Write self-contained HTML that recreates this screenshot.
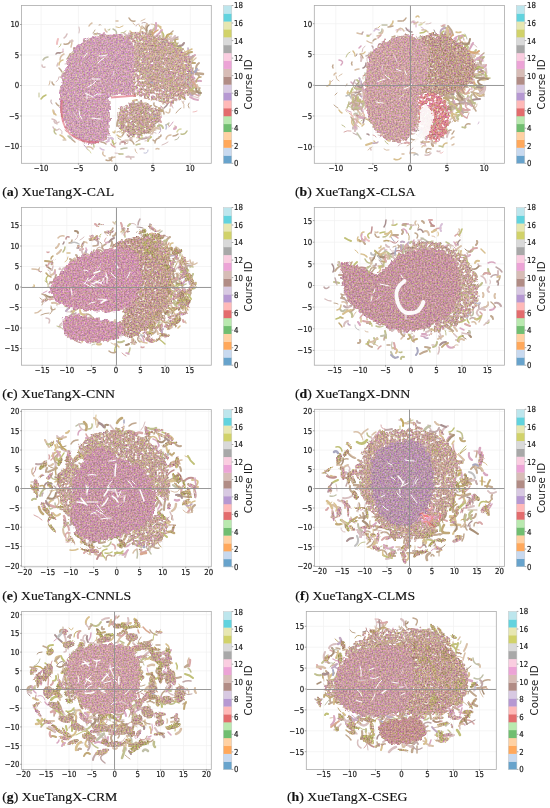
<!DOCTYPE html><html><head><meta charset="utf-8"><title>t-SNE XueTangX</title><style>html,body{margin:0;padding:0;background:#fff;width:550px;height:808px;overflow:hidden}svg{display:block}.t{font-family:"DejaVu Sans","Liberation Sans",sans-serif;font-size:7px;fill:#1a1a1a;stroke:#1a1a1a;stroke-width:0.18px}.cl{font-family:"DejaVu Sans","Liberation Sans",sans-serif;font-size:10.3px;fill:#1a1a1a}.cap{font-family:"Liberation Serif","DejaVu Serif",serif;font-size:13.2px;fill:#111;stroke:#111;stroke-width:0.15px}</style></head><body>
<svg width="550" height="808" viewBox="0 0 550 808">
<defs><filter id="dsp" filterUnits="userSpaceOnUse" x="0" y="0" width="550" height="808"><feTurbulence type="fractalNoise" baseFrequency="0.3" numOctaves="2" seed="5" result="dn"/><feDisplacementMap in="SourceGraphic" in2="dn" scale="5" xChannelSelector="R" yChannelSelector="G" result="d"/><feGaussianBlur in="d" stdDeviation="0.4"/></filter><filter id="tx" color-interpolation-filters="sRGB" filterUnits="userSpaceOnUse" x="0" y="0" width="550" height="808">
<feTurbulence type="fractalNoise" baseFrequency="0.22" numOctaves="2" seed="104" result="dn"/>
<feDisplacementMap in="SourceGraphic" in2="dn" scale="7" xChannelSelector="R" yChannelSelector="G" result="shp"/>
<feTurbulence type="fractalNoise" baseFrequency="0.618" numOctaves="2" seed="4" result="n"/>
<feColorMatrix in="n" type="matrix" values="0.9 0.2 0.3 0 -0.2 0.9 0.5 -0.5 0 0.05 0.9 -0.6 0.5 0 0.1 0 0 0 0 1" result="no"/>
<feColorMatrix in="shp" type="matrix" values="1 0 0 0 0 0 1 0 0 0 0 0 1 0 0 0 0 0 0 1" result="shpO"/>
<feComposite in="shpO" in2="no" operator="arithmetic" k1="0" k2="1" k3="0.45" k4="-0.225" result="m"/>
<feTurbulence type="fractalNoise" baseFrequency="0.5373" numOctaves="1" seed="54" result="n2"/>
<feComponentTransfer in="n2" result="msk"><feFuncA type="linear" slope="6" intercept="-0.5"/></feComponentTransfer>
<feComposite in="m" in2="msk" operator="in" result="m2"/>
<feComposite in="m2" in2="shp" operator="in" result="m3"/>
<feGaussianBlur in="m3" stdDeviation="0.3"/>
</filter><filter id="tx2" color-interpolation-filters="sRGB" filterUnits="userSpaceOnUse" x="0" y="0" width="550" height="808">
<feTurbulence type="fractalNoise" baseFrequency="0.22" numOctaves="2" seed="109" result="dn"/>
<feDisplacementMap in="SourceGraphic" in2="dn" scale="7" xChannelSelector="R" yChannelSelector="G" result="shp"/>
<feTurbulence type="fractalNoise" baseFrequency="0.618" numOctaves="2" seed="9" result="n"/>
<feColorMatrix in="n" type="matrix" values="0.9 0.2 0.3 0 -0.2 0.9 0.5 -0.5 0 0.05 0.9 -0.6 0.5 0 0.1 0 0 0 0 1" result="no"/>
<feColorMatrix in="shp" type="matrix" values="1 0 0 0 0 0 1 0 0 0 0 0 1 0 0 0 0 0 0 1" result="shpO"/>
<feComposite in="shpO" in2="no" operator="arithmetic" k1="0" k2="1" k3="0.5" k4="-0.25" result="m"/>
<feTurbulence type="fractalNoise" baseFrequency="0.4142" numOctaves="1" seed="59" result="n2"/>
<feComponentTransfer in="n2" result="msk"><feFuncA type="linear" slope="6" intercept="-1.9"/></feComponentTransfer>
<feComposite in="m" in2="msk" operator="in" result="m2"/>
<feComposite in="m2" in2="shp" operator="in" result="m3"/>
<feGaussianBlur in="m3" stdDeviation="0.3"/>
</filter><filter id="tx4" color-interpolation-filters="sRGB" filterUnits="userSpaceOnUse" x="0" y="0" width="550" height="808">
<feTurbulence type="fractalNoise" baseFrequency="0.22" numOctaves="2" seed="117" result="dn"/>
<feDisplacementMap in="SourceGraphic" in2="dn" scale="7" xChannelSelector="R" yChannelSelector="G" result="shp"/>
<feTurbulence type="fractalNoise" baseFrequency="0.618" numOctaves="2" seed="17" result="n"/>
<feColorMatrix in="n" type="matrix" values="0.9 0.2 0.3 0 -0.2 0.9 0.5 -0.5 0 0.05 0.9 -0.6 0.5 0 0.1 0 0 0 0 1" result="no"/>
<feColorMatrix in="shp" type="matrix" values="1 0 0 0 0 0 1 0 0 0 0 0 1 0 0 0 0 0 0 1" result="shpO"/>
<feComposite in="shpO" in2="no" operator="arithmetic" k1="0" k2="1" k3="0.55" k4="-0.275" result="m"/>
<feTurbulence type="fractalNoise" baseFrequency="0.4142" numOctaves="1" seed="67" result="n2"/>
<feComponentTransfer in="n2" result="msk"><feFuncA type="linear" slope="6" intercept="-1.35"/></feComponentTransfer>
<feComposite in="m" in2="msk" operator="in" result="m2"/>
<feComposite in="m2" in2="shp" operator="in" result="m3"/>
<feGaussianBlur in="m3" stdDeviation="0.3"/>
</filter><filter id="tx3" color-interpolation-filters="sRGB" filterUnits="userSpaceOnUse" x="0" y="0" width="550" height="808">
<feTurbulence type="fractalNoise" baseFrequency="0.3" numOctaves="2" seed="113" result="dn"/>
<feDisplacementMap in="SourceGraphic" in2="dn" scale="2.5" xChannelSelector="R" yChannelSelector="G" result="shp"/>
<feTurbulence type="fractalNoise" baseFrequency="0.618" numOctaves="2" seed="13" result="n"/>
<feColorMatrix in="n" type="matrix" values="0.9 0.2 0.3 0 -0.2 0.9 0.5 -0.5 0 0.05 0.9 -0.6 0.5 0 0.1 0 0 0 0 1" result="no"/>
<feColorMatrix in="shp" type="matrix" values="1 0 0 0 0 0 1 0 0 0 0 0 1 0 0 0 0 0 0 1" result="shpO"/>
<feComposite in="shpO" in2="no" operator="arithmetic" k1="0" k2="1" k3="0.5" k4="-0.25" result="m"/>
<feTurbulence type="fractalNoise" baseFrequency="0.4142" numOctaves="1" seed="63" result="n2"/>
<feComponentTransfer in="n2" result="msk"><feFuncA type="linear" slope="6" intercept="-1.0"/></feComponentTransfer>
<feComposite in="m" in2="msk" operator="in" result="m2"/>
<feComposite in="m2" in2="shp" operator="in" result="m3"/>
<feGaussianBlur in="m3" stdDeviation="0.3"/>
</filter></defs>
<line x1="41.1" y1="5.5" x2="41.1" y2="163.3" stroke="#f0f0f0" stroke-width="0.7"/>
<line x1="78.4" y1="5.5" x2="78.4" y2="163.3" stroke="#f0f0f0" stroke-width="0.7"/>
<line x1="115.7" y1="5.5" x2="115.7" y2="163.3" stroke="#f0f0f0" stroke-width="0.7"/>
<line x1="153.0" y1="5.5" x2="153.0" y2="163.3" stroke="#f0f0f0" stroke-width="0.7"/>
<line x1="190.3" y1="5.5" x2="190.3" y2="163.3" stroke="#f0f0f0" stroke-width="0.7"/>
<line x1="21.5" y1="146.5" x2="211.3" y2="146.5" stroke="#f0f0f0" stroke-width="0.7"/>
<line x1="21.5" y1="116.0" x2="211.3" y2="116.0" stroke="#f0f0f0" stroke-width="0.7"/>
<line x1="21.5" y1="85.5" x2="211.3" y2="85.5" stroke="#f0f0f0" stroke-width="0.7"/>
<line x1="21.5" y1="55.0" x2="211.3" y2="55.0" stroke="#f0f0f0" stroke-width="0.7"/>
<line x1="21.5" y1="24.5" x2="211.3" y2="24.5" stroke="#f0f0f0" stroke-width="0.7"/>
<path stroke="#d8c0a8" stroke-width="1.5" stroke-linecap="round" fill="none" d="M171 135q-4 0 -5 4M132 138q-1 -1 -2 0M149 37q1 -2 3 -1M93 149q-2 -3 -6 -2M105 29q0 2 2 3M60 60q0 -4 4 -6M86 48q-1 -5 5 -5M160 129q-2 0 -4 -1M177 68q2 0 4 -1M105 156q-3 -1 -2 -4M168 48q4 -1 7 0M151 123q0 1 0 3M69 97q0 -1 -2 -1M135 47q1 1 3 0M159 149q-2 -1 -3 0M163 92q5 0 3 4M170 109q0 6 -4 3M116 21q1 0 2 0M73 75q1 -1 1 -2M101 138q-3 -2 -1 -5M161 66q2 0 3 3M85 124q0 -2 -1 -3M69 79q2 -3 5 -4M84 130q-3 -1 -6 1M94 124q-3 -2 -6 -3M112 161q-2 -1 -3 -3M115 157q-3 1 -6 1M89 26q1 -2 3 -3M162 102q1 1 1 2M161 114q-3 0 -4 3M175 126q1 2 -1 2M71 47q1 -3 1 -7"/><path stroke="#c0a890" stroke-width="1.0" stroke-linecap="round" fill="none" d="M156 110q-1 3 2 5M93 33q1 -1 2 -3M170 76q1 3 3 6M163 74q0 3 2 5M128 143q-2 2 -3 -1M99 25q2 -1 2 0M66 140q-2 0 -3 0M143 46q1 1 3 0M189 103q-2 2 0 5M188 64q4 5 -3 5M68 73q2 -1 3 -4M116 143q-3 2 -4 -1M153 128q-1 2 -3 2M142 139q-3 1 -6 3M161 106q4 3 1 6M98 137q-2 0 -4 1M120 132q-1 -1 -3 0M176 98q-1 2 0 3M92 40q2 -2 4 -1M107 135q-2 2 -3 4M70 54q3 -1 4 -4M121 140q-2 -1 -3 -2M186 53q1 3 5 4M168 40q3 -2 6 0M90 134q-1 6 -6 1M163 96q0 2 0 4M181 108q-3 2 -5 5M75 51q0 -1 2 0M168 124q1 1 1 2M80 57q1 0 2 -1M132 131q-1 1 -3 0M57 53q3 0 6 -1"/><path stroke="#d8c0c0" stroke-width="1.5" stroke-linecap="round" fill="none" d="M134 157q-4 0 -7 0M132 140q-1 -1 -2 -2M193 84q0 2 1 2M138 37q3 1 5 1M65 88q0 -2 -2 -3M70 123q0 -2 0 -4M168 88q-2 1 -3 3M87 121q0 -2 -2 -1M143 36q1 2 3 1M135 132q-3 0 -6 2M68 91q2 -1 0 -3M158 110q1 3 -2 4M64 38q2 -1 3 -4M126 37q3 -1 3 -4M45 67q-3 1 -3 -2M59 129q-4 3 -6 -2M88 129q0 -1 -1 -2M168 85q3 2 1 5M57 124q0 -4 -5 -5M163 110q-2 2 -4 3M63 80q0 -3 -3 -3M81 123q-1 0 -2 -1M144 149q-2 -1 -4 0M74 114q-3 -1 -4 -4M70 41q1 0 3 0M131 159q-1 -4 -5 -2M83 129q-3 -1 -7 -2M168 55q1 2 0 4M57 66q0 -1 1 -3M65 103q-2 1 -3 -1M128 141q-3 0 -5 0M59 122q-4 3 -5 -1M194 74q-3 3 1 5M55 114q-1 -1 -1 -3M93 132q-3 -1 -4 1"/><path stroke="#d8c090" stroke-width="1.5" stroke-linecap="round" fill="none" d="M167 95q-1 3 0 6M139 47q1 3 4 4M65 139q-2 -3 -5 -4M93 51q3 0 5 1M180 73q0 2 0 4M88 137q-1 -1 -1 -2M138 35q1 -4 5 -3M130 31q1 1 3 3M116 39q3 -2 5 -2M121 137q-2 0 -4 -2M158 26q2 0 3 1M59 65q0 -4 4 -5M158 25q2 2 3 4M148 124q-3 -1 -7 1M54 114q-1 -2 -1 -4M130 44q1 6 6 3M56 115q-1 -1 -2 -2M128 131q-3 0 -6 2M115 131q0 3 -2 1M146 35q1 4 -2 6"/><path stroke="#c0c0a8" stroke-width="1.5" stroke-linecap="round" fill="none" d="M83 126q-3 0 -3 -3M169 123q-1 1 -3 2M163 95q-3 4 0 7M172 81q4 -1 4 3M113 29q5 2 3 6M127 148q-3 0 -6 1M78 112q-1 -1 -1 -3M138 129q-5 -1 -4 4M157 120q-2 -4 -5 -1M43 60q2 -3 5 -3"/><path stroke="#d8c0a8" stroke-width="1.0" stroke-linecap="round" fill="none" d="M182 101q3 3 2 7M183 49q2 1 2 3M161 30q-1 1 0 2M151 24q2 0 4 1M139 41q3 -2 6 0M137 153q-2 -1 -2 -4M167 79q-2 1 -1 2M68 72q1 -2 1 -3M78 117q-1 -1 0 -2M136 44q2 1 3 2M74 62q1 -3 0 -5M133 23q0 1 2 2M141 21q2 -1 4 -2M67 119q-2 -1 -5 -1M49 85q1 -2 1 -4M80 76q-1 -3 -3 -6M131 140q-3 0 -6 0"/><path stroke="#d8c0c0" stroke-width="2.0" stroke-linecap="round" fill="none" d="M124 33q3 4 7 2M123 142q-2 -1 -3 2M170 46q1 3 3 4"/><path stroke="#c0c078" stroke-width="1.5" stroke-linecap="round" fill="none" d="M114 145q-1 -3 -2 -6M174 83q-1 1 -1 2M129 41q-2 4 3 4M41 99q2 -3 5 -4M132 130q-1 0 -2 1M143 138q-2 0 -4 1"/><path stroke="#d8a8c0" stroke-width="1.5" stroke-linecap="round" fill="none" d="M166 95q2 0 2 2M109 141q-2 1 -3 1M84 54q-4 -2 -1 -5M161 107q-1 3 -3 6M147 122q-2 1 -2 3M69 126q0 -3 -2 -5M103 38q2 2 5 0"/><path stroke="#d8c0c0" stroke-width="1.0" stroke-linecap="round" fill="none" d="M120 154q-2 -1 -5 -1M136 26q0 -2 3 -2M151 46q1 1 3 1M79 70q1 -1 2 -3M158 126q-3 1 -2 4M168 142q-3 2 -6 3M87 54q4 0 4 -4M184 101q0 1 -1 2M146 137q-3 2 -7 3M169 96q-1 2 -3 4M168 101q4 1 2 5M171 84q0 2 -2 3M62 134q1 -3 -2 -5M171 102q1 4 2 6M77 62q3 -2 6 -1M135 134q0 -7 -6 -4M108 40q3 3 5 5M56 82q3 -2 3 -5M81 130q0 -2 -1 -3M65 64q2 0 4 -1M195 83q3 3 2 6M79 33q1 -3 0 -6"/><path stroke="#c0a8a8" stroke-width="1.0" stroke-linecap="round" fill="none" d="M105 38q2 0 4 -1M142 23q4 -2 6 2M52 104q-2 -2 -1 -4M113 40q1 0 2 -1M156 122q-1 3 -4 5"/><path stroke="#d8d8a8" stroke-width="1.5" stroke-linecap="round" fill="none" d="M181 129q-3 0 -4 3M94 38q4 1 7 -1M73 76q2 -1 1 -3M97 140q0 -3 0 -6M78 107q0 -1 0 -3"/><path stroke="#c0a890" stroke-width="1.5" stroke-linecap="round" fill="none" d="M161 135q0 2 -2 2M135 37q2 -1 3 0M160 109q4 1 4 5M159 138q-4 1 -4 5M134 144q-1 -3 -4 -4M155 141q-1 0 -2 -1M71 107q-2 -2 -4 -1M76 51q2 0 4 -1M54 85q-2 -1 -2 -3M80 60q2 -1 4 -3M71 55q3 0 5 -2M65 117q-4 -1 -3 -5M153 53q3 2 3 6M112 157q-1 5 -6 3M129 18q2 4 6 3M180 62q3 0 3 4M84 123q0 -3 -1 -5M87 133q-1 0 -1 -1M67 59q2 -2 3 -5M178 134q-2 2 -5 2M75 142q-3 -2 -5 -5M62 72q-1 -2 -3 -4M67 89q-4 0 -5 -3M132 135q-1 -4 -5 -4M164 44q2 2 2 5M88 57q0 -2 1 -2M99 132q-1 0 -3 1M74 66q4 0 5 -4M59 106q-2 -1 -3 -3M177 68q2 2 4 0M151 46q1 3 -2 3M147 54q3 -3 6 0M106 144q-2 -2 -5 -2M64 44q4 1 6 -2"/><path stroke="#a89090" stroke-width="1.5" stroke-linecap="round" fill="none" d="M168 103q-1 3 -4 5M56 54q1 -2 4 -1"/><path stroke="#d8a8c0" stroke-width="1.0" stroke-linecap="round" fill="none" d="M117 36q1 1 2 3M109 38q3 2 0 5M156 40q1 1 2 2M173 122q-2 3 -4 5M63 52q0 -1 0 -3"/><path stroke="#c0a8a8" stroke-width="1.5" stroke-linecap="round" fill="none" d="M75 69q3 -1 6 -1M179 77q0 3 -2 4M147 40q0 2 2 4M94 34q3 -1 6 0M87 138q-4 -1 -6 -4M84 118q2 -2 4 -5M171 64q3 2 6 4M134 34q1 0 2 0M180 82q-2 6 4 4M152 57q2 2 3 5"/><path stroke="#c0c090" stroke-width="1.5" stroke-linecap="round" fill="none" d="M140 144q-2 0 -4 1M113 40q2 -2 3 0M163 36q0 3 2 5M157 60q-1 3 1 6M198 88q3 3 2 7M130 39q2 -2 3 -3M155 26q1 1 2 0M56 134q-3 -2 -1 -5M94 147q0 -3 -2 -5M164 81q0 2 0 4M82 54q0 -2 2 -3M117 40q1 1 1 -1M174 38q1 3 2 5M164 92q2 0 2 2M70 138q-1 -1 -2 -2M187 131q-2 4 -6 3M123 154q-2 0 -4 0M165 68q3 2 6 5"/><path stroke="#c0a8c0" stroke-width="1.0" stroke-linecap="round" fill="none" d="M88 150q-2 -3 -4 -5"/><path stroke="#c0c078" stroke-width="1.0" stroke-linecap="round" fill="none" d="M96 130q-5 -2 -2 -5M192 68q0 1 1 2M62 89q0 -2 1 -3M79 107q-1 -2 0 -5"/><path stroke="#c0c090" stroke-width="1.0" stroke-linecap="round" fill="none" d="M39 97q0 -2 0 -4M121 33q3 0 5 -2M157 64q1 1 2 2M99 129q-2 0 -2 -2M75 87q-1 -2 -2 -3M108 30q2 1 2 -1M180 71q1 2 0 3M74 88q1 -3 2 -6M137 133q-2 -1 -4 1M94 33q1 2 3 2M148 54q2 -1 3 1M59 47q2 -1 2 -3M163 81q1 1 2 2M157 63q1 2 2 4"/><path stroke="#c0a8c0" stroke-width="1.5" stroke-linecap="round" fill="none" d="M188 48q0 4 1 7M199 92q-1 1 0 3M143 127q-3 1 -6 3M120 44q1 -2 2 -3"/><path stroke="#d8c090" stroke-width="1.0" stroke-linecap="round" fill="none" d="M95 35q1 -1 2 -2M123 133q-1 -1 -3 -2M166 72q-2 2 -4 4M140 129q-3 1 -5 0M153 56q-2 2 -1 5M116 27q3 2 7 -1M146 52q1 0 2 1M139 25q1 3 4 4"/><path stroke="#d8c0d8" stroke-width="1.5" stroke-linecap="round" fill="none" d="M104 150q-2 0 -4 -2M99 135q-2 -1 -2 -4M169 94q-1 2 -3 3"/><path stroke="#c09090" stroke-width="1.0" stroke-linecap="round" fill="none" d="M164 62q-5 2 -2 6M154 122q0 1 -2 1"/><path stroke="#c09090" stroke-width="1.5" stroke-linecap="round" fill="none" d="M165 74q2 3 -2 5M125 144q0 -3 -3 -2M135 133q-3 0 -3 -3M159 48q1 2 3 3"/><path stroke="#d8a8c0" stroke-width="2.0" stroke-linecap="round" fill="none" d="M176 127q0 2 -2 2"/><path stroke="#d8c0a8" stroke-width="2.0" stroke-linecap="round" fill="none" d="M172 82q2 3 5 4M83 112q-2 0 -3 -1M67 112q-3 -1 -1 -4"/><path stroke="#c0c0a8" stroke-width="1.0" stroke-linecap="round" fill="none" d="M151 46q1 2 3 1M80 108q-1 -2 -1 -3M179 137q-1 3 -4 3M176 86q1 4 -1 7"/><path stroke="#f0c0c0" stroke-width="1.0" stroke-linecap="round" fill="none" d="M105 37q3 -2 6 -2M197 111q-2 1 -4 1"/><path stroke="#f0c0c0" stroke-width="2.0" stroke-linecap="round" fill="none" d="M57 44q0 -2 1 -5"/><path stroke="#d8a8a8" stroke-width="1.5" stroke-linecap="round" fill="none" d="M124 37q-1 2 -2 4M115 147q-3 -1 -4 -3M174 100q-4 2 -3 6"/><path stroke="#a89090" stroke-width="1.0" stroke-linecap="round" fill="none" d="M161 116q-1 1 -2 2"/><path stroke="#c0c078" stroke-width="2.0" stroke-linecap="round" fill="none" d="M151 137q-3 1 -3 4"/><path stroke="#d8a8a8" stroke-width="1.0" stroke-linecap="round" fill="none" d="M67 132q-1 0 -2 -2"/><path stroke="#d8d8a8" stroke-width="1.0" stroke-linecap="round" fill="none" d="M61 77q1 -4 3 -6M91 153q-1 -3 -4 -4"/><path stroke="#c0c0d8" stroke-width="1.5" stroke-linecap="round" fill="none" d="M166 125q1 2 0 4"/><path stroke="#d8c0d8" stroke-width="1.0" stroke-linecap="round" fill="none" d="M67 64q2 0 2 -3"/><path stroke="#d8c0d8" stroke-width="2.0" stroke-linecap="round" fill="none" d="M113 139q-3 -3 -5 2"/><path stroke="#c0c0a8" stroke-width="2.0" stroke-linecap="round" fill="none" d="M150 59q1 -2 3 -4"/><path stroke="#c0c0c0" stroke-width="1.0" stroke-linecap="round" fill="none" d="M77 106q-1 -2 -1 -4"/><path stroke="#c0c0c0" stroke-width="1.5" stroke-linecap="round" fill="none" d="M72 139q-1 -2 -3 -3"/><path stroke="#c0a890" stroke-width="2.0" stroke-linecap="round" fill="none" d="M165 78q-3 1 -3 4"/><path stroke="#c0c0d8" stroke-width="1.0" stroke-linecap="round" fill="none" d="M148 150q0 4 -4 3"/><path stroke="#c0a890" stroke-width="2.0" stroke-linecap="round" fill="none" d="M170 61q3 -4 4 -9M196 72q2 2 3 4M180 51q1 -1 3 -2M151 80q4 -2 2 -7M153 83q2 1 3 3M166 62q3 1 8 2M145 78q6 0 11 1M196 69q0 -4 3 -6M153 79q1 3 3 4M170 89q3 -5 7 -3M187 74q3 2 5 5M190 86q1 6 7 6M146 54q2 -2 0 -5M147 59q5 -1 5 -6M167 83q5 2 10 4M188 95q2 -2 5 -1M169 70q-2 -6 4 -8M171 66q5 0 4 -5M158 60q2 -5 7 -5M158 56q0 -3 2 -5M139 52q0 -4 0 -8M140 72q2 -3 5 -1M176 58q3 -2 6 -3M137 69q0 -3 4 -4M156 60q0 -5 3 -10M160 79q4 -4 8 1"/><path stroke="#d8c0a8" stroke-width="2.0" stroke-linecap="round" fill="none" d="M187 66q2 0 4 -1M146 30q-1 -3 1 -6M156 40q3 -1 2 -4M144 79q3 -4 7 -8M138 52q-2 -5 0 -9M162 55q2 -1 4 -2M147 49q1 -3 1 -7M152 78q3 0 6 0M197 85q0 2 2 3M157 58q0 -3 3 -3M150 40q-2 -3 -1 -6"/><path stroke="#d8c0c0" stroke-width="1.0" stroke-linecap="round" fill="none" d="M191 97q4 -1 8 1M168 44q3 0 4 -2"/><path stroke="#d8a8a8" stroke-width="2.0" stroke-linecap="round" fill="none" d="M147 57q0 -2 0 -4M146 67q2 -2 5 -2M150 74q4 0 8 -1M165 85q2 -1 4 -2M142 74q-4 -6 3 -6M154 56q2 -1 4 -3M188 75q2 -1 5 -1M142 70q6 -1 9 -5M150 55q2 -1 4 -3"/><path stroke="#d8a8c0" stroke-width="2.5" stroke-linecap="round" fill="none" d="M176 60q9 3 5 -5M156 62q3 -2 6 -4M191 75q0 2 3 3"/><path stroke="#d8a8c0" stroke-width="1.5" stroke-linecap="round" fill="none" d="M150 59q3 2 6 0M187 93q3 1 5 3M174 72q3 -4 7 -6M171 64q4 1 8 -2M173 56q5 0 5 -5M180 80q4 4 9 1M169 65q-3 -6 2 -10M163 74q1 5 6 3M136 64q0 -2 1 -4M154 59q-2 -3 -3 -6M146 64q6 0 6 -7"/><path stroke="#c0a8c0" stroke-width="1.5" stroke-linecap="round" fill="none" d="M190 93q0 3 3 2M147 74q4 4 10 3"/><path stroke="#d8a8a8" stroke-width="1.5" stroke-linecap="round" fill="none" d="M145 43q3 -4 2 -9M147 43q-1 -3 0 -6M177 54q-1 -5 3 -9M151 48q0 -2 -1 -5M138 52q-1 -4 0 -7M133 59q3 -5 8 -7M154 78q2 -5 8 -7M148 57q4 -2 5 -7M169 54q1 -5 5 -9M190 92q5 2 9 4"/><path stroke="#d8c0a8" stroke-width="1.5" stroke-linecap="round" fill="none" d="M141 54q2 1 4 -1M148 49q4 -4 9 -1M158 75q4 0 7 -1M164 54q1 -10 9 -4M163 41q-1 -5 -1 -10M140 35q0 -5 2 -9M152 31q2 -3 5 -6M173 60q2 -3 4 -1M155 43q3 -2 6 -4M192 63q1 -3 4 -5M188 82q2 4 6 5M167 48q2 -5 5 -9M177 90q6 -2 10 3"/><path stroke="#c0a890" stroke-width="1.5" stroke-linecap="round" fill="none" d="M158 41q0 -3 2 -5M160 85q2 2 4 1M144 49q2 -4 7 -6M169 66q3 -2 3 -5M186 75q6 -2 7 -7M166 39q3 -5 7 -8M192 94q6 -1 8 -6M191 92q3 2 6 0M148 66q5 -1 9 -1M173 50q1 -4 5 -7M180 82q3 2 5 1M165 54q4 -2 9 -4M187 61q3 -1 5 -2M151 54q0 -2 1 -5M158 57q-5 -7 4 -10M160 53q4 0 5 -3M152 73q5 0 8 -4M188 82q4 1 5 6M161 72q1 5 6 3M170 52q3 -1 5 -2M144 45q1 -4 0 -7M160 54q1 -4 5 -6M171 81q6 0 9 -4M170 52q4 1 7 4M138 71q4 -2 4 -6M172 72q3 -1 6 0M137 58q3 -2 4 -5M160 82q8 -1 7 7M147 33q-1 -4 -4 -6M178 74q5 2 6 7M165 79q2 -6 8 -6M165 44q2 -4 2 -8"/><path stroke="#c0c090" stroke-width="1.5" stroke-linecap="round" fill="none" d="M153 30q4 -1 2 -5M182 57q4 -1 6 2M141 48q2 -4 4 -8M154 86q3 1 6 3M143 59q-1 -4 1 -6M160 81q3 4 8 5M181 64q3 2 6 1M177 66q-2 -4 -1 -9M168 61q2 -3 6 -1"/><path stroke="#c0c090" stroke-width="2.0" stroke-linecap="round" fill="none" d="M187 60q2 3 5 1M146 47q0 -6 7 -6M167 51q1 -2 3 -3M142 48q3 -2 7 -2M185 85q3 -1 5 2M190 83q4 -2 8 -2M133 61q2 -2 5 -4M153 44q3 -4 7 -6"/><path stroke="#d8c090" stroke-width="2.0" stroke-linecap="round" fill="none" d="M153 69q5 -1 5 4M181 74q6 -6 -2 -8M164 57q3 -2 2 -5M149 63q6 -4 0 -9M143 66q1 -3 2 -6M166 88q3 0 5 3M180 88q-3 7 4 5M150 77q3 -1 5 1M166 75q4 -4 10 -3M146 50q-1 -4 3 -7"/><path stroke="#c0c078" stroke-width="2.5" stroke-linecap="round" fill="none" d="M136 66q1 -2 4 -2M172 77q5 -2 3 -8"/><path stroke="#d8a878" stroke-width="2.0" stroke-linecap="round" fill="none" d="M177 56q3 -1 6 -2"/><path stroke="#c0a860" stroke-width="2.0" stroke-linecap="round" fill="none" d="M183 74q5 -1 9 2"/><path stroke="#d8c090" stroke-width="1.5" stroke-linecap="round" fill="none" d="M143 41q1 -6 8 -6M153 82q4 3 8 5M179 59q2 -4 6 -5M143 83q5 0 8 3M150 32q3 0 4 -2M150 80q3 -1 6 -1M146 64q0 -3 3 -5M156 44q1 -2 3 -4M156 54q5 2 7 -2M166 86q3 2 5 -1M172 44q0 -5 -4 -8M177 88q4 1 6 5M170 86q2 -3 2 -7M190 62q2 -3 5 -7M183 53q5 -2 9 -4"/><path stroke="#c0a878" stroke-width="1.0" stroke-linecap="round" fill="none" d="M173 72q5 0 9 2M171 76q2 2 5 1"/><path stroke="#a89090" stroke-width="2.0" stroke-linecap="round" fill="none" d="M144 64q-2 -6 2 -10M177 46q5 1 7 -3M150 54q2 -2 1 -5"/><path stroke="#a89078" stroke-width="1.5" stroke-linecap="round" fill="none" d="M159 65q2 -2 2 -5M179 94q2 1 4 -1M168 73q3 1 6 1M135 67q2 -5 2 -10M158 77q2 0 4 0M138 53q0 -6 3 -10M147 31q-1 -4 2 -6M165 61q0 -3 -2 -6M142 53q1 -3 4 -4"/><path stroke="#d8c090" stroke-width="1.0" stroke-linecap="round" fill="none" d="M173 89q0 3 1 5"/><path stroke="#d8a8c0" stroke-width="2.0" stroke-linecap="round" fill="none" d="M139 68q1 -4 -2 -8M170 45q3 1 5 -2M190 97q4 3 8 3M184 78q6 -2 7 -9M190 85q4 -5 11 -4M188 58q4 -1 7 -3M156 79q4 3 8 0M149 35q2 -2 2 -5M155 37q4 -3 7 -7M161 77q5 1 8 -3M166 71q5 3 9 -1M154 84q5 -2 10 -4M146 59q3 -3 1 -7M154 33q3 -4 2 -10M152 71q2 4 7 5"/><path stroke="#a89078" stroke-width="2.0" stroke-linecap="round" fill="none" d="M155 58q-1 -4 -1 -9M138 71q3 -2 5 -4M154 58q3 -1 3 -4M158 73q3 1 5 -1M178 87q5 -1 9 -4M144 83q3 0 6 0M157 61q3 -2 7 -3M162 45q4 -3 5 -6M196 88q0 5 5 5M146 70q5 -5 11 -3"/><path stroke="#c0a8a8" stroke-width="1.5" stroke-linecap="round" fill="none" d="M149 83q5 -1 10 1M145 46q4 -3 8 -7M137 67q-6 -4 1 -6M139 66q7 -3 5 -9M139 54q1 -2 4 -4M171 41q3 -3 7 -4M189 81q3 0 5 3"/><path stroke="#a890c0" stroke-width="2.0" stroke-linecap="round" fill="none" d="M188 74q4 -3 8 -2"/><path stroke="#d8c0c0" stroke-width="1.5" stroke-linecap="round" fill="none" d="M182 58q3 2 6 3M160 41q3 2 6 -1M152 75q3 -2 6 -5M172 42q-2 -3 -1 -6M155 72q5 1 6 -3M192 76q1 -5 7 -6M162 70q3 -1 6 -1M146 73q3 -1 6 -3M177 77q3 1 6 -1M148 43q2 -1 4 -3M146 72q1 -3 1 -6M155 68q4 -3 8 -5M146 66q-1 -8 8 -7M172 60q7 0 9 -7"/><path stroke="#c0a878" stroke-width="2.0" stroke-linecap="round" fill="none" d="M172 87q4 4 9 6M179 91q1 5 6 8M175 62q4 1 5 -4M157 48q-3 -3 -4 -8M175 83q4 2 8 4M149 82q3 6 10 4M156 42q-3 -4 -4 -10M158 66q5 2 9 5M190 63q3 0 5 0M186 55q2 -3 6 -3M146 72q4 -1 5 -5M151 79q2 -3 5 -2M170 81q5 0 10 -3M173 90q4 1 8 0M167 80q3 -2 6 -2M153 69q5 0 10 -2"/><path stroke="#d8a890" stroke-width="1.5" stroke-linecap="round" fill="none" d="M175 73q-1 -6 5 -8"/><path stroke="#c0c090" stroke-width="2.5" stroke-linecap="round" fill="none" d="M166 84q3 1 5 3M166 92q4 -5 10 -1M142 79q4 -3 5 -8"/><path stroke="#d8c0c0" stroke-width="2.0" stroke-linecap="round" fill="none" d="M172 52q3 1 4 -2M155 64q0 -5 2 -9M172 39q2 -1 3 -3M161 46q3 -1 5 -2M176 77q5 -1 7 3M165 41q1 -2 4 -2M161 73q2 1 5 2M184 69q6 -2 7 -8M176 71q1 -5 4 -8"/><path stroke="#a8a8c0" stroke-width="2.0" stroke-linecap="round" fill="none" d="M190 74q5 -1 7 -5M148 81q4 2 8 2"/><path stroke="#c0a860" stroke-width="1.5" stroke-linecap="round" fill="none" d="M166 40q-1 -7 6 -6"/><path stroke="#a8a8c0" stroke-width="1.5" stroke-linecap="round" fill="none" d="M161 85q4 3 4 7"/><path stroke="#d8a878" stroke-width="1.5" stroke-linecap="round" fill="none" d="M148 80q4 -1 8 0M152 34q3 -2 6 -4"/><path stroke="#c0a878" stroke-width="1.5" stroke-linecap="round" fill="none" d="M147 41q-2 -3 1 -5M160 44q4 -2 5 -6M157 52q4 -2 10 -3M185 92q4 -2 8 -1M164 47q-1 -2 0 -4M176 44q-3 -5 2 -5M183 88q5 0 10 -3M196 82q1 -5 5 -5M143 84q4 1 9 1"/><path stroke="#c09090" stroke-width="2.0" stroke-linecap="round" fill="none" d="M182 60q6 -1 3 -6M181 82q3 -4 5 0"/><path stroke="#c0c078" stroke-width="2.0" stroke-linecap="round" fill="none" d="M162 54q2 -5 3 -9M177 51q0 -4 4 -3M172 52q6 -3 2 -8M167 80q4 -1 5 3M155 62q1 -5 6 -5M156 81q5 1 9 -2M169 44q5 -3 8 1"/><path stroke="#c0c078" stroke-width="1.5" stroke-linecap="round" fill="none" d="M171 61q3 1 6 2M188 89q4 2 7 -2M145 78q3 0 6 -2M171 67q3 0 6 -2M155 86q1 4 5 2M163 39q2 -4 -1 -7M158 75q2 1 4 0M161 58q4 -2 3 -6M140 44q-3 -2 -3 -5M169 70q2 -3 6 -1"/><path stroke="#d8c0c0" stroke-width="2.5" stroke-linecap="round" fill="none" d="M160 77q4 -1 8 -2"/><path stroke="#a89090" stroke-width="1.5" stroke-linecap="round" fill="none" d="M163 73q2 -3 5 -5M155 71q4 -3 5 -8M137 52q3 -2 1 -5"/><path stroke="#c0a8a8" stroke-width="2.0" stroke-linecap="round" fill="none" d="M188 62q2 -3 5 -6M163 87q4 1 7 5M154 65q0 -5 4 -7"/><path stroke="#c0a8a8" stroke-width="2.5" stroke-linecap="round" fill="none" d="M155 53q3 2 6 1"/><path stroke="#a8a860" stroke-width="1.5" stroke-linecap="round" fill="none" d="M157 85q5 2 9 -1"/><path stroke="#a89078" stroke-width="1.0" stroke-linecap="round" fill="none" d="M159 47q3 -2 5 1M140 49q7 0 4 -6"/><path stroke="#d8a8a8" stroke-width="1.0" stroke-linecap="round" fill="none" d="M156 51q-1 -3 1 -6M161 51q3 2 3 -2M141 40q2 -4 6 -5"/><path stroke="#a89090" stroke-width="2.5" stroke-linecap="round" fill="none" d="M163 46q1 -2 0 -5"/><path stroke="#a89078" stroke-width="2.5" stroke-linecap="round" fill="none" d="M180 67q4 1 5 4"/><path stroke="#c0c0c0" stroke-width="2.0" stroke-linecap="round" fill="none" d="M186 78q4 -3 6 2M181 81q7 -3 9 5"/><path stroke="#d8c0a8" stroke-width="1.0" stroke-linecap="round" fill="none" d="M168 88q2 8 8 2M154 66q0 -5 3 -8"/><path stroke="#c0c0c0" stroke-width="1.5" stroke-linecap="round" fill="none" d="M162 48q4 -3 5 -9"/><path stroke="#d8c090" stroke-width="2.5" stroke-linecap="round" fill="none" d="M174 65q6 3 11 0M176 65q4 3 10 2"/><path stroke="#c0a890" stroke-width="2.5" stroke-linecap="round" fill="none" d="M196 74q3 -1 7 0M147 37q3 -2 3 -6"/><path stroke="#d890a8" stroke-width="2.0" stroke-linecap="round" fill="none" d="M162 64q5 0 5 -5M177 92q2 2 5 1"/><path stroke="#a8a860" stroke-width="2.0" stroke-linecap="round" fill="none" d="M151 47q5 1 8 -4"/><path stroke="#d8a890" stroke-width="2.0" stroke-linecap="round" fill="none" d="M188 79q6 2 8 8"/><path stroke="#c0c090" stroke-width="1.0" stroke-linecap="round" fill="none" d="M143 37q2 -2 3 -4"/><path stroke="#c0a878" stroke-width="1.5" stroke-linecap="round" fill="none" d="M123 125q0 -3 0 -6M132 109q2 -2 5 -3M145 130q-3 1 -5 0M146 108q2 0 4 0M136 115q3 2 4 -1M132 113q0 -1 1 -3M132 110q2 -3 0 -5M135 112q4 0 5 -3"/><path stroke="#d8c0c0" stroke-width="1.5" stroke-linecap="round" fill="none" d="M159 124q1 2 0 4M137 122q0 -6 5 -4M149 137q-2 1 -3 0M125 124q0 -5 4 -6"/><path stroke="#c0c090" stroke-width="2.0" stroke-linecap="round" fill="none" d="M163 128q-1 -4 -5 -2M141 126q-3 -1 -6 -4M157 117q0 2 1 4M134 125q-3 0 -5 -2M142 116q3 1 4 3M146 107q2 4 7 4"/><path stroke="#c0a878" stroke-width="1.0" stroke-linecap="round" fill="none" d="M149 125q-3 -2 -6 2M128 130q2 -3 1 -6M129 111q4 -2 5 -5M138 123q1 -2 0 -4"/><path stroke="#d8a878" stroke-width="1.0" stroke-linecap="round" fill="none" d="M133 127q-3 -1 -5 -2"/><path stroke="#d8c090" stroke-width="1.5" stroke-linecap="round" fill="none" d="M155 116q1 3 4 4M131 111q0 -4 2 -8M130 125q-2 -3 -1 -6M142 107q0 4 3 2"/><path stroke="#c09090" stroke-width="2.0" stroke-linecap="round" fill="none" d="M134 131q-3 -2 -6 -4"/><path stroke="#c0a890" stroke-width="1.5" stroke-linecap="round" fill="none" d="M149 119q0 3 -1 5M139 108q3 1 4 4M125 118q-1 -1 -2 -3M144 130q-3 -2 -7 -4M154 103q-1 3 3 4M129 128q-1 2 -3 2M140 128q-4 -3 -8 0M122 136q4 -4 0 -7M149 133q-2 -1 -4 -2M144 122q-2 1 -4 1M155 130q-4 0 -8 0M137 111q3 1 6 1M155 126q-2 2 -4 1"/><path stroke="#c0a890" stroke-width="2.0" stroke-linecap="round" fill="none" d="M117 126q0 -3 1 -6M159 112q-1 4 -1 8M147 118q4 2 0 5M138 119q3 0 6 1M155 116q1 2 -1 3M140 105q1 1 3 0M133 120q4 0 6 -3M136 122q0 -4 -2 -7"/><path stroke="#c0c0a8" stroke-width="1.5" stroke-linecap="round" fill="none" d="M138 102q2 1 3 -1M129 122q1 -2 1 -4"/><path stroke="#a89078" stroke-width="1.0" stroke-linecap="round" fill="none" d="M159 121q-3 2 -6 5M131 112q2 -1 4 -2M147 121q0 4 -4 3"/><path stroke="#d8a8a8" stroke-width="2.0" stroke-linecap="round" fill="none" d="M144 115q1 2 1 4M158 115q0 4 3 7M153 113q-3 2 0 4M145 111q1 4 3 7"/><path stroke="#a8a860" stroke-width="1.5" stroke-linecap="round" fill="none" d="M133 126q0 -3 1 -5"/><path stroke="#a8a860" stroke-width="2.0" stroke-linecap="round" fill="none" d="M137 108q1 -3 3 -1"/><path stroke="#d8a8a8" stroke-width="1.5" stroke-linecap="round" fill="none" d="M119 118q2 -1 3 -4M149 109q2 0 3 1M137 117q1 -4 2 -8M131 112q-1 -3 -4 -5M157 112q2 2 2 4"/><path stroke="#d8a8c0" stroke-width="1.5" stroke-linecap="round" fill="none" d="M133 135q0 -2 -2 -3M144 132q-4 0 -8 -2M123 121q1 -4 4 -5M145 124q-4 -1 -8 -1M128 119q2 -3 2 -7M148 107q2 1 3 3M122 115q0 -3 2 -5"/><path stroke="#d8c0a8" stroke-width="1.0" stroke-linecap="round" fill="none" d="M148 116q2 1 3 1"/><path stroke="#c0a8a8" stroke-width="1.5" stroke-linecap="round" fill="none" d="M147 138q-3 1 -5 1M143 120q-1 1 -2 2"/><path stroke="#c0c078" stroke-width="2.0" stroke-linecap="round" fill="none" d="M139 114q4 -2 8 -1M122 128q0 -3 -2 -5M123 121q0 -2 0 -5"/><path stroke="#d8c0a8" stroke-width="1.5" stroke-linecap="round" fill="none" d="M152 126q3 4 0 8M158 128q-4 -1 -6 3M124 128q-3 -3 -1 -6M148 104q-3 1 -1 4M131 115q0 -4 2 -7"/><path stroke="#c0a890" stroke-width="1.0" stroke-linecap="round" fill="none" d="M133 125q-2 -2 -5 0M146 118q1 2 0 4M132 110q1 -2 2 -4"/><path stroke="#a89078" stroke-width="2.0" stroke-linecap="round" fill="none" d="M155 116q1 3 -2 3M151 131q-3 2 -7 1"/><path stroke="#c09090" stroke-width="1.5" stroke-linecap="round" fill="none" d="M142 111q3 -1 5 -4M127 113q3 1 5 -2"/><path stroke="#d8c090" stroke-width="1.0" stroke-linecap="round" fill="none" d="M131 127q-5 -1 -3 -5M149 128q-2 0 -3 0"/><path stroke="#c0a8a8" stroke-width="1.0" stroke-linecap="round" fill="none" d="M138 110q3 1 5 0"/><path stroke="#a89090" stroke-width="1.5" stroke-linecap="round" fill="none" d="M144 126q-4 0 -2 4M139 115q3 -2 6 -3"/><path stroke="#d8a8c0" stroke-width="1.0" stroke-linecap="round" fill="none" d="M131 130q-1 -2 -2 -5M142 135q-1 -5 -6 -5M133 117q0 -3 3 -5"/><path stroke="#d8c0a8" stroke-width="2.0" stroke-linecap="round" fill="none" d="M143 104q4 -2 5 2M153 127q-2 3 -3 6"/><path stroke="#d8c0c0" stroke-width="1.0" stroke-linecap="round" fill="none" d="M139 124q1 -1 1 -3M150 136q-1 5 -5 5M132 103q2 -1 3 -3M156 133q-4 -2 -6 3"/><path stroke="#d8c0c0" stroke-width="2.0" stroke-linecap="round" fill="none" d="M133 116q0 -4 4 -4"/><path stroke="#c0c078" stroke-width="1.5" stroke-linecap="round" fill="none" d="M139 108q1 2 3 3M148 126q-4 3 -7 0M145 120q0 2 -1 4M143 129q-4 3 -1 7"/><path stroke="#d8a8a8" stroke-width="1.0" stroke-linecap="round" fill="none" d="M161 117q-1 3 -2 5M137 119q3 1 4 -2M146 118q3 0 4 4M126 114q4 2 7 -1M136 126q-3 0 -5 -2"/><path stroke="#a8a8c0" stroke-width="1.5" stroke-linecap="round" fill="none" d="M150 115q3 1 6 1"/><path stroke="#c0c090" stroke-width="1.5" stroke-linecap="round" fill="none" d="M135 133q-1 -3 -4 -2"/><path stroke="#c0a8c0" stroke-width="1.0" stroke-linecap="round" fill="none" d="M160 127q2 4 -1 6"/><path stroke="#c0c090" stroke-width="1.0" stroke-linecap="round" fill="none" d="M147 123q-2 2 -5 2M147 114q4 -1 6 3M144 113q2 4 5 2"/><path stroke="#d8a8c0" stroke-width="2.0" stroke-linecap="round" fill="none" d="M137 116q2 1 5 0M161 117q-5 0 -7 3M152 125q-1 3 -4 3M136 107q3 -2 7 -1"/><path stroke="#c0a878" stroke-width="2.0" stroke-linecap="round" fill="none" d="M159 108q0 3 3 3M122 124q0 -4 1 -7"/><path stroke="#d8a890" stroke-width="2.0" stroke-linecap="round" fill="none" d="M139 122q1 -2 1 -4"/><path stroke="#d8a878" stroke-width="2.0" stroke-linecap="round" fill="none" d="M151 125q-2 1 -3 3"/><path stroke="#a89078" stroke-width="1.5" stroke-linecap="round" fill="none" d="M145 132q-3 1 -5 2"/><path stroke="#d8c090" stroke-width="2.0" stroke-linecap="round" fill="none" d="M133 101q2 -1 4 -1"/><g filter="url(#tx2)"><path d="M118.0 110.0C119.3 107.3 122.3 106.7 126.0 105.0C129.7 103.3 135.7 99.8 140.0 100.0C144.3 100.2 148.7 104.2 152.0 106.0C155.3 107.8 159.0 108.2 160.0 111.0C161.0 113.8 159.7 119.7 158.0 123.0C156.3 126.3 153.3 128.7 150.0 131.0C146.7 133.3 141.7 136.2 138.0 137.0C134.3 137.8 130.8 137.2 128.0 136.0C125.2 134.8 122.7 132.5 121.0 130.0C119.3 127.5 118.5 124.3 118.0 121.0C117.5 117.7 116.7 112.7 118.0 110.0Z" fill="#c4a298" /><path d="M118.0 38.0C119.5 35.0 129.3 32.7 135.0 32.0C140.7 31.3 146.5 32.7 152.0 34.0C157.5 35.3 163.0 37.3 168.0 40.0C173.0 42.7 178.2 46.3 182.0 50.0C185.8 53.7 189.2 57.3 191.0 62.0C192.8 66.7 193.3 73.0 193.0 78.0C192.7 83.0 191.2 88.3 189.0 92.0C186.8 95.7 183.8 98.0 180.0 100.0C176.2 102.0 171.0 104.0 166.0 104.0C161.0 104.0 155.0 101.3 150.0 100.0C145.0 98.7 139.7 97.3 136.0 96.0C132.3 94.7 129.0 96.3 128.0 92.0C127.0 87.7 130.3 77.0 130.0 70.0C129.7 63.0 128.0 55.3 126.0 50.0C124.0 44.7 116.5 41.0 118.0 38.0Z" fill="#c8a49c" /></g><g filter="url(#tx)"><path d="M76.0 46.0C79.5 42.8 85.0 40.0 90.0 38.0C95.0 36.0 101.0 34.5 106.0 34.0C111.0 33.5 116.0 34.0 120.0 35.0C124.0 36.0 127.7 36.7 130.0 40.0C132.3 43.3 133.5 49.2 134.0 55.0C134.5 60.8 133.3 68.7 133.0 75.0C132.7 81.3 135.8 89.4 132.0 93.0C128.2 96.6 113.7 93.7 110.0 96.5C106.3 99.3 110.2 103.8 110.0 110.0C109.8 116.2 110.3 128.7 109.0 134.0C107.7 139.3 105.2 140.3 102.0 142.0C98.8 143.7 94.0 144.5 90.0 144.0C86.0 143.5 81.8 141.5 78.0 139.0C74.2 136.5 69.8 133.3 67.0 129.0C64.2 124.7 62.2 118.5 61.0 113.0C59.8 107.5 59.7 102.3 60.0 96.0C60.3 89.7 61.5 81.5 63.0 75.0C64.5 68.5 66.8 61.8 69.0 57.0C71.2 52.2 72.5 49.2 76.0 46.0Z" fill="#cea0b2" /></g><path d="M62 100Q59 122 70 134Q82 144 99 142" stroke="#dc5f6e" stroke-width="2" fill="none" opacity="0.55"/><path d="M111 97.5L136 95.5" stroke="#dc5f6e" stroke-width="1.8" fill="none" opacity="0.6"/><path stroke="#ffffff" stroke-width="1.0" stroke-linecap="round" fill="none" d="M101 94q-4 -1 -7 2M92 79q4 0 8 0M88 87q5 -2 8 -6M82 119q-3 -3 -3 -8M87 99q0 -2 0 -5M98 63q2 -3 6 -5M99 56q4 0 8 -1M84 57q2 -2 3 -4M93 97q-4 -2 -8 -4M101 119q-4 0 -9 -1"/><path stroke="#ffffff" stroke-width="0.5" stroke-linecap="round" fill="none" d="M78 119q-2 -4 -5 -7M114 71q0 3 -1 5"/>
<rect x="21.5" y="5.5" width="189.8" height="157.8" fill="none" stroke="#ababab" stroke-width="0.8"/>
<text class="t" transform="translate(41.1 171.1) scale(1 1.18)" text-anchor="middle">−10</text>
<line x1="41.1" y1="163.3" x2="41.1" y2="164.8" stroke="#555" stroke-width="0.5"/>
<text class="t" transform="translate(78.4 171.1) scale(1 1.18)" text-anchor="middle">−5</text>
<line x1="78.4" y1="163.3" x2="78.4" y2="164.8" stroke="#555" stroke-width="0.5"/>
<text class="t" transform="translate(115.7 171.1) scale(1 1.18)" text-anchor="middle">0</text>
<line x1="115.7" y1="163.3" x2="115.7" y2="164.8" stroke="#555" stroke-width="0.5"/>
<text class="t" transform="translate(153.0 171.1) scale(1 1.18)" text-anchor="middle">5</text>
<line x1="153.0" y1="163.3" x2="153.0" y2="164.8" stroke="#555" stroke-width="0.5"/>
<text class="t" transform="translate(190.3 171.1) scale(1 1.18)" text-anchor="middle">10</text>
<line x1="190.3" y1="163.3" x2="190.3" y2="164.8" stroke="#555" stroke-width="0.5"/>
<text class="t" transform="translate(19.3 149.4) scale(1 1.18)" text-anchor="end">−10</text>
<line x1="20.0" y1="146.5" x2="21.5" y2="146.5" stroke="#555" stroke-width="0.5"/>
<text class="t" transform="translate(19.3 118.9) scale(1 1.18)" text-anchor="end">−5</text>
<line x1="20.0" y1="116.0" x2="21.5" y2="116.0" stroke="#555" stroke-width="0.5"/>
<text class="t" transform="translate(19.3 88.4) scale(1 1.18)" text-anchor="end">0</text>
<line x1="20.0" y1="85.5" x2="21.5" y2="85.5" stroke="#555" stroke-width="0.5"/>
<text class="t" transform="translate(19.3 57.9) scale(1 1.18)" text-anchor="end">5</text>
<line x1="20.0" y1="55.0" x2="21.5" y2="55.0" stroke="#555" stroke-width="0.5"/>
<text class="t" transform="translate(19.3 27.4) scale(1 1.18)" text-anchor="end">10</text>
<line x1="20.0" y1="24.5" x2="21.5" y2="24.5" stroke="#555" stroke-width="0.5"/>
<rect x="223.3" y="155.41" width="8.5" height="8.19" fill="#67a3cc"/>
<rect x="223.3" y="147.52" width="8.5" height="8.19" fill="#c8d9ef"/>
<rect x="223.3" y="139.63" width="8.5" height="8.19" fill="#ffa85b"/>
<rect x="223.3" y="131.74" width="8.5" height="8.19" fill="#ffd1a3"/>
<rect x="223.3" y="123.85" width="8.5" height="8.19" fill="#70be70"/>
<rect x="223.3" y="115.96" width="8.5" height="8.19" fill="#b9e9af"/>
<rect x="223.3" y="108.07" width="8.5" height="8.19" fill="#e36c6d"/>
<rect x="223.3" y="100.18" width="8.5" height="8.19" fill="#ffb9b8"/>
<rect x="223.3" y="92.29" width="8.5" height="8.19" fill="#b698d2"/>
<rect x="223.3" y="84.40" width="8.5" height="8.19" fill="#d8c9e2"/>
<rect x="223.3" y="76.51" width="8.5" height="8.19" fill="#b18c85"/>
<rect x="223.3" y="68.62" width="8.5" height="8.19" fill="#d7bcb6"/>
<rect x="223.3" y="60.73" width="8.5" height="8.19" fill="#eca3d6"/>
<rect x="223.3" y="52.84" width="8.5" height="8.19" fill="#facde0"/>
<rect x="223.3" y="44.95" width="8.5" height="8.19" fill="#a8a8a8"/>
<rect x="223.3" y="37.06" width="8.5" height="8.19" fill="#d9d9d9"/>
<rect x="223.3" y="29.17" width="8.5" height="8.19" fill="#d1d269"/>
<rect x="223.3" y="21.28" width="8.5" height="8.19" fill="#e7e7b1"/>
<rect x="223.3" y="13.39" width="8.5" height="8.19" fill="#61d3de"/>
<rect x="223.3" y="5.50" width="8.5" height="8.19" fill="#bde6ed"/>
<rect x="223.3" y="5.5" width="8.5" height="157.8" fill="none" stroke="#c8c8c8" stroke-width="0.5"/>
<line x1="231.8" y1="163.3" x2="233.3" y2="163.3" stroke="#555" stroke-width="0.5"/>
<text class="t" transform="translate(234.1 166.2) scale(1 1.18)">0</text>
<line x1="231.8" y1="145.8" x2="233.3" y2="145.8" stroke="#555" stroke-width="0.5"/>
<text class="t" transform="translate(234.1 148.7) scale(1 1.18)">2</text>
<line x1="231.8" y1="128.2" x2="233.3" y2="128.2" stroke="#555" stroke-width="0.5"/>
<text class="t" transform="translate(234.1 131.1) scale(1 1.18)">4</text>
<line x1="231.8" y1="110.7" x2="233.3" y2="110.7" stroke="#555" stroke-width="0.5"/>
<text class="t" transform="translate(234.1 113.6) scale(1 1.18)">6</text>
<line x1="231.8" y1="93.2" x2="233.3" y2="93.2" stroke="#555" stroke-width="0.5"/>
<text class="t" transform="translate(234.1 96.1) scale(1 1.18)">8</text>
<line x1="231.8" y1="75.6" x2="233.3" y2="75.6" stroke="#555" stroke-width="0.5"/>
<text class="t" transform="translate(234.1 78.5) scale(1 1.18)">10</text>
<line x1="231.8" y1="58.1" x2="233.3" y2="58.1" stroke="#555" stroke-width="0.5"/>
<text class="t" transform="translate(234.1 61.0) scale(1 1.18)">12</text>
<line x1="231.8" y1="40.6" x2="233.3" y2="40.6" stroke="#555" stroke-width="0.5"/>
<text class="t" transform="translate(234.1 43.5) scale(1 1.18)">14</text>
<line x1="231.8" y1="23.0" x2="233.3" y2="23.0" stroke="#555" stroke-width="0.5"/>
<text class="t" transform="translate(234.1 25.9) scale(1 1.18)">16</text>
<line x1="231.8" y1="5.5" x2="233.3" y2="5.5" stroke="#555" stroke-width="0.5"/>
<text class="t" transform="translate(234.1 8.4) scale(1 1.18)">18</text>
<text class="cl" transform="translate(252.4,84.4) rotate(-90)" text-anchor="middle">Course ID</text>
<text class="cap" transform="translate(2.2 196.3) scale(1.046 1)">(<tspan font-weight="bold">a</tspan>) XueTangX-CAL</text>
<line x1="335.8" y1="5.5" x2="335.8" y2="163.3" stroke="#f0f0f0" stroke-width="0.7"/>
<line x1="372.9" y1="5.5" x2="372.9" y2="163.3" stroke="#f0f0f0" stroke-width="0.7"/>
<line x1="410.0" y1="5.5" x2="410.0" y2="163.3" stroke="#f0f0f0" stroke-width="0.7"/>
<line x1="447.1" y1="5.5" x2="447.1" y2="163.3" stroke="#f0f0f0" stroke-width="0.7"/>
<line x1="484.2" y1="5.5" x2="484.2" y2="163.3" stroke="#f0f0f0" stroke-width="0.7"/>
<line x1="314.3" y1="146.7" x2="504.4" y2="146.7" stroke="#f0f0f0" stroke-width="0.7"/>
<line x1="314.3" y1="116.0" x2="504.4" y2="116.0" stroke="#f0f0f0" stroke-width="0.7"/>
<line x1="314.3" y1="85.2" x2="504.4" y2="85.2" stroke="#f0f0f0" stroke-width="0.7"/>
<line x1="314.3" y1="54.5" x2="504.4" y2="54.5" stroke="#f0f0f0" stroke-width="0.7"/>
<line x1="314.3" y1="23.7" x2="504.4" y2="23.7" stroke="#f0f0f0" stroke-width="0.7"/>
<path stroke="#d8c0c0" stroke-width="1.5" stroke-linecap="round" fill="none" d="M486 68q-1 0 -1 2M382 50q1 -1 3 -2M455 118q-3 -1 -5 2M431 153q-2 3 -6 2M462 35q1 2 2 5M439 118q-2 2 0 3M368 73q2 -1 3 -3M431 136q-2 0 -4 2M467 76q0 2 2 1M357 129q0 -3 -1 -5M411 23q1 -2 3 -2M371 150q0 -1 -1 -2M367 35q3 1 4 -1M359 87q-1 -3 -4 -4M397 131q-3 2 -6 4M357 92q-1 -3 0 -6M397 133q-1 -1 -2 0M437 40q1 1 3 1M440 151q-1 1 -3 0M355 131q-1 -3 1 -6M434 49q0 4 4 4M382 131q-1 -1 -2 -1"/><path stroke="#d8c090" stroke-width="1.5" stroke-linecap="round" fill="none" d="M361 54q3 0 4 -2M327 86q4 -1 3 -5M372 60q2 -2 3 -5M361 124q-3 -2 -5 -5M342 113q-2 -1 -3 -3M368 82q0 -1 1 -2M416 17q2 -2 3 0M369 85q-2 -1 -4 -2M348 95q-1 -2 0 -4M390 26q3 -2 3 -5M372 123q-3 -2 -4 -4M460 98q2 2 0 4M401 158q-3 3 -7 1M352 97q0 -5 -5 -4M456 32q2 1 5 0M390 141q-2 0 -3 -1M355 56q0 -3 -2 -5M447 143q-3 0 -4 3M475 84q-2 1 -2 4M357 102q-3 0 -5 1M447 110q-2 2 -3 5M405 132q-3 0 -7 1M377 143q-2 0 -3 -2"/><path stroke="#c0a8a8" stroke-width="1.0" stroke-linecap="round" fill="none" d="M464 69q0 2 1 4M357 135q-2 -1 -4 -2M448 64q1 1 1 3M369 53q3 2 7 1M417 39q1 -2 3 -1M433 50q1 -2 3 -2"/><path stroke="#d8a8c0" stroke-width="1.0" stroke-linecap="round" fill="none" d="M416 23q0 2 0 4M383 134q-1 1 -3 3M414 43q0 -2 1 -3M437 42q2 0 4 1M426 146q-1 -4 -5 -2M396 30q2 -1 5 0M471 86q1 2 1 4"/><path stroke="#c09090" stroke-width="1.5" stroke-linecap="round" fill="none" d="M354 103q0 -2 2 -4"/><path stroke="#c0c0a8" stroke-width="1.5" stroke-linecap="round" fill="none" d="M454 55q1 3 -1 5M366 79q1 -4 -1 -6M448 67q0 1 1 2M366 66q1 0 2 0M443 26q2 1 3 2M382 25q3 0 5 0M379 33q3 0 3 -4M361 139q-2 -3 -4 -6"/><path stroke="#d8a8a8" stroke-width="1.0" stroke-linecap="round" fill="none" d="M393 46q5 3 6 -3M431 134q1 3 -2 3M376 137q-1 -2 -3 -2M469 113q-1 2 -2 5M445 31q2 -2 4 0M376 55q-2 -2 -1 -5M351 131q-4 -1 -7 1"/><path stroke="#d8c0a8" stroke-width="1.0" stroke-linecap="round" fill="none" d="M355 89q-2 -2 -2 -5M378 59q-2 -5 3 -5M360 114q0 -1 0 -2M360 116q2 -1 2 -3M452 105q-3 1 -6 2M480 84q-2 2 -2 4M455 108q-3 2 -5 5M477 104q0 4 -4 5M484 92q-1 1 0 3M372 122q-2 -3 -6 -3M339 76q1 -1 3 -2M420 131q-2 0 -5 0M469 101q0 5 -4 5M375 116q3 -1 2 -4M389 150q-3 1 -5 -1M441 26q2 1 3 2M461 64q3 2 5 4M465 42q2 1 5 3M406 40q4 1 4 5M363 79q-1 -4 3 -4M473 101q1 3 2 6M388 52q2 -2 0 -4M339 81q-3 -1 -3 -5M412 142q-2 3 -5 4M347 112q-2 -2 -1 -3M420 23q3 1 5 -1M480 72q4 3 0 6M431 48q2 3 4 6M372 147q-2 1 -4 3"/><path stroke="#c0a890" stroke-width="1.0" stroke-linecap="round" fill="none" d="M430 152q-2 1 -4 1M475 59q-1 3 1 4M354 111q-1 -3 -3 -5M360 109q2 -2 3 -5M368 70q0 -2 0 -4M445 112q0 1 0 2M371 67q-2 -3 -1 -6M432 127q-2 0 -2 2M406 134q-1 1 -2 2M375 29q2 0 2 -1M480 61q1 2 2 4M335 95q1 -1 2 -2M449 108q-2 0 -3 1M365 119q-3 -1 -2 -4M366 83q2 -3 2 -7M441 50q2 3 4 3M439 132q-2 2 -4 1M408 42q-1 3 1 4M338 108q-2 -1 -4 -3M346 86q1 -1 1 -2M425 132q-4 0 -6 3"/><path stroke="#d8c0d8" stroke-width="1.0" stroke-linecap="round" fill="none" d="M479 122q0 1 -1 2M425 46q3 -2 4 1M406 30q3 -2 5 1M421 27q3 1 3 3"/><path stroke="#d8c090" stroke-width="1.0" stroke-linecap="round" fill="none" d="M436 144q1 -2 -1 -3M378 28q1 -1 2 -2M424 136q0 2 -1 2M447 35q2 2 5 4M398 132q-1 -2 -2 -2M485 89q-1 2 -1 3M370 101q-4 0 -6 -3M458 37q2 2 5 0M470 57q0 2 1 4"/><path stroke="#d8a8c0" stroke-width="1.5" stroke-linecap="round" fill="none" d="M359 48q1 -1 2 -2M380 122q-1 -3 0 -5M341 65q4 -4 -2 -5M413 22q1 1 2 0M382 49q3 4 6 -1M353 84q-1 -1 -2 -2"/><path stroke="#d8c0c0" stroke-width="1.0" stroke-linecap="round" fill="none" d="M463 50q4 1 4 4M365 98q-1 1 -3 1M362 52q0 -4 3 -6M413 148q-4 2 -3 6M415 133q-1 0 -1 1M460 75q3 2 0 5M471 44q4 0 6 3M440 139q-1 3 -4 3M446 33q-2 5 3 6M379 51q2 -2 5 -2M454 120q-1 0 -2 2M404 143q-4 0 -6 3M367 61q0 -1 0 -3M429 47q1 -2 3 -2M426 24q3 0 5 -1M441 127q-2 1 -5 2M469 83q-4 3 0 5M331 82q1 -1 2 -2M384 136q-3 0 -6 -1M453 109q1 4 -3 5"/><path stroke="#d8c0a8" stroke-width="1.5" stroke-linecap="round" fill="none" d="M454 74q1 2 2 5M417 138q-1 2 -2 3M357 33q3 1 5 1M457 116q-5 0 -2 5M434 134q-2 2 -1 5M413 134q-2 -1 -4 2M452 102q3 0 2 3M425 130q0 3 -3 4M355 70q2 -1 4 -1M458 58q2 -1 3 2M417 154q-3 -2 -7 -1M383 123q-2 2 -3 0M443 121q-3 1 -5 3M418 44q1 -1 3 -1M454 144q-1 1 -2 1M361 103q0 -1 -1 -2M464 80q0 4 -3 6M430 48q2 0 3 0M425 144q-1 -2 -2 -2M404 154q-1 0 -2 0M367 41q3 2 5 2M425 146q-2 -1 -3 1M422 30q3 -1 6 2M368 85q2 -2 1 -6M334 75q0 -1 2 -2M397 32q3 -7 7 -1M458 44q3 1 4 4M369 79q1 -3 1 -6M356 99q-1 -3 -3 -5M377 36q2 -1 3 0M414 24q2 -1 4 -2M380 34q3 0 3 -4M454 137q-2 0 -3 2M418 43q2 -1 3 -3"/><path stroke="#d8a8a8" stroke-width="2.0" stroke-linecap="round" fill="none" d="M453 96q1 1 0 3M409 143q-2 -1 -4 0"/><path stroke="#c0a890" stroke-width="1.5" stroke-linecap="round" fill="none" d="M447 114q-2 0 -2 2M443 38q1 1 2 0M455 74q4 0 4 4M470 124q-5 -1 -5 4M451 130q-3 0 -4 3M449 106q0 3 -3 3M388 130q-2 -1 -3 -3M377 125q1 -4 -4 -4M378 118q-2 -4 -6 -4M440 44q-1 3 2 5M370 59q2 -3 1 -7M360 54q2 1 3 4M431 149q-5 -2 -5 3M392 37q1 0 3 -1M352 65q-1 -2 0 -3M451 91q4 2 1 5M388 128q-3 -2 -6 -4M454 131q-1 2 -2 3M453 99q1 3 -3 3M461 43q2 -1 2 1M403 21q2 -1 3 -3M447 55q1 3 5 5M388 27q2 0 5 -1M427 46q2 0 3 1M333 68q-1 -2 0 -3M372 110q-1 -1 -1 -2M413 43q4 0 7 -1M422 129q0 2 -2 4M399 42q4 0 7 1M373 41q1 -2 3 -2M398 21q2 0 4 0M418 139q-3 2 -7 0M414 42q2 0 4 2M423 141q0 2 -2 1"/><path stroke="#c0c090" stroke-width="1.5" stroke-linecap="round" fill="none" d="M454 108q-1 1 -3 3M386 51q3 -3 6 -4M441 126q-3 2 -7 2M466 127q-2 1 -4 0M443 147q-2 -1 -4 -1M486 76q0 4 4 2M382 55q1 -3 3 -4M381 57q-2 0 -1 -3M470 55q1 1 2 1M446 127q-3 3 -1 7M429 49q2 2 4 1M406 129q0 4 -3 6M484 65q1 2 -1 3M397 44q1 -2 3 -2M349 95q2 -3 3 -6M378 128q-1 -3 -5 -1M410 47q0 -4 3 -6"/><path stroke="#c0c078" stroke-width="1.0" stroke-linecap="round" fill="none" d="M371 123q-2 -3 -5 -4M394 130q-1 -3 -3 -3M370 94q-3 -1 -5 -3M386 129q-1 1 -3 0M406 40q1 0 2 1"/><path stroke="#d8a8a8" stroke-width="1.5" stroke-linecap="round" fill="none" d="M379 130q-1 -4 -5 -3M378 38q2 -2 3 -3M452 96q1 1 1 2M442 26q1 -1 3 -1M427 48q3 2 6 3M448 120q-1 2 -2 4M358 105q-1 -1 0 -2"/><path stroke="#c0c090" stroke-width="2.0" stroke-linecap="round" fill="none" d="M461 58q-1 3 1 6M377 119q-4 -1 -4 -6"/><path stroke="#c0c078" stroke-width="1.5" stroke-linecap="round" fill="none" d="M367 36q1 0 2 0M451 51q1 0 1 2M420 33q4 0 6 -2"/><path stroke="#c0c0a8" stroke-width="1.0" stroke-linecap="round" fill="none" d="M419 37q4 -2 4 3M370 81q-3 -2 -4 -5M432 48q1 0 1 1M383 46q2 3 -1 6M358 113q1 -3 -1 -6M367 82q-2 -2 -2 -5M367 86q1 -3 -1 -5M441 114q0 3 1 7M465 34q2 3 2 5M468 50q0 1 0 3"/><path stroke="#d8c0d8" stroke-width="1.5" stroke-linecap="round" fill="none" d="M430 43q3 0 4 4M435 54q3 -1 5 1M374 31q2 -3 5 -1"/><path stroke="#c0a8a8" stroke-width="1.5" stroke-linecap="round" fill="none" d="M374 51q2 -3 4 -1M366 102q0 -2 0 -3M363 112q-3 -2 -1 -4M372 46q1 0 1 2M362 34q0 -1 1 -2M353 84q1 -2 2 -4M353 129q0 -1 0 -2M477 58q2 0 2 2M366 56q2 0 3 -2M423 45q2 3 5 4M366 80q0 -2 2 -4M449 57q-2 1 -1 3M354 101q-1 -2 -2 -4"/><path stroke="#d8c090" stroke-width="2.0" stroke-linecap="round" fill="none" d="M372 143q-3 1 -6 2"/><path stroke="#c0c090" stroke-width="1.0" stroke-linecap="round" fill="none" d="M398 36q1 3 4 2M420 38q2 1 4 -1M388 144q-2 -1 -3 -3M346 57q1 -4 4 -5M353 90q-2 -2 1 -4M372 58q2 -3 5 -4M345 127q-1 -1 -3 -2M445 131q-5 -2 -6 3M463 43q2 3 3 6"/><path stroke="#c0a8c0" stroke-width="1.5" stroke-linecap="round" fill="none" d="M451 77q0 2 1 4M442 135q-1 1 -2 2M479 67q-1 2 -1 5M359 81q2 -2 0 -3M378 142q-3 2 -5 1M370 108q0 -2 1 -3"/><path stroke="#d8a8c0" stroke-width="2.0" stroke-linecap="round" fill="none" d="M466 77q1 2 3 4"/><path stroke="#a89090" stroke-width="1.5" stroke-linecap="round" fill="none" d="M406 28q2 4 6 4M369 135q0 -1 -2 -1M363 68q3 -1 3 -5"/><path stroke="#d8c0c0" stroke-width="2.0" stroke-linecap="round" fill="none" d="M449 132q-2 2 -2 5M361 61q1 -2 0 -4M355 131q0 -1 1 -2"/><path stroke="#d8c0a8" stroke-width="2.0" stroke-linecap="round" fill="none" d="M454 73q1 4 -2 6"/><path stroke="#f0c0c0" stroke-width="1.5" stroke-linecap="round" fill="none" d="M473 79q-1 2 0 4"/><path stroke="#c0c0c0" stroke-width="1.0" stroke-linecap="round" fill="none" d="M469 71q0 2 1 4"/><path stroke="#c0c0c0" stroke-width="1.5" stroke-linecap="round" fill="none" d="M351 98q-1 -4 -5 -2M418 155q-2 -2 -4 0"/><path stroke="#c0a890" stroke-width="2.0" stroke-linecap="round" fill="none" d="M391 48q1 1 2 0"/><path stroke="#f0c0c0" stroke-width="1.0" stroke-linecap="round" fill="none" d="M455 74q-1 1 0 2M443 152q-1 2 -3 1"/><path stroke="#d8d8a8" stroke-width="1.5" stroke-linecap="round" fill="none" d="M407 135q0 -3 -3 -1M419 25q2 0 3 -1M367 100q-1 -1 -2 -2"/><path stroke="#a89090" stroke-width="1.0" stroke-linecap="round" fill="none" d="M434 30q1 4 4 6M356 56q1 -1 1 -2"/><path stroke="#c09090" stroke-width="1.0" stroke-linecap="round" fill="none" d="M366 92q-2 -3 -5 -5"/><path stroke="#d8a8c0" stroke-width="2.0" stroke-linecap="round" fill="none" d="M454 46q1 -4 2 -8M462 103q6 -1 10 3M454 101q0 3 3 4M455 80q4 -2 6 2M449 63q2 -2 5 -2M473 73q7 5 11 -1M451 36q0 -3 -2 -6M469 50q2 -3 4 -7M440 94q5 1 10 1M475 67q5 2 5 -3M445 77q6 -2 11 0M450 106q2 -1 3 2M458 95q2 1 4 2M435 47q2 -3 3 -6M454 69q4 -4 7 0"/><path stroke="#d8c0c0" stroke-width="1.5" stroke-linecap="round" fill="none" d="M455 74q2 0 3 -2M444 91q3 1 2 4M455 57q3 -2 7 -4M441 72q4 0 8 -1M450 75q8 0 7 -8M446 82q0 3 3 3M470 76q3 0 4 -4M444 47q3 -3 4 -6"/><path stroke="#c0c090" stroke-width="2.0" stroke-linecap="round" fill="none" d="M436 68q-3 -10 7 -9M440 58q2 -2 5 -3M442 73q5 0 7 5M439 42q2 -4 3 -8M441 66q1 -2 1 -4M468 96q-2 8 7 7M446 98q4 2 4 7M450 107q5 1 10 2M478 60q2 -3 6 -3M431 84q4 3 5 8M473 77q4 0 8 1M471 59q1 -5 5 -9M466 54q1 -4 2 -7"/><path stroke="#c0a878" stroke-width="2.0" stroke-linecap="round" fill="none" d="M445 75q5 -1 10 -4M455 65q1 -5 6 -6M445 39q2 -3 5 -5M440 80q1 4 5 5M444 68q-2 -5 3 -6M459 61q3 -1 4 -3M451 111q1 6 4 10M444 41q3 -1 4 -3M479 72q2 0 4 -1M437 56q4 0 6 -4M456 99q4 -1 9 0"/><path stroke="#c0c090" stroke-width="1.0" stroke-linecap="round" fill="none" d="M466 68q3 -1 6 -3"/><path stroke="#d8a8a8" stroke-width="2.0" stroke-linecap="round" fill="none" d="M449 84q6 4 4 10M464 71q3 -2 7 -1M443 47q-5 -5 1 -7M447 53q6 1 6 -6M458 110q5 0 11 0M457 90q3 3 7 3M482 67q3 0 4 -2M469 64q2 -2 5 -3M461 72q5 0 10 0M470 70q3 2 5 0M467 73q1 -2 2 -4"/><path stroke="#c0a890" stroke-width="2.0" stroke-linecap="round" fill="none" d="M443 48q8 3 7 -6M465 47q1 -3 4 -4M473 92q1 4 4 6M466 63q0 -7 7 -6M473 71q2 -3 5 -2M436 87q8 2 6 9M467 99q2 2 5 2M452 51q2 -2 3 -5M475 66q1 -1 4 -2M439 97q1 6 6 6M444 56q4 -2 6 -7M453 35q-1 -5 -5 -9M445 68q0 -5 4 -6M476 69q2 -2 4 -4M443 62q-2 -4 2 -7M440 68q5 -6 11 -1M440 73q4 -2 8 1M449 63q4 0 8 1M445 45q1 -2 2 -5M477 69q4 0 4 -4M447 77q3 3 5 7M448 56q5 -2 10 -4M478 66q3 -4 5 -8M458 63q5 1 7 -3M458 82q6 -2 9 5"/><path stroke="#d8a878" stroke-width="1.5" stroke-linecap="round" fill="none" d="M457 70q6 -2 11 -4M450 39q1 -3 3 -4M437 53q-1 -3 2 -6M466 81q7 -4 9 3"/><path stroke="#a8a860" stroke-width="2.0" stroke-linecap="round" fill="none" d="M447 38q3 -5 -1 -10M455 85q0 -3 4 -2"/><path stroke="#c0a890" stroke-width="1.5" stroke-linecap="round" fill="none" d="M480 63q-2 -6 4 -10M470 101q3 5 6 10M448 103q3 0 5 4M460 101q4 -1 8 -3M461 87q2 1 4 1M469 62q2 -2 4 0M455 90q3 4 5 10M461 103q-4 11 7 9M456 104q4 -1 8 0M479 96q3 1 5 -2M458 58q6 -2 9 3M471 92q5 1 9 2M478 86q1 6 6 10M478 82q1 3 3 4M445 69q4 -3 6 -7M481 91q2 -1 3 -4M466 67q1 -2 4 -3"/><path stroke="#a8a860" stroke-width="1.5" stroke-linecap="round" fill="none" d="M448 59q3 -2 6 -4"/><path stroke="#d8c090" stroke-width="2.0" stroke-linecap="round" fill="none" d="M462 89q2 3 3 5M456 46q3 -1 6 -4M462 91q2 4 7 2M445 60q1 -6 6 -3M450 63q2 -3 5 -5M452 113q2 2 5 2M469 54q2 -2 5 -2M439 59q5 0 9 -2M466 61q4 -3 9 -5M474 86q0 2 2 3M480 79q5 2 8 -1M443 53q3 2 5 0"/><path stroke="#c0c078" stroke-width="2.0" stroke-linecap="round" fill="none" d="M455 71q3 4 7 7M461 38q1 -4 4 -2M450 104q5 -1 6 4M441 95q5 -3 11 -1M438 39q4 -2 3 -6M456 75q3 -2 7 -3M451 80q2 -8 8 -3M465 47q2 -1 3 -3M457 110q4 2 5 6"/><path stroke="#c0c090" stroke-width="2.5" stroke-linecap="round" fill="none" d="M476 85q3 4 8 2M437 74q1 -5 5 -7M455 62q3 2 7 2M459 115q-3 2 -1 4"/><path stroke="#d8c0c0" stroke-width="2.0" stroke-linecap="round" fill="none" d="M435 59q1 -2 1 -4M453 67q7 1 9 -5M478 63q2 4 6 2M480 78q8 -1 6 -9M435 64q2 -4 3 -8M473 57q0 -2 0 -4M464 85q5 -3 10 -5M440 52q6 5 10 -1M447 47q0 -3 1 -6M441 40q1 -3 2 -5M465 100q4 -2 7 -5"/><path stroke="#a89078" stroke-width="1.5" stroke-linecap="round" fill="none" d="M457 75q4 1 8 0M478 82q1 3 4 3M476 78q4 0 8 0M444 103q2 5 7 4M458 90q3 4 2 9M443 92q5 1 3 6M461 58q3 -4 2 -10M477 74q3 1 6 0M431 55q6 -1 6 -8M457 99q4 2 2 5M458 100q3 -2 6 0M453 104q2 1 4 2M456 73q5 -2 10 -2"/><path stroke="#c0a8a8" stroke-width="2.0" stroke-linecap="round" fill="none" d="M445 37q-1 -3 1 -5M455 84q5 -2 8 3M442 92q4 2 8 -2M461 108q1 2 2 5M440 59q0 -4 -1 -8M460 102q5 0 9 2"/><path stroke="#d8c0a8" stroke-width="2.0" stroke-linecap="round" fill="none" d="M464 78q5 2 8 4M460 55q5 -2 9 -5M439 54q6 -1 7 -8M457 96q1 2 3 3M444 89q4 1 8 0M467 73q5 2 11 1M459 45q3 -1 6 -2"/><path stroke="#d8c090" stroke-width="2.5" stroke-linecap="round" fill="none" d="M446 38q3 -5 1 -10"/><path stroke="#d8c0a8" stroke-width="1.0" stroke-linecap="round" fill="none" d="M449 38q0 -5 -3 -9M460 78q5 1 9 0"/><path stroke="#c0a878" stroke-width="1.5" stroke-linecap="round" fill="none" d="M460 73q4 1 7 0M446 74q3 1 4 4M442 51q2 -3 5 -4"/><path stroke="#c0a8a8" stroke-width="1.5" stroke-linecap="round" fill="none" d="M464 99q1 5 6 5M437 86q3 4 5 9M453 102q1 4 2 7"/><path stroke="#a89090" stroke-width="2.0" stroke-linecap="round" fill="none" d="M475 88q5 -2 9 1M476 66q4 2 6 5M451 70q4 3 4 -1M448 90q4 -1 8 -2M472 100q4 -1 8 -1"/><path stroke="#d8a8a8" stroke-width="1.5" stroke-linecap="round" fill="none" d="M450 86q3 -3 6 -1M463 59q2 -6 8 -4M467 65q2 -2 4 -2M466 94q2 -2 4 -5M466 103q-2 5 4 7M452 58q6 -3 6 4M461 42q-2 -2 -1 -6M445 108q1 6 7 4M460 111q2 5 7 7M435 63q2 -3 5 -5M459 109q4 -2 6 1M479 90q3 0 5 -2M440 65q4 1 5 -3"/><path stroke="#c0c0a8" stroke-width="2.0" stroke-linecap="round" fill="none" d="M436 39q1 -2 4 -2"/><path stroke="#d8c090" stroke-width="1.5" stroke-linecap="round" fill="none" d="M438 66q0 -3 1 -6M469 64q3 1 6 0M464 54q-2 -5 -2 -10M475 93q3 4 8 2M452 113q-1 3 1 5M464 84q1 -3 4 -2M451 103q2 2 5 3"/><path stroke="#d8a8c0" stroke-width="1.5" stroke-linecap="round" fill="none" d="M454 39q3 -4 9 -3M435 50q4 -4 9 0M445 83q4 2 8 4M470 71q0 -4 4 -3M457 70q3 1 7 1M441 66q3 -5 0 -9M474 61q4 -3 8 -6M477 68q5 2 9 -2M476 60q4 -3 7 1M440 64q3 0 4 -2"/><path stroke="#c0c0a8" stroke-width="1.5" stroke-linecap="round" fill="none" d="M443 48q-2 -2 -2 -5"/><path stroke="#d8c0a8" stroke-width="1.5" stroke-linecap="round" fill="none" d="M453 83q4 1 7 -1M474 58q0 -5 5 -4M435 56q4 -6 -1 -10M444 51q3 0 6 -1M460 71q4 4 9 3M473 92q2 -5 7 -2M452 118q3 2 6 3M433 90q8 -1 8 7M464 60q4 -2 6 1M447 70q2 2 5 1M445 96q1 3 1 6"/><path stroke="#c0a8c0" stroke-width="2.0" stroke-linecap="round" fill="none" d="M441 35q-2 -6 4 -7M461 77q3 0 4 1M443 72q1 -5 4 -9"/><path stroke="#c0c090" stroke-width="1.5" stroke-linecap="round" fill="none" d="M447 80q4 6 9 1M456 42q3 -2 3 -6M469 86q4 0 7 2M448 95q4 -1 6 -4M450 58q3 -2 7 -3M455 77q6 -2 10 3M476 76q6 -3 11 0M458 91q3 3 6 6M452 78q4 3 8 1M472 94q-3 6 3 10M448 93q5 2 8 6"/><path stroke="#d8a878" stroke-width="2.0" stroke-linecap="round" fill="none" d="M469 51q6 4 10 0"/><path stroke="#c0a890" stroke-width="2.5" stroke-linecap="round" fill="none" d="M443 93q3 5 10 5"/><path stroke="#d8a890" stroke-width="1.5" stroke-linecap="round" fill="none" d="M459 87q3 0 6 3"/><path stroke="#a8a860" stroke-width="2.5" stroke-linecap="round" fill="none" d="M470 66q4 5 9 1"/><path stroke="#a89078" stroke-width="2.0" stroke-linecap="round" fill="none" d="M445 58q5 -1 3 -6M436 41q2 -2 4 -3M462 43q7 4 8 -4M438 52q3 -5 2 -9M478 81q5 -4 10 -2M458 92q0 4 4 6M450 73q2 2 5 2M443 106q3 4 8 3M448 65q4 -2 7 2"/><path stroke="#c09090" stroke-width="1.5" stroke-linecap="round" fill="none" d="M459 86q3 3 5 7"/><path stroke="#c0a878" stroke-width="2.5" stroke-linecap="round" fill="none" d="M444 98q3 0 4 2M463 77q3 -2 6 -2"/><path stroke="#a89090" stroke-width="1.5" stroke-linecap="round" fill="none" d="M447 92q3 3 7 2M452 69q5 -1 10 -3M455 69q5 3 6 -3M442 72q3 1 6 -1"/><path stroke="#d8a8a8" stroke-width="1.0" stroke-linecap="round" fill="none" d="M452 71q5 2 11 0M457 77q1 6 6 8"/><path stroke="#d890a8" stroke-width="1.5" stroke-linecap="round" fill="none" d="M446 81q5 0 10 0"/><path stroke="#c0c078" stroke-width="1.0" stroke-linecap="round" fill="none" d="M443 42q1 -3 2 -7M441 51q-1 -5 1 -9"/><path stroke="#c0a8c0" stroke-width="1.5" stroke-linecap="round" fill="none" d="M464 81q2 -1 4 -2M443 83q8 -3 8 6"/><path stroke="#c0c078" stroke-width="1.5" stroke-linecap="round" fill="none" d="M429 68q3 -5 4 -11M485 72q1 2 1 5M475 67q4 0 8 1M441 38q-1 -5 3 -7M461 105q2 6 -5 8"/><path stroke="#c0c0a8" stroke-width="2.5" stroke-linecap="round" fill="none" d="M463 54q6 1 9 6"/><path stroke="#d8c090" stroke-width="1.0" stroke-linecap="round" fill="none" d="M438 62q2 3 4 0"/><path stroke="#a89078" stroke-width="1.0" stroke-linecap="round" fill="none" d="M442 66q4 0 9 -1"/><path stroke="#d8c0c0" stroke-width="2.5" stroke-linecap="round" fill="none" d="M480 93q5 0 5 -6"/><path stroke="#d8c0a8" stroke-width="2.5" stroke-linecap="round" fill="none" d="M465 78q2 4 6 3"/><path stroke="#d8a8a8" stroke-width="2.5" stroke-linecap="round" fill="none" d="M446 59q4 1 8 2"/><path stroke="#c0c0c0" stroke-width="1.5" stroke-linecap="round" fill="none" d="M463 80q2 -1 4 -2"/><path stroke="#c0a890" stroke-width="1.0" stroke-linecap="round" fill="none" d="M437 124q-1 1 -3 0M430 126q3 1 2 4M440 129q0 3 0 7M431 121q2 2 5 2M423 130q1 2 2 2M425 131q1 2 3 3M421 121q-4 -1 -7 1M438 125q-3 2 -7 0"/><path stroke="#d8a878" stroke-width="2.0" stroke-linecap="round" fill="none" d="M435 142q-4 1 -2 4M424 114q-2 -1 -4 0"/><path stroke="#c0a878" stroke-width="1.5" stroke-linecap="round" fill="none" d="M433 120q4 5 -2 7M436 103q1 4 -3 5M432 136q-4 -3 -8 1M447 130q-3 3 -6 6"/><path stroke="#d8a8c0" stroke-width="1.0" stroke-linecap="round" fill="none" d="M428 137q-2 3 -3 7"/><path stroke="#a89090" stroke-width="1.5" stroke-linecap="round" fill="none" d="M431 121q-1 4 0 8M420 116q-2 2 -3 4"/><path stroke="#d8c0a8" stroke-width="1.5" stroke-linecap="round" fill="none" d="M439 119q1 3 -2 4M416 112q1 3 1 6M418 123q-1 2 0 3"/><path stroke="#a89078" stroke-width="1.5" stroke-linecap="round" fill="none" d="M428 121q0 4 3 7M439 111q-3 3 -3 7M430 108q1 2 -1 3M432 124q0 4 4 5"/><path stroke="#c0a890" stroke-width="2.0" stroke-linecap="round" fill="none" d="M440 121q2 0 4 1M427 115q2 1 4 1M440 126q-1 2 0 4M420 118q-2 2 -4 2M425 126q0 2 -2 3M432 141q-1 3 1 5M435 117q4 -2 7 1M450 122q-1 2 -3 2"/><path stroke="#d8c0a8" stroke-width="2.0" stroke-linecap="round" fill="none" d="M429 128q-1 1 0 3M424 133q-2 1 -3 3M417 127q3 1 6 1M428 124q-1 5 5 5M429 142q-3 0 -5 0M415 117q3 1 5 2"/><path stroke="#a89078" stroke-width="2.0" stroke-linecap="round" fill="none" d="M434 122q-1 3 -5 3M426 119q4 1 3 5M432 131q3 -2 6 1"/><path stroke="#d8a8a8" stroke-width="1.0" stroke-linecap="round" fill="none" d="M438 108q-3 1 -6 1M442 113q-3 1 -4 4M434 124q-2 1 -4 3M416 120q2 4 -1 7"/><path stroke="#c0c078" stroke-width="1.5" stroke-linecap="round" fill="none" d="M430 130q3 2 6 4M446 130q-2 0 -4 1M425 121q3 0 5 2M434 122q5 1 3 6M450 116q-5 -2 -6 3"/><path stroke="#d8c0c0" stroke-width="1.5" stroke-linecap="round" fill="none" d="M427 106q3 3 7 1M430 125q2 0 3 1M431 141q2 4 5 1M429 107q1 4 1 7M439 126q-3 4 0 7M412 127q4 -2 7 1"/><path stroke="#c0a890" stroke-width="1.5" stroke-linecap="round" fill="none" d="M437 134q-2 2 -4 4M423 133q2 1 4 1M432 136q-4 0 -7 3M424 111q-5 -2 -6 3"/><path stroke="#c0c078" stroke-width="2.0" stroke-linecap="round" fill="none" d="M428 124q3 4 6 0M434 124q2 2 0 4M429 112q4 4 0 8"/><path stroke="#d8c0c0" stroke-width="2.0" stroke-linecap="round" fill="none" d="M432 135q1 2 2 4M427 119q-2 2 -1 5M438 116q6 -3 5 3"/><path stroke="#d8a890" stroke-width="1.5" stroke-linecap="round" fill="none" d="M436 131q-1 2 -3 2"/><path stroke="#a89090" stroke-width="2.0" stroke-linecap="round" fill="none" d="M439 123q-2 1 -5 2M422 130q-3 -1 -6 1"/><path stroke="#c0c0a8" stroke-width="2.0" stroke-linecap="round" fill="none" d="M427 131q3 -1 4 1"/><path stroke="#c0c0a8" stroke-width="1.5" stroke-linecap="round" fill="none" d="M425 123q0 3 3 3M443 129q-1 4 -5 4"/><path stroke="#d8a890" stroke-width="1.0" stroke-linecap="round" fill="none" d="M443 116q0 3 -2 5"/><path stroke="#a89078" stroke-width="1.0" stroke-linecap="round" fill="none" d="M439 119q-3 2 -1 5M413 122q3 -2 6 0"/><path stroke="#a89090" stroke-width="1.0" stroke-linecap="round" fill="none" d="M439 133q0 5 5 5M436 136q-1 1 -3 0"/><path stroke="#d8c0c0" stroke-width="1.0" stroke-linecap="round" fill="none" d="M417 128q2 2 4 3M439 129q2 3 2 7"/><path stroke="#d8a8c0" stroke-width="1.5" stroke-linecap="round" fill="none" d="M426 126q2 0 3 1M443 121q3 2 2 6M436 126q-4 -2 -5 2M432 137q2 0 3 2M447 121q-4 0 -2 3M427 135q0 2 -1 4"/><path stroke="#c0c090" stroke-width="1.5" stroke-linecap="round" fill="none" d="M422 111q3 0 5 1M437 121q0 1 0 3M433 123q-2 1 -4 3M438 105q0 3 -2 3"/><path stroke="#d8c090" stroke-width="1.5" stroke-linecap="round" fill="none" d="M438 129q-2 0 -3 3M427 123q-2 1 -1 4M426 125q4 0 4 4"/><path stroke="#c0a878" stroke-width="1.0" stroke-linecap="round" fill="none" d="M417 135q2 2 4 3M423 132q1 3 0 6M447 129q-5 -1 -7 4"/><path stroke="#c0c078" stroke-width="1.0" stroke-linecap="round" fill="none" d="M424 124q2 1 5 1"/><path stroke="#d8a8a8" stroke-width="1.5" stroke-linecap="round" fill="none" d="M432 105q2 1 4 1M441 108q3 1 6 4M418 121q-6 3 -1 7"/><path stroke="#a8a8c0" stroke-width="1.5" stroke-linecap="round" fill="none" d="M422 131q-2 2 -4 5"/><path stroke="#d8a8c0" stroke-width="2.0" stroke-linecap="round" fill="none" d="M427 132q0 2 -3 4"/><path stroke="#c0a8a8" stroke-width="1.5" stroke-linecap="round" fill="none" d="M446 113q-1 5 -5 6"/><path stroke="#c09090" stroke-width="1.0" stroke-linecap="round" fill="none" d="M425 112q-2 3 -4 7"/><path stroke="#d8c0a8" stroke-width="1.0" stroke-linecap="round" fill="none" d="M430 132q4 1 2 4"/><path stroke="#c0a878" stroke-width="2.0" stroke-linecap="round" fill="none" d="M430 113q-2 2 -5 5M438 106q3 7 -4 6"/><path stroke="#d8c090" stroke-width="2.0" stroke-linecap="round" fill="none" d="M430 124q-2 1 -4 2"/><path stroke="#c0c090" stroke-width="1.0" stroke-linecap="round" fill="none" d="M424 124q0 2 1 4"/><path stroke="#c0a8a8" stroke-width="1.0" stroke-linecap="round" fill="none" d="M429 113q-1 3 -3 4"/><path stroke="#d8c090" stroke-width="1.0" stroke-linecap="round" fill="none" d="M434 127q-1 4 3 4"/><path stroke="#d8c0c0" stroke-width="1.5" stroke-linecap="round" fill="none" d="M367 91q-2 3 -1 7M358 85q2 0 3 -1M363 93q0 1 0 3"/><path stroke="#d8c090" stroke-width="1.0" stroke-linecap="round" fill="none" d="M362 116q-2 1 -4 2M353 116q-3 -1 -4 -3M369 94q-2 1 -5 2"/><path stroke="#d8c0a8" stroke-width="1.5" stroke-linecap="round" fill="none" d="M348 105q3 -1 4 -3M353 101q-1 -1 -1 -3M360 107q-3 -1 -6 -1M365 105q1 2 0 4M351 93q2 -1 5 -1M363 101q-1 3 0 6M365 92q-3 3 1 4M360 115q0 -3 -3 -5M358 120q0 -5 -4 -5"/><path stroke="#c0a8a8" stroke-width="1.5" stroke-linecap="round" fill="none" d="M360 101q1 3 4 4M352 95q4 -1 4 3M359 86q3 2 5 5M365 98q2 4 -2 6"/><path stroke="#c0c090" stroke-width="1.0" stroke-linecap="round" fill="none" d="M353 109q-2 -2 -5 -3M358 106q-2 -3 -4 -4M354 99q2 0 3 -2M364 120q-2 -1 -3 1M357 100q-2 -2 0 -4"/><path stroke="#d8a8a8" stroke-width="1.0" stroke-linecap="round" fill="none" d="M358 98q1 1 3 2"/><path stroke="#c0c0a8" stroke-width="1.5" stroke-linecap="round" fill="none" d="M358 115q-2 -3 -4 -1M358 97q0 3 2 5"/><path stroke="#d8a8a8" stroke-width="1.5" stroke-linecap="round" fill="none" d="M357 86q2 4 6 2M356 101q1 -2 0 -4M357 123q0 -4 -3 -4M366 118q-1 -1 -3 0M362 109q-3 0 -5 0M363 87q-2 3 1 6M364 96q-1 4 1 7M354 126q3 -4 -2 -6M359 91q0 3 2 5"/><path stroke="#d8c090" stroke-width="1.5" stroke-linecap="round" fill="none" d="M364 124q-1 1 -2 2M354 126q-3 -2 -2 -6M363 113q2 2 1 4M353 105q2 -2 4 -4M359 100q1 1 3 2"/><path stroke="#c0a8c0" stroke-width="1.5" stroke-linecap="round" fill="none" d="M361 81q0 2 1 5M359 94q1 2 3 3"/><path stroke="#c0c0a8" stroke-width="2.0" stroke-linecap="round" fill="none" d="M361 108q-2 -4 -5 0"/><path stroke="#c0c090" stroke-width="1.5" stroke-linecap="round" fill="none" d="M355 106q-1 -2 2 -4M347 108q2 -3 2 -6M357 100q1 1 3 2M364 102q0 3 -2 6M352 108q0 -3 1 -6M357 106q1 -2 1 -4M354 124q-1 -3 -1 -6"/><path stroke="#f0c0c0" stroke-width="1.0" stroke-linecap="round" fill="none" d="M363 113q1 2 1 4"/><path stroke="#c0a890" stroke-width="1.5" stroke-linecap="round" fill="none" d="M353 120q-1 -1 -2 -3M357 109q-3 1 -5 0M359 106q-2 -1 -4 0M356 105q0 -1 0 -3M352 106q2 -2 5 -3M350 104q1 -2 4 -2M357 95q2 -1 4 -1"/><path stroke="#d8a8c0" stroke-width="1.5" stroke-linecap="round" fill="none" d="M356 128q-2 -1 -1 -3M358 102q3 3 0 6M360 88q4 0 5 3"/><path stroke="#c0a890" stroke-width="2.0" stroke-linecap="round" fill="none" d="M354 102q2 -2 2 -4"/><path stroke="#d8c0a8" stroke-width="1.0" stroke-linecap="round" fill="none" d="M359 127q-1 -2 -4 -2M354 88q2 2 4 0"/><path stroke="#c0c078" stroke-width="1.5" stroke-linecap="round" fill="none" d="M358 97q-2 7 5 4M351 92q1 -2 1 -3"/><path stroke="#c09090" stroke-width="1.5" stroke-linecap="round" fill="none" d="M359 116q-2 0 -3 -1"/><path stroke="#c0c090" stroke-width="2.0" stroke-linecap="round" fill="none" d="M361 108q-3 1 -7 0M357 80q3 2 1 4M355 88q3 2 6 1"/><path stroke="#d8c0c0" stroke-width="1.0" stroke-linecap="round" fill="none" d="M358 90q3 1 5 1M355 102q3 2 6 0M364 116q-1 3 -5 3M365 93q2 3 1 6M356 120q1 -3 -1 -6"/><path stroke="#d8a8c0" stroke-width="1.0" stroke-linecap="round" fill="none" d="M353 108q4 -5 -3 -5M361 107q3 2 2 5M361 107q-1 1 -2 3M351 112q-2 0 -4 -2"/><path stroke="#c0a878" stroke-width="1.0" stroke-linecap="round" fill="none" d="M360 99q1 3 -1 6"/><path stroke="#a89090" stroke-width="1.5" stroke-linecap="round" fill="none" d="M364 118q0 3 -1 5M355 93q3 0 6 -2M358 86q4 4 5 -2"/><path stroke="#d8a8c0" stroke-width="2.0" stroke-linecap="round" fill="none" d="M363 118q-2 -1 -4 -1"/><path stroke="#f0c0c0" stroke-width="1.5" stroke-linecap="round" fill="none" d="M353 117q-2 -2 -2 -4"/><path stroke="#c0a890" stroke-width="1.0" stroke-linecap="round" fill="none" d="M358 110q-1 -1 -3 -1M356 97q0 -3 3 -4"/><path stroke="#a89090" stroke-width="1.0" stroke-linecap="round" fill="none" d="M355 87q1 -3 4 -5"/><path stroke="#c0c078" stroke-width="1.0" stroke-linecap="round" fill="none" d="M353 103q-1 -3 1 -7"/><g filter="url(#tx4)"><path d="M420.0 38.0C421.2 34.3 430.0 33.2 435.0 33.0C440.0 32.8 445.5 35.0 450.0 37.0C454.5 39.0 458.3 41.8 462.0 45.0C465.7 48.2 469.7 51.8 472.0 56.0C474.3 60.2 476.3 65.3 476.0 70.0C475.7 74.7 473.5 80.3 470.0 84.0C466.5 87.7 460.0 90.2 455.0 92.0C450.0 93.8 445.0 94.5 440.0 95.0C435.0 95.5 429.3 95.8 425.0 95.0C420.7 94.2 413.8 93.3 414.0 90.0C414.2 86.7 423.7 80.8 426.0 75.0C428.3 69.2 429.0 61.2 428.0 55.0C427.0 48.8 418.8 41.7 420.0 38.0Z" fill="#c09a8e" /></g><g filter="url(#tx2)"><path d="M420.0 96.0C422.3 93.5 428.2 92.7 432.0 93.0C435.8 93.3 440.2 95.2 443.0 98.0C445.8 100.8 448.2 105.7 449.0 110.0C449.8 114.3 448.8 119.8 448.0 124.0C447.2 128.2 446.0 132.2 444.0 135.0C442.0 137.8 439.0 140.8 436.0 141.0C433.0 141.2 428.7 138.8 426.0 136.0C423.3 133.2 421.3 128.7 420.0 124.0C418.7 119.3 418.0 112.7 418.0 108.0C418.0 103.3 417.7 98.5 420.0 96.0Z" fill="#d8868c" /></g><g filter="url(#tx)"><path d="M368.8 57.4C370.8 53.2 374.4 49.1 377.6 46.2C380.8 43.3 384.2 41.6 388.0 39.9C391.8 38.1 396.2 36.4 400.3 35.7C404.4 35.0 408.9 35.0 412.5 35.7C416.1 36.4 419.4 37.6 422.0 40.0C424.6 42.4 426.8 45.8 428.0 50.0C429.2 54.2 429.3 60.0 429.0 65.0C428.7 70.0 427.5 75.5 426.0 80.0C424.5 84.5 421.3 87.0 420.0 92.0C418.7 97.0 418.7 104.3 418.0 110.0C417.3 115.7 417.3 121.7 416.0 126.0C414.7 130.3 412.7 133.3 410.0 136.0C407.3 138.7 403.7 141.4 400.0 142.0C396.3 142.6 391.7 141.0 388.0 139.4C384.3 137.8 380.7 135.6 377.6 132.4C374.5 129.2 371.5 124.6 369.5 120.2C367.5 115.8 366.3 111.4 365.4 106.2C364.5 101.0 364.0 94.6 364.0 88.8C364.0 83.0 364.6 76.5 365.4 71.3C366.2 66.1 366.8 61.6 368.8 57.4Z" fill="#cda2a4" /></g><path stroke="#ffffff" stroke-width="1.0" stroke-linecap="round" fill="none" d="M383 103q-3 0 -7 -1M377 82q4 -2 8 -3M405 71q0 2 2 4M385 75q2 2 5 4M396 69q2 1 5 2M412 84q-3 4 -8 5"/><path stroke="#ffffff" stroke-width="0.5" stroke-linecap="round" fill="none" d="M382 70q0 -3 1 -5M394 55q2 3 3 7M404 94q-2 3 -5 5M404 82q0 3 0 5"/><g filter="url(#dsp)" opacity="0.9"><path d="M423.0 105.0C424.5 103.7 427.3 105.2 429.0 107.0C430.7 108.8 432.7 112.5 433.0 116.0C433.3 119.5 432.2 124.5 431.0 128.0C429.8 131.5 428.0 134.7 426.0 137.0C424.0 139.3 421.0 141.3 419.0 142.0C417.0 142.7 414.0 143.3 414.0 141.0C414.0 138.7 418.0 132.3 419.0 128.0C420.0 123.7 419.3 118.8 420.0 115.0C420.7 111.2 421.5 106.3 423.0 105.0Z" fill="#fff" /></g>
<line x1="410.5" y1="5.5" x2="410.5" y2="163.3" stroke="#8e8e8e" stroke-width="0.9"/>
<line x1="314.3" y1="85.5" x2="504.4" y2="85.5" stroke="#8e8e8e" stroke-width="0.9"/>
<rect x="314.3" y="5.5" width="190.1" height="157.8" fill="none" stroke="#ababab" stroke-width="0.8"/>
<text class="t" transform="translate(335.8 171.1) scale(1 1.18)" text-anchor="middle">−10</text>
<line x1="335.8" y1="163.3" x2="335.8" y2="164.8" stroke="#555" stroke-width="0.5"/>
<text class="t" transform="translate(372.9 171.1) scale(1 1.18)" text-anchor="middle">−5</text>
<line x1="372.9" y1="163.3" x2="372.9" y2="164.8" stroke="#555" stroke-width="0.5"/>
<text class="t" transform="translate(410.0 171.1) scale(1 1.18)" text-anchor="middle">0</text>
<line x1="410.0" y1="163.3" x2="410.0" y2="164.8" stroke="#555" stroke-width="0.5"/>
<text class="t" transform="translate(447.1 171.1) scale(1 1.18)" text-anchor="middle">5</text>
<line x1="447.1" y1="163.3" x2="447.1" y2="164.8" stroke="#555" stroke-width="0.5"/>
<text class="t" transform="translate(484.2 171.1) scale(1 1.18)" text-anchor="middle">10</text>
<line x1="484.2" y1="163.3" x2="484.2" y2="164.8" stroke="#555" stroke-width="0.5"/>
<text class="t" transform="translate(312.1 149.6) scale(1 1.18)" text-anchor="end">−10</text>
<line x1="312.8" y1="146.7" x2="314.3" y2="146.7" stroke="#555" stroke-width="0.5"/>
<text class="t" transform="translate(312.1 118.9) scale(1 1.18)" text-anchor="end">−5</text>
<line x1="312.8" y1="116.0" x2="314.3" y2="116.0" stroke="#555" stroke-width="0.5"/>
<text class="t" transform="translate(312.1 88.1) scale(1 1.18)" text-anchor="end">0</text>
<line x1="312.8" y1="85.2" x2="314.3" y2="85.2" stroke="#555" stroke-width="0.5"/>
<text class="t" transform="translate(312.1 57.4) scale(1 1.18)" text-anchor="end">5</text>
<line x1="312.8" y1="54.5" x2="314.3" y2="54.5" stroke="#555" stroke-width="0.5"/>
<text class="t" transform="translate(312.1 26.6) scale(1 1.18)" text-anchor="end">10</text>
<line x1="312.8" y1="23.7" x2="314.3" y2="23.7" stroke="#555" stroke-width="0.5"/>
<rect x="516.3" y="155.41" width="8.5" height="8.19" fill="#67a3cc"/>
<rect x="516.3" y="147.52" width="8.5" height="8.19" fill="#c8d9ef"/>
<rect x="516.3" y="139.63" width="8.5" height="8.19" fill="#ffa85b"/>
<rect x="516.3" y="131.74" width="8.5" height="8.19" fill="#ffd1a3"/>
<rect x="516.3" y="123.85" width="8.5" height="8.19" fill="#70be70"/>
<rect x="516.3" y="115.96" width="8.5" height="8.19" fill="#b9e9af"/>
<rect x="516.3" y="108.07" width="8.5" height="8.19" fill="#e36c6d"/>
<rect x="516.3" y="100.18" width="8.5" height="8.19" fill="#ffb9b8"/>
<rect x="516.3" y="92.29" width="8.5" height="8.19" fill="#b698d2"/>
<rect x="516.3" y="84.40" width="8.5" height="8.19" fill="#d8c9e2"/>
<rect x="516.3" y="76.51" width="8.5" height="8.19" fill="#b18c85"/>
<rect x="516.3" y="68.62" width="8.5" height="8.19" fill="#d7bcb6"/>
<rect x="516.3" y="60.73" width="8.5" height="8.19" fill="#eca3d6"/>
<rect x="516.3" y="52.84" width="8.5" height="8.19" fill="#facde0"/>
<rect x="516.3" y="44.95" width="8.5" height="8.19" fill="#a8a8a8"/>
<rect x="516.3" y="37.06" width="8.5" height="8.19" fill="#d9d9d9"/>
<rect x="516.3" y="29.17" width="8.5" height="8.19" fill="#d1d269"/>
<rect x="516.3" y="21.28" width="8.5" height="8.19" fill="#e7e7b1"/>
<rect x="516.3" y="13.39" width="8.5" height="8.19" fill="#61d3de"/>
<rect x="516.3" y="5.50" width="8.5" height="8.19" fill="#bde6ed"/>
<rect x="516.3" y="5.5" width="8.5" height="157.8" fill="none" stroke="#c8c8c8" stroke-width="0.5"/>
<line x1="524.8" y1="163.3" x2="526.3" y2="163.3" stroke="#555" stroke-width="0.5"/>
<text class="t" transform="translate(527.1 166.2) scale(1 1.18)">0</text>
<line x1="524.8" y1="145.8" x2="526.3" y2="145.8" stroke="#555" stroke-width="0.5"/>
<text class="t" transform="translate(527.1 148.7) scale(1 1.18)">2</text>
<line x1="524.8" y1="128.2" x2="526.3" y2="128.2" stroke="#555" stroke-width="0.5"/>
<text class="t" transform="translate(527.1 131.1) scale(1 1.18)">4</text>
<line x1="524.8" y1="110.7" x2="526.3" y2="110.7" stroke="#555" stroke-width="0.5"/>
<text class="t" transform="translate(527.1 113.6) scale(1 1.18)">6</text>
<line x1="524.8" y1="93.2" x2="526.3" y2="93.2" stroke="#555" stroke-width="0.5"/>
<text class="t" transform="translate(527.1 96.1) scale(1 1.18)">8</text>
<line x1="524.8" y1="75.6" x2="526.3" y2="75.6" stroke="#555" stroke-width="0.5"/>
<text class="t" transform="translate(527.1 78.5) scale(1 1.18)">10</text>
<line x1="524.8" y1="58.1" x2="526.3" y2="58.1" stroke="#555" stroke-width="0.5"/>
<text class="t" transform="translate(527.1 61.0) scale(1 1.18)">12</text>
<line x1="524.8" y1="40.6" x2="526.3" y2="40.6" stroke="#555" stroke-width="0.5"/>
<text class="t" transform="translate(527.1 43.5) scale(1 1.18)">14</text>
<line x1="524.8" y1="23.0" x2="526.3" y2="23.0" stroke="#555" stroke-width="0.5"/>
<text class="t" transform="translate(527.1 25.9) scale(1 1.18)">16</text>
<line x1="524.8" y1="5.5" x2="526.3" y2="5.5" stroke="#555" stroke-width="0.5"/>
<text class="t" transform="translate(527.1 8.4) scale(1 1.18)">18</text>
<text class="cl" transform="translate(545.4,84.4) rotate(-90)" text-anchor="middle">Course ID</text>
<text class="cap" transform="translate(295.0 196.3) scale(1.046 1)">(<tspan font-weight="bold">b</tspan>) XueTangX-CLSA</text>
<line x1="42.2" y1="207.5" x2="42.2" y2="365.2" stroke="#f0f0f0" stroke-width="0.7"/>
<line x1="66.8" y1="207.5" x2="66.8" y2="365.2" stroke="#f0f0f0" stroke-width="0.7"/>
<line x1="91.4" y1="207.5" x2="91.4" y2="365.2" stroke="#f0f0f0" stroke-width="0.7"/>
<line x1="116.0" y1="207.5" x2="116.0" y2="365.2" stroke="#f0f0f0" stroke-width="0.7"/>
<line x1="140.6" y1="207.5" x2="140.6" y2="365.2" stroke="#f0f0f0" stroke-width="0.7"/>
<line x1="165.2" y1="207.5" x2="165.2" y2="365.2" stroke="#f0f0f0" stroke-width="0.7"/>
<line x1="189.8" y1="207.5" x2="189.8" y2="365.2" stroke="#f0f0f0" stroke-width="0.7"/>
<line x1="21.5" y1="348.5" x2="211.3" y2="348.5" stroke="#f0f0f0" stroke-width="0.7"/>
<line x1="21.5" y1="328.0" x2="211.3" y2="328.0" stroke="#f0f0f0" stroke-width="0.7"/>
<line x1="21.5" y1="307.5" x2="211.3" y2="307.5" stroke="#f0f0f0" stroke-width="0.7"/>
<line x1="21.5" y1="287.0" x2="211.3" y2="287.0" stroke="#f0f0f0" stroke-width="0.7"/>
<line x1="21.5" y1="266.5" x2="211.3" y2="266.5" stroke="#f0f0f0" stroke-width="0.7"/>
<line x1="21.5" y1="246.0" x2="211.3" y2="246.0" stroke="#f0f0f0" stroke-width="0.7"/>
<line x1="21.5" y1="225.5" x2="211.3" y2="225.5" stroke="#f0f0f0" stroke-width="0.7"/>
<path stroke="#d8c0c0" stroke-width="1.0" stroke-linecap="round" fill="none" d="M120 333q1 2 1 4M80 240q2 -1 4 -3M50 274q1 -3 -2 -4M162 301q-1 3 -2 5M152 268q2 -3 6 -5M57 306q-1 -1 0 -2M57 293q-1 1 -3 1M122 234q0 -1 1 -2M75 240q3 -2 3 -5M97 248q3 -2 6 1M166 292q1 5 -4 7M143 256q4 0 6 -4M161 282q2 -2 4 0M102 331q-1 0 -2 -1M128 226q4 -5 8 -1M150 248q1 -3 4 -4M72 286q-2 5 -5 1M64 325q-4 -1 -4 3M72 310q-2 3 -5 2M103 322q-4 0 -4 3M151 317q-1 2 -2 2"/><path stroke="#d8a8a8" stroke-width="1.0" stroke-linecap="round" fill="none" d="M122 353q2 2 4 3M74 325q-1 -2 -3 -2M61 283q-1 -2 1 -4M108 243q-6 0 -2 -5M184 264q1 -3 5 -3"/><path stroke="#c0c078" stroke-width="1.5" stroke-linecap="round" fill="none" d="M47 282q-2 -4 1 -6M140 328q1 1 2 2M159 339q4 3 6 5M115 329q-4 -1 -7 -4M76 310q-3 1 -4 4M117 345q-3 3 -2 7M164 256q2 -2 0 -4M75 268q1 -4 -4 -7M160 274q0 2 -1 3M70 306q-2 1 -5 0M162 263q0 -1 0 -2M94 342q-3 -1 -6 -3"/><path stroke="#a89078" stroke-width="2.0" stroke-linecap="round" fill="none" d="M53 297q-4 1 -8 -2M65 280q-3 -2 -5 -5M129 344q-2 1 -3 1M78 233q0 -2 -3 -2M90 240q3 -1 6 -1"/><path stroke="#c0a890" stroke-width="1.5" stroke-linecap="round" fill="none" d="M149 260q0 2 1 3M93 257q-1 -3 1 -7M158 292q3 2 6 0M69 243q3 0 3 -3M71 281q-3 -3 0 -5M73 311q-1 0 -2 1M110 235q1 -4 3 -7M156 240q4 0 7 -2M165 294q2 -2 6 -3M92 318q-1 -4 -6 -4M159 301q-1 2 -4 2M161 301q-1 3 1 4M151 265q2 2 5 3M92 319q-2 -2 -4 -1M124 323q-4 0 -6 4M148 261q3 1 7 1M139 336q-3 4 1 6M142 261q0 -3 2 -6M116 352q-4 2 -7 -1M103 246q1 -1 3 -2M163 284q4 3 1 7M184 289q3 3 7 4M171 293q2 -1 4 1M97 250q3 -1 6 2M49 284q1 -2 4 -2M139 320q-2 1 -4 0M55 309q-3 2 -4 -1M162 298q3 -1 5 -4M111 333q-4 3 -5 -2M105 251q-3 -2 -3 -5M76 262q3 -1 6 -1M47 299q-1 -4 -5 -5M115 336q1 -3 -1 -4M153 314q-4 0 -7 2M93 246q3 0 5 -1M156 247q1 2 3 4"/><path stroke="#d8a8c0" stroke-width="2.0" stroke-linecap="round" fill="none" d="M79 314q-2 2 -5 1M121 333q-4 1 -6 3M70 280q-1 -2 0 -3M160 278q2 1 5 0M147 332q-1 2 -2 0M147 251q0 -1 -1 -2"/><path stroke="#c0a8a8" stroke-width="2.0" stroke-linecap="round" fill="none" d="M72 270q-1 -1 -2 -2M98 244q1 -3 -2 -4M82 256q3 -3 7 -1M87 262q0 -3 -2 -4M184 270q1 -6 7 -4M87 339q-1 -3 -5 -5"/><path stroke="#a89078" stroke-width="1.5" stroke-linecap="round" fill="none" d="M100 342q-3 0 -7 -1M122 229q2 0 2 2M158 300q-3 3 -1 7M99 318q-1 3 -1 7M52 270q-4 -2 -6 -5"/><path stroke="#c0a890" stroke-width="1.0" stroke-linecap="round" fill="none" d="M175 278q-3 3 -3 7M126 324q-3 3 -5 -1M102 248q1 -4 -2 -6M52 311q0 -2 -1 -5M42 305q3 -4 -2 -7M52 311q-1 2 -2 3M181 261q0 1 -1 3M73 299q-1 0 -2 2M121 250q1 -2 0 -4M49 313q-4 0 -8 2M99 319q-1 1 -1 3M159 289q2 0 5 0M132 327q-2 2 -4 5M141 253q1 -2 3 -4M139 254q2 0 2 2"/><path stroke="#c0a890" stroke-width="2.0" stroke-linecap="round" fill="none" d="M81 263q-1 -2 -2 0M115 322q-1 3 -3 6M111 246q2 -3 0 -6M79 268q-3 0 -5 1M77 257q0 -2 -1 -2M82 247q0 -3 2 -5M74 261q-3 -1 -4 -2M55 281q0 -3 1 -6M93 338q-3 2 0 4M123 321q3 0 3 2M113 236q2 0 3 -3M77 309q3 -3 1 -6M161 254q-1 2 -1 4M145 259q2 -2 0 -4"/><path stroke="#c09090" stroke-width="1.5" stroke-linecap="round" fill="none" d="M54 279q0 4 -4 3M66 239q0 -3 3 -2"/><path stroke="#d8c0c0" stroke-width="1.5" stroke-linecap="round" fill="none" d="M119 324q1 4 2 7M49 323q2 -5 -3 -5M51 270q2 -1 2 -4M135 322q0 2 1 3M90 324q-1 3 -4 3M121 247q1 -2 3 -3M141 235q3 1 6 1M90 317q-2 0 -1 2M160 305q-2 3 -2 7M85 314q-2 0 -4 0M62 323q-2 1 -3 4M69 278q5 0 7 -4M59 269q2 1 1 -1M128 249q4 1 4 6M133 251q3 2 6 3M142 317q-1 2 -4 3M106 333q-3 -1 -5 0M99 322q-3 1 -6 0M160 312q-1 -1 -2 1M106 232q2 -2 5 0M71 281q3 -3 2 -7M142 250q3 0 4 3M139 338q2 1 3 3M85 265q-4 0 -6 -4M162 302q-2 3 -4 7M145 244q2 -4 6 -4M141 256q5 0 5 5M79 260q6 0 4 -5M148 257q-1 -1 0 -3"/><path stroke="#d8c090" stroke-width="1.5" stroke-linecap="round" fill="none" d="M70 253q-2 0 -3 0M101 325q-2 -4 -6 -4M134 240q2 -1 4 -2M151 235q3 -3 5 2M170 246q0 -3 3 -3M163 294q-1 1 -1 2M119 347q-2 -2 -4 -3M147 343q-4 0 -7 -2M163 270q3 -2 4 -5M133 339q0 1 -1 2M121 232q1 -1 2 -2M85 255q-1 -2 1 -4M33 287q2 0 1 -2M80 339q4 0 2 3M144 257q-1 -3 1 -6M165 254q2 2 4 2M67 298q-2 1 -3 2M127 325q0 1 0 3M110 339q-4 -2 -7 0M154 306q-1 2 -3 4M180 326q-1 1 -2 2M74 306q0 3 -1 7"/><path stroke="#d8c0a8" stroke-width="1.0" stroke-linecap="round" fill="none" d="M98 326q-3 -2 -5 1M97 249q1 -1 2 -2M113 244q3 2 7 1M76 320q-2 -3 -6 -3M173 276q3 -5 8 -2M116 344q-3 1 -5 -1M140 255q1 -3 3 -6M104 322q2 2 4 4M126 326q-3 2 -5 0M75 269q-4 -2 -3 -6M159 293q1 -1 3 -1"/><path stroke="#c0c090" stroke-width="1.5" stroke-linecap="round" fill="none" d="M80 337q-2 1 -3 4M190 267q2 -1 3 0M63 252q2 -2 2 -5M125 237q0 -2 -1 -5M161 287q0 1 0 2M133 331q-1 2 -1 4M100 331q-1 3 -4 1M133 339q2 3 -1 5M107 252q4 0 5 -3M101 338q-3 0 -4 -3M137 254q3 2 5 -1M174 279q4 3 2 7M92 317q-4 1 -2 4M160 300q1 3 4 1M182 271q1 2 3 3M158 297q3 -2 4 1M193 289q2 0 3 -2M59 297q1 -1 0 -3M179 285q4 1 7 -1M98 329q-1 2 -2 5M163 260q2 2 2 5M169 289q-1 1 -1 2M73 292q-4 -1 -7 2M130 348q0 3 -2 6"/><path stroke="#c0a8c0" stroke-width="2.0" stroke-linecap="round" fill="none" d="M66 311q3 -3 5 -6M84 259q2 -4 2 -8"/><path stroke="#d8c090" stroke-width="2.0" stroke-linecap="round" fill="none" d="M125 323q-3 1 -5 0M166 282q-1 2 0 3M85 315q-5 0 -5 -5M142 245q5 0 4 -4M178 275q-1 2 -1 3M151 267q1 -2 3 -4M99 321q-2 3 2 5M66 329q0 -2 0 -4M74 277q-2 -1 -4 0M101 344q-2 1 -4 0M155 318q-2 2 -4 4"/><path stroke="#d8c0a8" stroke-width="1.5" stroke-linecap="round" fill="none" d="M176 247q3 1 4 4M155 231q3 1 5 -1M168 277q5 1 3 6M142 323q-4 0 -2 3M110 252q1 -2 0 -3M117 344q0 2 -2 1M58 238q2 -3 6 -2M123 250q2 1 5 1M155 310q-3 1 -5 2M161 264q-3 3 -1 7M85 326q-3 -3 -5 -6M190 260q1 7 7 3M163 243q2 -1 2 -3M76 322q3 -5 -3 -7M87 243q0 -1 -2 -1M39 270q-3 -1 -7 -1M147 332q2 2 4 1M113 222q1 1 2 2M180 315q-2 1 -4 1M124 330q-1 1 -2 1M166 294q1 2 3 0M185 321q0 1 1 2M159 269q1 4 4 6M125 250q1 2 4 3M41 310q-3 3 -6 3M165 311q2 0 2 2M52 298q-1 1 -2 2M126 251q0 -4 -1 -7M110 340q-3 0 -5 -3M168 269q1 -3 5 -3M73 260q0 -1 2 -2M146 251q3 -1 4 -3M86 320q2 -3 -1 -4M193 262q0 3 -1 4M89 239q3 0 4 -3M89 257q-1 -4 -6 -3M75 304q-2 1 -3 0"/><path stroke="#d8c0d8" stroke-width="2.0" stroke-linecap="round" fill="none" d="M139 332q-4 5 -7 0"/><path stroke="#a89090" stroke-width="1.5" stroke-linecap="round" fill="none" d="M63 244q1 -1 1 -2M77 248q1 0 2 0M150 228q0 -2 0 -4M159 301q3 2 3 6M84 262q0 -2 -1 -3"/><path stroke="#c0c090" stroke-width="2.0" stroke-linecap="round" fill="none" d="M163 287q-2 -1 -3 1M128 226q1 -1 2 -2M163 275q2 0 4 -2M124 341q-3 2 -6 1M169 261q3 0 6 1M136 329q-2 5 -4 1M88 319q-2 1 -2 2"/><path stroke="#c0a8a8" stroke-width="1.0" stroke-linecap="round" fill="none" d="M95 323q1 2 0 4M162 247q1 2 3 4"/><path stroke="#c0a878" stroke-width="1.5" stroke-linecap="round" fill="none" d="M174 251q-2 1 -1 3M51 277q-3 -1 -5 -4M51 259q0 -2 2 -3M87 329q2 -6 -4 -6M80 267q-1 -1 -3 -2M92 322q-1 3 0 6"/><path stroke="#d8a8c0" stroke-width="1.0" stroke-linecap="round" fill="none" d="M158 307q-4 -1 -7 0M106 254q-2 -2 -2 -4M47 291q-2 1 -4 2M78 325q-1 -2 -2 -4M154 322q3 0 6 1M131 252q1 -4 2 -7"/><path stroke="#c0c090" stroke-width="1.0" stroke-linecap="round" fill="none" d="M115 223q0 -1 1 -2M158 243q1 1 3 1M151 230q1 -1 1 -3M63 329q-3 -3 -6 -3M107 251q2 -1 3 -3M62 289q0 -5 -4 -2M48 287q1 -4 -3 -6M187 267q-1 3 2 4M159 300q3 -1 4 -3M167 321q2 -1 4 1"/><path stroke="#c0c0a8" stroke-width="2.0" stroke-linecap="round" fill="none" d="M70 294q0 3 -3 2M173 278q3 5 6 0"/><path stroke="#a89090" stroke-width="2.0" stroke-linecap="round" fill="none" d="M106 338q0 1 -1 2M151 267q4 1 5 -3M109 242q2 -3 5 -4"/><path stroke="#d8a8a8" stroke-width="2.0" stroke-linecap="round" fill="none" d="M118 249q-1 -3 1 -5M153 251q0 -4 4 -6M122 227q0 -2 -1 -4M156 306q3 -1 3 1M97 226q0 -1 -2 -2M83 249q-1 1 -3 1M183 320q0 2 1 2M132 256q-4 -3 0 -6"/><path stroke="#c09090" stroke-width="1.0" stroke-linecap="round" fill="none" d="M83 263q5 -4 1 -8M81 343q-4 -1 -7 -3"/><path stroke="#d8c090" stroke-width="1.0" stroke-linecap="round" fill="none" d="M65 262q3 -2 3 -5M169 254q2 0 4 1M161 274q-2 2 -2 5M66 295q1 -3 3 -6M63 298q-2 -3 -1 -5M158 316q-4 -2 -6 1"/><path stroke="#a89090" stroke-width="1.0" stroke-linecap="round" fill="none" d="M110 322q1 2 0 3M137 227q3 0 6 1M160 303q-4 0 -6 3"/><path stroke="#d8c0c0" stroke-width="2.0" stroke-linecap="round" fill="none" d="M83 254q-1 -2 -2 -5M133 251q0 -1 1 -2M138 256q1 -3 4 -4M145 251q4 1 5 -2M68 271q-3 -6 -6 -1M68 274q5 0 5 -5M160 273q2 0 3 0M113 322q3 2 1 5M165 282q0 2 -2 3M166 269q3 0 6 -1M117 335q-2 -1 -3 -1M122 327q0 4 0 8"/><path stroke="#d8c0a8" stroke-width="2.0" stroke-linecap="round" fill="none" d="M86 317q-1 0 -2 1M57 254q3 -2 4 -4M161 276q2 3 4 6M70 262q4 1 5 -3M167 282q2 -1 3 0M150 260q2 1 3 3M156 307q2 0 4 0M183 303q1 4 0 7M134 330q0 2 -1 3M51 275q4 -1 4 -5M148 315q-4 1 -5 5M73 304q-1 0 -2 -2M112 328q0 2 -3 3M132 339q0 3 2 5M58 304q-3 -2 -6 -1M141 322q2 5 -3 6M71 271q-1 -1 -3 -1M56 248q2 -1 3 -4M164 308q0 3 -3 5M190 275q2 3 3 7M115 320q-2 3 -2 6M164 304q0 3 -2 4M164 243q0 2 2 2"/><path stroke="#d8a8a8" stroke-width="1.5" stroke-linecap="round" fill="none" d="M116 323q-1 4 0 7M169 280q3 -1 7 -1M138 316q1 2 0 5M144 347q-1 1 -3 0M110 249q3 0 4 -3M56 298q-3 2 -7 1M125 323q-1 1 -2 0M47 252q1 1 2 0M92 238q-1 -1 -2 -2M156 296q4 0 7 3M122 245q2 -1 4 0M47 267q1 -2 2 -4M164 280q-3 3 -3 7M124 235q1 -3 4 -5M159 298q1 3 -2 5"/><path stroke="#c0a8a8" stroke-width="1.5" stroke-linecap="round" fill="none" d="M68 291q-1 2 -3 2M138 225q0 -3 2 -6M76 313q-4 1 -7 3"/><path stroke="#c0c0a8" stroke-width="1.5" stroke-linecap="round" fill="none" d="M183 299q-2 2 0 4M157 235q2 -2 5 -4M93 318q-5 0 -5 4"/><path stroke="#a8a8c0" stroke-width="2.0" stroke-linecap="round" fill="none" d="M101 329q-2 1 -3 -1"/><path stroke="#c0c0a8" stroke-width="1.0" stroke-linecap="round" fill="none" d="M96 327q-1 -4 -4 -1M132 326q0 1 -2 2M69 285q-4 5 -7 0M95 344q-2 0 -3 1"/><path stroke="#c0a878" stroke-width="1.0" stroke-linecap="round" fill="none" d="M165 310q2 -3 6 -1M80 316q0 1 -1 2"/><path stroke="#c0c078" stroke-width="1.0" stroke-linecap="round" fill="none" d="M110 324q1 2 2 2M53 283q0 1 -1 2M171 288q-4 4 0 7M100 237q-1 -2 1 -3"/><path stroke="#a8a8c0" stroke-width="1.5" stroke-linecap="round" fill="none" d="M73 265q3 -2 3 -5M185 280q-1 3 -3 6"/><path stroke="#d8a8c0" stroke-width="1.5" stroke-linecap="round" fill="none" d="M87 250q-1 0 -1 -2M133 323q-1 3 -4 6M161 302q2 2 0 3M55 274q0 -2 0 -3M175 258q0 -3 2 -5M106 243q1 -1 2 -1M111 322q1 4 -3 7M129 354q-1 -1 -3 -1M87 325q-1 -1 -3 -1M142 336q2 3 2 6M159 312q0 2 0 5"/><path stroke="#c0c078" stroke-width="2.0" stroke-linecap="round" fill="none" d="M104 340q-1 0 -3 0M157 294q4 1 7 -3M133 247q2 4 6 4"/><path stroke="#c0c0c0" stroke-width="1.5" stroke-linecap="round" fill="none" d="M71 243q4 -2 8 1"/><path stroke="#c0c0d8" stroke-width="2.0" stroke-linecap="round" fill="none" d="M129 250q0 -2 2 -2"/><path stroke="#d8a890" stroke-width="1.0" stroke-linecap="round" fill="none" d="M91 332q1 3 3 6"/><path stroke="#c0a8c0" stroke-width="1.5" stroke-linecap="round" fill="none" d="M106 322q-3 -3 -5 0"/><path stroke="#c0c0c0" stroke-width="2.0" stroke-linecap="round" fill="none" d="M141 335q1 1 3 1"/><path stroke="#c09090" stroke-width="2.0" stroke-linecap="round" fill="none" d="M106 327q-3 3 -5 -2"/><path stroke="#c0a878" stroke-width="2.0" stroke-linecap="round" fill="none" d="M169 308q3 1 4 3M169 287q0 3 3 4M52 262q-4 -1 -7 -1M77 262q1 -2 2 -2M93 239q2 -1 4 -3"/><path stroke="#d8c0d8" stroke-width="1.5" stroke-linecap="round" fill="none" d="M72 281q-1 -1 -2 -1"/><path stroke="#a89078" stroke-width="1.0" stroke-linecap="round" fill="none" d="M138 322q-1 2 1 5"/><path stroke="#d8c090" stroke-width="1.5" stroke-linecap="round" fill="none" d="M152 259q-2 3 -3 5M154 265q3 2 4 5M157 301q-1 3 -1 5M152 244q-6 3 -2 8M182 302q-4 4 -8 1M185 296q3 3 2 7M148 260q0 4 4 5M174 310q-1 3 1 4M185 306q1 2 3 4M156 288q5 -2 9 2"/><path stroke="#a89078" stroke-width="1.5" stroke-linecap="round" fill="none" d="M173 310q0 2 -1 4M182 270q3 0 5 3M184 269q-2 0 -4 1M176 283q2 0 4 1M154 304q0 3 4 3"/><path stroke="#c0a890" stroke-width="1.5" stroke-linecap="round" fill="none" d="M152 261q-1 5 2 8M165 253q3 -2 5 0M160 316q2 3 5 2M153 254q0 2 0 4M163 258q-1 5 2 8M182 288q2 5 8 4M170 300q1 4 5 3M159 266q1 4 0 7M186 267q1 2 -1 3M153 326q-2 3 0 5M187 267q-1 2 0 4M188 272q-1 1 -3 1M165 276q3 0 4 3M166 305q-4 -3 -5 2M185 289q-1 5 -6 5M166 322q2 1 5 2M155 310q-2 3 -5 2M151 302q3 2 5 6M163 251q-2 1 -5 2M161 319q-3 -2 -5 1"/><path stroke="#c0a890" stroke-width="2.0" stroke-linecap="round" fill="none" d="M171 255q-3 1 -6 1M159 251q-3 3 -4 7M190 288q1 3 0 7M170 237q-4 2 -4 7M157 313q0 3 -4 4M160 325q1 3 0 5M161 301q2 0 5 1M172 268q0 3 3 3M156 330q-2 6 -6 1M159 258q3 3 -1 5M161 280q2 3 4 5M162 242q-1 3 2 3M175 258q1 1 3 1M161 307q2 4 5 7M177 274q2 5 -3 8"/><path stroke="#d8c0a8" stroke-width="2.0" stroke-linecap="round" fill="none" d="M172 327q-2 1 -3 2M166 285q1 4 3 8M171 305q3 5 -1 8M168 315q1 3 3 3M151 322q4 3 1 8M162 323q-1 3 -4 2M184 313q-5 0 -7 3M157 331q1 2 1 3"/><path stroke="#d8a8c0" stroke-width="2.0" stroke-linecap="round" fill="none" d="M187 305q-4 -2 -8 0M185 290q-2 0 -2 3M169 298q2 1 5 1M190 280q-4 -1 -7 3"/><path stroke="#d8a8a8" stroke-width="2.0" stroke-linecap="round" fill="none" d="M180 290q0 2 3 2M149 304q1 3 3 5M157 242q1 5 -4 7M174 279q1 -2 3 0M161 297q2 5 7 4M155 299q1 4 1 8"/><path stroke="#c0c090" stroke-width="2.0" stroke-linecap="round" fill="none" d="M165 313q3 0 4 2M148 261q4 2 8 1M178 314q-1 1 -2 3M153 262q0 2 1 3M160 245q1 1 2 2M189 300q1 1 -1 3M193 274q-2 4 -3 8M155 256q-2 0 -5 2M183 295q-3 2 -2 6M167 240q-1 1 -3 1M157 254q0 4 -2 8"/><path stroke="#d8c0c0" stroke-width="1.5" stroke-linecap="round" fill="none" d="M178 260q3 4 1 9M180 315q0 4 -2 7M154 254q-3 1 -3 4M154 321q3 0 5 1M181 263q-2 4 -6 7"/><path stroke="#d8a878" stroke-width="2.0" stroke-linecap="round" fill="none" d="M159 293q1 2 3 2M159 268q2 1 5 1"/><path stroke="#c0c090" stroke-width="1.5" stroke-linecap="round" fill="none" d="M166 305q-4 1 -8 1M166 299q2 1 4 3M159 299q-6 1 -3 7M162 255q5 6 -3 8M174 301q-1 4 3 5M160 322q-2 1 -2 3M180 250q0 3 0 6M161 294q1 1 2 3M173 300q5 1 3 6"/><path stroke="#c0a8a8" stroke-width="2.0" stroke-linecap="round" fill="none" d="M160 307q2 2 1 5M150 305q3 1 1 3M151 251q4 0 5 4M168 255q-1 4 -5 2"/><path stroke="#c0a878" stroke-width="1.0" stroke-linecap="round" fill="none" d="M169 303q-2 4 1 7M186 295q2 3 4 6M177 263q-2 3 -3 7M177 314q2 2 3 3"/><path stroke="#c0a878" stroke-width="1.5" stroke-linecap="round" fill="none" d="M170 272q-2 2 -3 4M155 301q-1 4 -4 7M158 245q-1 4 0 9M174 271q-2 1 -1 3M161 320q2 2 5 3M186 303q-2 4 0 8"/><path stroke="#c09090" stroke-width="2.0" stroke-linecap="round" fill="none" d="M181 266q0 2 2 3M159 259q0 5 -4 8"/><path stroke="#c0a878" stroke-width="2.0" stroke-linecap="round" fill="none" d="M162 257q5 1 6 6M159 238q1 4 0 7M161 325q-3 1 -6 3M149 323q-2 5 3 7M176 315q-1 4 2 7M157 258q-4 -1 -6 2M161 300q-2 1 -3 3"/><path stroke="#c0a890" stroke-width="1.0" stroke-linecap="round" fill="none" d="M171 299q-5 1 -8 5M169 321q1 3 4 3"/><path stroke="#d8a878" stroke-width="1.5" stroke-linecap="round" fill="none" d="M152 238q-1 3 1 6"/><path stroke="#c0a8a8" stroke-width="1.0" stroke-linecap="round" fill="none" d="M165 272q-1 2 -3 2"/><path stroke="#d8c0c0" stroke-width="2.0" stroke-linecap="round" fill="none" d="M172 268q-3 0 -6 1M164 278q3 3 2 6M161 286q0 2 -2 3"/><path stroke="#c0c078" stroke-width="2.0" stroke-linecap="round" fill="none" d="M188 270q-3 4 -7 2M161 268q0 5 -5 7M165 291q7 0 6 6M150 234q2 2 3 4M167 267q7 1 1 6M158 301q2 0 3 2M188 293q1 3 3 6"/><path stroke="#c0a860" stroke-width="1.5" stroke-linecap="round" fill="none" d="M182 291q2 3 5 3"/><path stroke="#c0c078" stroke-width="1.0" stroke-linecap="round" fill="none" d="M161 303q2 4 1 8M149 322q3 -1 3 3"/><path stroke="#c0c078" stroke-width="1.5" stroke-linecap="round" fill="none" d="M177 287q-1 3 -3 5M156 265q-2 1 -3 2M179 285q-1 1 -2 2M162 260q2 2 3 5"/><path stroke="#d8a8c0" stroke-width="1.5" stroke-linecap="round" fill="none" d="M176 288q6 0 5 6M164 257q3 1 5 4M161 313q-1 3 -3 1M162 299q3 2 5 4M152 315q4 2 7 3M183 289q2 3 6 4M175 293q0 3 -1 5"/><path stroke="#d8a8a8" stroke-width="1.5" stroke-linecap="round" fill="none" d="M152 311q0 2 -1 3M161 241q-2 2 -5 1M165 308q-4 2 -7 4M152 256q0 3 2 2M164 287q2 3 0 5"/><path stroke="#a89090" stroke-width="1.5" stroke-linecap="round" fill="none" d="M174 269q-6 -2 -7 4M180 292q0 4 -2 8M173 282q-4 5 2 7"/><path stroke="#d8c090" stroke-width="2.0" stroke-linecap="round" fill="none" d="M154 263q6 -1 8 4M178 298q3 3 7 3M163 272q-1 2 -2 5M164 284q4 -2 5 3M153 318q0 4 -3 7M171 301q-4 0 -4 4M165 283q-3 -1 -6 1M182 259q0 3 0 5M167 292q2 4 2 8M188 303q-3 -1 -4 2M158 309q-2 4 -6 3"/><path stroke="#a89090" stroke-width="2.0" stroke-linecap="round" fill="none" d="M159 246q-2 2 -4 5M178 301q4 1 8 4"/><path stroke="#c0a8c0" stroke-width="1.5" stroke-linecap="round" fill="none" d="M176 255q-4 1 -8 1M159 316q0 2 -1 4"/><path stroke="#a89078" stroke-width="2.0" stroke-linecap="round" fill="none" d="M173 271q0 4 1 7M163 309q-4 3 -9 3M191 290q-3 0 -5 2M160 329q1 2 2 3M181 268q2 4 6 1"/><path stroke="#d8a890" stroke-width="1.5" stroke-linecap="round" fill="none" d="M169 243q-2 4 -7 5"/><path stroke="#d8a8a8" stroke-width="1.0" stroke-linecap="round" fill="none" d="M168 297q1 2 3 3M150 326q2 3 6 3"/><path stroke="#c0a8c0" stroke-width="2.0" stroke-linecap="round" fill="none" d="M187 276q2 4 3 8M163 282q-2 2 -2 5M163 329q-2 1 -1 4M166 269q4 1 3 5"/><path stroke="#d8c0a8" stroke-width="1.5" stroke-linecap="round" fill="none" d="M157 259q-3 2 -1 5M166 289q0 3 2 4M182 255q1 5 -5 7M177 302q4 2 8 2M154 322q-2 0 -3 2"/><path stroke="#d8c0a8" stroke-width="1.0" stroke-linecap="round" fill="none" d="M191 264q-4 -2 -7 1"/><path stroke="#c0c0c0" stroke-width="1.5" stroke-linecap="round" fill="none" d="M175 319q2 3 -1 5"/><path stroke="#d8a890" stroke-width="2.0" stroke-linecap="round" fill="none" d="M192 284q-1 2 -1 4"/><path stroke="#c0a8a8" stroke-width="1.5" stroke-linecap="round" fill="none" d="M157 259q-2 1 -2 3"/><path stroke="#d8a890" stroke-width="1.0" stroke-linecap="round" fill="none" d="M149 234q5 -3 6 2"/><path stroke="#d8c090" stroke-width="1.0" stroke-linecap="round" fill="none" d="M163 258q0 3 -3 4M169 255q-3 -1 -6 1"/><path stroke="#a8a8c0" stroke-width="2.0" stroke-linecap="round" fill="none" d="M161 299q-5 1 -4 5"/><path stroke="#a8a860" stroke-width="1.0" stroke-linecap="round" fill="none" d="M180 283q-1 2 -4 2"/><path stroke="#a8a860" stroke-width="1.5" stroke-linecap="round" fill="none" d="M161 261q0 3 -3 2"/><path stroke="#c0a8c0" stroke-width="1.0" stroke-linecap="round" fill="none" d="M155 265q3 2 6 4"/><path stroke="#a89090" stroke-width="1.0" stroke-linecap="round" fill="none" d="M178 292q4 2 9 0"/><path stroke="#c0c0a8" stroke-width="2.0" stroke-linecap="round" fill="none" d="M170 256q-2 -1 -3 1"/><path stroke="#d890a8" stroke-width="2.0" stroke-linecap="round" fill="none" d="M159 296q3 3 5 5"/><g filter="url(#tx4)"><path d="M112.0 246.0C112.7 243.3 124.0 239.3 130.0 238.0C136.0 236.7 143.0 236.3 148.0 238.0C153.0 239.7 156.7 244.0 160.0 248.0C163.3 252.0 166.0 256.7 168.0 262.0C170.0 267.3 172.0 273.7 172.0 280.0C172.0 286.3 170.3 293.7 168.0 300.0C165.7 306.3 161.8 313.0 158.0 318.0C154.2 323.0 149.3 326.7 145.0 330.0C140.7 333.3 136.2 337.7 132.0 338.0C127.8 338.3 121.3 336.3 120.0 332.0C118.7 327.7 122.3 318.7 124.0 312.0C125.7 305.3 128.7 298.7 130.0 292.0C131.3 285.3 132.7 278.3 132.0 272.0C131.3 265.7 129.3 258.3 126.0 254.0C122.7 249.7 111.3 248.7 112.0 246.0Z" fill="#c29c92" /></g><g filter="url(#tx3)"><ellipse cx="152" cy="250" rx="3.6" ry="2.3" transform="rotate(-50 152 250)" fill="#b89c7c"/><ellipse cx="172" cy="263" rx="2.7" ry="2.0" transform="rotate(56 172 263)" fill="#c8a0a0"/><ellipse cx="166" cy="272" rx="5.1" ry="1.2" transform="rotate(121 166 272)" fill="#c6a890"/><ellipse cx="167" cy="336" rx="3.2" ry="1.1" transform="rotate(161 167 336)" fill="#b89c7c"/><ellipse cx="148" cy="241" rx="5.0" ry="1.6" transform="rotate(-75 148 241)" fill="#c69c98"/><ellipse cx="167" cy="251" rx="5.0" ry="1.7" transform="rotate(68 167 251)" fill="#bea47c"/><ellipse cx="182" cy="296" rx="5.2" ry="1.8" transform="rotate(108 182 296)" fill="#c6a890"/><ellipse cx="184" cy="313" rx="3.5" ry="2.0" transform="rotate(154 184 313)" fill="#c8a0a0"/><ellipse cx="147" cy="251" rx="3.1" ry="2.4" transform="rotate(4 147 251)" fill="#bea47c"/><ellipse cx="150" cy="247" rx="3.8" ry="1.3" transform="rotate(-14 150 247)" fill="#c0a488"/><ellipse cx="181" cy="283" rx="4.3" ry="1.5" transform="rotate(62 181 283)" fill="#c6a890"/><ellipse cx="179" cy="302" rx="4.3" ry="1.3" transform="rotate(144 179 302)" fill="#b4a472"/><ellipse cx="177" cy="296" rx="5.4" ry="2.3" transform="rotate(143 177 296)" fill="#c69c98"/><ellipse cx="169" cy="301" rx="3.4" ry="1.0" transform="rotate(158 169 301)" fill="#c0a488"/><ellipse cx="154" cy="256" rx="5.5" ry="1.2" transform="rotate(49 154 256)" fill="#b4a472"/><ellipse cx="153" cy="327" rx="2.8" ry="1.4" transform="rotate(126 153 327)" fill="#b49478"/><ellipse cx="151" cy="323" rx="5.7" ry="1.7" transform="rotate(182 151 323)" fill="#bea47c"/><ellipse cx="192" cy="282" rx="3.8" ry="2.1" transform="rotate(68 192 282)" fill="#c0a488"/><ellipse cx="188" cy="304" rx="5.6" ry="1.1" transform="rotate(93 188 304)" fill="#c69c98"/><ellipse cx="169" cy="271" rx="3.6" ry="2.3" transform="rotate(52 169 271)" fill="#b49478"/><ellipse cx="167" cy="251" rx="4.1" ry="2.3" transform="rotate(102 167 251)" fill="#bea47c"/><ellipse cx="148" cy="253" rx="3.7" ry="2.0" transform="rotate(-4 148 253)" fill="#b89c7c"/><ellipse cx="193" cy="286" rx="5.5" ry="2.1" transform="rotate(132 193 286)" fill="#c6a890"/><ellipse cx="170" cy="285" rx="3.1" ry="2.4" transform="rotate(112 170 285)" fill="#c0a488"/><ellipse cx="167" cy="255" rx="5.0" ry="1.7" transform="rotate(79 167 255)" fill="#c69c98"/><ellipse cx="146" cy="241" rx="2.6" ry="2.3" transform="rotate(85 146 241)" fill="#b89c7c"/><ellipse cx="155" cy="237" rx="5.7" ry="1.5" transform="rotate(-42 155 237)" fill="#b49478"/><ellipse cx="186" cy="276" rx="5.5" ry="1.4" transform="rotate(88 186 276)" fill="#b4a472"/><ellipse cx="175" cy="325" rx="2.6" ry="1.6" transform="rotate(74 175 325)" fill="#b49478"/><ellipse cx="159" cy="318" rx="3.6" ry="2.3" transform="rotate(135 159 318)" fill="#c0a488"/><ellipse cx="188" cy="290" rx="4.1" ry="1.4" transform="rotate(122 188 290)" fill="#c6a890"/><ellipse cx="145" cy="244" rx="3.0" ry="2.1" transform="rotate(-23 145 244)" fill="#b4a472"/><ellipse cx="171" cy="249" rx="2.5" ry="2.2" transform="rotate(15 171 249)" fill="#bea47c"/><ellipse cx="147" cy="323" rx="4.3" ry="1.7" transform="rotate(132 147 323)" fill="#c8a0a0"/><ellipse cx="182" cy="295" rx="5.3" ry="2.3" transform="rotate(101 182 295)" fill="#b49478"/><ellipse cx="154" cy="324" rx="2.9" ry="1.5" transform="rotate(227 154 324)" fill="#c6a890"/><ellipse cx="170" cy="326" rx="4.7" ry="1.8" transform="rotate(124 170 326)" fill="#c0a488"/><ellipse cx="161" cy="327" rx="3.5" ry="1.3" transform="rotate(121 161 327)" fill="#c8a0a0"/><ellipse cx="176" cy="252" rx="4.7" ry="2.0" transform="rotate(84 176 252)" fill="#b89c7c"/><ellipse cx="168" cy="290" rx="5.9" ry="1.3" transform="rotate(61 168 290)" fill="#b49478"/><ellipse cx="159" cy="237" rx="5.6" ry="2.2" transform="rotate(-6 159 237)" fill="#b89c7c"/><ellipse cx="178" cy="321" rx="4.4" ry="2.0" transform="rotate(130 178 321)" fill="#b49478"/><ellipse cx="158" cy="245" rx="4.4" ry="2.4" transform="rotate(35 158 245)" fill="#c8a0a0"/><ellipse cx="188" cy="302" rx="2.6" ry="2.1" transform="rotate(155 188 302)" fill="#b49478"/><ellipse cx="167" cy="312" rx="2.9" ry="2.0" transform="rotate(156 167 312)" fill="#b49478"/><ellipse cx="151" cy="326" rx="2.8" ry="2.4" transform="rotate(153 151 326)" fill="#b89c7c"/><ellipse cx="167" cy="250" rx="4.8" ry="1.6" transform="rotate(8 167 250)" fill="#c6a890"/><ellipse cx="171" cy="266" rx="2.6" ry="1.6" transform="rotate(48 171 266)" fill="#c69c98"/><ellipse cx="154" cy="242" rx="4.9" ry="1.6" transform="rotate(10 154 242)" fill="#bea47c"/><ellipse cx="184" cy="261" rx="5.2" ry="2.4" transform="rotate(69 184 261)" fill="#c6a890"/><ellipse cx="152" cy="238" rx="5.8" ry="2.0" transform="rotate(-60 152 238)" fill="#c0a488"/><ellipse cx="150" cy="340" rx="5.2" ry="2.3" transform="rotate(201 150 340)" fill="#c69c98"/><ellipse cx="189" cy="277" rx="4.1" ry="2.2" transform="rotate(91 189 277)" fill="#bea47c"/><ellipse cx="149" cy="248" rx="5.5" ry="1.1" transform="rotate(-70 149 248)" fill="#b49478"/><ellipse cx="153" cy="250" rx="5.8" ry="1.9" transform="rotate(-4 153 250)" fill="#b89c7c"/><ellipse cx="145" cy="238" rx="2.7" ry="1.3" transform="rotate(27 145 238)" fill="#b89c7c"/><ellipse cx="153" cy="229" rx="4.6" ry="1.5" transform="rotate(35 153 229)" fill="#c8a0a0"/><ellipse cx="171" cy="269" rx="2.5" ry="2.2" transform="rotate(36 171 269)" fill="#c8a0a0"/><ellipse cx="150" cy="333" rx="4.0" ry="1.5" transform="rotate(192 150 333)" fill="#b4a472"/><ellipse cx="174" cy="309" rx="4.4" ry="2.0" transform="rotate(161 174 309)" fill="#bea47c"/><ellipse cx="179" cy="309" rx="2.6" ry="1.2" transform="rotate(74 179 309)" fill="#b49478"/><ellipse cx="162" cy="257" rx="5.2" ry="1.0" transform="rotate(28 162 257)" fill="#b89c7c"/><ellipse cx="152" cy="249" rx="3.1" ry="1.2" transform="rotate(-24 152 249)" fill="#c0a488"/><ellipse cx="181" cy="265" rx="5.6" ry="1.2" transform="rotate(75 181 265)" fill="#c6a890"/><ellipse cx="145" cy="239" rx="4.4" ry="1.6" transform="rotate(-47 145 239)" fill="#c8a0a0"/><ellipse cx="150" cy="321" rx="3.7" ry="1.0" transform="rotate(153 150 321)" fill="#c8a0a0"/><ellipse cx="146" cy="235" rx="3.4" ry="1.6" transform="rotate(0 146 235)" fill="#b4a472"/><ellipse cx="149" cy="252" rx="3.7" ry="1.4" transform="rotate(25 149 252)" fill="#b4a472"/><ellipse cx="144" cy="231" rx="2.5" ry="2.4" transform="rotate(-49 144 231)" fill="#b4a472"/><ellipse cx="171" cy="282" rx="4.0" ry="1.9" transform="rotate(89 171 282)" fill="#bea47c"/><ellipse cx="173" cy="286" rx="3.3" ry="2.0" transform="rotate(48 173 286)" fill="#c6a890"/><ellipse cx="177" cy="252" rx="5.6" ry="2.2" transform="rotate(-14 177 252)" fill="#b49478"/><ellipse cx="184" cy="299" rx="5.2" ry="2.4" transform="rotate(164 184 299)" fill="#b4a472"/><ellipse cx="172" cy="293" rx="3.9" ry="1.3" transform="rotate(63 172 293)" fill="#c0a488"/><ellipse cx="158" cy="339" rx="4.3" ry="1.4" transform="rotate(139 158 339)" fill="#bea47c"/><ellipse cx="168" cy="258" rx="4.3" ry="2.0" transform="rotate(73 168 258)" fill="#c0a488"/><ellipse cx="160" cy="242" rx="2.9" ry="1.8" transform="rotate(64 160 242)" fill="#c6a890"/><ellipse cx="167" cy="266" rx="3.7" ry="1.1" transform="rotate(24 167 266)" fill="#bea47c"/><ellipse cx="168" cy="326" rx="4.3" ry="1.5" transform="rotate(171 168 326)" fill="#c69c98"/><ellipse cx="164" cy="335" rx="5.3" ry="1.7" transform="rotate(188 164 335)" fill="#b49478"/><ellipse cx="157" cy="314" rx="4.2" ry="1.2" transform="rotate(112 157 314)" fill="#b49478"/><ellipse cx="162" cy="317" rx="5.5" ry="1.6" transform="rotate(57 162 317)" fill="#c6a890"/><ellipse cx="167" cy="267" rx="3.8" ry="2.0" transform="rotate(35 167 267)" fill="#b4a472"/><ellipse cx="182" cy="306" rx="3.3" ry="1.9" transform="rotate(93 182 306)" fill="#b4a472"/><ellipse cx="173" cy="316" rx="5.7" ry="1.1" transform="rotate(162 173 316)" fill="#c8a0a0"/><ellipse cx="183" cy="275" rx="5.8" ry="2.3" transform="rotate(125 183 275)" fill="#c8a0a0"/><ellipse cx="178" cy="315" rx="5.1" ry="1.3" transform="rotate(132 178 315)" fill="#c6a890"/><ellipse cx="175" cy="321" rx="4.9" ry="2.4" transform="rotate(137 175 321)" fill="#bea47c"/><ellipse cx="182" cy="268" rx="3.2" ry="2.1" transform="rotate(36 182 268)" fill="#c69c98"/><ellipse cx="156" cy="316" rx="3.9" ry="1.6" transform="rotate(157 156 316)" fill="#b89c7c"/></g><g filter="url(#tx2)"><ellipse cx="158" cy="245" rx="5" ry="2.5" transform="rotate(-20 158 245)" fill="#c4a298"/><ellipse cx="163" cy="250" rx="4" ry="2" transform="rotate(10 163 250)" fill="#c4a298"/><ellipse cx="175" cy="258" rx="4" ry="1.8" transform="rotate(-30 175 258)" fill="#c4a298"/><ellipse cx="185" cy="270" rx="3" ry="1.5" transform="rotate(40 185 270)" fill="#c4a298"/><ellipse cx="190" cy="280" rx="3" ry="1.2" transform="rotate(60 190 280)" fill="#c4a298"/><ellipse cx="170" cy="272" rx="4" ry="2" transform="rotate(0 170 272)" fill="#c4a298"/><ellipse cx="178" cy="290" rx="4" ry="1.5" transform="rotate(-20 178 290)" fill="#c4a298"/><ellipse cx="168" cy="305" rx="5" ry="2" transform="rotate(-30 168 305)" fill="#c4a298"/><ellipse cx="160" cy="318" rx="4" ry="2" transform="rotate(-10 160 318)" fill="#c4a298"/><ellipse cx="158" cy="328" rx="6" ry="2" transform="rotate(0 158 328)" fill="#c4a298"/><ellipse cx="148" cy="335" rx="5" ry="1.6" transform="rotate(10 148 335)" fill="#c4a298"/><ellipse cx="135" cy="342" rx="4" ry="1.5" transform="rotate(0 135 342)" fill="#c4a298"/><ellipse cx="172" cy="320" rx="3" ry="1.5" transform="rotate(20 172 320)" fill="#c4a298"/><ellipse cx="182" cy="305" rx="3" ry="1.3" transform="rotate(-40 182 305)" fill="#c4a298"/><ellipse cx="95" cy="238" rx="5" ry="2" transform="rotate(-10 95 238)" fill="#c4a298"/><ellipse cx="110" cy="232" rx="5" ry="2" transform="rotate(0 110 232)" fill="#c4a298"/><ellipse cx="125" cy="230" rx="4" ry="1.6" transform="rotate(10 125 230)" fill="#c4a298"/><ellipse cx="140" cy="232" rx="4" ry="1.5" transform="rotate(-10 140 232)" fill="#c4a298"/><ellipse cx="80" cy="245" rx="4" ry="1.5" transform="rotate(-20 80 245)" fill="#c4a298"/><ellipse cx="150" cy="226" rx="3" ry="1.5" transform="rotate(0 150 226)" fill="#c4a298"/><ellipse cx="165" cy="236" rx="3" ry="1.4" transform="rotate(20 165 236)" fill="#c4a298"/><ellipse cx="100" cy="225" rx="3" ry="1.2" transform="rotate(0 100 225)" fill="#c4a298"/><ellipse cx="40" cy="270" rx="3" ry="1.5" transform="rotate(60 40 270)" fill="#c4a298"/><ellipse cx="45" cy="300" rx="3" ry="1.5" transform="rotate(-30 45 300)" fill="#c4a298"/><ellipse cx="52" cy="262" rx="3" ry="1.4" transform="rotate(-40 52 262)" fill="#c4a298"/></g><g filter="url(#tx)"><path d="M49.7 286.6C50.3 282.5 54.6 279.4 58.4 275.1C62.2 270.9 67.2 264.8 72.4 261.1C77.6 257.4 84.0 255.1 89.8 253.1C95.6 251.1 102.1 249.7 107.3 248.9C112.5 248.1 117.1 247.9 121.2 248.2C125.3 248.5 128.8 248.7 131.7 250.6C134.6 252.5 137.1 255.0 138.7 259.4C140.2 263.8 141.3 271.0 141.0 276.8C140.7 282.6 138.6 289.7 137.0 294.3C135.4 298.9 134.3 302.1 131.7 304.7C129.1 307.3 125.8 308.8 121.2 310.0C116.6 311.2 110.2 311.7 103.8 311.7C97.4 311.7 89.2 310.9 82.8 310.0C76.4 309.1 70.1 308.2 65.4 306.5C60.8 304.8 57.5 302.8 54.9 299.5C52.3 296.2 49.1 290.7 49.7 286.6Z" fill="#cd96aa" /><path d="M63.6 318.0C66.0 315.2 73.8 315.8 79.3 315.9C84.8 316.0 91.0 317.8 96.8 318.7C102.6 319.6 109.8 320.3 114.2 321.5C118.6 322.7 121.8 323.6 123.0 325.7C124.2 327.8 123.2 332.0 121.2 334.4C119.2 336.8 116.0 339.0 110.8 340.3C105.6 341.6 96.2 342.5 89.8 342.4C83.4 342.3 76.6 341.2 72.4 339.6C68.2 338.0 66.2 336.3 64.7 332.7C63.2 329.1 61.2 320.8 63.6 318.0Z" fill="#cd96aa" /></g><path stroke="#ffffff" stroke-width="1.0" stroke-linecap="round" fill="none" d="M111 273q2 3 5 5M101 283q-4 -1 -7 0M107 300q-4 -1 -9 -1M105 276q1 1 3 2M130 272q-1 3 -3 6M106 273q2 5 1 10M104 278q-1 3 -3 5M102 284q-3 -3 -7 -3M95 302q-4 0 -6 2M84 270q2 0 4 1M100 280q-4 3 -8 4M97 288q-3 -1 -6 -3M91 287q-3 -2 -7 -4M72 295q0 -3 -1 -6M84 284q3 -2 4 -6M88 281q5 -2 7 -6"/><path stroke="#ffffff" stroke-width="0.5" stroke-linecap="round" fill="none" d="M101 263q-1 4 -4 7M97 286q-5 -2 -9 -6M103 278q2 3 1 7"/><path stroke="#ffffff" stroke-width="1.5" stroke-linecap="round" fill="none" d="M116 264q1 2 2 4M106 300q-3 1 -5 3M94 273q3 -1 6 -2"/>
<line x1="116.5" y1="207.5" x2="116.5" y2="365.2" stroke="#8e8e8e" stroke-width="0.9"/>
<line x1="21.5" y1="287.5" x2="211.3" y2="287.5" stroke="#8e8e8e" stroke-width="0.9"/>
<rect x="21.5" y="207.5" width="189.8" height="157.7" fill="none" stroke="#ababab" stroke-width="0.8"/>
<text class="t" transform="translate(42.2 373.0) scale(1 1.18)" text-anchor="middle">−15</text>
<line x1="42.2" y1="365.2" x2="42.2" y2="366.7" stroke="#555" stroke-width="0.5"/>
<text class="t" transform="translate(66.8 373.0) scale(1 1.18)" text-anchor="middle">−10</text>
<line x1="66.8" y1="365.2" x2="66.8" y2="366.7" stroke="#555" stroke-width="0.5"/>
<text class="t" transform="translate(91.4 373.0) scale(1 1.18)" text-anchor="middle">−5</text>
<line x1="91.4" y1="365.2" x2="91.4" y2="366.7" stroke="#555" stroke-width="0.5"/>
<text class="t" transform="translate(116.0 373.0) scale(1 1.18)" text-anchor="middle">0</text>
<line x1="116.0" y1="365.2" x2="116.0" y2="366.7" stroke="#555" stroke-width="0.5"/>
<text class="t" transform="translate(140.6 373.0) scale(1 1.18)" text-anchor="middle">5</text>
<line x1="140.6" y1="365.2" x2="140.6" y2="366.7" stroke="#555" stroke-width="0.5"/>
<text class="t" transform="translate(165.2 373.0) scale(1 1.18)" text-anchor="middle">10</text>
<line x1="165.2" y1="365.2" x2="165.2" y2="366.7" stroke="#555" stroke-width="0.5"/>
<text class="t" transform="translate(189.8 373.0) scale(1 1.18)" text-anchor="middle">15</text>
<line x1="189.8" y1="365.2" x2="189.8" y2="366.7" stroke="#555" stroke-width="0.5"/>
<text class="t" transform="translate(19.3 351.4) scale(1 1.18)" text-anchor="end">−15</text>
<line x1="20.0" y1="348.5" x2="21.5" y2="348.5" stroke="#555" stroke-width="0.5"/>
<text class="t" transform="translate(19.3 330.9) scale(1 1.18)" text-anchor="end">−10</text>
<line x1="20.0" y1="328.0" x2="21.5" y2="328.0" stroke="#555" stroke-width="0.5"/>
<text class="t" transform="translate(19.3 310.4) scale(1 1.18)" text-anchor="end">−5</text>
<line x1="20.0" y1="307.5" x2="21.5" y2="307.5" stroke="#555" stroke-width="0.5"/>
<text class="t" transform="translate(19.3 289.9) scale(1 1.18)" text-anchor="end">0</text>
<line x1="20.0" y1="287.0" x2="21.5" y2="287.0" stroke="#555" stroke-width="0.5"/>
<text class="t" transform="translate(19.3 269.4) scale(1 1.18)" text-anchor="end">5</text>
<line x1="20.0" y1="266.5" x2="21.5" y2="266.5" stroke="#555" stroke-width="0.5"/>
<text class="t" transform="translate(19.3 248.9) scale(1 1.18)" text-anchor="end">10</text>
<line x1="20.0" y1="246.0" x2="21.5" y2="246.0" stroke="#555" stroke-width="0.5"/>
<text class="t" transform="translate(19.3 228.4) scale(1 1.18)" text-anchor="end">15</text>
<line x1="20.0" y1="225.5" x2="21.5" y2="225.5" stroke="#555" stroke-width="0.5"/>
<rect x="223.3" y="357.31" width="8.5" height="8.19" fill="#67a3cc"/>
<rect x="223.3" y="349.43" width="8.5" height="8.19" fill="#c8d9ef"/>
<rect x="223.3" y="341.54" width="8.5" height="8.19" fill="#ffa85b"/>
<rect x="223.3" y="333.66" width="8.5" height="8.19" fill="#ffd1a3"/>
<rect x="223.3" y="325.77" width="8.5" height="8.19" fill="#70be70"/>
<rect x="223.3" y="317.89" width="8.5" height="8.19" fill="#b9e9af"/>
<rect x="223.3" y="310.00" width="8.5" height="8.19" fill="#e36c6d"/>
<rect x="223.3" y="302.12" width="8.5" height="8.19" fill="#ffb9b8"/>
<rect x="223.3" y="294.24" width="8.5" height="8.19" fill="#b698d2"/>
<rect x="223.3" y="286.35" width="8.5" height="8.19" fill="#d8c9e2"/>
<rect x="223.3" y="278.46" width="8.5" height="8.19" fill="#b18c85"/>
<rect x="223.3" y="270.58" width="8.5" height="8.19" fill="#d7bcb6"/>
<rect x="223.3" y="262.69" width="8.5" height="8.19" fill="#eca3d6"/>
<rect x="223.3" y="254.81" width="8.5" height="8.19" fill="#facde0"/>
<rect x="223.3" y="246.93" width="8.5" height="8.19" fill="#a8a8a8"/>
<rect x="223.3" y="239.04" width="8.5" height="8.19" fill="#d9d9d9"/>
<rect x="223.3" y="231.16" width="8.5" height="8.19" fill="#d1d269"/>
<rect x="223.3" y="223.27" width="8.5" height="8.19" fill="#e7e7b1"/>
<rect x="223.3" y="215.38" width="8.5" height="8.19" fill="#61d3de"/>
<rect x="223.3" y="207.50" width="8.5" height="8.19" fill="#bde6ed"/>
<rect x="223.3" y="207.5" width="8.5" height="157.7" fill="none" stroke="#c8c8c8" stroke-width="0.5"/>
<line x1="231.8" y1="365.2" x2="233.3" y2="365.2" stroke="#555" stroke-width="0.5"/>
<text class="t" transform="translate(234.1 368.1) scale(1 1.18)">0</text>
<line x1="231.8" y1="347.7" x2="233.3" y2="347.7" stroke="#555" stroke-width="0.5"/>
<text class="t" transform="translate(234.1 350.6) scale(1 1.18)">2</text>
<line x1="231.8" y1="330.2" x2="233.3" y2="330.2" stroke="#555" stroke-width="0.5"/>
<text class="t" transform="translate(234.1 333.1) scale(1 1.18)">4</text>
<line x1="231.8" y1="312.6" x2="233.3" y2="312.6" stroke="#555" stroke-width="0.5"/>
<text class="t" transform="translate(234.1 315.5) scale(1 1.18)">6</text>
<line x1="231.8" y1="295.1" x2="233.3" y2="295.1" stroke="#555" stroke-width="0.5"/>
<text class="t" transform="translate(234.1 298.0) scale(1 1.18)">8</text>
<line x1="231.8" y1="277.6" x2="233.3" y2="277.6" stroke="#555" stroke-width="0.5"/>
<text class="t" transform="translate(234.1 280.5) scale(1 1.18)">10</text>
<line x1="231.8" y1="260.1" x2="233.3" y2="260.1" stroke="#555" stroke-width="0.5"/>
<text class="t" transform="translate(234.1 263.0) scale(1 1.18)">12</text>
<line x1="231.8" y1="242.5" x2="233.3" y2="242.5" stroke="#555" stroke-width="0.5"/>
<text class="t" transform="translate(234.1 245.4) scale(1 1.18)">14</text>
<line x1="231.8" y1="225.0" x2="233.3" y2="225.0" stroke="#555" stroke-width="0.5"/>
<text class="t" transform="translate(234.1 227.9) scale(1 1.18)">16</text>
<line x1="231.8" y1="207.5" x2="233.3" y2="207.5" stroke="#555" stroke-width="0.5"/>
<text class="t" transform="translate(234.1 210.4) scale(1 1.18)">18</text>
<text class="cl" transform="translate(252.4,286.4) rotate(-90)" text-anchor="middle">Course ID</text>
<text class="cap" transform="translate(2.2 397.9) scale(1.046 1)">(<tspan font-weight="bold">c</tspan>) XueTangX-CNN</text>
<line x1="334.5" y1="207.5" x2="334.5" y2="365.2" stroke="#f0f0f0" stroke-width="0.7"/>
<line x1="360.0" y1="207.5" x2="360.0" y2="365.2" stroke="#f0f0f0" stroke-width="0.7"/>
<line x1="385.5" y1="207.5" x2="385.5" y2="365.2" stroke="#f0f0f0" stroke-width="0.7"/>
<line x1="411.0" y1="207.5" x2="411.0" y2="365.2" stroke="#f0f0f0" stroke-width="0.7"/>
<line x1="436.5" y1="207.5" x2="436.5" y2="365.2" stroke="#f0f0f0" stroke-width="0.7"/>
<line x1="462.0" y1="207.5" x2="462.0" y2="365.2" stroke="#f0f0f0" stroke-width="0.7"/>
<line x1="487.5" y1="207.5" x2="487.5" y2="365.2" stroke="#f0f0f0" stroke-width="0.7"/>
<line x1="314.3" y1="350.4" x2="504.5" y2="350.4" stroke="#f0f0f0" stroke-width="0.7"/>
<line x1="314.3" y1="328.8" x2="504.5" y2="328.8" stroke="#f0f0f0" stroke-width="0.7"/>
<line x1="314.3" y1="307.1" x2="504.5" y2="307.1" stroke="#f0f0f0" stroke-width="0.7"/>
<line x1="314.3" y1="285.5" x2="504.5" y2="285.5" stroke="#f0f0f0" stroke-width="0.7"/>
<line x1="314.3" y1="263.9" x2="504.5" y2="263.9" stroke="#f0f0f0" stroke-width="0.7"/>
<line x1="314.3" y1="242.2" x2="504.5" y2="242.2" stroke="#f0f0f0" stroke-width="0.7"/>
<line x1="314.3" y1="220.6" x2="504.5" y2="220.6" stroke="#f0f0f0" stroke-width="0.7"/>
<path stroke="#d8a8c0" stroke-width="2.0" stroke-linecap="round" fill="none" d="M420 323q-2 -2 -5 -2M426 334q-2 0 -4 0M490 310q4 0 5 -3M348 296q-2 -1 -3 -2M385 313q5 4 0 7M453 293q3 -2 5 1M465 255q2 3 5 0M447 345q2 4 7 2M364 313q0 -2 -2 -3M380 318q-3 1 -6 2M381 303q-5 -2 -3 3M403 224q2 0 5 0M360 325q-1 -2 -2 -3M402 255q-2 0 -3 -2M399 321q-1 5 -6 5"/><path stroke="#c0c090" stroke-width="2.0" stroke-linecap="round" fill="none" d="M427 254q-2 -2 1 -4M338 265q2 -1 1 -3M450 316q3 2 3 6M412 337q0 2 0 3M440 317q-2 1 -3 4M476 286q4 1 6 -3M404 357q-3 -1 -3 2M410 243q1 -2 3 -1M452 325q-1 1 -3 3M440 314q-5 0 -6 5M430 256q1 0 3 1M437 248q1 -3 -1 -5M410 229q2 -2 1 -4M385 331q1 4 1 7M379 302q-3 -1 -5 0M410 255q-1 -2 -1 -4M437 342q0 4 -4 5M339 283q-2 -1 -5 -1M380 303q-1 -1 -3 -1M488 269q0 3 2 5M352 317q1 -4 -3 -6M412 256q-1 -4 2 -8M369 272q-2 -1 -2 -2M374 338q2 3 0 6M393 257q-4 0 -5 -4M444 268q3 -1 5 -3M403 254q0 -1 -1 -3M447 257q3 0 6 -1M382 267q2 -2 2 -5M403 323q2 1 1 4"/><path stroke="#d8c0c0" stroke-width="2.0" stroke-linecap="round" fill="none" d="M386 245q1 2 3 2M498 271q0 3 0 6M479 309q-5 4 1 8M488 305q-2 3 -6 3M430 330q-2 2 -4 2M444 262q3 2 7 3M418 254q0 -3 1 -6M394 329q0 1 -2 2M460 285q-2 1 -1 4M428 327q-4 2 -8 1M455 322q1 1 2 1M423 252q2 -1 3 0M439 243q2 1 1 3M393 253q-1 7 5 6M447 265q4 3 2 7M459 278q2 -1 1 -3M430 255q2 2 4 3M456 340q3 0 3 2M359 289q0 -2 2 -2M414 336q-2 3 0 6M458 284q-1 2 -2 2M480 309q3 0 5 1M416 255q1 -2 2 -4M423 326q-3 -1 -5 1M351 275q-4 -1 -7 -5M360 299q1 -4 -1 -7M348 321q-4 1 -4 5M489 287q-3 3 0 5"/><path stroke="#c0a8a8" stroke-width="2.0" stroke-linecap="round" fill="none" d="M462 263q2 -3 4 -6M457 283q0 1 -1 2M446 326q-2 -1 -3 1M347 303q-1 -5 -6 -5M456 272q2 -1 4 -3M495 303q4 -1 6 3M374 266q2 0 2 -2M380 307q-1 -3 -1 -6M430 324q-3 2 -1 4M354 301q-1 3 -3 5M373 277q-2 -1 -2 -2M350 306q-3 3 -6 0"/><path stroke="#c0a890" stroke-width="1.5" stroke-linecap="round" fill="none" d="M390 345q-1 0 -3 0M373 296q1 -3 -2 -4M370 271q1 -5 6 -3M427 253q4 0 5 4M398 248q2 -1 0 -3M430 254q4 -1 6 -4M423 319q-1 2 -3 4M406 256q0 -3 0 -6M372 272q1 -2 3 -4M491 302q3 2 4 5M385 336q-1 2 -1 4M417 238q2 -4 -2 -5M462 255q5 0 5 5M425 254q-1 -4 3 -6M408 251q3 -2 6 -2M361 304q-2 2 -5 1M500 276q0 4 -3 6M483 275q2 -4 5 -1M431 258q2 -3 2 -6M454 297q1 2 1 4M470 302q4 1 8 -2M379 237q-3 1 -4 -3M372 283q-5 -3 -2 -7M354 297q-2 0 -4 0M344 295q-2 0 -3 -1M371 317q-3 -2 -7 -3"/><path stroke="#d8c0a8" stroke-width="1.5" stroke-linecap="round" fill="none" d="M457 284q1 2 1 5M368 288q-2 1 -5 1M416 225q-2 -2 0 -4M375 232q1 1 3 0M374 274q-2 0 -4 0M488 302q1 5 -4 5M459 285q-2 3 -4 6M427 255q3 -2 6 -3M463 287q2 2 4 3M460 265q3 0 6 -1M446 248q1 3 3 2M456 246q-2 -3 1 -4M392 324q-3 -1 -4 -4M452 284q2 3 5 2M472 322q3 -1 4 2M403 322q0 1 0 2M393 320q1 -3 2 -7M405 334q-2 3 -4 5M401 248q3 -1 7 -2M347 304q-2 -3 -5 -2M410 253q2 0 4 0M403 251q-1 -3 0 -6M460 233q0 -2 -1 -4M435 317q-2 2 -5 1M455 298q-3 0 -3 3M366 283q1 -4 3 -7M398 317q-6 -3 -8 3M482 315q-1 3 -3 7"/><path stroke="#f0c0c0" stroke-width="2.0" stroke-linecap="round" fill="none" d="M438 326q1 2 -1 3M369 241q-3 -1 -4 -4M417 250q-2 -1 -3 -3"/><path stroke="#c0c0a8" stroke-width="2.0" stroke-linecap="round" fill="none" d="M395 358q-3 -2 -4 -6M433 323q-3 3 -7 2M462 285q1 -1 2 -2M469 331q1 0 1 2M386 335q-3 1 -5 1M380 255q3 0 5 -4M435 328q1 2 4 1M345 310q-3 3 -5 -1"/><path stroke="#c0a890" stroke-width="1.0" stroke-linecap="round" fill="none" d="M377 298q-2 1 -5 2M453 263q3 0 4 -3M454 291q3 1 5 4M385 261q-2 -2 -3 -6M372 313q-2 2 0 4M453 304q1 -4 5 -3M448 316q1 2 2 4M464 259q-2 1 -1 3M393 247q2 -1 3 -1M469 290q2 -2 5 -2M371 266q-2 0 -4 1M461 277q3 1 4 3M431 260q3 -2 4 -6M338 304q-2 -1 -4 -1M418 229q2 -3 0 -5M337 285q0 -2 -1 -3"/><path stroke="#d8c090" stroke-width="1.0" stroke-linecap="round" fill="none" d="M384 315q-1 2 -1 3M375 259q-1 -2 -3 -1M358 253q-1 -2 -3 -3M457 254q3 0 3 3M383 263q-1 -4 2 -7M449 331q3 -1 5 3M461 263q0 2 1 3M438 232q1 2 0 4"/><path stroke="#d8c0a8" stroke-width="1.0" stroke-linecap="round" fill="none" d="M394 255q3 3 2 -1M378 346q-3 -2 -6 -3M453 286q1 1 2 2M426 249q3 2 5 3M440 256q5 0 4 -5M368 332q-2 0 -3 -1M372 268q1 -1 1 -3M356 312q-2 2 -3 5M431 322q-1 2 -3 3M464 299q-1 0 -3 1M432 236q2 0 3 1M458 345q-4 -1 -5 3M377 320q-1 2 -4 1M460 237q-5 -4 0 -7M465 272q-5 2 -3 6"/><path stroke="#c0a878" stroke-width="1.5" stroke-linecap="round" fill="none" d="M342 327q-1 -2 -3 -4M389 241q-2 -1 -5 0M343 318q-2 0 -3 -1M386 262q-2 0 -5 -1M372 282q-1 -6 -6 -4M428 253q2 -2 5 -3M397 319q-1 2 -4 2M407 320q-3 -1 -4 1M350 266q1 -2 2 -4M391 317q-3 -3 -6 -3"/><path stroke="#c0c090" stroke-width="1.5" stroke-linecap="round" fill="none" d="M440 246q1 1 2 1M446 242q3 1 5 4M383 237q4 0 6 -4M402 352q-2 1 -3 0M468 252q6 1 5 -5M431 329q2 1 5 2M369 279q-2 -1 -4 -1M437 256q4 -1 4 -5M370 266q-2 3 -6 2M358 297q2 -1 2 -4M432 319q-1 3 1 5M393 322q-4 3 -8 -1M450 261q0 -4 3 -5M428 349q2 1 2 3M454 310q-1 3 -4 3M383 326q-3 2 -7 0M372 263q-5 1 -7 -4M429 252q-1 3 2 3M390 259q-1 -4 -6 -4M391 255q-2 -2 -5 -4M402 225q2 0 4 1M425 245q4 -2 7 -4M489 322q-1 2 -3 1"/><path stroke="#d8a8a8" stroke-width="1.5" stroke-linecap="round" fill="none" d="M374 290q-2 -1 -2 -3M434 230q3 -2 7 -2M366 313q-4 1 -6 5M455 236q2 -3 5 -1M440 311q0 2 3 2M453 283q3 0 4 3M369 314q0 -3 -3 -4M439 311q2 6 7 3M383 267q-3 -1 -5 -1M480 312q1 1 2 2M378 280q-4 -3 -8 -1M385 258q3 0 4 -2M381 346q-2 1 -3 3M398 238q-3 -3 -7 -3M363 296q-3 -2 0 -5"/><path stroke="#c0c090" stroke-width="1.0" stroke-linecap="round" fill="none" d="M445 330q1 2 1 5M468 292q2 1 4 3M433 322q-1 4 -4 4M403 318q-2 3 -5 5M436 319q2 2 5 4"/><path stroke="#c0a890" stroke-width="2.0" stroke-linecap="round" fill="none" d="M440 263q3 -3 7 -2M442 259q-4 5 2 8M476 245q2 -2 1 -4M448 309q-1 1 -3 1M365 244q-2 -2 -3 -5M448 328q3 1 5 3M344 298q-2 1 -2 -2M360 340q1 3 -2 3M354 309q-3 4 -7 1M356 286q0 -4 -4 -5M404 248q2 -1 4 1M433 320q-3 1 -5 2M468 274q0 -3 2 -6M404 327q-4 0 -7 -1M370 324q-1 -2 -3 -1M422 221q2 1 2 2M409 254q-4 1 -3 -2M456 295q1 3 4 3M401 330q-1 4 3 6M427 316q2 3 3 6M372 347q-5 -1 -4 -5M458 299q2 1 1 3M450 253q-1 4 2 3M402 234q2 -2 0 -4M342 275q-2 0 -3 0M373 303q-5 0 -5 -5M430 348q-3 -1 -5 -1M357 291q4 -2 2 -5M422 254q-2 -3 -5 -5M431 226q1 0 2 0M393 235q3 0 5 0M375 290q-3 -2 -6 1M401 249q0 -2 -1 -3M427 351q-4 1 -7 3M403 225q1 -1 3 -1M448 260q3 -1 4 -4M335 271q2 -3 5 -5M438 316q-1 0 -1 2M491 316q2 1 2 3M473 272q3 1 4 5M441 262q2 -1 4 -1M385 258q-4 0 -6 -3M375 285q-3 -1 -4 -3M376 308q-3 -2 -1 -4"/><path stroke="#d8a8c0" stroke-width="1.0" stroke-linecap="round" fill="none" d="M454 247q2 1 2 3M465 276q2 -2 4 -3M387 250q-2 0 -3 -1M469 292q2 -1 5 -1"/><path stroke="#f0c0c0" stroke-width="1.5" stroke-linecap="round" fill="none" d="M462 311q2 2 4 2"/><path stroke="#c0c078" stroke-width="2.0" stroke-linecap="round" fill="none" d="M457 322q4 1 8 -2M467 261q0 2 2 3M353 268q1 -4 4 -6M435 257q1 -1 2 -3M351 241q-3 -1 -6 -3M461 293q2 2 5 2M481 316q-2 4 -6 3M463 336q-5 0 -5 5M350 282q3 -7 8 -2M367 275q1 -2 2 -3"/><path stroke="#c0a8c0" stroke-width="2.0" stroke-linecap="round" fill="none" d="M401 242q1 -1 3 0M401 249q2 -2 0 -4M383 310q-1 -1 -2 -3M444 319q-1 -1 -2 0"/><path stroke="#d8c090" stroke-width="2.0" stroke-linecap="round" fill="none" d="M426 253q4 -1 7 0M393 348q6 1 3 5M475 263q1 -3 4 -2M385 234q4 0 6 -3M461 251q-1 2 0 4M430 254q2 2 3 4M432 232q2 -1 4 -2M351 310q-5 1 -8 4"/><path stroke="#d8a8a8" stroke-width="1.0" stroke-linecap="round" fill="none" d="M452 270q1 3 3 6M390 241q2 2 5 1"/><path stroke="#c0a878" stroke-width="2.0" stroke-linecap="round" fill="none" d="M452 281q2 -4 6 -2M417 339q-2 0 -4 2M397 258q1 -2 2 -4M439 260q2 3 5 5M381 255q-3 -1 -6 -4M361 241q-1 1 -2 -1M448 343q-4 1 -6 4M459 305q-3 3 -4 7M409 335q3 3 -1 4M459 284q1 -2 3 0"/><path stroke="#a8a8c0" stroke-width="1.0" stroke-linecap="round" fill="none" d="M394 241q-2 -2 -3 -4"/><path stroke="#d8a8a8" stroke-width="2.0" stroke-linecap="round" fill="none" d="M440 315q-2 3 1 4M465 299q0 4 0 8M470 252q2 -4 7 -4M394 343q1 3 1 6M449 317q-4 1 -4 5M405 249q-1 -3 2 -5M484 274q3 -2 6 0M469 278q0 3 1 5M399 332q-2 -6 -7 -3M443 329q-2 -5 -6 -4M448 301q-1 3 2 5M393 327q-1 2 -3 3M429 220q2 0 3 0M386 261q-3 -4 0 -6M465 276q-1 2 -1 5M465 324q2 1 5 2M370 322q-3 0 -7 -1"/><path stroke="#c0c078" stroke-width="1.0" stroke-linecap="round" fill="none" d="M411 335q-1 -1 -3 -1M431 318q7 -4 7 4M383 310q-1 -2 -4 -2M376 255q0 -3 -1 -5M455 255q4 -1 4 -5M454 279q5 1 2 6M379 275q-3 2 -6 2M371 300q-2 -2 -2 -5"/><path stroke="#d8c090" stroke-width="1.5" stroke-linecap="round" fill="none" d="M390 237q3 -3 1 -6M430 330q2 -2 3 0M477 320q-1 -1 -2 -2M463 267q-2 3 -1 6M497 277q1 0 3 -1M456 281q1 -3 3 -2M444 323q2 1 3 3M358 241q-1 -2 0 -4M361 236q0 -4 3 -4M466 296q5 5 7 -2M481 249q2 2 4 4M431 258q0 -4 3 -3M372 295q3 -2 2 -7M466 289q-2 2 -4 5M379 248q2 0 2 -2M421 325q-2 -2 -4 -1M379 272q3 -3 0 -6M379 256q3 -4 7 -3M365 304q-4 -2 -4 -6M361 322q0 -2 0 -4M367 257q-2 -3 -6 -3M476 301q0 2 1 4M341 305q0 4 -4 5M421 244q2 1 3 4"/><path stroke="#c0a8a8" stroke-width="1.5" stroke-linecap="round" fill="none" d="M444 261q2 -2 4 -2M480 303q-2 2 -1 5M336 283q0 -3 -1 -5M466 314q-2 0 -2 3M368 292q-3 -3 -6 0M345 267q-3 1 -4 -2M491 277q2 -3 6 -2M496 267q4 2 6 5M329 287q-3 3 -5 0M474 318q-3 -1 -4 1M427 320q1 2 -1 4M439 336q1 2 2 3"/><path stroke="#c0c078" stroke-width="1.5" stroke-linecap="round" fill="none" d="M379 268q1 -3 5 -2M392 225q3 1 5 -1M385 312q-1 -3 -4 -5M455 312q3 0 4 2M467 318q0 3 2 5M369 238q-3 -3 1 -5M341 317q-2 1 -5 2M463 312q3 -2 7 -2M380 233q3 -1 5 -1M372 326q0 -2 -2 -4M459 235q2 -2 3 -6M417 245q2 1 3 -1M369 340q1 4 -3 4M378 339q-4 0 -4 3"/><path stroke="#d8c0a8" stroke-width="2.0" stroke-linecap="round" fill="none" d="M377 338q-2 4 -7 4M460 280q2 1 4 1M459 340q2 -2 5 0M459 303q-3 2 -3 6M450 299q1 2 3 3M454 327q2 2 3 4M388 259q0 -2 -1 -4M469 293q2 -3 4 1M406 317q2 3 1 7M372 317q-2 -1 -1 -4M382 311q-1 0 -2 -1M371 264q1 -3 -1 -6M465 292q5 1 7 -4M402 317q-2 4 2 6M388 315q-3 2 -5 6M423 232q5 -3 6 3M379 252q2 -3 5 -4M362 241q2 0 3 -2M359 296q-3 -2 -2 -5M435 254q1 1 3 0M394 318q-2 0 -3 0M443 336q-2 1 -5 3M483 293q1 2 0 4M495 294q-1 2 0 4M456 250q2 -2 5 -4"/><path stroke="#a89078" stroke-width="1.0" stroke-linecap="round" fill="none" d="M465 249q2 3 6 2M425 326q0 3 -1 5M419 326q-2 -3 -5 -1M462 335q1 3 4 4M406 252q-2 -1 -3 -2"/><path stroke="#d8c0c0" stroke-width="1.0" stroke-linecap="round" fill="none" d="M413 334q-2 -2 -2 0M394 322q-3 0 -4 2M460 303q1 5 6 3M393 225q0 -3 0 -5M352 299q-1 -2 -4 -3M373 258q-2 -1 -3 0M394 251q-3 1 -4 -2M379 302q-2 1 -3 -1M363 268q-1 -1 -3 -1M462 279q-1 3 -1 6M377 280q-2 -1 -4 -1M426 246q0 -3 -1 -5M467 269q1 1 2 3M490 280q1 2 0 4M420 318q1 4 5 5"/><path stroke="#c0c0c0" stroke-width="1.0" stroke-linecap="round" fill="none" d="M388 327q0 -7 -6 -5M456 262q0 -3 3 -3M396 329q-3 -1 -5 1M359 330q-4 -1 -4 -5"/><path stroke="#a89078" stroke-width="2.0" stroke-linecap="round" fill="none" d="M433 319q-3 1 -1 3M468 333q1 2 3 4M384 257q-3 1 -6 -1M458 318q-3 2 -3 6M453 274q0 2 2 3"/><path stroke="#d8c0c0" stroke-width="1.5" stroke-linecap="round" fill="none" d="M408 224q3 2 6 1M439 331q1 3 2 5M418 240q3 1 5 -2M331 301q-3 0 -6 -2M445 309q-2 1 -3 2M454 334q2 2 3 3M407 326q0 3 -2 6M366 312q-2 -2 -1 -5M481 276q5 2 5 7M434 345q-1 0 -2 0M459 276q1 2 2 5M343 265q-4 1 -5 -3M489 320q-2 3 -5 5M467 253q1 1 1 3M439 347q1 3 -1 7M350 307q-3 0 -3 -2M394 318q-3 1 -5 -2M478 264q0 2 3 2M368 305q-4 -1 -2 -5M462 333q4 1 8 1M418 327q-3 3 -6 4M433 254q2 0 3 -2M368 309q-2 -2 -2 -6M447 245q3 -1 6 1M450 317q1 2 1 4M456 282q0 1 -1 3"/><path stroke="#c0c0c0" stroke-width="1.5" stroke-linecap="round" fill="none" d="M381 260q-2 -2 -3 -4M410 256q1 -3 1 -6M446 308q-3 1 -5 4"/><path stroke="#c0a8c0" stroke-width="1.5" stroke-linecap="round" fill="none" d="M408 245q-1 -2 1 -3M455 284q1 2 -2 4M428 338q-2 1 -4 -1M350 325q-2 0 -2 -2M457 313q-1 4 -5 5"/><path stroke="#c09090" stroke-width="1.5" stroke-linecap="round" fill="none" d="M456 295q-2 2 0 4M416 321q2 3 0 7M365 275q-2 -1 -2 -4M395 252q3 -3 7 0M371 233q1 -3 1 -6"/><path stroke="#a89090" stroke-width="1.5" stroke-linecap="round" fill="none" d="M333 272q2 -4 -1 -8M391 254q2 -1 4 -1M497 281q2 1 1 4M384 227q2 -3 2 -7M423 242q3 2 7 0M418 230q3 -2 5 2M358 276q-1 -2 -1 -3M414 245q2 2 4 1M458 245q-1 -3 2 -5M346 287q1 -3 4 -2"/><path stroke="#c0a8a8" stroke-width="1.0" stroke-linecap="round" fill="none" d="M403 328q0 2 -2 2M383 266q-1 -3 -4 -6M378 303q-3 2 -3 6"/><path stroke="#c09090" stroke-width="2.0" stroke-linecap="round" fill="none" d="M446 267q4 1 7 3M365 268q-3 -1 -6 0M430 222q1 3 4 4"/><path stroke="#d8a8c0" stroke-width="1.5" stroke-linecap="round" fill="none" d="M365 241q-5 -2 -3 -7M464 264q2 3 6 4M488 263q4 -2 7 0M372 295q-1 -3 -2 -4M428 335q-3 2 -7 1M432 256q3 4 7 3M458 278q0 4 -2 7M413 243q0 -2 1 -3M403 229q3 0 4 4M440 258q3 1 5 1M460 328q2 1 4 2M391 317q1 3 -2 4M398 319q-3 -3 -7 -1M419 255q1 -3 -2 -4M450 298q2 2 4 5M454 242q1 2 3 3"/><path stroke="#a89078" stroke-width="1.5" stroke-linecap="round" fill="none" d="M374 282q-1 -1 -2 -3M372 261q3 -3 3 -7M444 326q-5 0 -4 5M453 287q0 -3 3 -4M461 288q0 4 -2 7M426 320q2 1 2 2M472 269q4 1 7 -3M409 324q-2 -3 -4 -7M462 275q2 2 5 4"/><path stroke="#a8a8c0" stroke-width="1.5" stroke-linecap="round" fill="none" d="M395 255q0 -4 1 -7"/><path stroke="#c0c0a8" stroke-width="1.0" stroke-linecap="round" fill="none" d="M407 251q1 -3 3 -1M392 342q-1 4 0 7"/><path stroke="#c0c0a8" stroke-width="1.5" stroke-linecap="round" fill="none" d="M404 252q-1 -4 -1 -7M473 311q1 4 -2 5M421 238q3 1 6 3M405 328q-2 0 -1 2M448 312q-2 -1 -4 0"/><path stroke="#a8a8c0" stroke-width="2.0" stroke-linecap="round" fill="none" d="M353 288q1 -3 4 -5M352 302q-2 -3 -2 -6M398 357q-4 2 -7 -2M417 348q2 4 -1 7"/><path stroke="#c0c0d8" stroke-width="2.0" stroke-linecap="round" fill="none" d="M469 311q0 4 -2 7"/><path stroke="#c09090" stroke-width="1.0" stroke-linecap="round" fill="none" d="M392 242q4 3 6 -1M435 326q1 3 0 6"/><path stroke="#a89090" stroke-width="2.0" stroke-linecap="round" fill="none" d="M446 342q-4 0 -6 3M451 298q-1 3 1 6M413 323q-1 2 -1 4"/><path stroke="#c0a878" stroke-width="1.0" stroke-linecap="round" fill="none" d="M409 240q1 -4 -1 -7M367 320q-1 -2 1 -3"/><path stroke="#a89090" stroke-width="1.0" stroke-linecap="round" fill="none" d="M459 260q2 1 2 3"/><path stroke="#d8c0d8" stroke-width="2.0" stroke-linecap="round" fill="none" d="M441 231q-2 -4 1 -7M408 331q-3 -1 -4 2"/><path stroke="#c0c0c0" stroke-width="2.0" stroke-linecap="round" fill="none" d="M374 255q-3 0 -3 -2"/><path stroke="#c0c0d8" stroke-width="1.5" stroke-linecap="round" fill="none" d="M475 303q2 1 5 0"/><g filter="url(#tx2)"><path d="M400.0 250.0C400.0 248.7 413.3 243.2 420.0 242.0C426.7 240.8 433.7 241.3 440.0 243.0C446.3 244.7 453.0 248.3 458.0 252.0C463.0 255.7 466.8 260.3 470.0 265.0C473.2 269.7 475.5 274.8 477.0 280.0C478.5 285.2 479.7 290.7 479.0 296.0C478.3 301.3 476.0 307.7 473.0 312.0C470.0 316.3 465.5 319.2 461.0 322.0C456.5 324.8 451.2 327.2 446.0 329.0C440.8 330.8 430.2 335.3 430.0 333.0C429.8 330.7 440.8 321.3 445.0 315.0C449.2 308.7 453.2 302.2 455.0 295.0C456.8 287.8 457.7 278.5 456.0 272.0C454.3 265.5 451.0 259.7 445.0 256.0C439.0 252.3 427.5 251.0 420.0 250.0C412.5 249.0 400.0 251.3 400.0 250.0Z" fill="#c4a298" /></g><g filter="url(#tx)"><path d="M342.4 260.9C345.2 260.4 352.1 265.0 357.8 267.1C363.5 269.2 371.2 273.8 376.4 273.3C381.5 272.8 384.6 267.1 388.7 264.0C392.8 260.9 396.5 257.0 401.1 254.7C405.8 252.4 411.5 251.1 416.6 250.1C421.8 249.1 427.4 248.2 432.0 248.5C436.6 248.8 440.8 250.0 444.4 251.6C448.0 253.2 451.2 254.4 453.6 257.8C456.0 261.2 458.1 266.3 459.0 272.0C459.9 277.7 459.9 285.6 459.0 292.0C458.1 298.4 457.1 305.3 453.6 310.4C450.1 315.5 443.4 319.6 438.2 322.7C433.0 325.8 427.8 327.3 422.7 328.9C417.6 330.4 412.4 332.0 407.3 332.0C402.2 332.0 397.0 330.4 391.8 328.9C386.6 327.3 381.5 325.3 376.4 322.7C371.2 320.1 365.5 317.1 360.9 313.5C356.2 309.9 351.6 305.8 348.5 301.1C345.4 296.5 343.7 290.8 342.4 285.6C341.1 280.5 340.8 274.3 340.8 270.2C340.8 266.1 339.6 261.4 342.4 260.9Z" fill="#c6969e" /></g><path d="M404.5 281Q395 288 396.5 297Q398 309 406 312.8Q414 314 418.5 310.5Q422.5 306 423.4 302" stroke="#fff" stroke-width="4" fill="none" stroke-linecap="round" opacity="0.95"/><path stroke="#ffffff" stroke-width="1.0" stroke-linecap="round" fill="none" d="M371 301q1 -3 1 -5M401 275q1 2 2 3M373 293q2 -2 2 -4M380 284q5 1 9 2M406 315q0 2 0 4"/><path stroke="#ffffff" stroke-width="0.5" stroke-linecap="round" fill="none" d="M376 300q2 -2 5 -4M375 324q-2 1 -4 1M411 313q-4 1 -8 1"/>
<rect x="314.3" y="207.5" width="190.2" height="157.7" fill="none" stroke="#ababab" stroke-width="0.8"/>
<text class="t" transform="translate(334.5 373.0) scale(1 1.18)" text-anchor="middle">−15</text>
<line x1="334.5" y1="365.2" x2="334.5" y2="366.7" stroke="#555" stroke-width="0.5"/>
<text class="t" transform="translate(360.0 373.0) scale(1 1.18)" text-anchor="middle">−10</text>
<line x1="360.0" y1="365.2" x2="360.0" y2="366.7" stroke="#555" stroke-width="0.5"/>
<text class="t" transform="translate(385.5 373.0) scale(1 1.18)" text-anchor="middle">−5</text>
<line x1="385.5" y1="365.2" x2="385.5" y2="366.7" stroke="#555" stroke-width="0.5"/>
<text class="t" transform="translate(411.0 373.0) scale(1 1.18)" text-anchor="middle">0</text>
<line x1="411.0" y1="365.2" x2="411.0" y2="366.7" stroke="#555" stroke-width="0.5"/>
<text class="t" transform="translate(436.5 373.0) scale(1 1.18)" text-anchor="middle">5</text>
<line x1="436.5" y1="365.2" x2="436.5" y2="366.7" stroke="#555" stroke-width="0.5"/>
<text class="t" transform="translate(462.0 373.0) scale(1 1.18)" text-anchor="middle">10</text>
<line x1="462.0" y1="365.2" x2="462.0" y2="366.7" stroke="#555" stroke-width="0.5"/>
<text class="t" transform="translate(487.5 373.0) scale(1 1.18)" text-anchor="middle">15</text>
<line x1="487.5" y1="365.2" x2="487.5" y2="366.7" stroke="#555" stroke-width="0.5"/>
<text class="t" transform="translate(312.1 353.3) scale(1 1.18)" text-anchor="end">−15</text>
<line x1="312.8" y1="350.4" x2="314.3" y2="350.4" stroke="#555" stroke-width="0.5"/>
<text class="t" transform="translate(312.1 331.7) scale(1 1.18)" text-anchor="end">−10</text>
<line x1="312.8" y1="328.8" x2="314.3" y2="328.8" stroke="#555" stroke-width="0.5"/>
<text class="t" transform="translate(312.1 310.0) scale(1 1.18)" text-anchor="end">−5</text>
<line x1="312.8" y1="307.1" x2="314.3" y2="307.1" stroke="#555" stroke-width="0.5"/>
<text class="t" transform="translate(312.1 288.4) scale(1 1.18)" text-anchor="end">0</text>
<line x1="312.8" y1="285.5" x2="314.3" y2="285.5" stroke="#555" stroke-width="0.5"/>
<text class="t" transform="translate(312.1 266.8) scale(1 1.18)" text-anchor="end">5</text>
<line x1="312.8" y1="263.9" x2="314.3" y2="263.9" stroke="#555" stroke-width="0.5"/>
<text class="t" transform="translate(312.1 245.1) scale(1 1.18)" text-anchor="end">10</text>
<line x1="312.8" y1="242.2" x2="314.3" y2="242.2" stroke="#555" stroke-width="0.5"/>
<text class="t" transform="translate(312.1 223.5) scale(1 1.18)" text-anchor="end">15</text>
<line x1="312.8" y1="220.6" x2="314.3" y2="220.6" stroke="#555" stroke-width="0.5"/>
<rect x="516.3" y="357.31" width="8.5" height="8.19" fill="#67a3cc"/>
<rect x="516.3" y="349.43" width="8.5" height="8.19" fill="#c8d9ef"/>
<rect x="516.3" y="341.54" width="8.5" height="8.19" fill="#ffa85b"/>
<rect x="516.3" y="333.66" width="8.5" height="8.19" fill="#ffd1a3"/>
<rect x="516.3" y="325.77" width="8.5" height="8.19" fill="#70be70"/>
<rect x="516.3" y="317.89" width="8.5" height="8.19" fill="#b9e9af"/>
<rect x="516.3" y="310.00" width="8.5" height="8.19" fill="#e36c6d"/>
<rect x="516.3" y="302.12" width="8.5" height="8.19" fill="#ffb9b8"/>
<rect x="516.3" y="294.24" width="8.5" height="8.19" fill="#b698d2"/>
<rect x="516.3" y="286.35" width="8.5" height="8.19" fill="#d8c9e2"/>
<rect x="516.3" y="278.46" width="8.5" height="8.19" fill="#b18c85"/>
<rect x="516.3" y="270.58" width="8.5" height="8.19" fill="#d7bcb6"/>
<rect x="516.3" y="262.69" width="8.5" height="8.19" fill="#eca3d6"/>
<rect x="516.3" y="254.81" width="8.5" height="8.19" fill="#facde0"/>
<rect x="516.3" y="246.93" width="8.5" height="8.19" fill="#a8a8a8"/>
<rect x="516.3" y="239.04" width="8.5" height="8.19" fill="#d9d9d9"/>
<rect x="516.3" y="231.16" width="8.5" height="8.19" fill="#d1d269"/>
<rect x="516.3" y="223.27" width="8.5" height="8.19" fill="#e7e7b1"/>
<rect x="516.3" y="215.38" width="8.5" height="8.19" fill="#61d3de"/>
<rect x="516.3" y="207.50" width="8.5" height="8.19" fill="#bde6ed"/>
<rect x="516.3" y="207.5" width="8.5" height="157.7" fill="none" stroke="#c8c8c8" stroke-width="0.5"/>
<line x1="524.8" y1="365.2" x2="526.3" y2="365.2" stroke="#555" stroke-width="0.5"/>
<text class="t" transform="translate(527.1 368.1) scale(1 1.18)">0</text>
<line x1="524.8" y1="347.7" x2="526.3" y2="347.7" stroke="#555" stroke-width="0.5"/>
<text class="t" transform="translate(527.1 350.6) scale(1 1.18)">2</text>
<line x1="524.8" y1="330.2" x2="526.3" y2="330.2" stroke="#555" stroke-width="0.5"/>
<text class="t" transform="translate(527.1 333.1) scale(1 1.18)">4</text>
<line x1="524.8" y1="312.6" x2="526.3" y2="312.6" stroke="#555" stroke-width="0.5"/>
<text class="t" transform="translate(527.1 315.5) scale(1 1.18)">6</text>
<line x1="524.8" y1="295.1" x2="526.3" y2="295.1" stroke="#555" stroke-width="0.5"/>
<text class="t" transform="translate(527.1 298.0) scale(1 1.18)">8</text>
<line x1="524.8" y1="277.6" x2="526.3" y2="277.6" stroke="#555" stroke-width="0.5"/>
<text class="t" transform="translate(527.1 280.5) scale(1 1.18)">10</text>
<line x1="524.8" y1="260.1" x2="526.3" y2="260.1" stroke="#555" stroke-width="0.5"/>
<text class="t" transform="translate(527.1 263.0) scale(1 1.18)">12</text>
<line x1="524.8" y1="242.5" x2="526.3" y2="242.5" stroke="#555" stroke-width="0.5"/>
<text class="t" transform="translate(527.1 245.4) scale(1 1.18)">14</text>
<line x1="524.8" y1="225.0" x2="526.3" y2="225.0" stroke="#555" stroke-width="0.5"/>
<text class="t" transform="translate(527.1 227.9) scale(1 1.18)">16</text>
<line x1="524.8" y1="207.5" x2="526.3" y2="207.5" stroke="#555" stroke-width="0.5"/>
<text class="t" transform="translate(527.1 210.4) scale(1 1.18)">18</text>
<text class="cl" transform="translate(545.4,286.4) rotate(-90)" text-anchor="middle">Course ID</text>
<text class="cap" transform="translate(295.0 397.9) scale(1.046 1)">(<tspan font-weight="bold">d</tspan>) XueTangX-DNN</text>
<line x1="24.7" y1="409.6" x2="24.7" y2="566.8" stroke="#f0f0f0" stroke-width="0.7"/>
<line x1="47.7" y1="409.6" x2="47.7" y2="566.8" stroke="#f0f0f0" stroke-width="0.7"/>
<line x1="70.7" y1="409.6" x2="70.7" y2="566.8" stroke="#f0f0f0" stroke-width="0.7"/>
<line x1="93.7" y1="409.6" x2="93.7" y2="566.8" stroke="#f0f0f0" stroke-width="0.7"/>
<line x1="116.7" y1="409.6" x2="116.7" y2="566.8" stroke="#f0f0f0" stroke-width="0.7"/>
<line x1="139.7" y1="409.6" x2="139.7" y2="566.8" stroke="#f0f0f0" stroke-width="0.7"/>
<line x1="162.7" y1="409.6" x2="162.7" y2="566.8" stroke="#f0f0f0" stroke-width="0.7"/>
<line x1="185.7" y1="409.6" x2="185.7" y2="566.8" stroke="#f0f0f0" stroke-width="0.7"/>
<line x1="208.7" y1="409.6" x2="208.7" y2="566.8" stroke="#f0f0f0" stroke-width="0.7"/>
<line x1="21.6" y1="565.8" x2="211.3" y2="565.8" stroke="#f0f0f0" stroke-width="0.7"/>
<line x1="21.6" y1="546.5" x2="211.3" y2="546.5" stroke="#f0f0f0" stroke-width="0.7"/>
<line x1="21.6" y1="527.2" x2="211.3" y2="527.2" stroke="#f0f0f0" stroke-width="0.7"/>
<line x1="21.6" y1="507.9" x2="211.3" y2="507.9" stroke="#f0f0f0" stroke-width="0.7"/>
<line x1="21.6" y1="488.6" x2="211.3" y2="488.6" stroke="#f0f0f0" stroke-width="0.7"/>
<line x1="21.6" y1="469.3" x2="211.3" y2="469.3" stroke="#f0f0f0" stroke-width="0.7"/>
<line x1="21.6" y1="450.0" x2="211.3" y2="450.0" stroke="#f0f0f0" stroke-width="0.7"/>
<line x1="21.6" y1="430.7" x2="211.3" y2="430.7" stroke="#f0f0f0" stroke-width="0.7"/>
<line x1="21.6" y1="411.4" x2="211.3" y2="411.4" stroke="#f0f0f0" stroke-width="0.7"/>
<path stroke="#a89078" stroke-width="1.0" stroke-linecap="round" fill="none" d="M66 446q-7 3 -6 -5"/><path stroke="#d8c090" stroke-width="2.0" stroke-linecap="round" fill="none" d="M66 433q2 0 3 -2M58 460q-4 1 -5 -4M87 463q1 -1 3 -2M114 443q0 -4 2 -8M73 514q-2 -1 -2 -3M193 488q2 -2 5 -1M62 504q-2 -2 0 -4M165 436q5 -2 8 3M52 456q3 -5 8 -4M190 502q-6 2 -1 6M81 470q-2 -1 -4 -1M68 507q-2 2 -2 5M192 480q9 -1 4 6M170 522q-5 -1 -4 4M49 506q-1 -5 4 -6M55 450q2 -2 0 -5M60 514q-4 4 -7 -1M166 446q1 4 2 7"/><path stroke="#d8c0a8" stroke-width="2.0" stroke-linecap="round" fill="none" d="M103 556q-4 0 -8 -2M160 453q1 -1 1 -3M59 439q3 -1 7 -2M65 536q-2 -3 -2 -7M53 464q-2 2 -4 2M49 447q-2 -3 -4 -7M145 536q2 -1 3 2M160 538q-1 4 -5 5M167 467q1 -1 4 -2M151 483q2 0 4 0M97 427q4 -6 -3 -9M166 485q3 -6 9 -4"/><path stroke="#d8c0a8" stroke-width="2.5" stroke-linecap="round" fill="none" d="M143 458q1 -2 4 -2M138 450q-8 -5 0 -9M154 485q-4 3 -6 7M121 547q-2 -2 -3 -2M75 479q-1 1 -3 1M176 504q0 5 -4 7M159 490q4 -5 9 0M160 488q3 0 6 2M126 528q-3 4 -5 9M111 530q-3 -2 -5 -3"/><path stroke="#c0c0a8" stroke-width="1.5" stroke-linecap="round" fill="none" d="M137 550q1 4 0 8M54 507q-2 2 -4 2M146 547q3 3 5 7M56 507q-1 -2 -1 -4M148 456q3 1 4 -2M76 426q5 -4 10 -1"/><path stroke="#d8a8c0" stroke-width="1.5" stroke-linecap="round" fill="none" d="M160 502q1 4 -2 7M195 478q0 4 1 7M83 525q2 2 0 4M152 499q-2 2 -4 4M130 544q-3 4 -7 2M140 531q-3 2 -1 5M137 508q3 5 9 4M152 464q0 5 5 2M153 439q5 1 6 7M156 450q2 -3 3 -5M121 541q-2 3 -1 6M78 435q0 -4 3 -5"/><path stroke="#d8c0c0" stroke-width="2.0" stroke-linecap="round" fill="none" d="M94 537q-3 -2 -7 -4M38 490q-1 -2 -3 -1M53 470q4 -3 2 -8M110 524q-2 2 -3 5M57 436q3 4 6 0M127 551q-1 3 -2 6M113 441q3 -6 9 -2M139 468q2 -5 8 -4M68 451q-6 1 -7 -6M74 477q-2 -2 -5 -1M81 453q0 -2 -1 -4"/><path stroke="#c0a890" stroke-width="2.5" stroke-linecap="round" fill="none" d="M123 439q3 2 6 3M159 501q-2 2 -3 5M112 521q2 3 -1 5M130 534q-4 -1 -5 3"/><path stroke="#d8c090" stroke-width="1.0" stroke-linecap="round" fill="none" d="M185 456q2 1 5 2M96 425q-1 -5 0 -10M149 431q2 2 5 2M61 482q2 -1 2 -3M97 449q3 1 5 -2M81 446q3 -4 6 -8M159 528q-5 1 -8 5M55 490q-3 2 -5 1"/><path stroke="#a89078" stroke-width="2.5" stroke-linecap="round" fill="none" d="M132 458q4 5 9 3M76 503q-4 1 -4 5M96 541q-3 2 -6 0M113 537q-1 1 -2 2M163 458q2 6 -4 7"/><path stroke="#c0c0c0" stroke-width="2.0" stroke-linecap="round" fill="none" d="M65 476q2 -2 3 -4"/><path stroke="#c0a890" stroke-width="2.0" stroke-linecap="round" fill="none" d="M195 505q-4 2 -3 7M155 540q1 7 -6 7M178 496q5 0 10 1M180 467q1 2 1 4M172 516q0 1 0 3M46 472q0 -2 1 -4M100 539q-5 -3 -9 1M93 548q-2 -2 -1 -5M159 468q4 5 9 2M149 481q1 -5 4 -8M155 543q-4 3 -7 7M62 449q-1 -2 -3 -2M57 468q-4 2 -9 4M76 496q-5 -1 -10 1M63 491q-2 -2 -6 -2M175 443q2 4 6 3M165 501q-1 5 -1 9M146 530q4 4 2 9M70 472q3 -3 7 -1M75 470q0 -3 -3 -3M105 542q-3 1 -6 1M151 470q2 5 -2 10M130 534q-4 -2 -7 -1"/><path stroke="#d8a8a8" stroke-width="2.0" stroke-linecap="round" fill="none" d="M190 509q-1 2 -2 3M152 514q-3 4 -2 9M88 551q-3 0 -4 2M74 495q0 3 -1 5M107 517q-5 4 -2 9M146 551q-2 2 -5 1M97 450q-4 -2 -6 -6M69 530q0 -5 -5 -7M183 486q-2 3 -2 7M57 457q1 -1 1 -3M96 513q-2 3 -1 7"/><path stroke="#a8a8c0" stroke-width="1.5" stroke-linecap="round" fill="none" d="M121 449q3 0 5 2M124 423q0 -1 0 -3"/><path stroke="#c0a890" stroke-width="1.5" stroke-linecap="round" fill="none" d="M167 481q3 -1 6 -3M112 556q-6 -3 -6 4M71 444q2 -4 7 -4M160 492q-1 2 -2 3M106 524q-4 5 -6 -1M83 466q-2 -2 -4 -3M138 459q0 4 3 3M149 444q-1 -3 1 -6M125 531q-5 -3 -9 1M99 449q3 -2 4 -6M162 509q-5 3 0 6M59 464q-9 -4 -1 -10M104 529q-2 0 -4 0M73 462q-1 -5 -5 -6M145 437q3 -2 6 0M132 447q5 -1 8 -5M139 508q3 1 5 0M117 552q-1 2 -3 4M52 490q-2 5 -5 9M154 434q1 -4 5 -3M90 549q0 3 0 5M110 433q5 0 7 -4M152 545q3 4 7 3M129 426q3 -3 7 -3M65 509q-2 1 -5 0M163 465q2 3 2 7M141 462q2 3 1 6"/><path stroke="#d8c0a8" stroke-width="1.5" stroke-linecap="round" fill="none" d="M68 532q3 5 -2 8M149 521q-2 0 -4 1M182 460q-5 0 -2 4M95 442q0 -2 0 -5M106 454q4 -2 3 -6M148 458q1 -3 3 -5M143 529q-6 -2 -8 4M170 453q1 2 2 3M170 464q2 -3 6 -3M34 476q-4 -4 -1 -8M67 497q0 -2 -1 -4M54 507q7 -2 4 -9M137 549q-3 1 -4 4M144 458q1 -4 5 -5M108 529q-3 -5 -8 -5"/><path stroke="#c0c090" stroke-width="2.0" stroke-linecap="round" fill="none" d="M40 496q1 -4 4 -7M36 499q-3 -1 -4 1M87 509q-1 5 -6 6M47 444q3 1 4 -1M158 483q1 3 2 5M139 528q0 4 3 6M67 466q3 -4 8 -1M125 432q6 -3 10 1M77 497q3 -4 -1 -6M141 526q-2 0 -5 0M150 475q3 5 7 1M110 445q4 -2 6 2"/><path stroke="#d8a8a8" stroke-width="1.5" stroke-linecap="round" fill="none" d="M112 544q4 1 3 5M145 434q3 0 3 -3M150 475q2 0 3 0M93 443q1 -3 -1 -7M104 450q5 1 10 -1M51 460q4 -3 2 -7M49 459q1 -2 0 -4M92 439q-5 -1 -6 -5M70 533q-6 -1 -4 5M139 463q-2 -5 1 -9M160 539q-4 1 -7 4"/><path stroke="#d8c0c0" stroke-width="1.0" stroke-linecap="round" fill="none" d="M122 555q-2 -1 -3 0M163 525q0 5 -5 4M161 468q2 1 3 4M141 430q3 -3 4 -8M79 458q1 -3 3 -3"/><path stroke="#d8a8c0" stroke-width="2.5" stroke-linecap="round" fill="none" d="M175 500q2 1 4 0"/><path stroke="#d8a8a8" stroke-width="2.5" stroke-linecap="round" fill="none" d="M137 433q2 -1 5 0M65 520q0 -2 -1 -4M55 507q-5 -1 -9 -4M130 455q1 -2 2 -3M110 455q0 -3 -3 -6"/><path stroke="#d8a8a8" stroke-width="1.0" stroke-linecap="round" fill="none" d="M69 542q-2 0 -3 0M88 525q0 5 4 8M153 494q4 2 7 -2M42 520q-3 -3 -8 -5"/><path stroke="#c0c078" stroke-width="2.5" stroke-linecap="round" fill="none" d="M75 525q-1 -2 -1 -5M175 477q2 -1 3 -1M62 475q2 -1 1 -3"/><path stroke="#a89078" stroke-width="1.5" stroke-linecap="round" fill="none" d="M61 478q-3 0 -6 -1M105 523q-5 1 -9 4M146 437q0 2 2 4M99 443q-2 -1 -2 -4"/><path stroke="#c0c078" stroke-width="2.0" stroke-linecap="round" fill="none" d="M157 463q3 0 5 -3M101 525q-2 -6 -8 -4M160 532q4 2 7 5M149 462q4 1 7 0M100 448q1 -3 -1 -4M188 456q2 5 6 8M59 465q1 -4 -3 -7M124 554q-4 -2 -9 -1M51 483q-2 1 -3 -1M165 481q0 4 0 8"/><path stroke="#d8a8c0" stroke-width="2.0" stroke-linecap="round" fill="none" d="M96 519q-3 2 -5 5M86 438q2 1 5 0M61 458q-1 -4 -4 -7M136 516q-2 2 -1 4M142 457q1 3 3 5M128 550q-2 3 -5 5M135 537q-2 0 -4 0M154 465q1 -2 3 -1M140 544q-3 1 -6 0"/><path stroke="#c0c078" stroke-width="1.5" stroke-linecap="round" fill="none" d="M148 526q3 -1 5 -2M59 459q3 -2 5 -6M162 432q4 2 7 2M112 552q-3 2 -7 1M70 471q-2 -2 -1 -4M107 438q-1 -4 0 -8M123 551q-3 3 -7 2M87 514q-6 2 -7 -4M107 549q-9 2 -2 9M121 444q0 -2 0 -4M63 495q-4 -2 -7 -5M145 480q3 3 6 5"/><path stroke="#d8c0c0" stroke-width="1.5" stroke-linecap="round" fill="none" d="M149 533q3 0 6 2M82 452q-3 -2 -1 -6M113 432q4 3 9 3M132 528q1 2 1 5M105 521q-1 2 -1 5M174 525q-5 -1 -9 3M56 498q-2 0 -3 2M79 502q-4 4 -9 1M127 531q1 5 -3 8M87 430q-7 1 -8 -6M146 540q-2 5 -5 8M115 431q-3 -3 -5 -6M148 546q2 2 2 4M170 512q2 4 3 8"/><path stroke="#d8c090" stroke-width="1.5" stroke-linecap="round" fill="none" d="M113 434q2 1 3 -2M148 504q-2 4 -6 7M137 530q-3 0 -4 3M149 438q6 -4 9 3M147 471q2 1 5 2M58 448q0 -2 -1 -4M90 526q3 -4 -1 -8M80 482q-2 0 -4 -1M158 434q1 2 2 5M117 538q-1 -1 -2 -2M78 549q-4 2 -8 1M66 479q1 -5 6 -6M161 534q0 6 -5 3M195 501q-6 1 -4 7M71 498q-2 0 -3 1M55 482q2 -2 4 -4M166 523q3 0 4 2"/><path stroke="#c0c0a8" stroke-width="2.0" stroke-linecap="round" fill="none" d="M122 450q-3 6 4 7M100 524q-1 -2 -3 -2M173 485q4 4 9 3"/><path stroke="#c09090" stroke-width="1.5" stroke-linecap="round" fill="none" d="M178 473q4 3 4 8M167 476q2 -4 7 -6M167 518q0 2 2 3"/><path stroke="#c0a8a8" stroke-width="1.5" stroke-linecap="round" fill="none" d="M42 496q0 -2 1 -3M63 503q6 -3 0 -7M158 523q2 0 3 0M57 493q0 -5 -3 -7M144 520q-4 1 -8 1M142 534q2 2 5 3"/><path stroke="#c0c090" stroke-width="1.5" stroke-linecap="round" fill="none" d="M140 519q-2 2 -5 2M111 542q-2 6 -8 4M88 429q5 0 4 -5M128 521q-3 0 -5 2M119 525q-3 5 2 7M163 452q0 5 -3 8M134 544q3 2 7 3M91 447q5 2 7 -2M78 506q-5 0 -8 5M148 523q-6 1 -7 6M151 477q-3 4 -2 9M56 479q-5 1 -5 -4M149 450q3 1 5 -1"/><path stroke="#d8c090" stroke-width="2.5" stroke-linecap="round" fill="none" d="M106 531q-3 -1 -5 -4M81 537q2 2 0 5M72 511q-4 -1 -7 0M144 440q0 6 6 4M169 481q5 1 8 -4M80 493q5 -6 -1 -10"/><path stroke="#a89078" stroke-width="2.0" stroke-linecap="round" fill="none" d="M105 427q-1 -3 3 -2M155 464q4 -3 9 -3M161 536q-1 3 -3 2M91 444q2 -1 2 -3M101 527q3 1 2 5M56 493q-1 8 -8 5M158 441q4 3 7 -1"/><path stroke="#d8a890" stroke-width="2.0" stroke-linecap="round" fill="none" d="M124 519q-2 3 -5 4M117 444q-5 -3 -2 -8M139 527q-2 1 -3 4"/><path stroke="#d8a8c0" stroke-width="1.0" stroke-linecap="round" fill="none" d="M97 538q-2 -5 -6 -6M67 459q4 -1 8 1M80 497q-2 1 -5 0M156 519q3 0 6 0M73 483q-2 -5 1 -10M160 436q-2 2 0 4"/><path stroke="#a89090" stroke-width="1.5" stroke-linecap="round" fill="none" d="M101 454q2 -1 4 -2M92 443q3 1 5 2M162 537q0 4 -4 3M52 484q-7 -4 -8 4M83 534q-8 1 -2 5M125 516q3 2 4 5M81 500q-2 -3 -4 -7"/><path stroke="#c0a8a8" stroke-width="2.0" stroke-linecap="round" fill="none" d="M44 463q-4 2 -8 1M118 532q1 4 -2 4M78 522q-5 0 -8 3M147 460q3 -1 7 -3M142 460q3 -2 8 -3M106 455q2 -2 2 -4M59 443q-1 -1 -2 -2"/><path stroke="#c0c090" stroke-width="1.0" stroke-linecap="round" fill="none" d="M105 429q0 -2 -1 -4M109 532q7 5 -1 9M133 528q-1 1 -3 2"/><path stroke="#c0a890" stroke-width="1.0" stroke-linecap="round" fill="none" d="M93 448q-1 -1 -2 -3M158 510q1 2 0 4M53 468q-3 0 -5 -3M101 548q-3 2 -4 -1M121 444q4 1 4 -4M71 469q0 -2 0 -3M160 479q5 1 8 5M145 427q1 1 3 1M39 486q-2 -5 -8 -4"/><path stroke="#a89090" stroke-width="2.0" stroke-linecap="round" fill="none" d="M37 497q1 -3 -1 -5M49 506q-2 -2 -3 -5M176 495q5 -1 6 3M83 458q2 -4 5 -7M154 518q1 0 2 1M165 438q2 1 4 3"/><path stroke="#c0a878" stroke-width="2.5" stroke-linecap="round" fill="none" d="M142 440q0 2 1 3M86 430q2 -5 -2 -8M168 532q3 -1 6 1M117 423q2 -4 5 -5M43 514q-3 -2 -4 -7"/><path stroke="#d8c0a8" stroke-width="1.0" stroke-linecap="round" fill="none" d="M86 537q0 5 -5 7M149 537q0 2 2 3M171 491q8 4 9 -4M57 486q2 -3 0 -6M102 439q1 -4 3 -6M141 437q1 2 4 2M183 510q5 6 10 1M145 479q4 6 8 0M168 477q1 4 -1 7M156 429q2 2 6 1M154 529q-3 2 -6 0M91 555q-3 0 -4 -2"/><path stroke="#c09090" stroke-width="2.0" stroke-linecap="round" fill="none" d="M184 482q3 -5 9 -4M101 553q-3 3 -4 6M111 431q3 0 7 1"/><path stroke="#c0c090" stroke-width="2.5" stroke-linecap="round" fill="none" d="M148 428q4 2 8 0M121 443q-2 -3 -5 -5M100 541q-4 -4 -3 -10M68 523q-3 1 -4 4"/><path stroke="#c0a878" stroke-width="1.5" stroke-linecap="round" fill="none" d="M169 450q-1 3 -2 7M45 489q-1 -5 -5 -3M62 439q-2 1 -5 -1M56 475q-1 -4 0 -8M168 496q0 2 0 4M107 447q-4 -2 -8 -5"/><path stroke="#c0c078" stroke-width="1.0" stroke-linecap="round" fill="none" d="M147 461q3 0 2 3M50 509q-1 -1 -1 -3M122 533q-3 2 -6 -1M123 432q3 3 7 1M86 529q-2 -2 0 -3M139 537q-6 -1 -10 3M147 537q-3 0 -5 2M78 484q2 -2 1 -4M148 470q4 -3 4 -8"/><path stroke="#c0a860" stroke-width="1.0" stroke-linecap="round" fill="none" d="M61 444q-4 -2 -2 -6M120 437q3 4 8 4"/><path stroke="#c0a8a8" stroke-width="1.0" stroke-linecap="round" fill="none" d="M169 517q-2 2 -3 4M123 440q2 -2 2 -4M146 506q-3 4 -5 9"/><path stroke="#d8c0c0" stroke-width="2.5" stroke-linecap="round" fill="none" d="M91 542q-2 0 -3 2M83 508q-3 1 -2 4"/><path stroke="#d8a890" stroke-width="2.5" stroke-linecap="round" fill="none" d="M146 553q-2 0 -5 1"/><path stroke="#a89090" stroke-width="2.5" stroke-linecap="round" fill="none" d="M104 427q-2 -3 -5 -4"/><path stroke="#c0a860" stroke-width="1.5" stroke-linecap="round" fill="none" d="M66 450q-4 -2 -7 -7"/><path stroke="#a89090" stroke-width="1.0" stroke-linecap="round" fill="none" d="M64 496q0 -2 0 -5M78 536q-2 -1 -4 -3M111 449q4 -1 8 -2"/><path stroke="#c0a878" stroke-width="2.0" stroke-linecap="round" fill="none" d="M170 454q2 2 4 -1M108 533q-3 0 -6 0M126 524q-4 1 -5 -2"/><path stroke="#c0a878" stroke-width="1.0" stroke-linecap="round" fill="none" d="M88 528q-3 -1 -4 1M158 543q1 2 3 4M79 468q-6 -2 -10 2"/><path stroke="#f0c0c0" stroke-width="1.0" stroke-linecap="round" fill="none" d="M157 532q-2 2 -3 4"/><path stroke="#c0a8a8" stroke-width="2.5" stroke-linecap="round" fill="none" d="M159 488q3 4 8 2M83 509q-3 1 -5 -1"/><path stroke="#a8a8c0" stroke-width="2.5" stroke-linecap="round" fill="none" d="M137 541q4 3 7 6"/><path stroke="#c09090" stroke-width="1.0" stroke-linecap="round" fill="none" d="M33 474q3 -3 3 -7"/><path stroke="#c0a8c0" stroke-width="2.0" stroke-linecap="round" fill="none" d="M134 521q-2 2 -4 1"/><path stroke="#c0a860" stroke-width="2.0" stroke-linecap="round" fill="none" d="M111 525q-4 4 -4 -2"/><path stroke="#c0a8c0" stroke-width="1.5" stroke-linecap="round" fill="none" d="M184 501q2 8 8 3"/><path stroke="#c0c0c0" stroke-width="2.5" stroke-linecap="round" fill="none" d="M163 460q3 -2 5 -6"/><path stroke="#d8a890" stroke-width="1.0" stroke-linecap="round" fill="none" d="M156 480q-6 2 -5 7"/><g filter="url(#tx3)"><ellipse cx="116" cy="536" rx="3.2" ry="2.3" transform="rotate(183 116 536)" fill="#b4a472"/><ellipse cx="62" cy="473" rx="5.6" ry="1.8" transform="rotate(331 62 473)" fill="#c69c98"/><ellipse cx="72" cy="465" rx="7.0" ry="1.6" transform="rotate(369 72 465)" fill="#c0a488"/><ellipse cx="83" cy="479" rx="5.5" ry="2.5" transform="rotate(277 83 479)" fill="#c69c98"/><ellipse cx="77" cy="458" rx="6.0" ry="2.5" transform="rotate(313 77 458)" fill="#c0a488"/><ellipse cx="46" cy="510" rx="4.6" ry="2.5" transform="rotate(225 46 510)" fill="#b89c7c"/><ellipse cx="147" cy="432" rx="6.2" ry="1.9" transform="rotate(433 147 432)" fill="#c8a0a0"/><ellipse cx="174" cy="464" rx="6.7" ry="2.5" transform="rotate(517 174 464)" fill="#c69c98"/><ellipse cx="173" cy="529" rx="5.0" ry="1.3" transform="rotate(106 173 529)" fill="#b89c7c"/><ellipse cx="61" cy="481" rx="2.5" ry="1.7" transform="rotate(307 61 481)" fill="#c0a488"/><ellipse cx="192" cy="486" rx="5.4" ry="1.9" transform="rotate(385 192 486)" fill="#c8a0a0"/><ellipse cx="131" cy="461" rx="4.4" ry="1.1" transform="rotate(383 131 461)" fill="#b4a472"/><ellipse cx="45" cy="464" rx="3.5" ry="2.2" transform="rotate(271 45 464)" fill="#c0a488"/><ellipse cx="94" cy="524" rx="5.5" ry="1.7" transform="rotate(194 94 524)" fill="#c6a890"/><ellipse cx="42" cy="467" rx="3.8" ry="1.8" transform="rotate(319 42 467)" fill="#b4a472"/><ellipse cx="143" cy="463" rx="3.8" ry="2.4" transform="rotate(448 143 463)" fill="#c0a488"/><ellipse cx="95" cy="456" rx="4.4" ry="1.1" transform="rotate(272 95 456)" fill="#bea47c"/><ellipse cx="60" cy="462" rx="4.5" ry="1.7" transform="rotate(296 60 462)" fill="#b4a472"/><ellipse cx="184" cy="493" rx="3.8" ry="2.3" transform="rotate(156 184 493)" fill="#b4a472"/><ellipse cx="166" cy="456" rx="3.9" ry="1.6" transform="rotate(411 166 456)" fill="#c69c98"/><ellipse cx="66" cy="472" rx="5.8" ry="1.5" transform="rotate(286 66 472)" fill="#b49478"/><ellipse cx="52" cy="528" rx="6.1" ry="1.4" transform="rotate(229 52 528)" fill="#b4a472"/><ellipse cx="118" cy="445" rx="2.7" ry="1.4" transform="rotate(419 118 445)" fill="#c0a488"/><ellipse cx="101" cy="533" rx="5.2" ry="2.2" transform="rotate(169 101 533)" fill="#b49478"/><ellipse cx="69" cy="540" rx="2.9" ry="1.8" transform="rotate(149 69 540)" fill="#c6a890"/><ellipse cx="88" cy="447" rx="5.8" ry="2.3" transform="rotate(329 88 447)" fill="#b89c7c"/><ellipse cx="172" cy="443" rx="5.8" ry="1.0" transform="rotate(352 172 443)" fill="#b49478"/><ellipse cx="184" cy="484" rx="4.6" ry="1.2" transform="rotate(436 184 484)" fill="#b4a472"/><ellipse cx="66" cy="511" rx="2.7" ry="1.7" transform="rotate(204 66 511)" fill="#c0a488"/><ellipse cx="156" cy="520" rx="5.0" ry="2.4" transform="rotate(157 156 520)" fill="#b89c7c"/><ellipse cx="69" cy="457" rx="6.9" ry="2.3" transform="rotate(269 69 457)" fill="#c8a0a0"/><ellipse cx="122" cy="542" rx="4.7" ry="1.9" transform="rotate(222 122 542)" fill="#b49478"/><ellipse cx="127" cy="452" rx="3.5" ry="1.3" transform="rotate(386 127 452)" fill="#c8a0a0"/><ellipse cx="108" cy="439" rx="2.6" ry="1.3" transform="rotate(340 108 439)" fill="#c69c98"/><ellipse cx="136" cy="451" rx="2.9" ry="1.8" transform="rotate(396 136 451)" fill="#b49478"/><ellipse cx="147" cy="489" rx="5.8" ry="1.5" transform="rotate(64 147 489)" fill="#b89c7c"/><ellipse cx="119" cy="431" rx="5.0" ry="1.6" transform="rotate(405 119 431)" fill="#b4a472"/><ellipse cx="85" cy="533" rx="4.5" ry="1.1" transform="rotate(216 85 533)" fill="#bea47c"/><ellipse cx="81" cy="490" rx="4.9" ry="1.7" transform="rotate(254 81 490)" fill="#c69c98"/><ellipse cx="79" cy="491" rx="5.1" ry="2.2" transform="rotate(283 79 491)" fill="#c8a0a0"/><ellipse cx="157" cy="498" rx="2.7" ry="1.3" transform="rotate(58 157 498)" fill="#b49478"/><ellipse cx="139" cy="530" rx="6.1" ry="1.1" transform="rotate(168 139 530)" fill="#b4a472"/><ellipse cx="95" cy="538" rx="4.8" ry="2.2" transform="rotate(214 95 538)" fill="#bea47c"/><ellipse cx="107" cy="449" rx="6.0" ry="2.2" transform="rotate(366 107 449)" fill="#c8a0a0"/><ellipse cx="94" cy="461" rx="2.9" ry="2.6" transform="rotate(263 94 461)" fill="#c69c98"/><ellipse cx="177" cy="465" rx="3.3" ry="2.1" transform="rotate(459 177 465)" fill="#bea47c"/><ellipse cx="158" cy="430" rx="5.5" ry="1.3" transform="rotate(360 158 430)" fill="#c69c98"/><ellipse cx="82" cy="457" rx="3.8" ry="1.1" transform="rotate(330 82 457)" fill="#bea47c"/><ellipse cx="147" cy="538" rx="6.4" ry="1.2" transform="rotate(147 147 538)" fill="#c6a890"/><ellipse cx="52" cy="444" rx="2.9" ry="1.4" transform="rotate(310 52 444)" fill="#bea47c"/><ellipse cx="50" cy="518" rx="5.7" ry="1.5" transform="rotate(295 50 518)" fill="#c0a488"/><ellipse cx="153" cy="469" rx="5.8" ry="1.4" transform="rotate(424 153 469)" fill="#c0a488"/><ellipse cx="42" cy="466" rx="3.8" ry="1.4" transform="rotate(312 42 466)" fill="#b4a472"/><ellipse cx="87" cy="452" rx="4.6" ry="2.3" transform="rotate(311 87 452)" fill="#b4a472"/><ellipse cx="147" cy="520" rx="5.9" ry="1.2" transform="rotate(206 147 520)" fill="#b49478"/><ellipse cx="93" cy="450" rx="6.5" ry="2.5" transform="rotate(326 93 450)" fill="#c0a488"/><ellipse cx="189" cy="493" rx="5.3" ry="2.2" transform="rotate(80 189 493)" fill="#bea47c"/><ellipse cx="72" cy="499" rx="3.5" ry="2.5" transform="rotate(224 72 499)" fill="#c8a0a0"/><ellipse cx="91" cy="546" rx="4.0" ry="2.1" transform="rotate(204 91 546)" fill="#b89c7c"/><ellipse cx="75" cy="471" rx="2.6" ry="2.2" transform="rotate(343 75 471)" fill="#b89c7c"/><ellipse cx="118" cy="445" rx="4.0" ry="2.0" transform="rotate(326 118 445)" fill="#c69c98"/><ellipse cx="41" cy="476" rx="3.0" ry="1.3" transform="rotate(322 41 476)" fill="#c8a0a0"/><ellipse cx="161" cy="435" rx="6.4" ry="1.3" transform="rotate(386 161 435)" fill="#c6a890"/><ellipse cx="84" cy="542" rx="4.5" ry="1.4" transform="rotate(229 84 542)" fill="#b89c7c"/><ellipse cx="176" cy="478" rx="5.9" ry="2.5" transform="rotate(416 176 478)" fill="#b4a472"/><ellipse cx="36" cy="485" rx="6.3" ry="2.5" transform="rotate(265 36 485)" fill="#c69c98"/><ellipse cx="130" cy="439" rx="5.1" ry="1.5" transform="rotate(359 130 439)" fill="#b49478"/><ellipse cx="119" cy="530" rx="5.2" ry="1.3" transform="rotate(189 119 530)" fill="#c69c98"/><ellipse cx="144" cy="484" rx="4.3" ry="2.3" transform="rotate(488 144 484)" fill="#b4a472"/><ellipse cx="152" cy="476" rx="6.7" ry="2.0" transform="rotate(438 152 476)" fill="#c0a488"/><ellipse cx="119" cy="519" rx="4.7" ry="2.6" transform="rotate(170 119 519)" fill="#c69c98"/><ellipse cx="61" cy="496" rx="6.7" ry="1.0" transform="rotate(359 61 496)" fill="#b49478"/><ellipse cx="125" cy="538" rx="4.7" ry="1.2" transform="rotate(119 125 538)" fill="#c0a488"/><ellipse cx="123" cy="545" rx="3.6" ry="1.6" transform="rotate(206 123 545)" fill="#b4a472"/><ellipse cx="115" cy="528" rx="6.6" ry="2.0" transform="rotate(162 115 528)" fill="#c0a488"/><ellipse cx="137" cy="510" rx="6.8" ry="1.7" transform="rotate(200 137 510)" fill="#bea47c"/><ellipse cx="148" cy="490" rx="5.9" ry="1.1" transform="rotate(88 148 490)" fill="#b4a472"/><ellipse cx="142" cy="447" rx="6.3" ry="2.2" transform="rotate(422 142 447)" fill="#b4a472"/><ellipse cx="78" cy="511" rx="2.9" ry="1.1" transform="rotate(233 78 511)" fill="#c6a890"/><ellipse cx="139" cy="462" rx="2.7" ry="2.3" transform="rotate(390 139 462)" fill="#bea47c"/><ellipse cx="136" cy="449" rx="6.3" ry="1.6" transform="rotate(385 136 449)" fill="#c6a890"/><ellipse cx="82" cy="456" rx="6.4" ry="1.5" transform="rotate(410 82 456)" fill="#bea47c"/><ellipse cx="163" cy="492" rx="4.7" ry="2.0" transform="rotate(60 163 492)" fill="#b89c7c"/><ellipse cx="63" cy="490" rx="3.0" ry="2.2" transform="rotate(393 63 490)" fill="#bea47c"/><ellipse cx="80" cy="506" rx="6.3" ry="2.2" transform="rotate(229 80 506)" fill="#b4a472"/><ellipse cx="120" cy="546" rx="3.2" ry="1.5" transform="rotate(223 120 546)" fill="#b4a472"/><ellipse cx="80" cy="518" rx="6.8" ry="1.1" transform="rotate(231 80 518)" fill="#c69c98"/><ellipse cx="151" cy="521" rx="4.2" ry="1.0" transform="rotate(80 151 521)" fill="#b49478"/><ellipse cx="162" cy="491" rx="6.1" ry="2.5" transform="rotate(90 162 491)" fill="#c6a890"/><ellipse cx="150" cy="433" rx="3.4" ry="1.6" transform="rotate(329 150 433)" fill="#b49478"/><ellipse cx="121" cy="524" rx="6.4" ry="1.4" transform="rotate(205 121 524)" fill="#c8a0a0"/><ellipse cx="159" cy="491" rx="4.4" ry="1.1" transform="rotate(53 159 491)" fill="#bea47c"/><ellipse cx="162" cy="516" rx="6.5" ry="2.1" transform="rotate(44 162 516)" fill="#b4a472"/><ellipse cx="121" cy="456" rx="2.5" ry="2.0" transform="rotate(368 121 456)" fill="#c8a0a0"/><ellipse cx="77" cy="502" rx="4.7" ry="2.0" transform="rotate(231 77 502)" fill="#c8a0a0"/><ellipse cx="91" cy="520" rx="6.6" ry="1.3" transform="rotate(218 91 520)" fill="#b4a472"/><ellipse cx="115" cy="453" rx="3.5" ry="1.8" transform="rotate(326 115 453)" fill="#c0a488"/><ellipse cx="169" cy="506" rx="3.5" ry="1.9" transform="rotate(96 169 506)" fill="#c8a0a0"/><ellipse cx="151" cy="468" rx="4.3" ry="2.0" transform="rotate(420 151 468)" fill="#bea47c"/><ellipse cx="148" cy="490" rx="5.2" ry="2.2" transform="rotate(131 148 490)" fill="#c0a488"/><ellipse cx="59" cy="479" rx="5.7" ry="2.3" transform="rotate(278 59 479)" fill="#b49478"/><ellipse cx="78" cy="535" rx="4.3" ry="2.4" transform="rotate(207 78 535)" fill="#bea47c"/><ellipse cx="37" cy="488" rx="4.6" ry="1.4" transform="rotate(247 37 488)" fill="#bea47c"/><ellipse cx="50" cy="486" rx="3.6" ry="1.7" transform="rotate(216 50 486)" fill="#bea47c"/><ellipse cx="82" cy="501" rx="4.9" ry="2.4" transform="rotate(209 82 501)" fill="#b89c7c"/><ellipse cx="150" cy="507" rx="5.6" ry="1.8" transform="rotate(71 150 507)" fill="#b49478"/><ellipse cx="74" cy="473" rx="2.5" ry="2.1" transform="rotate(268 74 473)" fill="#c69c98"/><ellipse cx="167" cy="444" rx="5.6" ry="1.9" transform="rotate(508 167 444)" fill="#c0a488"/><ellipse cx="43" cy="505" rx="2.6" ry="2.4" transform="rotate(238 43 505)" fill="#c8a0a0"/><ellipse cx="179" cy="477" rx="3.5" ry="2.4" transform="rotate(422 179 477)" fill="#b49478"/><ellipse cx="152" cy="499" rx="6.8" ry="1.9" transform="rotate(126 152 499)" fill="#c8a0a0"/><ellipse cx="96" cy="436" rx="4.4" ry="1.5" transform="rotate(362 96 436)" fill="#bea47c"/><ellipse cx="155" cy="456" rx="5.8" ry="2.1" transform="rotate(428 155 456)" fill="#bea47c"/><ellipse cx="178" cy="486" rx="5.2" ry="1.2" transform="rotate(399 178 486)" fill="#bea47c"/><ellipse cx="66" cy="477" rx="4.5" ry="1.8" transform="rotate(323 66 477)" fill="#b49478"/><ellipse cx="118" cy="454" rx="2.6" ry="1.7" transform="rotate(364 118 454)" fill="#c6a890"/><ellipse cx="98" cy="532" rx="2.7" ry="2.2" transform="rotate(235 98 532)" fill="#b49478"/><ellipse cx="103" cy="536" rx="4.1" ry="2.5" transform="rotate(179 103 536)" fill="#c6a890"/><ellipse cx="65" cy="523" rx="4.1" ry="1.6" transform="rotate(268 65 523)" fill="#c8a0a0"/><ellipse cx="85" cy="550" rx="5.1" ry="1.2" transform="rotate(196 85 550)" fill="#b89c7c"/><ellipse cx="129" cy="521" rx="4.3" ry="1.9" transform="rotate(165 129 521)" fill="#b49478"/><ellipse cx="116" cy="518" rx="5.3" ry="2.4" transform="rotate(159 116 518)" fill="#c8a0a0"/><ellipse cx="34" cy="490" rx="6.6" ry="1.8" transform="rotate(237 34 490)" fill="#bea47c"/><ellipse cx="161" cy="504" rx="2.6" ry="1.1" transform="rotate(64 161 504)" fill="#c8a0a0"/><ellipse cx="113" cy="522" rx="6.3" ry="2.0" transform="rotate(166 113 522)" fill="#b89c7c"/><ellipse cx="61" cy="507" rx="5.4" ry="1.2" transform="rotate(358 61 507)" fill="#b4a472"/><ellipse cx="177" cy="461" rx="4.5" ry="2.0" transform="rotate(458 177 461)" fill="#bea47c"/><ellipse cx="140" cy="550" rx="2.7" ry="1.2" transform="rotate(170 140 550)" fill="#c69c98"/><ellipse cx="195" cy="493" rx="5.6" ry="1.4" transform="rotate(81 195 493)" fill="#c8a0a0"/><ellipse cx="169" cy="437" rx="6.1" ry="1.5" transform="rotate(408 169 437)" fill="#c69c98"/><ellipse cx="51" cy="516" rx="6.6" ry="1.5" transform="rotate(216 51 516)" fill="#b89c7c"/><ellipse cx="123" cy="429" rx="3.6" ry="1.2" transform="rotate(284 123 429)" fill="#c69c98"/><ellipse cx="73" cy="541" rx="4.5" ry="1.1" transform="rotate(245 73 541)" fill="#c0a488"/><ellipse cx="81" cy="510" rx="5.1" ry="2.2" transform="rotate(274 81 510)" fill="#bea47c"/><ellipse cx="73" cy="509" rx="3.2" ry="2.3" transform="rotate(277 73 509)" fill="#bea47c"/><ellipse cx="94" cy="551" rx="5.1" ry="2.3" transform="rotate(191 94 551)" fill="#c69c98"/><ellipse cx="131" cy="540" rx="6.7" ry="1.2" transform="rotate(146 131 540)" fill="#c0a488"/><ellipse cx="115" cy="436" rx="6.1" ry="2.4" transform="rotate(352 115 436)" fill="#bea47c"/><ellipse cx="148" cy="487" rx="4.3" ry="1.4" transform="rotate(469 148 487)" fill="#b4a472"/><ellipse cx="118" cy="445" rx="6.3" ry="2.3" transform="rotate(374 118 445)" fill="#c8a0a0"/><ellipse cx="112" cy="453" rx="3.6" ry="2.0" transform="rotate(400 112 453)" fill="#b89c7c"/><ellipse cx="88" cy="516" rx="4.8" ry="2.6" transform="rotate(228 88 516)" fill="#c69c98"/><ellipse cx="186" cy="502" rx="4.8" ry="2.0" transform="rotate(143 186 502)" fill="#bea47c"/><ellipse cx="67" cy="459" rx="3.5" ry="1.4" transform="rotate(281 67 459)" fill="#b49478"/><ellipse cx="142" cy="470" rx="4.5" ry="2.5" transform="rotate(415 142 470)" fill="#c6a890"/><ellipse cx="120" cy="446" rx="6.2" ry="1.2" transform="rotate(355 120 446)" fill="#b4a472"/><ellipse cx="50" cy="476" rx="4.6" ry="1.8" transform="rotate(302 50 476)" fill="#c8a0a0"/><ellipse cx="132" cy="433" rx="6.8" ry="2.2" transform="rotate(377 132 433)" fill="#c69c98"/><ellipse cx="73" cy="521" rx="3.9" ry="2.4" transform="rotate(223 73 521)" fill="#c69c98"/><ellipse cx="159" cy="480" rx="2.7" ry="2.5" transform="rotate(475 159 480)" fill="#c6a890"/></g><g filter="url(#tx2)"><path d="M80.0 446.0C82.0 441.5 91.0 435.3 98.0 433.0C105.0 430.7 114.0 430.8 122.0 432.0C130.0 433.2 139.3 436.2 146.0 440.0C152.7 443.8 158.2 448.7 162.0 455.0C165.8 461.3 168.2 470.5 169.0 478.0C169.8 485.5 169.2 497.7 167.0 500.0C164.8 502.3 160.2 496.7 156.0 492.0C151.8 487.3 147.7 477.7 142.0 472.0C136.3 466.3 129.0 461.7 122.0 458.0C115.0 454.3 106.0 449.7 100.0 450.0C94.0 450.3 89.3 460.7 86.0 460.0C82.7 459.3 78.0 450.5 80.0 446.0Z" fill="#c4a298" /><path d="M140.0 526.0C144.7 521.7 151.3 514.0 156.0 514.0C160.7 514.0 167.3 521.3 168.0 526.0C168.7 530.7 164.7 538.7 160.0 542.0C155.3 545.3 145.3 546.3 140.0 546.0C134.7 545.7 128.0 543.3 128.0 540.0C128.0 536.7 135.3 530.3 140.0 526.0Z" fill="#c4a298" /><path d="M62.0 470.0C64.7 465.7 71.3 460.3 74.0 462.0C76.7 463.7 78.0 473.7 78.0 480.0C78.0 486.3 75.3 493.3 74.0 500.0C72.7 506.7 72.0 519.2 70.0 520.0C68.0 520.8 64.0 510.3 62.0 505.0C60.0 499.7 58.0 493.8 58.0 488.0C58.0 482.2 59.3 474.3 62.0 470.0Z" fill="#c4a298" /></g><g filter="url(#tx)"><path d="M78.0 470.0C80.7 465.0 84.3 458.8 88.0 455.0C91.7 451.2 96.0 447.5 100.0 447.0C104.0 446.5 108.3 450.0 112.0 452.0C115.7 454.0 118.3 457.0 122.0 459.0C125.7 461.0 130.0 461.8 134.0 464.0C138.0 466.2 142.8 468.3 146.0 472.0C149.2 475.7 151.3 481.3 153.0 486.0C154.7 490.7 156.0 495.2 156.0 500.0C156.0 504.8 154.8 510.8 153.0 515.0C151.2 519.2 148.5 522.3 145.0 525.0C141.5 527.7 136.5 529.2 132.0 531.0C127.5 532.8 123.3 534.3 118.0 536.0C112.7 537.7 105.5 540.5 100.0 541.0C94.5 541.5 89.2 540.7 85.0 539.0C80.8 537.3 77.3 534.8 75.0 531.0C72.7 527.2 71.2 521.2 71.0 516.0C70.8 510.8 73.8 505.2 74.0 500.0C74.2 494.8 71.3 490.0 72.0 485.0C72.7 480.0 75.3 475.0 78.0 470.0Z" fill="#c896a5" /></g><path stroke="#ffffff" stroke-width="1.5" stroke-linecap="round" fill="none" d="M116 464q-1 6 -1 12M109 487q-2 5 -5 9M81 498q2 3 5 6M112 496q4 2 6 6M108 498q-2 5 -6 8M77 502q6 0 10 3M140 490q2 5 4 11M88 487q0 3 -1 5"/><path stroke="#ffffff" stroke-width="1.0" stroke-linecap="round" fill="none" d="M125 496q-1 3 -1 6M97 505q3 4 6 7M132 481q2 2 3 3M112 481q-3 3 -5 7M88 475q4 -1 8 0M86 485q2 5 1 10M96 512q-3 1 -5 2M128 481q3 3 5 6M108 490q3 0 7 0M115 488q1 4 3 9M87 502q6 0 11 0M116 460q-3 1 -7 1M121 491q-1 3 -3 6M96 510q3 2 7 4M111 518q-5 0 -10 1"/><path stroke="#ffffff" stroke-width="0.5" stroke-linecap="round" fill="none" d="M94 513q3 1 6 4M126 495q-3 0 -5 2M122 503q-3 3 -6 4M100 513q6 2 8 7M112 491q5 2 10 2"/>
<line x1="21.6" y1="488.5" x2="211.3" y2="488.5" stroke="#8e8e8e" stroke-width="0.9"/>
<rect x="21.6" y="409.6" width="189.7" height="157.2" fill="none" stroke="#ababab" stroke-width="0.8"/>
<text class="t" transform="translate(24.7 574.6) scale(1 1.18)" text-anchor="middle">−20</text>
<line x1="24.7" y1="566.8" x2="24.7" y2="568.3" stroke="#555" stroke-width="0.5"/>
<text class="t" transform="translate(47.7 574.6) scale(1 1.18)" text-anchor="middle">−15</text>
<line x1="47.7" y1="566.8" x2="47.7" y2="568.3" stroke="#555" stroke-width="0.5"/>
<text class="t" transform="translate(70.7 574.6) scale(1 1.18)" text-anchor="middle">−10</text>
<line x1="70.7" y1="566.8" x2="70.7" y2="568.3" stroke="#555" stroke-width="0.5"/>
<text class="t" transform="translate(93.7 574.6) scale(1 1.18)" text-anchor="middle">−5</text>
<line x1="93.7" y1="566.8" x2="93.7" y2="568.3" stroke="#555" stroke-width="0.5"/>
<text class="t" transform="translate(116.7 574.6) scale(1 1.18)" text-anchor="middle">0</text>
<line x1="116.7" y1="566.8" x2="116.7" y2="568.3" stroke="#555" stroke-width="0.5"/>
<text class="t" transform="translate(139.7 574.6) scale(1 1.18)" text-anchor="middle">5</text>
<line x1="139.7" y1="566.8" x2="139.7" y2="568.3" stroke="#555" stroke-width="0.5"/>
<text class="t" transform="translate(162.7 574.6) scale(1 1.18)" text-anchor="middle">10</text>
<line x1="162.7" y1="566.8" x2="162.7" y2="568.3" stroke="#555" stroke-width="0.5"/>
<text class="t" transform="translate(185.7 574.6) scale(1 1.18)" text-anchor="middle">15</text>
<line x1="185.7" y1="566.8" x2="185.7" y2="568.3" stroke="#555" stroke-width="0.5"/>
<text class="t" transform="translate(208.7 574.6) scale(1 1.18)" text-anchor="middle">20</text>
<line x1="208.7" y1="566.8" x2="208.7" y2="568.3" stroke="#555" stroke-width="0.5"/>
<text class="t" transform="translate(19.4 568.7) scale(1 1.18)" text-anchor="end">−20</text>
<line x1="20.1" y1="565.8" x2="21.6" y2="565.8" stroke="#555" stroke-width="0.5"/>
<text class="t" transform="translate(19.4 549.4) scale(1 1.18)" text-anchor="end">−15</text>
<line x1="20.1" y1="546.5" x2="21.6" y2="546.5" stroke="#555" stroke-width="0.5"/>
<text class="t" transform="translate(19.4 530.1) scale(1 1.18)" text-anchor="end">−10</text>
<line x1="20.1" y1="527.2" x2="21.6" y2="527.2" stroke="#555" stroke-width="0.5"/>
<text class="t" transform="translate(19.4 510.8) scale(1 1.18)" text-anchor="end">−5</text>
<line x1="20.1" y1="507.9" x2="21.6" y2="507.9" stroke="#555" stroke-width="0.5"/>
<text class="t" transform="translate(19.4 491.5) scale(1 1.18)" text-anchor="end">0</text>
<line x1="20.1" y1="488.6" x2="21.6" y2="488.6" stroke="#555" stroke-width="0.5"/>
<text class="t" transform="translate(19.4 472.2) scale(1 1.18)" text-anchor="end">5</text>
<line x1="20.1" y1="469.3" x2="21.6" y2="469.3" stroke="#555" stroke-width="0.5"/>
<text class="t" transform="translate(19.4 452.9) scale(1 1.18)" text-anchor="end">10</text>
<line x1="20.1" y1="450.0" x2="21.6" y2="450.0" stroke="#555" stroke-width="0.5"/>
<text class="t" transform="translate(19.4 433.6) scale(1 1.18)" text-anchor="end">15</text>
<line x1="20.1" y1="430.7" x2="21.6" y2="430.7" stroke="#555" stroke-width="0.5"/>
<text class="t" transform="translate(19.4 414.3) scale(1 1.18)" text-anchor="end">20</text>
<line x1="20.1" y1="411.4" x2="21.6" y2="411.4" stroke="#555" stroke-width="0.5"/>
<rect x="223.3" y="558.94" width="8.5" height="8.16" fill="#67a3cc"/>
<rect x="223.3" y="551.08" width="8.5" height="8.16" fill="#c8d9ef"/>
<rect x="223.3" y="543.22" width="8.5" height="8.16" fill="#ffa85b"/>
<rect x="223.3" y="535.36" width="8.5" height="8.16" fill="#ffd1a3"/>
<rect x="223.3" y="527.50" width="8.5" height="8.16" fill="#70be70"/>
<rect x="223.3" y="519.64" width="8.5" height="8.16" fill="#b9e9af"/>
<rect x="223.3" y="511.78" width="8.5" height="8.16" fill="#e36c6d"/>
<rect x="223.3" y="503.92" width="8.5" height="8.16" fill="#ffb9b8"/>
<rect x="223.3" y="496.06" width="8.5" height="8.16" fill="#b698d2"/>
<rect x="223.3" y="488.20" width="8.5" height="8.16" fill="#d8c9e2"/>
<rect x="223.3" y="480.34" width="8.5" height="8.16" fill="#b18c85"/>
<rect x="223.3" y="472.48" width="8.5" height="8.16" fill="#d7bcb6"/>
<rect x="223.3" y="464.62" width="8.5" height="8.16" fill="#eca3d6"/>
<rect x="223.3" y="456.76" width="8.5" height="8.16" fill="#facde0"/>
<rect x="223.3" y="448.90" width="8.5" height="8.16" fill="#a8a8a8"/>
<rect x="223.3" y="441.04" width="8.5" height="8.16" fill="#d9d9d9"/>
<rect x="223.3" y="433.18" width="8.5" height="8.16" fill="#d1d269"/>
<rect x="223.3" y="425.32" width="8.5" height="8.16" fill="#e7e7b1"/>
<rect x="223.3" y="417.46" width="8.5" height="8.16" fill="#61d3de"/>
<rect x="223.3" y="409.60" width="8.5" height="8.16" fill="#bde6ed"/>
<rect x="223.3" y="409.6" width="8.5" height="157.2" fill="none" stroke="#c8c8c8" stroke-width="0.5"/>
<line x1="231.8" y1="566.8" x2="233.3" y2="566.8" stroke="#555" stroke-width="0.5"/>
<text class="t" transform="translate(234.1 569.7) scale(1 1.18)">0</text>
<line x1="231.8" y1="549.3" x2="233.3" y2="549.3" stroke="#555" stroke-width="0.5"/>
<text class="t" transform="translate(234.1 552.2) scale(1 1.18)">2</text>
<line x1="231.8" y1="531.9" x2="233.3" y2="531.9" stroke="#555" stroke-width="0.5"/>
<text class="t" transform="translate(234.1 534.8) scale(1 1.18)">4</text>
<line x1="231.8" y1="514.4" x2="233.3" y2="514.4" stroke="#555" stroke-width="0.5"/>
<text class="t" transform="translate(234.1 517.3) scale(1 1.18)">6</text>
<line x1="231.8" y1="496.9" x2="233.3" y2="496.9" stroke="#555" stroke-width="0.5"/>
<text class="t" transform="translate(234.1 499.8) scale(1 1.18)">8</text>
<line x1="231.8" y1="479.5" x2="233.3" y2="479.5" stroke="#555" stroke-width="0.5"/>
<text class="t" transform="translate(234.1 482.4) scale(1 1.18)">10</text>
<line x1="231.8" y1="462.0" x2="233.3" y2="462.0" stroke="#555" stroke-width="0.5"/>
<text class="t" transform="translate(234.1 464.9) scale(1 1.18)">12</text>
<line x1="231.8" y1="444.5" x2="233.3" y2="444.5" stroke="#555" stroke-width="0.5"/>
<text class="t" transform="translate(234.1 447.4) scale(1 1.18)">14</text>
<line x1="231.8" y1="427.1" x2="233.3" y2="427.1" stroke="#555" stroke-width="0.5"/>
<text class="t" transform="translate(234.1 430.0) scale(1 1.18)">16</text>
<line x1="231.8" y1="409.6" x2="233.3" y2="409.6" stroke="#555" stroke-width="0.5"/>
<text class="t" transform="translate(234.1 412.5) scale(1 1.18)">18</text>
<text class="cl" transform="translate(252.4,488.2) rotate(-90)" text-anchor="middle">Course ID</text>
<text class="cap" transform="translate(2.2 600.0) scale(1.046 1)">(<tspan font-weight="bold">e</tspan>) XueTangX-CNNLS</text>
<line x1="319.5" y1="409.3" x2="319.5" y2="566.6" stroke="#f0f0f0" stroke-width="0.7"/>
<line x1="342.0" y1="409.3" x2="342.0" y2="566.6" stroke="#f0f0f0" stroke-width="0.7"/>
<line x1="364.5" y1="409.3" x2="364.5" y2="566.6" stroke="#f0f0f0" stroke-width="0.7"/>
<line x1="387.0" y1="409.3" x2="387.0" y2="566.6" stroke="#f0f0f0" stroke-width="0.7"/>
<line x1="409.5" y1="409.3" x2="409.5" y2="566.6" stroke="#f0f0f0" stroke-width="0.7"/>
<line x1="432.0" y1="409.3" x2="432.0" y2="566.6" stroke="#f0f0f0" stroke-width="0.7"/>
<line x1="454.5" y1="409.3" x2="454.5" y2="566.6" stroke="#f0f0f0" stroke-width="0.7"/>
<line x1="477.0" y1="409.3" x2="477.0" y2="566.6" stroke="#f0f0f0" stroke-width="0.7"/>
<line x1="499.5" y1="409.3" x2="499.5" y2="566.6" stroke="#f0f0f0" stroke-width="0.7"/>
<line x1="314.4" y1="565.9" x2="504.5" y2="565.9" stroke="#f0f0f0" stroke-width="0.7"/>
<line x1="314.4" y1="546.6" x2="504.5" y2="546.6" stroke="#f0f0f0" stroke-width="0.7"/>
<line x1="314.4" y1="527.3" x2="504.5" y2="527.3" stroke="#f0f0f0" stroke-width="0.7"/>
<line x1="314.4" y1="508.0" x2="504.5" y2="508.0" stroke="#f0f0f0" stroke-width="0.7"/>
<line x1="314.4" y1="488.7" x2="504.5" y2="488.7" stroke="#f0f0f0" stroke-width="0.7"/>
<line x1="314.4" y1="469.4" x2="504.5" y2="469.4" stroke="#f0f0f0" stroke-width="0.7"/>
<line x1="314.4" y1="450.1" x2="504.5" y2="450.1" stroke="#f0f0f0" stroke-width="0.7"/>
<line x1="314.4" y1="430.8" x2="504.5" y2="430.8" stroke="#f0f0f0" stroke-width="0.7"/>
<line x1="314.4" y1="411.5" x2="504.5" y2="411.5" stroke="#f0f0f0" stroke-width="0.7"/>
<path stroke="#d8c0c0" stroke-width="1.5" stroke-linecap="round" fill="none" d="M428 425q2 3 3 5M349 471q2 -3 -1 -5M423 443q4 4 8 1M419 530q-3 3 -8 3M491 487q2 2 4 2M399 420q2 0 3 1M380 440q1 3 4 2M405 534q-3 2 -5 -1M422 449q1 6 7 6"/><path stroke="#c0a890" stroke-width="2.0" stroke-linecap="round" fill="none" d="M417 449q0 -4 -4 -7M374 500q-4 -1 -3 3M410 536q-6 1 -6 7M445 506q6 1 9 -3M475 468q2 2 2 5M368 534q-2 0 -4 -1M361 463q0 -2 -3 -3M472 515q-3 3 -5 5M382 450q-1 -5 -1 -9M355 493q-6 -1 -5 -7M428 532q-3 3 -6 2M371 484q-2 0 -4 0M366 474q0 -2 1 -3M369 489q-4 3 -8 1M363 482q-4 4 -7 7M363 513q2 5 -4 5M355 458q-4 -1 -7 -5M492 495q-1 2 0 4M450 495q2 4 5 0M395 556q-2 -1 -3 0M445 511q1 3 -1 6M377 528q0 2 -3 2M441 549q-1 3 -4 3M476 514q-1 5 -5 4M434 535q3 0 6 -1M350 522q-2 1 -3 3M456 460q1 5 1 10M374 493q0 -2 1 -2M452 507q0 3 1 5M388 461q2 -2 4 -1M414 553q-4 0 -7 0M471 469q3 -4 8 -4M485 486q4 0 7 1M381 527q-4 1 -7 -2M438 463q1 3 2 6M423 538q3 2 0 5M387 546q-3 -1 -3 2"/><path stroke="#d8a8c0" stroke-width="1.0" stroke-linecap="round" fill="none" d="M423 452q0 -5 5 -8M444 463q2 -1 3 -1M389 549q-3 -3 -4 1M373 540q-3 -1 -3 -4M432 438q0 6 6 5M372 449q6 1 5 -5M437 549q-4 -1 -6 2M363 509q-3 3 -4 -1"/><path stroke="#c0c0c0" stroke-width="2.0" stroke-linecap="round" fill="none" d="M357 536q3 6 -2 10M341 514q-2 -2 -3 -5M348 473q-5 0 -7 -4M469 472q5 1 6 6"/><path stroke="#c0a890" stroke-width="1.5" stroke-linecap="round" fill="none" d="M370 532q-3 -2 -6 0M443 502q0 4 -1 7M381 433q-1 -1 -1 -3M445 501q1 4 1 8M478 523q-4 -2 -4 3M367 517q-5 3 -7 -2M434 556q-2 -3 -3 0M390 536q-3 -6 -9 -3M375 456q-1 -5 -6 -6M373 440q2 1 4 2M465 514q-2 5 0 9M387 555q-2 -7 -9 -4M376 501q-2 -1 -4 -1M446 533q-4 0 -6 2M360 474q-6 0 -4 -5M338 515q3 -4 0 -8M431 458q2 -2 3 -4M466 525q-1 3 1 5M359 503q2 4 -2 8M464 534q0 4 -2 7M429 528q-2 5 3 8M348 459q-4 -1 -6 2M476 468q5 -1 6 3M338 516q-3 3 -7 1M431 447q0 2 1 3M391 461q-2 -2 -4 -3M476 457q1 -3 1 -6M443 471q4 -2 6 2M371 538q-1 4 -4 6M465 524q1 2 -1 3M374 541q-2 5 -6 6M447 463q1 -1 4 -1"/><path stroke="#c0c078" stroke-width="2.0" stroke-linecap="round" fill="none" d="M395 529q0 -6 -5 -4M377 452q-5 -2 -7 -7M332 483q3 -2 6 -3M392 558q-5 0 -9 -3M452 469q2 6 8 6M455 517q-1 3 0 6M353 474q4 -2 0 -4M364 495q-3 -5 2 -8M450 467q0 -3 3 -5"/><path stroke="#c0a878" stroke-width="1.5" stroke-linecap="round" fill="none" d="M455 494q5 3 10 0M416 532q3 2 4 6M378 455q4 -2 4 -6M383 438q-7 0 -4 -7M396 530q-1 4 1 8M486 501q3 3 5 -1M410 456q1 -3 4 -5M457 504q-7 3 -1 9"/><path stroke="#c0c078" stroke-width="2.5" stroke-linecap="round" fill="none" d="M465 502q-3 3 -6 6M367 440q-4 6 -10 2M348 524q-4 -2 -7 -4"/><path stroke="#c0a8a8" stroke-width="2.0" stroke-linecap="round" fill="none" d="M452 461q1 -4 2 -8M417 421q0 2 3 2M420 448q0 -5 -1 -10M385 430q4 0 7 -1M460 462q2 0 3 -1M476 481q0 2 1 3M417 551q-2 0 -4 0M430 431q7 3 9 -3M400 535q-2 -3 -6 -4"/><path stroke="#d8c0a8" stroke-width="1.0" stroke-linecap="round" fill="none" d="M408 449q0 -4 0 -7M356 458q-3 -1 -6 -4M403 527q1 1 -1 3M363 440q0 -3 -2 -4M406 532q-3 1 -4 3M415 546q1 6 -5 8M446 465q6 1 9 -4M411 521q1 4 1 9"/><path stroke="#d8a8a8" stroke-width="2.0" stroke-linecap="round" fill="none" d="M368 497q-2 -3 0 -6M328 508q-1 2 -2 2M478 523q2 -2 4 1M381 474q-3 -4 -2 -9M388 537q-4 0 -6 3M447 521q-3 -2 -6 -1M393 451q-4 2 -6 -1M378 460q4 -3 7 -5"/><path stroke="#d8c0a8" stroke-width="2.5" stroke-linecap="round" fill="none" d="M365 528q-3 0 -5 0M339 508q-3 -1 -6 -3M443 510q2 1 4 1M418 452q1 -3 1 -6"/><path stroke="#d8a8a8" stroke-width="1.5" stroke-linecap="round" fill="none" d="M375 501q-1 -2 -3 -1M419 457q1 -2 3 0M462 495q0 3 -3 4M423 525q1 2 1 3M374 477q0 -6 6 -6M453 444q0 6 3 10M386 460q-1 -2 -4 -1M423 545q-2 4 -5 2M466 491q3 -2 4 -5M392 548q-2 4 1 7M465 501q-2 0 -2 2M478 453q2 -1 4 -1"/><path stroke="#d8c090" stroke-width="2.0" stroke-linecap="round" fill="none" d="M450 516q2 0 4 1M370 456q1 -1 2 -2M423 541q6 0 1 4M437 520q-4 3 -8 5M442 444q4 -5 -2 -9M457 529q-3 2 -4 5M408 554q2 3 -1 6M463 494q0 4 2 7M432 459q3 1 6 2M418 533q5 2 6 6M416 523q-1 3 -4 6M365 481q0 -2 2 -4M417 457q-6 -3 -3 -9"/><path stroke="#d8a8a8" stroke-width="1.0" stroke-linecap="round" fill="none" d="M474 451q7 -1 7 6M383 463q3 -1 4 -5M357 474q2 -1 4 -3M418 439q-2 -5 2 -8M444 465q-2 3 -1 6M385 429q-4 0 -4 -4"/><path stroke="#d8c090" stroke-width="2.5" stroke-linecap="round" fill="none" d="M445 471q0 4 -1 9M331 476q2 1 4 1M395 461q-1 -4 -4 -5M450 517q7 1 5 8M332 508q-1 -4 -5 -7M376 540q-1 3 -3 7M384 442q6 3 10 -2M451 525q4 -1 9 0"/><path stroke="#a8a8c0" stroke-width="1.0" stroke-linecap="round" fill="none" d="M434 435q1 4 5 4"/><path stroke="#c0a890" stroke-width="1.0" stroke-linecap="round" fill="none" d="M376 516q-2 1 -4 1M468 510q4 0 9 0M439 552q0 2 0 4M430 531q-5 1 -9 1M330 477q-3 -5 -8 -4M437 463q1 -1 1 -3M378 522q-2 -5 -4 -9M393 432q7 0 7 7"/><path stroke="#a89078" stroke-width="1.5" stroke-linecap="round" fill="none" d="M341 465q3 -3 2 -7M379 446q-5 1 -6 -4"/><path stroke="#a89090" stroke-width="1.5" stroke-linecap="round" fill="none" d="M467 497q5 1 6 6M390 530q3 5 -1 7M404 530q-2 -1 -4 -2M402 533q-3 -1 -6 0M409 445q3 -1 5 -5M472 521q-3 2 -4 5M426 547q-1 -3 -3 -2M406 441q4 -4 0 -8M328 492q1 -5 4 -9M371 475q-3 -4 -7 -6M378 443q0 -3 0 -6"/><path stroke="#c0a878" stroke-width="1.0" stroke-linecap="round" fill="none" d="M438 455q-6 3 -2 8M351 520q1 -1 0 -3M432 451q5 -2 4 -7M415 452q2 -1 3 0M442 519q0 2 1 4M460 454q3 -3 6 -5"/><path stroke="#d8a8c0" stroke-width="2.0" stroke-linecap="round" fill="none" d="M374 438q3 -2 5 -6M386 446q4 1 9 1M376 523q-2 2 -4 3M361 537q0 -3 -3 -5M472 460q-4 -2 -3 -7M459 467q3 5 3 10M365 529q1 3 -2 3M452 491q1 3 -1 6M412 435q2 -1 4 -2M354 522q-2 -2 -4 -3M334 518q0 -2 -2 -2M384 545q3 6 9 2M447 443q0 -5 4 -7M426 455q5 -2 10 -2M452 467q4 -1 5 -4"/><path stroke="#c0a860" stroke-width="1.0" stroke-linecap="round" fill="none" d="M465 520q-2 -2 -4 0M383 435q2 0 3 0"/><path stroke="#d8c0c0" stroke-width="1.0" stroke-linecap="round" fill="none" d="M338 516q0 -2 0 -3M418 455q2 -2 4 -1M366 458q-1 -3 -4 -4M470 479q0 3 -2 5M394 550q-2 1 -3 -1M424 453q1 -4 4 -6M367 512q-4 -4 -1 -10M337 491q0 -4 -1 -7M345 532q-4 0 -4 -4M358 512q0 -4 0 -8M474 499q-1 4 -2 7M368 457q0 -5 -3 -8M385 533q-3 -3 -8 -3"/><path stroke="#d8c0a8" stroke-width="1.5" stroke-linecap="round" fill="none" d="M367 466q3 2 3 -1M453 466q4 -2 2 -5M371 527q-2 -3 -1 -6M405 543q0 3 2 5M445 482q0 4 0 9M372 435q2 -2 4 -3M362 437q-2 -6 -8 -5M395 437q2 0 3 0M436 454q1 -1 3 -3M459 468q4 4 -1 5M361 435q3 -4 7 -6M480 481q3 0 5 1M400 547q-2 0 -4 0M373 477q0 -3 -1 -6M363 473q0 -1 1 -3"/><path stroke="#d8a8c0" stroke-width="1.5" stroke-linecap="round" fill="none" d="M366 454q1 -2 4 -3M450 484q3 1 7 -1M346 472q-1 4 -5 4M442 438q0 2 1 3M492 504q-2 4 -5 7M371 448q-2 -1 -1 -3M369 471q4 -2 7 -4"/><path stroke="#d8c0a8" stroke-width="2.0" stroke-linecap="round" fill="none" d="M479 466q3 2 4 5M449 493q-3 2 -2 6M410 422q1 1 3 1M346 524q-3 -2 -4 -4M468 478q0 2 0 4M365 486q2 -3 0 -7M443 446q4 -1 4 -6M459 455q3 3 5 5M465 523q-1 3 -4 4M435 422q1 2 4 3M393 442q3 -1 7 -2M430 512q3 3 4 8M400 521q0 2 1 3M345 508q1 -4 2 -7M375 539q0 2 2 4M444 498q5 2 9 4M405 423q6 2 5 -4M427 526q-2 5 -8 5M451 503q-3 2 0 4M343 469q1 -3 5 -4M411 452q2 0 3 -1M342 468q-1 -4 -5 -3M475 468q2 -5 6 -3"/><path stroke="#d8c0c0" stroke-width="2.0" stroke-linecap="round" fill="none" d="M427 444q7 3 8 -4M360 537q3 -6 -3 -7M410 525q-4 3 0 6M386 450q2 0 3 -2M464 508q5 0 10 -2M343 501q-3 1 -5 -1M430 539q3 1 5 5M460 479q1 -3 3 0M442 432q1 -4 6 -6M374 446q0 -5 -3 -9M488 491q3 4 8 1M390 553q3 6 -4 6M441 492q1 -6 7 -5M401 550q-2 -2 -3 0M352 496q-4 3 -9 2M366 534q-7 3 -8 -4"/><path stroke="#c0c078" stroke-width="1.5" stroke-linecap="round" fill="none" d="M408 525q0 3 1 6M444 469q2 -2 4 0M342 451q-1 -5 -6 -4M401 524q-1 -2 -2 -5M393 551q3 0 1 3M479 506q1 -6 7 -4M449 432q3 0 5 -4M434 542q-3 -3 -8 -2M461 481q-4 3 -3 7M373 484q-2 2 -4 0"/><path stroke="#c09090" stroke-width="2.0" stroke-linecap="round" fill="none" d="M433 461q1 5 4 9M401 527q2 2 2 4M409 531q-1 1 -2 2M336 477q-5 2 -9 -1"/><path stroke="#c0a8a8" stroke-width="1.5" stroke-linecap="round" fill="none" d="M470 525q-1 3 2 5M461 440q1 -1 2 -2M451 492q3 0 5 1M454 485q0 4 4 7M387 527q-3 1 -6 -1M407 530q0 3 3 6M373 486q0 -2 -2 -3M346 486q1 -3 3 -7M418 439q2 -4 0 -8"/><path stroke="#d8c090" stroke-width="1.0" stroke-linecap="round" fill="none" d="M374 538q-1 -5 -1 -9M382 469q2 -4 4 -8M372 549q-2 -2 -5 -2M418 450q4 4 4 8M332 502q-2 3 -5 2M343 524q-6 2 -8 -4M446 497q2 -5 6 -2M456 458q0 -3 3 -5M437 456q4 -2 3 -5M368 533q0 4 0 8M483 462q3 1 4 3"/><path stroke="#d8c090" stroke-width="1.5" stroke-linecap="round" fill="none" d="M395 525q2 1 0 3M371 489q0 -2 0 -4M452 444q1 -2 2 -3M375 503q-1 2 -3 2M427 536q-3 -4 -8 -2M336 511q2 -5 -2 -8M371 452q0 -2 0 -4M390 458q0 -5 -5 -5M383 551q-1 3 1 5"/><path stroke="#c0a890" stroke-width="2.5" stroke-linecap="round" fill="none" d="M463 481q5 1 8 -2M361 486q-3 -1 -7 -1M450 434q2 1 3 1M422 452q6 2 10 -2M369 481q-5 -1 -1 -5M430 553q-5 2 -3 7M470 494q-4 1 -8 3"/><path stroke="#a89090" stroke-width="2.0" stroke-linecap="round" fill="none" d="M353 538q-4 0 -6 3M441 425q2 1 5 2M383 462q2 0 3 -2"/><path stroke="#d8c0c0" stroke-width="2.5" stroke-linecap="round" fill="none" d="M373 534q-1 5 -6 4M465 482q5 -1 9 -2M440 433q1 0 3 1M416 525q-3 4 -8 2"/><path stroke="#c0c078" stroke-width="1.0" stroke-linecap="round" fill="none" d="M400 429q0 -2 0 -3M460 453q3 -4 6 -7M355 483q0 -2 -1 -3"/><path stroke="#d8a8c0" stroke-width="2.5" stroke-linecap="round" fill="none" d="M480 448q-1 3 0 7M392 447q1 -3 4 -3M419 532q-3 3 -5 -1M484 473q1 2 3 2"/><path stroke="#c0a860" stroke-width="1.5" stroke-linecap="round" fill="none" d="M457 471q2 0 4 -1M482 477q0 4 0 8M458 476q0 -3 3 -3"/><path stroke="#c0c0a8" stroke-width="2.0" stroke-linecap="round" fill="none" d="M362 531q-4 -2 -4 -7M396 553q-2 -3 -6 -4"/><path stroke="#c0a878" stroke-width="2.5" stroke-linecap="round" fill="none" d="M444 525q-6 9 5 8M439 451q-2 -5 3 -8M372 481q-3 -3 -7 -4"/><path stroke="#c0a878" stroke-width="2.0" stroke-linecap="round" fill="none" d="M420 520q2 2 2 5M460 438q1 4 5 3M449 497q4 2 6 5M357 517q-2 2 -5 3M456 485q6 3 10 -1M490 480q-2 3 -3 7M467 482q3 0 4 2M341 524q-3 1 -5 0"/><path stroke="#a8a8c0" stroke-width="2.5" stroke-linecap="round" fill="none" d="M338 453q-2 -3 -4 -1"/><path stroke="#c0a8c0" stroke-width="2.0" stroke-linecap="round" fill="none" d="M398 535q1 1 1 3"/><path stroke="#c0a8a8" stroke-width="1.0" stroke-linecap="round" fill="none" d="M432 534q-1 4 -5 5M411 535q1 4 -1 7M362 531q-1 1 0 3M372 508q-3 4 -8 3M367 509q0 2 -1 4M358 490q-2 -1 -3 -2"/><path stroke="#c0c090" stroke-width="2.0" stroke-linecap="round" fill="none" d="M366 487q-3 -2 -6 -5M466 515q-1 3 -1 6M425 454q2 -2 0 -5M439 523q2 4 1 8M433 514q-1 4 0 8"/><path stroke="#c0c090" stroke-width="1.0" stroke-linecap="round" fill="none" d="M379 463q1 -1 3 -2M408 454q2 -3 4 -7M372 479q-3 1 -5 -2M382 546q-4 1 -3 5M365 542q-5 0 -7 4M456 470q-3 2 -4 6M407 422q3 -2 6 -2M464 500q-1 5 4 4"/><path stroke="#c0c090" stroke-width="1.5" stroke-linecap="round" fill="none" d="M361 494q0 -2 1 -4M390 452q2 -6 8 -5M370 437q-3 -1 -3 -4M457 431q7 1 5 8"/><path stroke="#a89078" stroke-width="2.0" stroke-linecap="round" fill="none" d="M422 522q-4 1 -7 0M448 441q2 -4 6 -6M446 513q0 5 -5 7M365 516q-1 1 -1 3M454 523q5 3 1 8M355 482q-3 -6 -9 -4M470 529q4 2 8 5M401 553q2 2 3 5"/><path stroke="#c0c0a8" stroke-width="2.5" stroke-linecap="round" fill="none" d="M424 431q2 -4 6 -5"/><path stroke="#a89078" stroke-width="2.5" stroke-linecap="round" fill="none" d="M369 528q-1 -4 -6 -7"/><path stroke="#c0c0a8" stroke-width="1.5" stroke-linecap="round" fill="none" d="M336 495q-3 2 -6 1"/><path stroke="#c0c090" stroke-width="2.5" stroke-linecap="round" fill="none" d="M472 511q-5 3 -1 8"/><path stroke="#c0a8c0" stroke-width="1.0" stroke-linecap="round" fill="none" d="M402 536q-4 -1 -6 -3"/><path stroke="#a89078" stroke-width="1.0" stroke-linecap="round" fill="none" d="M445 545q-3 4 -9 4M435 464q1 -7 8 -4"/><path stroke="#d8a8a8" stroke-width="2.5" stroke-linecap="round" fill="none" d="M374 460q4 2 5 -3"/><path stroke="#c0a860" stroke-width="2.0" stroke-linecap="round" fill="none" d="M403 426q1 -4 -2 -7"/><path stroke="#a8a8c0" stroke-width="2.0" stroke-linecap="round" fill="none" d="M473 465q3 -2 5 1"/><g filter="url(#tx3)"><ellipse cx="444" cy="473" rx="6.9" ry="1.4" transform="rotate(351 444 473)" fill="#c69c98"/><ellipse cx="428" cy="522" rx="2.5" ry="1.4" transform="rotate(168 428 522)" fill="#b49478"/><ellipse cx="430" cy="466" rx="4.6" ry="1.0" transform="rotate(460 430 466)" fill="#b49478"/><ellipse cx="384" cy="436" rx="4.0" ry="1.7" transform="rotate(276 384 436)" fill="#c0a488"/><ellipse cx="349" cy="445" rx="3.9" ry="1.5" transform="rotate(230 349 445)" fill="#bea47c"/><ellipse cx="450" cy="449" rx="3.6" ry="2.0" transform="rotate(421 450 449)" fill="#c6a890"/><ellipse cx="441" cy="540" rx="5.1" ry="1.9" transform="rotate(179 441 540)" fill="#b89c7c"/><ellipse cx="376" cy="451" rx="4.7" ry="1.5" transform="rotate(325 376 451)" fill="#c6a890"/><ellipse cx="368" cy="527" rx="6.5" ry="1.5" transform="rotate(178 368 527)" fill="#c69c98"/><ellipse cx="385" cy="506" rx="4.9" ry="2.4" transform="rotate(267 385 506)" fill="#b89c7c"/><ellipse cx="434" cy="507" rx="5.4" ry="1.2" transform="rotate(113 434 507)" fill="#c69c98"/><ellipse cx="373" cy="535" rx="3.1" ry="1.7" transform="rotate(192 373 535)" fill="#bea47c"/><ellipse cx="404" cy="557" rx="7.0" ry="2.5" transform="rotate(259 404 557)" fill="#c69c98"/><ellipse cx="436" cy="450" rx="2.8" ry="2.5" transform="rotate(357 436 450)" fill="#bea47c"/><ellipse cx="354" cy="521" rx="5.0" ry="1.3" transform="rotate(183 354 521)" fill="#b4a472"/><ellipse cx="380" cy="527" rx="4.1" ry="1.1" transform="rotate(193 380 527)" fill="#b49478"/><ellipse cx="395" cy="459" rx="3.8" ry="2.0" transform="rotate(332 395 459)" fill="#bea47c"/><ellipse cx="454" cy="517" rx="6.8" ry="1.8" transform="rotate(135 454 517)" fill="#bea47c"/><ellipse cx="406" cy="444" rx="3.9" ry="1.4" transform="rotate(266 406 444)" fill="#b4a472"/><ellipse cx="353" cy="480" rx="4.0" ry="1.7" transform="rotate(269 353 480)" fill="#c0a488"/><ellipse cx="416" cy="554" rx="4.2" ry="1.7" transform="rotate(124 416 554)" fill="#b49478"/><ellipse cx="367" cy="513" rx="6.2" ry="1.3" transform="rotate(263 367 513)" fill="#b4a472"/><ellipse cx="352" cy="473" rx="5.2" ry="2.5" transform="rotate(335 352 473)" fill="#c69c98"/><ellipse cx="406" cy="433" rx="5.9" ry="1.1" transform="rotate(301 406 433)" fill="#b49478"/><ellipse cx="378" cy="485" rx="3.7" ry="2.5" transform="rotate(276 378 485)" fill="#b4a472"/><ellipse cx="376" cy="548" rx="3.9" ry="2.5" transform="rotate(200 376 548)" fill="#c69c98"/><ellipse cx="430" cy="467" rx="5.9" ry="2.2" transform="rotate(400 430 467)" fill="#b49478"/><ellipse cx="453" cy="522" rx="3.6" ry="1.2" transform="rotate(184 453 522)" fill="#c69c98"/><ellipse cx="328" cy="470" rx="6.3" ry="1.1" transform="rotate(327 328 470)" fill="#bea47c"/><ellipse cx="339" cy="459" rx="6.1" ry="2.6" transform="rotate(282 339 459)" fill="#b89c7c"/><ellipse cx="384" cy="526" rx="4.9" ry="1.8" transform="rotate(231 384 526)" fill="#c6a890"/><ellipse cx="355" cy="495" rx="5.1" ry="2.5" transform="rotate(245 355 495)" fill="#b89c7c"/><ellipse cx="429" cy="524" rx="4.7" ry="2.0" transform="rotate(225 429 524)" fill="#c0a488"/><ellipse cx="428" cy="515" rx="3.3" ry="2.4" transform="rotate(116 428 515)" fill="#c6a890"/><ellipse cx="441" cy="455" rx="5.0" ry="2.1" transform="rotate(373 441 455)" fill="#c0a488"/><ellipse cx="369" cy="454" rx="5.0" ry="1.5" transform="rotate(273 369 454)" fill="#b49478"/><ellipse cx="415" cy="424" rx="2.7" ry="1.3" transform="rotate(412 415 424)" fill="#c69c98"/><ellipse cx="380" cy="464" rx="4.4" ry="2.4" transform="rotate(329 380 464)" fill="#c69c98"/><ellipse cx="382" cy="517" rx="5.7" ry="1.8" transform="rotate(226 382 517)" fill="#b4a472"/><ellipse cx="452" cy="505" rx="6.8" ry="1.8" transform="rotate(112 452 505)" fill="#b89c7c"/><ellipse cx="368" cy="485" rx="4.3" ry="2.4" transform="rotate(272 368 485)" fill="#c6a890"/><ellipse cx="430" cy="434" rx="4.7" ry="1.4" transform="rotate(356 430 434)" fill="#b89c7c"/><ellipse cx="457" cy="510" rx="4.7" ry="1.7" transform="rotate(105 457 510)" fill="#c0a488"/><ellipse cx="347" cy="528" rx="4.0" ry="1.6" transform="rotate(241 347 528)" fill="#b4a472"/><ellipse cx="453" cy="456" rx="3.1" ry="1.7" transform="rotate(321 453 456)" fill="#b4a472"/><ellipse cx="346" cy="504" rx="6.3" ry="2.0" transform="rotate(222 346 504)" fill="#c8a0a0"/><ellipse cx="391" cy="513" rx="6.3" ry="1.8" transform="rotate(260 391 513)" fill="#b49478"/><ellipse cx="374" cy="448" rx="2.7" ry="2.4" transform="rotate(346 374 448)" fill="#c8a0a0"/><ellipse cx="446" cy="451" rx="5.6" ry="1.8" transform="rotate(400 446 451)" fill="#c69c98"/><ellipse cx="406" cy="547" rx="5.6" ry="2.5" transform="rotate(167 406 547)" fill="#bea47c"/><ellipse cx="443" cy="517" rx="2.8" ry="1.1" transform="rotate(66 443 517)" fill="#b49478"/><ellipse cx="359" cy="466" rx="4.2" ry="2.4" transform="rotate(349 359 466)" fill="#c69c98"/><ellipse cx="477" cy="498" rx="3.5" ry="2.2" transform="rotate(46 477 498)" fill="#b4a472"/><ellipse cx="407" cy="545" rx="6.9" ry="2.0" transform="rotate(106 407 545)" fill="#c8a0a0"/><ellipse cx="369" cy="526" rx="3.8" ry="1.2" transform="rotate(183 369 526)" fill="#c0a488"/><ellipse cx="368" cy="499" rx="5.8" ry="2.4" transform="rotate(262 368 499)" fill="#b89c7c"/><ellipse cx="444" cy="488" rx="5.5" ry="1.6" transform="rotate(451 444 488)" fill="#b89c7c"/><ellipse cx="430" cy="516" rx="5.6" ry="1.2" transform="rotate(125 430 516)" fill="#bea47c"/><ellipse cx="406" cy="529" rx="6.3" ry="1.4" transform="rotate(250 406 529)" fill="#bea47c"/><ellipse cx="441" cy="509" rx="6.3" ry="1.4" transform="rotate(167 441 509)" fill="#b4a472"/><ellipse cx="366" cy="475" rx="2.8" ry="1.0" transform="rotate(289 366 475)" fill="#c6a890"/><ellipse cx="378" cy="516" rx="6.5" ry="1.7" transform="rotate(297 378 516)" fill="#c0a488"/><ellipse cx="360" cy="508" rx="6.2" ry="1.0" transform="rotate(176 360 508)" fill="#bea47c"/><ellipse cx="459" cy="488" rx="5.2" ry="1.1" transform="rotate(434 459 488)" fill="#b4a472"/><ellipse cx="425" cy="535" rx="4.6" ry="2.3" transform="rotate(158 425 535)" fill="#b49478"/><ellipse cx="378" cy="537" rx="5.8" ry="1.5" transform="rotate(274 378 537)" fill="#c8a0a0"/><ellipse cx="457" cy="540" rx="5.1" ry="1.8" transform="rotate(159 457 540)" fill="#c8a0a0"/><ellipse cx="431" cy="531" rx="7.0" ry="2.4" transform="rotate(130 431 531)" fill="#c6a890"/><ellipse cx="419" cy="428" rx="4.4" ry="1.4" transform="rotate(378 419 428)" fill="#c69c98"/><ellipse cx="443" cy="468" rx="2.9" ry="1.8" transform="rotate(402 443 468)" fill="#c69c98"/><ellipse cx="399" cy="527" rx="2.6" ry="2.5" transform="rotate(197 399 527)" fill="#c0a488"/><ellipse cx="462" cy="511" rx="2.8" ry="1.3" transform="rotate(112 462 511)" fill="#c69c98"/><ellipse cx="330" cy="489" rx="3.6" ry="2.1" transform="rotate(260 330 489)" fill="#c69c98"/><ellipse cx="444" cy="510" rx="5.2" ry="1.7" transform="rotate(76 444 510)" fill="#c8a0a0"/><ellipse cx="342" cy="469" rx="2.7" ry="2.3" transform="rotate(256 342 469)" fill="#c6a890"/><ellipse cx="389" cy="538" rx="4.2" ry="1.1" transform="rotate(158 389 538)" fill="#c8a0a0"/><ellipse cx="343" cy="474" rx="6.1" ry="2.4" transform="rotate(264 343 474)" fill="#c69c98"/><ellipse cx="427" cy="536" rx="3.1" ry="2.6" transform="rotate(161 427 536)" fill="#b4a472"/><ellipse cx="459" cy="537" rx="4.1" ry="1.9" transform="rotate(187 459 537)" fill="#c0a488"/><ellipse cx="382" cy="519" rx="5.0" ry="1.1" transform="rotate(218 382 519)" fill="#b4a472"/><ellipse cx="449" cy="454" rx="6.9" ry="1.3" transform="rotate(334 449 454)" fill="#b89c7c"/><ellipse cx="413" cy="528" rx="6.8" ry="1.9" transform="rotate(61 413 528)" fill="#bea47c"/><ellipse cx="384" cy="435" rx="4.7" ry="2.6" transform="rotate(405 384 435)" fill="#b89c7c"/><ellipse cx="433" cy="532" rx="5.5" ry="2.4" transform="rotate(156 433 532)" fill="#c0a488"/><ellipse cx="366" cy="472" rx="4.8" ry="1.7" transform="rotate(314 366 472)" fill="#c6a890"/><ellipse cx="403" cy="434" rx="4.0" ry="1.9" transform="rotate(372 403 434)" fill="#c69c98"/><ellipse cx="436" cy="518" rx="5.6" ry="1.4" transform="rotate(152 436 518)" fill="#b49478"/><ellipse cx="437" cy="472" rx="5.0" ry="1.5" transform="rotate(416 437 472)" fill="#c69c98"/><ellipse cx="357" cy="474" rx="5.2" ry="1.3" transform="rotate(252 357 474)" fill="#c69c98"/><ellipse cx="437" cy="452" rx="4.0" ry="2.4" transform="rotate(356 437 452)" fill="#c6a890"/><ellipse cx="418" cy="454" rx="4.0" ry="1.8" transform="rotate(388 418 454)" fill="#c6a890"/><ellipse cx="346" cy="453" rx="4.1" ry="2.0" transform="rotate(311 346 453)" fill="#b49478"/><ellipse cx="399" cy="529" rx="3.6" ry="1.8" transform="rotate(186 399 529)" fill="#b89c7c"/><ellipse cx="441" cy="432" rx="3.0" ry="1.6" transform="rotate(423 441 432)" fill="#c8a0a0"/><ellipse cx="486" cy="508" rx="3.6" ry="1.7" transform="rotate(123 486 508)" fill="#c69c98"/><ellipse cx="415" cy="526" rx="3.3" ry="2.3" transform="rotate(100 415 526)" fill="#c6a890"/><ellipse cx="469" cy="503" rx="6.4" ry="2.0" transform="rotate(122 469 503)" fill="#c8a0a0"/><ellipse cx="437" cy="513" rx="4.2" ry="1.6" transform="rotate(98 437 513)" fill="#c8a0a0"/><ellipse cx="432" cy="534" rx="2.9" ry="1.9" transform="rotate(111 432 534)" fill="#bea47c"/><ellipse cx="372" cy="463" rx="5.3" ry="1.8" transform="rotate(306 372 463)" fill="#bea47c"/><ellipse cx="384" cy="514" rx="4.9" ry="1.1" transform="rotate(194 384 514)" fill="#c0a488"/><ellipse cx="428" cy="437" rx="5.4" ry="1.5" transform="rotate(347 428 437)" fill="#b89c7c"/><ellipse cx="333" cy="515" rx="6.2" ry="1.4" transform="rotate(261 333 515)" fill="#c8a0a0"/><ellipse cx="339" cy="512" rx="5.3" ry="2.4" transform="rotate(278 339 512)" fill="#c8a0a0"/><ellipse cx="419" cy="554" rx="4.0" ry="1.3" transform="rotate(158 419 554)" fill="#c69c98"/><ellipse cx="426" cy="451" rx="2.9" ry="1.0" transform="rotate(339 426 451)" fill="#bea47c"/><ellipse cx="394" cy="524" rx="4.3" ry="1.5" transform="rotate(184 394 524)" fill="#b49478"/><ellipse cx="441" cy="503" rx="6.1" ry="1.8" transform="rotate(167 441 503)" fill="#c8a0a0"/><ellipse cx="405" cy="521" rx="4.0" ry="2.5" transform="rotate(112 405 521)" fill="#c69c98"/><ellipse cx="436" cy="447" rx="6.8" ry="1.6" transform="rotate(464 436 447)" fill="#c69c98"/><ellipse cx="377" cy="436" rx="3.1" ry="2.3" transform="rotate(336 377 436)" fill="#c8a0a0"/><ellipse cx="393" cy="535" rx="6.9" ry="1.9" transform="rotate(248 393 535)" fill="#b49478"/><ellipse cx="474" cy="497" rx="3.5" ry="2.4" transform="rotate(109 474 497)" fill="#c8a0a0"/><ellipse cx="425" cy="458" rx="3.0" ry="2.4" transform="rotate(370 425 458)" fill="#c6a890"/><ellipse cx="435" cy="450" rx="5.9" ry="2.5" transform="rotate(427 435 450)" fill="#b4a472"/><ellipse cx="484" cy="509" rx="4.6" ry="2.4" transform="rotate(125 484 509)" fill="#c8a0a0"/><ellipse cx="460" cy="462" rx="3.8" ry="1.7" transform="rotate(376 460 462)" fill="#c6a890"/><ellipse cx="368" cy="537" rx="6.1" ry="1.1" transform="rotate(240 368 537)" fill="#bea47c"/><ellipse cx="382" cy="515" rx="4.7" ry="1.7" transform="rotate(189 382 515)" fill="#bea47c"/><ellipse cx="454" cy="497" rx="4.3" ry="1.4" transform="rotate(112 454 497)" fill="#bea47c"/><ellipse cx="435" cy="525" rx="5.8" ry="2.4" transform="rotate(153 435 525)" fill="#b4a472"/><ellipse cx="464" cy="490" rx="3.4" ry="2.5" transform="rotate(109 464 490)" fill="#bea47c"/><ellipse cx="443" cy="464" rx="3.4" ry="1.2" transform="rotate(402 443 464)" fill="#c6a890"/><ellipse cx="405" cy="530" rx="3.1" ry="2.2" transform="rotate(161 405 530)" fill="#c0a488"/><ellipse cx="391" cy="555" rx="3.3" ry="2.4" transform="rotate(185 391 555)" fill="#bea47c"/><ellipse cx="414" cy="450" rx="4.5" ry="1.3" transform="rotate(358 414 450)" fill="#c0a488"/><ellipse cx="352" cy="528" rx="4.1" ry="1.6" transform="rotate(219 352 528)" fill="#c6a890"/><ellipse cx="422" cy="552" rx="5.9" ry="2.1" transform="rotate(166 422 552)" fill="#b49478"/><ellipse cx="378" cy="440" rx="5.6" ry="2.3" transform="rotate(248 378 440)" fill="#c69c98"/><ellipse cx="446" cy="491" rx="2.6" ry="2.2" transform="rotate(49 446 491)" fill="#c69c98"/><ellipse cx="394" cy="552" rx="2.8" ry="1.2" transform="rotate(131 394 552)" fill="#c8a0a0"/><ellipse cx="409" cy="457" rx="5.6" ry="1.9" transform="rotate(379 409 457)" fill="#b4a472"/><ellipse cx="457" cy="485" rx="4.4" ry="1.1" transform="rotate(459 457 485)" fill="#b4a472"/><ellipse cx="348" cy="510" rx="6.9" ry="1.1" transform="rotate(266 348 510)" fill="#c69c98"/><ellipse cx="380" cy="466" rx="6.8" ry="2.1" transform="rotate(293 380 466)" fill="#c6a890"/><ellipse cx="371" cy="447" rx="5.2" ry="2.6" transform="rotate(288 371 447)" fill="#c0a488"/><ellipse cx="466" cy="480" rx="7.0" ry="2.4" transform="rotate(439 466 480)" fill="#b89c7c"/><ellipse cx="438" cy="548" rx="5.2" ry="1.4" transform="rotate(210 438 548)" fill="#c69c98"/><ellipse cx="433" cy="438" rx="5.8" ry="1.9" transform="rotate(340 433 438)" fill="#b4a472"/><ellipse cx="463" cy="482" rx="4.3" ry="2.3" transform="rotate(425 463 482)" fill="#bea47c"/><ellipse cx="349" cy="478" rx="6.1" ry="2.1" transform="rotate(277 349 478)" fill="#b89c7c"/><ellipse cx="419" cy="534" rx="3.8" ry="2.5" transform="rotate(144 419 534)" fill="#b49478"/><ellipse cx="487" cy="510" rx="6.3" ry="2.2" transform="rotate(73 487 510)" fill="#bea47c"/><ellipse cx="376" cy="456" rx="3.8" ry="1.8" transform="rotate(295 376 456)" fill="#b89c7c"/><ellipse cx="421" cy="456" rx="6.6" ry="2.5" transform="rotate(339 421 456)" fill="#bea47c"/><ellipse cx="489" cy="505" rx="3.2" ry="1.0" transform="rotate(118 489 505)" fill="#c8a0a0"/><ellipse cx="432" cy="543" rx="5.2" ry="1.4" transform="rotate(136 432 543)" fill="#b4a472"/><ellipse cx="481" cy="459" rx="6.8" ry="2.5" transform="rotate(463 481 459)" fill="#c8a0a0"/><ellipse cx="410" cy="525" rx="6.5" ry="1.8" transform="rotate(101 410 525)" fill="#bea47c"/><ellipse cx="427" cy="439" rx="5.8" ry="1.2" transform="rotate(333 427 439)" fill="#c0a488"/></g><g filter="url(#tx2)"><path d="M366.0 446.0C369.8 440.3 375.7 436.8 382.0 434.0C388.3 431.2 396.8 429.5 404.0 429.0C411.2 428.5 418.7 429.5 425.0 431.0C431.3 432.5 437.3 434.8 442.0 438.0C446.7 441.2 450.3 445.0 453.0 450.0C455.7 455.0 457.7 461.3 458.0 468.0C458.3 474.7 456.7 483.3 455.0 490.0C453.3 496.7 450.5 502.7 448.0 508.0C445.5 513.3 443.0 517.7 440.0 522.0C437.0 526.3 434.3 531.0 430.0 534.0C425.7 537.0 419.3 539.3 414.0 540.0C408.7 540.7 402.7 539.7 398.0 538.0C393.3 536.3 389.3 533.0 386.0 530.0C382.7 527.0 381.3 524.2 378.0 520.0C374.7 515.8 369.0 510.3 366.0 505.0C363.0 499.7 361.2 494.2 360.0 488.0C358.8 481.8 358.0 475.0 359.0 468.0C360.0 461.0 362.2 451.7 366.0 446.0Z" fill="#c4a298" /></g><g filter="url(#tx)"><path d="M376.0 451.0C379.0 448.2 385.3 445.8 390.0 444.0C394.7 442.2 399.3 440.3 404.0 440.0C408.7 439.7 414.0 440.2 418.0 442.0C422.0 443.8 425.7 447.2 428.0 451.0C430.3 454.8 431.2 460.3 432.0 465.0C432.8 469.7 433.0 473.8 433.0 479.0C433.0 484.2 433.3 490.2 432.0 496.0C430.7 501.8 428.0 509.3 425.0 514.0C422.0 518.7 418.2 522.0 414.0 524.0C409.8 526.0 404.7 526.5 400.0 526.0C395.3 525.5 389.7 523.7 386.0 521.0C382.3 518.3 380.3 514.2 378.0 510.0C375.7 505.8 373.2 501.2 372.0 496.0C370.8 490.8 371.0 484.8 371.0 479.0C371.0 473.2 371.2 465.7 372.0 461.0C372.8 456.3 373.0 453.8 376.0 451.0Z" fill="#b894aa" /></g><path stroke="#ffc0c0" stroke-width="1.0" stroke-linecap="round" fill="none" d="M421 513q3 2 4 6M432 517q-4 0 -6 2M426 517q3 -3 5 1M422 516q-3 1 -4 4M422 513q3 3 6 5M424 516q4 0 7 1M424 514q3 0 4 2"/><path stroke="#f0a8d8" stroke-width="1.0" stroke-linecap="round" fill="none" d="M426 514q-1 5 4 6M434 516q0 2 1 3M430 518q-3 -2 -4 1M428 517q1 3 4 2M437 516q-4 0 -5 3M431 515q-1 4 -3 6M432 506q-1 1 0 3M427 521q-2 -1 -5 1M440 516q-1 1 -2 3M421 520q5 0 6 5"/><path stroke="#f09090" stroke-width="1.0" stroke-linecap="round" fill="none" d="M432 507q-1 2 -3 3M431 516q2 4 -2 7M421 517q2 1 4 3"/><path stroke="#f07878" stroke-width="0.5" stroke-linecap="round" fill="none" d="M434 514q-2 3 -2 6"/><path stroke="#f0c0d8" stroke-width="1.0" stroke-linecap="round" fill="none" d="M436 510q-2 3 -5 2"/><path stroke="#f09090" stroke-width="0.5" stroke-linecap="round" fill="none" d="M433 518q-1 2 0 4M424 509q3 2 7 1"/><path stroke="#f09090" stroke-width="1.5" stroke-linecap="round" fill="none" d="M424 522q5 -2 6 4"/><path stroke="#f07878" stroke-width="1.0" stroke-linecap="round" fill="none" d="M423 515q3 1 6 2M428 515q-2 1 -4 2M440 513q1 5 -1 8"/><path stroke="#d86060" stroke-width="1.0" stroke-linecap="round" fill="none" d="M423 513q-2 1 -3 1M430 523q2 2 5 4"/><path stroke="#ffffff" stroke-width="1.0" stroke-linecap="round" fill="none" d="M383 506q2 3 5 4M397 493q1 2 4 4M418 479q-2 2 -3 5M408 483q-3 2 -6 3M411 495q3 4 6 8M385 495q-2 1 -4 2M391 477q2 1 4 3M404 481q-1 3 -3 6M405 460q4 1 9 1M399 488q1 2 1 5M388 463q2 1 4 2"/><path stroke="#ffffff" stroke-width="0.5" stroke-linecap="round" fill="none" d="M416 478q-2 4 -3 8M408 488q2 2 4 3"/><path stroke="#ffffff" stroke-width="1.5" stroke-linecap="round" fill="none" d="M398 476q3 3 5 7"/>
<line x1="409.5" y1="409.3" x2="409.5" y2="566.6" stroke="#8e8e8e" stroke-width="0.9"/>
<line x1="314.4" y1="488.5" x2="504.5" y2="488.5" stroke="#8e8e8e" stroke-width="0.9"/>
<rect x="314.4" y="409.3" width="190.1" height="157.3" fill="none" stroke="#ababab" stroke-width="0.8"/>
<text class="t" transform="translate(319.5 574.4) scale(1 1.18)" text-anchor="middle">−20</text>
<line x1="319.5" y1="566.6" x2="319.5" y2="568.1" stroke="#555" stroke-width="0.5"/>
<text class="t" transform="translate(342.0 574.4) scale(1 1.18)" text-anchor="middle">−15</text>
<line x1="342.0" y1="566.6" x2="342.0" y2="568.1" stroke="#555" stroke-width="0.5"/>
<text class="t" transform="translate(364.5 574.4) scale(1 1.18)" text-anchor="middle">−10</text>
<line x1="364.5" y1="566.6" x2="364.5" y2="568.1" stroke="#555" stroke-width="0.5"/>
<text class="t" transform="translate(387.0 574.4) scale(1 1.18)" text-anchor="middle">−5</text>
<line x1="387.0" y1="566.6" x2="387.0" y2="568.1" stroke="#555" stroke-width="0.5"/>
<text class="t" transform="translate(409.5 574.4) scale(1 1.18)" text-anchor="middle">0</text>
<line x1="409.5" y1="566.6" x2="409.5" y2="568.1" stroke="#555" stroke-width="0.5"/>
<text class="t" transform="translate(432.0 574.4) scale(1 1.18)" text-anchor="middle">5</text>
<line x1="432.0" y1="566.6" x2="432.0" y2="568.1" stroke="#555" stroke-width="0.5"/>
<text class="t" transform="translate(454.5 574.4) scale(1 1.18)" text-anchor="middle">10</text>
<line x1="454.5" y1="566.6" x2="454.5" y2="568.1" stroke="#555" stroke-width="0.5"/>
<text class="t" transform="translate(477.0 574.4) scale(1 1.18)" text-anchor="middle">15</text>
<line x1="477.0" y1="566.6" x2="477.0" y2="568.1" stroke="#555" stroke-width="0.5"/>
<text class="t" transform="translate(499.5 574.4) scale(1 1.18)" text-anchor="middle">20</text>
<line x1="499.5" y1="566.6" x2="499.5" y2="568.1" stroke="#555" stroke-width="0.5"/>
<text class="t" transform="translate(312.2 568.8) scale(1 1.18)" text-anchor="end">−20</text>
<line x1="312.9" y1="565.9" x2="314.4" y2="565.9" stroke="#555" stroke-width="0.5"/>
<text class="t" transform="translate(312.2 549.5) scale(1 1.18)" text-anchor="end">−15</text>
<line x1="312.9" y1="546.6" x2="314.4" y2="546.6" stroke="#555" stroke-width="0.5"/>
<text class="t" transform="translate(312.2 530.2) scale(1 1.18)" text-anchor="end">−10</text>
<line x1="312.9" y1="527.3" x2="314.4" y2="527.3" stroke="#555" stroke-width="0.5"/>
<text class="t" transform="translate(312.2 510.9) scale(1 1.18)" text-anchor="end">−5</text>
<line x1="312.9" y1="508.0" x2="314.4" y2="508.0" stroke="#555" stroke-width="0.5"/>
<text class="t" transform="translate(312.2 491.6) scale(1 1.18)" text-anchor="end">0</text>
<line x1="312.9" y1="488.7" x2="314.4" y2="488.7" stroke="#555" stroke-width="0.5"/>
<text class="t" transform="translate(312.2 472.3) scale(1 1.18)" text-anchor="end">5</text>
<line x1="312.9" y1="469.4" x2="314.4" y2="469.4" stroke="#555" stroke-width="0.5"/>
<text class="t" transform="translate(312.2 453.0) scale(1 1.18)" text-anchor="end">10</text>
<line x1="312.9" y1="450.1" x2="314.4" y2="450.1" stroke="#555" stroke-width="0.5"/>
<text class="t" transform="translate(312.2 433.7) scale(1 1.18)" text-anchor="end">15</text>
<line x1="312.9" y1="430.8" x2="314.4" y2="430.8" stroke="#555" stroke-width="0.5"/>
<text class="t" transform="translate(312.2 414.4) scale(1 1.18)" text-anchor="end">20</text>
<line x1="312.9" y1="411.5" x2="314.4" y2="411.5" stroke="#555" stroke-width="0.5"/>
<rect x="516.3" y="558.74" width="8.5" height="8.17" fill="#67a3cc"/>
<rect x="516.3" y="550.87" width="8.5" height="8.17" fill="#c8d9ef"/>
<rect x="516.3" y="543.00" width="8.5" height="8.17" fill="#ffa85b"/>
<rect x="516.3" y="535.14" width="8.5" height="8.17" fill="#ffd1a3"/>
<rect x="516.3" y="527.27" width="8.5" height="8.17" fill="#70be70"/>
<rect x="516.3" y="519.41" width="8.5" height="8.17" fill="#b9e9af"/>
<rect x="516.3" y="511.55" width="8.5" height="8.17" fill="#e36c6d"/>
<rect x="516.3" y="503.68" width="8.5" height="8.17" fill="#ffb9b8"/>
<rect x="516.3" y="495.82" width="8.5" height="8.17" fill="#b698d2"/>
<rect x="516.3" y="487.95" width="8.5" height="8.17" fill="#d8c9e2"/>
<rect x="516.3" y="480.09" width="8.5" height="8.17" fill="#b18c85"/>
<rect x="516.3" y="472.22" width="8.5" height="8.17" fill="#d7bcb6"/>
<rect x="516.3" y="464.36" width="8.5" height="8.17" fill="#eca3d6"/>
<rect x="516.3" y="456.49" width="8.5" height="8.17" fill="#facde0"/>
<rect x="516.3" y="448.62" width="8.5" height="8.17" fill="#a8a8a8"/>
<rect x="516.3" y="440.76" width="8.5" height="8.17" fill="#d9d9d9"/>
<rect x="516.3" y="432.89" width="8.5" height="8.17" fill="#d1d269"/>
<rect x="516.3" y="425.03" width="8.5" height="8.17" fill="#e7e7b1"/>
<rect x="516.3" y="417.17" width="8.5" height="8.17" fill="#61d3de"/>
<rect x="516.3" y="409.30" width="8.5" height="8.17" fill="#bde6ed"/>
<rect x="516.3" y="409.3" width="8.5" height="157.3" fill="none" stroke="#c8c8c8" stroke-width="0.5"/>
<line x1="524.8" y1="566.6" x2="526.3" y2="566.6" stroke="#555" stroke-width="0.5"/>
<text class="t" transform="translate(527.1 569.5) scale(1 1.18)">0</text>
<line x1="524.8" y1="549.1" x2="526.3" y2="549.1" stroke="#555" stroke-width="0.5"/>
<text class="t" transform="translate(527.1 552.0) scale(1 1.18)">2</text>
<line x1="524.8" y1="531.6" x2="526.3" y2="531.6" stroke="#555" stroke-width="0.5"/>
<text class="t" transform="translate(527.1 534.5) scale(1 1.18)">4</text>
<line x1="524.8" y1="514.2" x2="526.3" y2="514.2" stroke="#555" stroke-width="0.5"/>
<text class="t" transform="translate(527.1 517.1) scale(1 1.18)">6</text>
<line x1="524.8" y1="496.7" x2="526.3" y2="496.7" stroke="#555" stroke-width="0.5"/>
<text class="t" transform="translate(527.1 499.6) scale(1 1.18)">8</text>
<line x1="524.8" y1="479.2" x2="526.3" y2="479.2" stroke="#555" stroke-width="0.5"/>
<text class="t" transform="translate(527.1 482.1) scale(1 1.18)">10</text>
<line x1="524.8" y1="461.7" x2="526.3" y2="461.7" stroke="#555" stroke-width="0.5"/>
<text class="t" transform="translate(527.1 464.6) scale(1 1.18)">12</text>
<line x1="524.8" y1="444.3" x2="526.3" y2="444.3" stroke="#555" stroke-width="0.5"/>
<text class="t" transform="translate(527.1 447.2) scale(1 1.18)">14</text>
<line x1="524.8" y1="426.8" x2="526.3" y2="426.8" stroke="#555" stroke-width="0.5"/>
<text class="t" transform="translate(527.1 429.7) scale(1 1.18)">16</text>
<line x1="524.8" y1="409.3" x2="526.3" y2="409.3" stroke="#555" stroke-width="0.5"/>
<text class="t" transform="translate(527.1 412.2) scale(1 1.18)">18</text>
<text class="cl" transform="translate(545.4,488.0) rotate(-90)" text-anchor="middle">Course ID</text>
<text class="cap" transform="translate(295.3 600.0) scale(1.046 1)">(<tspan font-weight="bold">f</tspan>) XueTangX-CLMS</text>
<line x1="23.2" y1="611.6" x2="23.2" y2="769.4" stroke="#f0f0f0" stroke-width="0.7"/>
<line x1="46.1" y1="611.6" x2="46.1" y2="769.4" stroke="#f0f0f0" stroke-width="0.7"/>
<line x1="69.0" y1="611.6" x2="69.0" y2="769.4" stroke="#f0f0f0" stroke-width="0.7"/>
<line x1="91.9" y1="611.6" x2="91.9" y2="769.4" stroke="#f0f0f0" stroke-width="0.7"/>
<line x1="114.8" y1="611.6" x2="114.8" y2="769.4" stroke="#f0f0f0" stroke-width="0.7"/>
<line x1="137.7" y1="611.6" x2="137.7" y2="769.4" stroke="#f0f0f0" stroke-width="0.7"/>
<line x1="160.6" y1="611.6" x2="160.6" y2="769.4" stroke="#f0f0f0" stroke-width="0.7"/>
<line x1="183.5" y1="611.6" x2="183.5" y2="769.4" stroke="#f0f0f0" stroke-width="0.7"/>
<line x1="206.4" y1="611.6" x2="206.4" y2="769.4" stroke="#f0f0f0" stroke-width="0.7"/>
<line x1="21.6" y1="764.3" x2="211.3" y2="764.3" stroke="#f0f0f0" stroke-width="0.7"/>
<line x1="21.6" y1="745.6" x2="211.3" y2="745.6" stroke="#f0f0f0" stroke-width="0.7"/>
<line x1="21.6" y1="726.9" x2="211.3" y2="726.9" stroke="#f0f0f0" stroke-width="0.7"/>
<line x1="21.6" y1="708.2" x2="211.3" y2="708.2" stroke="#f0f0f0" stroke-width="0.7"/>
<line x1="21.6" y1="689.5" x2="211.3" y2="689.5" stroke="#f0f0f0" stroke-width="0.7"/>
<line x1="21.6" y1="670.8" x2="211.3" y2="670.8" stroke="#f0f0f0" stroke-width="0.7"/>
<line x1="21.6" y1="652.1" x2="211.3" y2="652.1" stroke="#f0f0f0" stroke-width="0.7"/>
<line x1="21.6" y1="633.4" x2="211.3" y2="633.4" stroke="#f0f0f0" stroke-width="0.7"/>
<line x1="21.6" y1="614.7" x2="211.3" y2="614.7" stroke="#f0f0f0" stroke-width="0.7"/>
<path stroke="#d8c0c0" stroke-width="1.0" stroke-linecap="round" fill="none" d="M100 717q-4 1 -7 0M172 685q0 3 0 5M125 738q-2 4 -6 4M126 747q2 2 0 4"/><path stroke="#c0a8a8" stroke-width="1.5" stroke-linecap="round" fill="none" d="M85 702q-1 -2 -1 -4M183 682q4 -2 8 -1M128 655q1 3 4 2M118 657q5 1 7 6M106 753q-10 4 -1 10M115 643q2 0 3 -2M68 718q-4 1 -7 0M93 724q-4 -3 -9 -3M80 672q-3 -1 -6 -3"/><path stroke="#c0c090" stroke-width="1.0" stroke-linecap="round" fill="none" d="M65 671q2 -5 7 -7M111 721q-2 -2 -6 -2M150 679q3 3 5 6M85 658q-1 -2 1 -3M140 662q3 -1 4 3M164 672q2 2 3 5"/><path stroke="#d8c090" stroke-width="1.0" stroke-linecap="round" fill="none" d="M127 660q2 -3 0 -7M69 628q3 4 4 0M108 662q4 0 7 -3M94 658q1 -3 5 -2M141 669q1 2 0 3M95 641q2 -1 2 -4M127 737q3 3 4 6M88 664q-3 1 -3 -2M187 688q2 3 2 6M179 684q3 4 -1 6"/><path stroke="#d8c0a8" stroke-width="2.0" stroke-linecap="round" fill="none" d="M92 648q-1 -2 -3 -3M60 700q0 -2 -2 -3M118 642q1 -4 4 -6M119 743q8 1 4 8M117 748q-2 2 -4 0M79 710q-3 1 -5 0M54 721q-3 0 -5 0M171 722q3 -1 6 0M195 688q-1 3 1 5M35 686q-1 1 -2 2M60 717q1 -3 -2 -6"/><path stroke="#a89090" stroke-width="1.0" stroke-linecap="round" fill="none" d="M66 666q-3 -9 -9 -1M83 686q2 -2 5 -3M30 696q-7 -6 2 -9M93 704q-4 -1 -5 3"/><path stroke="#a89090" stroke-width="2.0" stroke-linecap="round" fill="none" d="M143 726q2 1 1 3M62 642q-4 -3 -7 -7M107 622q4 -1 8 2M129 751q1 1 2 3M88 642q-2 -3 -1 -6"/><path stroke="#c0c078" stroke-width="2.0" stroke-linecap="round" fill="none" d="M64 661q-2 -2 -3 -5M72 721q0 5 0 10M145 658q3 2 5 -1M87 734q2 -4 -2 -3M161 703q1 2 1 4M63 715q-3 -4 -8 -4M113 716q-2 -1 -4 -1M59 690q3 -1 2 -4M185 674q5 1 8 4M53 681q4 0 3 -5M49 652q-4 -7 4 -7M67 730q-1 -2 -1 -4M154 679q5 0 6 -5"/><path stroke="#c0a890" stroke-width="1.0" stroke-linecap="round" fill="none" d="M60 635q4 -3 3 -8M130 759q-3 -2 -5 -4M138 645q0 -5 3 -8M89 650q-1 -2 0 -5M118 636q4 1 5 -2M160 654q3 -4 8 -3M124 727q-4 3 -9 1M147 736q-2 6 -7 3M122 715q-1 2 -4 2M132 720q1 3 4 4M138 686q3 1 7 -1M94 649q-5 -3 0 -7M132 708q-1 4 -3 9M133 722q-6 0 -8 6M135 654q1 0 2 -2"/><path stroke="#c0c090" stroke-width="2.0" stroke-linecap="round" fill="none" d="M137 704q-5 1 -6 6M73 675q-4 0 -6 -3M67 688q2 0 2 -3M166 688q1 3 5 3M91 726q-4 5 -10 3M143 659q1 -1 3 -1M135 668q5 1 7 5M91 624q6 5 10 -2M30 691q2 -2 5 -3"/><path stroke="#c0a860" stroke-width="1.5" stroke-linecap="round" fill="none" d="M43 669q-4 -4 -9 -2"/><path stroke="#c0c090" stroke-width="1.5" stroke-linecap="round" fill="none" d="M134 713q-1 3 -2 5M152 654q1 2 0 4M120 641q2 1 4 2M84 690q-5 -4 0 -8M66 673q3 -3 7 -3M136 742q0 6 -6 7M188 668q2 1 3 4M130 742q3 1 4 4M122 662q2 -1 0 -3M138 663q4 -1 5 -6M91 742q2 4 7 6M110 656q3 0 4 -2M168 703q5 3 8 -2M149 683q2 5 -2 10"/><path stroke="#d8c090" stroke-width="2.0" stroke-linecap="round" fill="none" d="M122 623q4 1 9 0M134 652q3 -2 5 -4M83 715q-2 -2 -3 -5M150 727q2 3 1 6M57 663q-4 -6 3 -7M68 648q2 -6 -5 -5M76 731q-1 5 -6 5M168 662q2 1 4 1M87 740q-4 5 1 7M109 626q1 -3 2 -6M38 700q-3 -1 -5 -2M117 720q-1 3 -2 6M64 745q0 -2 -2 -4M86 624q-1 -4 3 -7"/><path stroke="#c0a8a8" stroke-width="1.0" stroke-linecap="round" fill="none" d="M124 720q-3 0 -6 0M75 700q-3 -2 -5 0M83 743q-4 1 -7 -2M184 693q4 3 8 1"/><path stroke="#d8a8c0" stroke-width="1.0" stroke-linecap="round" fill="none" d="M154 648q1 2 3 2M163 671q2 -1 3 -3M54 715q-1 -4 3 -6M150 695q3 1 3 4M152 724q2 5 -1 9M45 700q-2 -6 -7 -4M54 641q3 -2 5 -5M147 668q0 4 3 6M160 667q2 -3 6 -2M88 733q-3 2 0 4M104 649q-3 -1 -3 -4M159 664q4 2 4 -2"/><path stroke="#d8a8c0" stroke-width="2.5" stroke-linecap="round" fill="none" d="M164 672q2 1 4 1M88 717q0 -3 -3 -4M135 660q2 2 4 1"/><path stroke="#c0a878" stroke-width="1.5" stroke-linecap="round" fill="none" d="M107 729q2 1 3 3M118 649q3 0 3 3M55 732q-4 -2 -8 -4M52 673q-1 -2 0 -4M110 660q6 0 7 -7M166 727q1 3 4 2M121 664q-2 -2 0 -4M87 678q-2 -1 -5 1"/><path stroke="#a8a8c0" stroke-width="2.5" stroke-linecap="round" fill="none" d="M152 693q2 1 3 3"/><path stroke="#c0a890" stroke-width="2.0" stroke-linecap="round" fill="none" d="M70 638q-1 -2 1 -3M104 637q2 0 4 0M97 712q-2 3 -4 2M124 713q-4 3 -9 1M55 661q2 -2 4 -4M127 726q-3 -1 -5 2M144 642q4 1 8 -2M89 740q-2 0 -3 -2M70 699q-2 -3 0 -7M155 654q5 -3 9 0M89 629q1 -3 3 -4M60 632q0 -3 3 -2M139 664q1 3 -1 6M81 749q-2 -1 -3 1M146 743q-4 0 -8 2M73 713q-4 5 1 9M112 735q-2 3 0 6M75 722q4 -8 -4 -8M29 692q-4 -4 2 -6M134 661q6 0 5 6M114 652q5 -3 10 -1M120 734q-2 0 -4 -1M78 649q1 -3 2 -6M176 678q2 0 5 -1M157 669q-2 4 2 5M137 717q-2 -1 -2 -4M73 717q-4 1 -9 3M102 627q-1 3 2 2M89 676q-3 0 -5 -2M102 717q-3 3 -8 2"/><path stroke="#d8c0a8" stroke-width="2.5" stroke-linecap="round" fill="none" d="M124 652q1 -4 -2 -8M135 707q-3 6 2 9M148 666q3 -2 6 -1M181 729q-1 4 -5 5M95 671q-2 -3 -2 -7M145 691q2 -6 8 -4M133 732q-1 4 -6 4"/><path stroke="#a89078" stroke-width="2.5" stroke-linecap="round" fill="none" d="M82 678q-2 1 -4 0M100 659q-3 -3 -6 -6M94 716q4 6 -2 9"/><path stroke="#d8c0c0" stroke-width="2.0" stroke-linecap="round" fill="none" d="M90 643q4 0 7 2M145 655q2 -2 4 -3M63 681q0 -2 1 -4M105 736q1 3 2 6M133 643q2 3 6 4M85 730q-4 -8 -9 0M104 654q0 -3 -1 -6M64 714q-3 -4 -4 -9M102 620q3 -2 7 -2M106 741q-4 -4 -7 -7M102 648q-3 -2 -3 -6M66 643q0 -5 -2 -9M98 727q-2 4 0 8M125 625q5 -2 3 -7M84 645q2 -5 -3 -5M155 728q2 4 5 6"/><path stroke="#c0c0a8" stroke-width="1.0" stroke-linecap="round" fill="none" d="M34 666q5 -2 6 -7M73 655q-3 0 -1 -3M155 661q3 0 5 0M111 656q2 3 5 2M106 729q-1 6 -8 5"/><path stroke="#c0a860" stroke-width="1.0" stroke-linecap="round" fill="none" d="M74 637q0 -7 7 -6"/><path stroke="#d8c090" stroke-width="1.5" stroke-linecap="round" fill="none" d="M95 717q-3 0 -5 2M75 723q-2 -3 -5 -5M109 641q4 -1 5 -5M109 656q-2 -3 -4 -6M91 712q-2 1 -4 0M137 670q2 -2 4 -3M166 644q5 3 2 8M131 672q4 -3 8 -4M130 742q-5 -1 -4 4M145 660q4 -3 7 0M152 657q3 -1 5 -4M76 719q-1 -4 0 -7M152 678q3 3 4 6M145 720q-1 3 1 5M137 718q-1 2 -4 2M103 716q-2 -1 -2 -4"/><path stroke="#d8a8a8" stroke-width="1.0" stroke-linecap="round" fill="none" d="M51 665q0 -2 1 -4M64 685q-3 -2 0 -4M103 749q-1 4 -4 7M51 677q-3 -3 -6 -6M82 661q0 -4 -4 -5M144 740q-4 -2 -5 2M107 652q2 3 7 4M126 630q-1 -4 3 -7M107 718q1 4 -2 6"/><path stroke="#d8c0a8" stroke-width="1.0" stroke-linecap="round" fill="none" d="M90 743q-3 2 -3 4M65 684q5 -3 -1 -5M131 650q2 2 4 1M132 723q2 3 5 4M152 682q-1 4 -2 8M69 663q0 -2 -1 -3M148 704q4 5 -1 8M145 651q3 -3 6 -2"/><path stroke="#c0c0a8" stroke-width="1.5" stroke-linecap="round" fill="none" d="M74 713q1 -1 0 -3M130 736q2 3 2 6M78 667q-1 -6 5 -8M89 701q-2 4 -5 1"/><path stroke="#c0a890" stroke-width="1.5" stroke-linecap="round" fill="none" d="M150 630q2 4 7 5M147 702q4 -2 7 1M113 625q-3 -1 -1 -3M86 659q1 -2 -1 -3M120 726q-4 -1 -7 -4M90 739q-5 -3 -1 -6M153 740q-3 3 -5 1M183 704q1 -1 3 -1M54 716q1 -3 1 -6M117 618q1 -1 2 -2M117 732q4 3 1 6M92 706q-3 -1 -4 -4M113 733q-2 2 -4 1M47 676q-3 1 -6 1M133 675q6 -2 3 -7M73 686q-1 4 -6 3M138 658q0 5 5 4M156 645q2 0 4 0M79 701q-1 -4 2 -7M66 674q3 -2 5 -4M37 669q-3 -2 -7 -2M167 690q-6 2 -6 8M107 725q-1 -1 -3 0M49 722q-5 0 -8 5M97 659q2 -1 2 -3M48 648q-3 -1 -5 -2M118 660q2 6 8 4M143 721q4 3 7 3M139 744q-4 -3 -7 1"/><path stroke="#d8a8a8" stroke-width="2.0" stroke-linecap="round" fill="none" d="M138 693q1 2 1 4M120 661q2 -5 -2 -7M130 667q4 1 6 5M91 721q-5 0 -9 -2M51 685q2 -1 2 -3M126 728q-5 1 -8 -2M118 634q4 4 7 -1M128 659q1 -2 1 -4M51 737q-2 -2 -1 -5M78 638q-1 -4 2 -7"/><path stroke="#d8a8c0" stroke-width="1.5" stroke-linecap="round" fill="none" d="M157 655q4 1 7 -3M168 732q1 1 3 3M77 688q-4 -2 -9 -3M89 640q2 -3 2 -7M115 655q1 -3 4 -4M48 705q-2 -1 -3 -3M141 709q-4 1 -7 4M151 736q-1 1 -3 1M128 724q-4 0 -4 3M36 693q-4 -3 -4 -7M104 730q-4 -1 -7 -3M59 740q0 2 -2 3"/><path stroke="#c0c078" stroke-width="1.5" stroke-linecap="round" fill="none" d="M167 727q4 -2 7 1M129 709q4 2 4 7M128 652q1 7 8 6M74 708q-3 5 -8 3M64 669q2 3 6 3M103 658q6 -3 8 3M108 658q4 -5 8 0M45 719q-4 4 -8 1M48 666q-1 -2 -3 -3M109 716q0 1 1 3M172 701q4 0 7 2M56 711q-2 -1 -3 -1M176 663q2 3 1 6"/><path stroke="#d8c0c0" stroke-width="1.5" stroke-linecap="round" fill="none" d="M64 652q3 0 2 -3M167 686q-2 3 -1 6M167 690q2 4 6 5M90 628q-3 -1 -4 -4M162 676q4 2 8 2M147 711q6 0 8 6M68 649q1 -5 -4 -5M183 687q2 3 6 4M84 686q3 -4 3 -9M70 673q4 1 4 -3M83 639q0 -4 3 -4M99 719q-4 -3 -8 -1M139 719q-2 3 -6 5M114 716q-3 2 -5 4M72 686q1 -3 1 -6"/><path stroke="#c0a8a8" stroke-width="2.5" stroke-linecap="round" fill="none" d="M159 733q4 1 5 4"/><path stroke="#c0a878" stroke-width="2.5" stroke-linecap="round" fill="none" d="M147 674q3 1 5 -1"/><path stroke="#a89078" stroke-width="1.0" stroke-linecap="round" fill="none" d="M136 694q4 -2 7 -4M42 652q-4 0 -5 2M141 667q-3 4 1 8"/><path stroke="#d8a890" stroke-width="1.5" stroke-linecap="round" fill="none" d="M143 627q3 4 7 6M138 630q0 1 1 3"/><path stroke="#c0a878" stroke-width="2.0" stroke-linecap="round" fill="none" d="M97 634q4 -1 8 -2M56 737q-2 -1 -4 -1M186 702q-2 3 -2 7M136 747q-4 -1 -7 -1M66 681q-1 -3 -1 -6M128 645q3 -3 2 -7M121 716q0 2 -1 3M90 754q-4 -3 -6 2"/><path stroke="#d8a8a8" stroke-width="1.5" stroke-linecap="round" fill="none" d="M71 668q-1 -2 -2 -4M113 623q2 -3 3 -7M110 625q4 -3 5 2M97 662q2 3 6 5M150 739q-2 0 -4 0M48 685q1 -5 0 -9"/><path stroke="#d8a8c0" stroke-width="2.0" stroke-linecap="round" fill="none" d="M65 743q-2 0 -3 3M136 671q-4 3 0 5M119 717q-3 0 -4 3M55 703q-3 1 -6 0M73 653q3 -1 7 -1M121 710q5 2 5 6M54 690q-2 2 -2 5M87 688q-3 2 -4 -1M103 718q-1 3 -4 6M161 697q1 2 2 5M102 743q-4 -2 -7 0M108 737q0 3 -1 6M167 658q1 -5 4 -8M121 660q2 -2 5 -2"/><path stroke="#c0c090" stroke-width="2.5" stroke-linecap="round" fill="none" d="M160 701q2 3 5 3M154 742q-1 3 1 5M112 726q-3 1 -5 4M125 748q-1 5 -3 10"/><path stroke="#d8c0a8" stroke-width="1.5" stroke-linecap="round" fill="none" d="M92 716q-7 2 -5 9M136 703q3 1 6 1M127 730q-2 2 -3 0M189 658q-2 3 -1 6M75 726q-4 -2 -6 2M97 643q6 -1 7 5M167 719q1 2 0 4M66 688q1 -5 -4 -6M63 664q1 5 -2 9M151 691q-4 2 -5 6M122 722q-1 2 -2 3M63 687q-1 1 -3 0"/><path stroke="#c0c0c0" stroke-width="2.0" stroke-linecap="round" fill="none" d="M112 716q-2 3 1 2"/><path stroke="#a89078" stroke-width="1.5" stroke-linecap="round" fill="none" d="M127 724q-3 1 -5 -1M171 718q4 -2 8 1M179 721q-3 0 -1 3M65 664q-4 5 -8 2M101 714q-3 3 -3 8M82 663q-3 -1 -7 0"/><path stroke="#c0c0a8" stroke-width="2.5" stroke-linecap="round" fill="none" d="M104 734q-4 3 -7 6M148 751q-3 -3 -5 0"/><path stroke="#d8a8a8" stroke-width="2.5" stroke-linecap="round" fill="none" d="M190 660q0 3 -1 6M55 713q-1 -3 -4 -1"/><path stroke="#a89078" stroke-width="2.0" stroke-linecap="round" fill="none" d="M130 668q4 -1 3 3M165 674q-4 1 -6 5"/><path stroke="#c0c078" stroke-width="1.0" stroke-linecap="round" fill="none" d="M153 640q0 -4 2 -7M176 688q1 3 3 3M176 724q-1 3 -1 7M80 679q4 -2 4 -6M84 731q-4 2 -8 4"/><path stroke="#d8c0c0" stroke-width="2.5" stroke-linecap="round" fill="none" d="M31 693q-1 -2 -3 -1M118 661q1 -5 3 -9M137 706q2 2 5 2M77 686q-2 2 -4 2M141 723q-4 1 -8 2M55 732q-2 -4 -6 -5"/><path stroke="#c0c078" stroke-width="2.5" stroke-linecap="round" fill="none" d="M58 696q-5 1 -7 4M42 725q-2 -3 -4 -5"/><path stroke="#c09090" stroke-width="1.0" stroke-linecap="round" fill="none" d="M141 693q4 1 6 6M36 700q-1 -2 0 -5"/><path stroke="#c0a8a8" stroke-width="2.0" stroke-linecap="round" fill="none" d="M68 637q1 -1 3 -2M133 667q2 4 4 7M95 755q-2 3 -2 5M89 742q2 4 -1 8M136 702q0 4 2 8"/><path stroke="#a8a8c0" stroke-width="1.0" stroke-linecap="round" fill="none" d="M117 655q3 1 7 1"/><path stroke="#c0a890" stroke-width="2.5" stroke-linecap="round" fill="none" d="M185 667q2 -1 3 -2M165 701q4 -5 8 0"/><path stroke="#c0c0c0" stroke-width="2.5" stroke-linecap="round" fill="none" d="M58 637q3 -3 5 -6"/><path stroke="#d8c090" stroke-width="2.5" stroke-linecap="round" fill="none" d="M102 727q0 -2 2 -4M81 742q-5 2 -5 8M42 719q-1 5 -6 5"/><path stroke="#a89090" stroke-width="1.5" stroke-linecap="round" fill="none" d="M132 654q-2 -3 -5 -5M125 727q2 5 4 8"/><path stroke="#d8a890" stroke-width="1.0" stroke-linecap="round" fill="none" d="M89 715q0 -1 0 -3"/><path stroke="#c0a8c0" stroke-width="2.0" stroke-linecap="round" fill="none" d="M110 654q-3 -4 0 -8"/><path stroke="#c0c0d8" stroke-width="1.0" stroke-linecap="round" fill="none" d="M133 665q3 -3 6 -7"/><path stroke="#c0c0d8" stroke-width="1.5" stroke-linecap="round" fill="none" d="M133 670q5 0 6 5"/><path stroke="#f0c0c0" stroke-width="1.5" stroke-linecap="round" fill="none" d="M80 681q1 -2 4 -2"/><path stroke="#c0a878" stroke-width="1.0" stroke-linecap="round" fill="none" d="M58 680q1 -3 0 -6"/><g filter="url(#tx3)"><ellipse cx="85" cy="736" rx="3.0" ry="3.0" transform="rotate(264 85 736)" fill="#bea47c"/><ellipse cx="160" cy="714" rx="6.0" ry="2.1" transform="rotate(4 160 714)" fill="#c69c98"/><ellipse cx="160" cy="668" rx="3.7" ry="2.4" transform="rotate(472 160 668)" fill="#b4a472"/><ellipse cx="89" cy="659" rx="3.7" ry="2.8" transform="rotate(334 89 659)" fill="#b4a472"/><ellipse cx="81" cy="699" rx="7.6" ry="1.2" transform="rotate(234 81 699)" fill="#c69c98"/><ellipse cx="103" cy="715" rx="4.8" ry="1.9" transform="rotate(185 103 715)" fill="#b89c7c"/><ellipse cx="139" cy="706" rx="3.7" ry="2.1" transform="rotate(131 139 706)" fill="#c69c98"/><ellipse cx="103" cy="719" rx="4.5" ry="1.6" transform="rotate(150 103 719)" fill="#c8a0a0"/><ellipse cx="67" cy="694" rx="3.5" ry="2.6" transform="rotate(227 67 694)" fill="#c0a488"/><ellipse cx="149" cy="696" rx="5.4" ry="2.5" transform="rotate(68 149 696)" fill="#bea47c"/><ellipse cx="153" cy="676" rx="3.7" ry="1.3" transform="rotate(408 153 676)" fill="#b89c7c"/><ellipse cx="127" cy="741" rx="4.4" ry="2.0" transform="rotate(160 127 741)" fill="#bea47c"/><ellipse cx="90" cy="735" rx="4.6" ry="2.1" transform="rotate(230 90 735)" fill="#b4a472"/><ellipse cx="121" cy="728" rx="5.8" ry="3.0" transform="rotate(138 121 728)" fill="#bea47c"/><ellipse cx="100" cy="660" rx="5.1" ry="1.8" transform="rotate(300 100 660)" fill="#b49478"/><ellipse cx="167" cy="658" rx="5.8" ry="1.8" transform="rotate(474 167 658)" fill="#c8a0a0"/><ellipse cx="158" cy="701" rx="5.8" ry="2.5" transform="rotate(93 158 701)" fill="#bea47c"/><ellipse cx="100" cy="634" rx="7.1" ry="1.9" transform="rotate(418 100 634)" fill="#b4a472"/><ellipse cx="93" cy="654" rx="7.9" ry="1.4" transform="rotate(295 93 654)" fill="#bea47c"/><ellipse cx="58" cy="689" rx="7.5" ry="2.4" transform="rotate(281 58 689)" fill="#b4a472"/><ellipse cx="71" cy="717" rx="5.5" ry="1.4" transform="rotate(238 71 717)" fill="#b89c7c"/><ellipse cx="46" cy="675" rx="4.2" ry="2.4" transform="rotate(271 46 675)" fill="#b49478"/><ellipse cx="131" cy="732" rx="3.1" ry="1.5" transform="rotate(104 131 732)" fill="#b49478"/><ellipse cx="106" cy="654" rx="6.8" ry="1.2" transform="rotate(356 106 654)" fill="#c8a0a0"/><ellipse cx="83" cy="687" rx="4.9" ry="1.9" transform="rotate(223 83 687)" fill="#bea47c"/><ellipse cx="69" cy="673" rx="7.5" ry="1.2" transform="rotate(240 69 673)" fill="#bea47c"/><ellipse cx="84" cy="718" rx="7.4" ry="2.6" transform="rotate(228 84 718)" fill="#c8a0a0"/><ellipse cx="104" cy="718" rx="7.3" ry="1.9" transform="rotate(125 104 718)" fill="#bea47c"/><ellipse cx="115" cy="658" rx="4.3" ry="2.5" transform="rotate(346 115 658)" fill="#bea47c"/><ellipse cx="130" cy="744" rx="5.5" ry="1.3" transform="rotate(196 130 744)" fill="#c6a890"/><ellipse cx="40" cy="679" rx="6.7" ry="1.9" transform="rotate(259 40 679)" fill="#c8a0a0"/><ellipse cx="137" cy="623" rx="5.9" ry="2.2" transform="rotate(419 137 623)" fill="#bea47c"/><ellipse cx="56" cy="693" rx="7.7" ry="2.5" transform="rotate(214 56 693)" fill="#bea47c"/><ellipse cx="93" cy="663" rx="4.4" ry="2.3" transform="rotate(347 93 663)" fill="#c0a488"/><ellipse cx="136" cy="660" rx="3.5" ry="1.4" transform="rotate(446 136 660)" fill="#b49478"/><ellipse cx="81" cy="646" rx="4.0" ry="2.3" transform="rotate(305 81 646)" fill="#c6a890"/><ellipse cx="83" cy="664" rx="5.4" ry="1.6" transform="rotate(303 83 664)" fill="#b49478"/><ellipse cx="57" cy="729" rx="6.9" ry="1.9" transform="rotate(222 57 729)" fill="#bea47c"/><ellipse cx="113" cy="726" rx="6.7" ry="2.1" transform="rotate(171 113 726)" fill="#c6a890"/><ellipse cx="77" cy="668" rx="3.8" ry="2.8" transform="rotate(324 77 668)" fill="#bea47c"/><ellipse cx="138" cy="734" rx="5.2" ry="2.0" transform="rotate(122 138 734)" fill="#c8a0a0"/><ellipse cx="139" cy="701" rx="3.9" ry="2.7" transform="rotate(155 139 701)" fill="#c69c98"/><ellipse cx="89" cy="650" rx="5.7" ry="2.4" transform="rotate(373 89 650)" fill="#bea47c"/><ellipse cx="153" cy="697" rx="4.4" ry="2.7" transform="rotate(181 153 697)" fill="#b89c7c"/><ellipse cx="60" cy="710" rx="4.0" ry="1.3" transform="rotate(216 60 710)" fill="#c69c98"/><ellipse cx="162" cy="664" rx="3.3" ry="2.2" transform="rotate(388 162 664)" fill="#c8a0a0"/><ellipse cx="89" cy="672" rx="3.9" ry="2.8" transform="rotate(299 89 672)" fill="#c69c98"/><ellipse cx="110" cy="659" rx="4.1" ry="1.3" transform="rotate(344 110 659)" fill="#b89c7c"/><ellipse cx="140" cy="672" rx="3.5" ry="1.7" transform="rotate(369 140 672)" fill="#c6a890"/><ellipse cx="76" cy="724" rx="4.2" ry="1.2" transform="rotate(269 76 724)" fill="#b49478"/><ellipse cx="132" cy="730" rx="5.8" ry="1.3" transform="rotate(113 132 730)" fill="#b89c7c"/><ellipse cx="141" cy="657" rx="7.0" ry="1.6" transform="rotate(345 141 657)" fill="#c8a0a0"/><ellipse cx="44" cy="678" rx="3.8" ry="2.5" transform="rotate(247 44 678)" fill="#b49478"/><ellipse cx="64" cy="738" rx="5.5" ry="2.0" transform="rotate(192 64 738)" fill="#c69c98"/><ellipse cx="125" cy="632" rx="3.5" ry="2.1" transform="rotate(387 125 632)" fill="#c6a890"/><ellipse cx="139" cy="677" rx="5.6" ry="2.9" transform="rotate(365 139 677)" fill="#c0a488"/><ellipse cx="176" cy="717" rx="4.1" ry="1.9" transform="rotate(103 176 717)" fill="#c69c98"/><ellipse cx="89" cy="655" rx="3.7" ry="2.6" transform="rotate(283 89 655)" fill="#c6a890"/><ellipse cx="118" cy="626" rx="5.1" ry="2.5" transform="rotate(353 118 626)" fill="#b49478"/><ellipse cx="92" cy="740" rx="3.1" ry="2.5" transform="rotate(165 92 740)" fill="#c69c98"/><ellipse cx="81" cy="696" rx="5.0" ry="2.8" transform="rotate(308 81 696)" fill="#c6a890"/><ellipse cx="102" cy="752" rx="7.6" ry="2.7" transform="rotate(163 102 752)" fill="#c6a890"/><ellipse cx="140" cy="701" rx="6.1" ry="1.6" transform="rotate(182 140 701)" fill="#c6a890"/><ellipse cx="160" cy="676" rx="7.8" ry="2.3" transform="rotate(445 160 676)" fill="#b49478"/><ellipse cx="38" cy="675" rx="7.6" ry="1.3" transform="rotate(313 38 675)" fill="#c8a0a0"/><ellipse cx="154" cy="649" rx="6.9" ry="1.5" transform="rotate(367 154 649)" fill="#bea47c"/><ellipse cx="136" cy="649" rx="6.2" ry="1.8" transform="rotate(366 136 649)" fill="#bea47c"/><ellipse cx="69" cy="701" rx="4.1" ry="2.0" transform="rotate(200 69 701)" fill="#b4a472"/><ellipse cx="113" cy="717" rx="4.8" ry="1.8" transform="rotate(213 113 717)" fill="#b4a472"/><ellipse cx="96" cy="731" rx="5.6" ry="2.1" transform="rotate(173 96 731)" fill="#c8a0a0"/><ellipse cx="102" cy="727" rx="5.4" ry="2.9" transform="rotate(204 102 727)" fill="#b4a472"/><ellipse cx="67" cy="735" rx="5.8" ry="2.7" transform="rotate(213 67 735)" fill="#c6a890"/><ellipse cx="113" cy="732" rx="5.5" ry="2.6" transform="rotate(208 113 732)" fill="#c8a0a0"/><ellipse cx="133" cy="734" rx="3.4" ry="1.3" transform="rotate(117 133 734)" fill="#b49478"/><ellipse cx="152" cy="681" rx="6.0" ry="2.8" transform="rotate(446 152 681)" fill="#c0a488"/><ellipse cx="65" cy="632" rx="3.1" ry="3.0" transform="rotate(312 65 632)" fill="#c69c98"/><ellipse cx="109" cy="635" rx="5.0" ry="1.8" transform="rotate(356 109 635)" fill="#b4a472"/><ellipse cx="136" cy="647" rx="4.6" ry="1.9" transform="rotate(350 136 647)" fill="#c69c98"/><ellipse cx="86" cy="672" rx="8.0" ry="2.0" transform="rotate(350 86 672)" fill="#b49478"/><ellipse cx="174" cy="726" rx="7.1" ry="2.6" transform="rotate(164 174 726)" fill="#b4a472"/><ellipse cx="128" cy="655" rx="5.7" ry="2.1" transform="rotate(412 128 655)" fill="#bea47c"/><ellipse cx="141" cy="724" rx="4.1" ry="1.8" transform="rotate(217 141 724)" fill="#c6a890"/><ellipse cx="105" cy="742" rx="3.9" ry="3.0" transform="rotate(195 105 742)" fill="#b49478"/><ellipse cx="152" cy="652" rx="5.2" ry="2.4" transform="rotate(417 152 652)" fill="#b89c7c"/><ellipse cx="174" cy="680" rx="5.6" ry="2.1" transform="rotate(445 174 680)" fill="#c8a0a0"/><ellipse cx="50" cy="652" rx="4.1" ry="2.9" transform="rotate(325 50 652)" fill="#bea47c"/><ellipse cx="81" cy="661" rx="6.8" ry="1.6" transform="rotate(294 81 661)" fill="#c8a0a0"/><ellipse cx="145" cy="698" rx="6.7" ry="2.5" transform="rotate(126 145 698)" fill="#c69c98"/><ellipse cx="168" cy="651" rx="3.8" ry="2.4" transform="rotate(435 168 651)" fill="#b4a472"/><ellipse cx="37" cy="704" rx="4.4" ry="1.7" transform="rotate(317 37 704)" fill="#c6a890"/><ellipse cx="159" cy="717" rx="3.0" ry="2.6" transform="rotate(179 159 717)" fill="#c0a488"/><ellipse cx="159" cy="734" rx="5.9" ry="1.5" transform="rotate(175 159 734)" fill="#b49478"/><ellipse cx="169" cy="688" rx="4.8" ry="1.4" transform="rotate(127 169 688)" fill="#c8a0a0"/><ellipse cx="169" cy="673" rx="7.5" ry="1.9" transform="rotate(442 169 673)" fill="#c8a0a0"/><ellipse cx="145" cy="743" rx="5.1" ry="2.2" transform="rotate(160 145 743)" fill="#b4a472"/><ellipse cx="72" cy="687" rx="7.6" ry="1.8" transform="rotate(255 72 687)" fill="#c0a488"/><ellipse cx="119" cy="721" rx="4.7" ry="1.3" transform="rotate(189 119 721)" fill="#c6a890"/><ellipse cx="162" cy="676" rx="4.0" ry="1.6" transform="rotate(435 162 676)" fill="#c6a890"/><ellipse cx="140" cy="744" rx="4.6" ry="2.6" transform="rotate(109 140 744)" fill="#b49478"/><ellipse cx="163" cy="660" rx="7.4" ry="2.5" transform="rotate(350 163 660)" fill="#c8a0a0"/><ellipse cx="107" cy="657" rx="3.9" ry="1.6" transform="rotate(371 107 657)" fill="#b49478"/><ellipse cx="73" cy="742" rx="6.2" ry="2.2" transform="rotate(158 73 742)" fill="#c0a488"/><ellipse cx="38" cy="681" rx="7.1" ry="1.8" transform="rotate(272 38 681)" fill="#b89c7c"/><ellipse cx="131" cy="627" rx="7.4" ry="1.5" transform="rotate(353 131 627)" fill="#b4a472"/><ellipse cx="143" cy="644" rx="6.6" ry="1.3" transform="rotate(370 143 644)" fill="#bea47c"/><ellipse cx="48" cy="722" rx="4.5" ry="1.8" transform="rotate(194 48 722)" fill="#c69c98"/><ellipse cx="66" cy="733" rx="6.8" ry="1.4" transform="rotate(235 66 733)" fill="#bea47c"/><ellipse cx="122" cy="658" rx="3.2" ry="1.7" transform="rotate(371 122 658)" fill="#c6a890"/><ellipse cx="74" cy="673" rx="4.9" ry="2.2" transform="rotate(302 74 673)" fill="#b4a472"/><ellipse cx="65" cy="671" rx="4.7" ry="1.7" transform="rotate(328 65 671)" fill="#b4a472"/><ellipse cx="119" cy="647" rx="3.3" ry="1.8" transform="rotate(355 119 647)" fill="#bea47c"/><ellipse cx="129" cy="649" rx="5.2" ry="2.5" transform="rotate(381 129 649)" fill="#c69c98"/><ellipse cx="81" cy="645" rx="3.3" ry="2.2" transform="rotate(285 81 645)" fill="#bea47c"/><ellipse cx="98" cy="729" rx="5.3" ry="2.4" transform="rotate(216 98 729)" fill="#c6a890"/><ellipse cx="88" cy="649" rx="6.3" ry="1.8" transform="rotate(300 88 649)" fill="#b4a472"/><ellipse cx="122" cy="632" rx="6.9" ry="1.3" transform="rotate(327 122 632)" fill="#b89c7c"/><ellipse cx="59" cy="707" rx="6.6" ry="2.1" transform="rotate(256 59 707)" fill="#bea47c"/><ellipse cx="124" cy="626" rx="3.5" ry="2.5" transform="rotate(414 124 626)" fill="#b4a472"/><ellipse cx="100" cy="659" rx="5.4" ry="1.9" transform="rotate(325 100 659)" fill="#b4a472"/><ellipse cx="90" cy="663" rx="7.3" ry="2.8" transform="rotate(339 90 663)" fill="#b49478"/><ellipse cx="81" cy="704" rx="5.8" ry="2.1" transform="rotate(253 81 704)" fill="#b89c7c"/><ellipse cx="37" cy="711" rx="8.0" ry="1.6" transform="rotate(237 37 711)" fill="#c8a0a0"/><ellipse cx="60" cy="683" rx="4.0" ry="1.3" transform="rotate(258 60 683)" fill="#c69c98"/><ellipse cx="168" cy="656" rx="5.5" ry="2.5" transform="rotate(408 168 656)" fill="#c8a0a0"/><ellipse cx="159" cy="632" rx="3.7" ry="1.5" transform="rotate(369 159 632)" fill="#c6a890"/><ellipse cx="159" cy="663" rx="6.0" ry="1.8" transform="rotate(397 159 663)" fill="#b4a472"/><ellipse cx="33" cy="671" rx="4.0" ry="2.9" transform="rotate(295 33 671)" fill="#c6a890"/><ellipse cx="62" cy="686" rx="4.6" ry="1.4" transform="rotate(237 62 686)" fill="#c8a0a0"/><ellipse cx="135" cy="748" rx="7.0" ry="2.7" transform="rotate(138 135 748)" fill="#b4a472"/><ellipse cx="132" cy="711" rx="3.5" ry="2.0" transform="rotate(92 132 711)" fill="#c8a0a0"/><ellipse cx="68.9" cy="644.2" rx="6.3" ry="3.5" transform="rotate(-20 68.9 644.2)" fill="#c0a090"/><ellipse cx="103.8" cy="639.6" rx="7.7" ry="3.1" transform="rotate(-10 103.8 639.6)" fill="#c0a090"/><ellipse cx="131.7" cy="637.2" rx="6.3" ry="4.2" transform="rotate(0 131.7 637.2)" fill="#c0a090"/><ellipse cx="47.9" cy="670.3" rx="4.9" ry="7.0" transform="rotate(20 47.9 670.3)" fill="#c0a090"/><ellipse cx="47.9" cy="692.0" rx="4.9" ry="6.3" transform="rotate(0 47.9 692.0)" fill="#c0a090"/><ellipse cx="54.9" cy="705.9" rx="7.0" ry="3.5" transform="rotate(20 54.9 705.9)" fill="#c0a090"/><ellipse cx="65.4" cy="719.2" rx="7.7" ry="3.5" transform="rotate(10 65.4 719.2)" fill="#c0a090"/><ellipse cx="77.6" cy="726.9" rx="7.0" ry="3.5" transform="rotate(20 77.6 726.9)" fill="#c0a090"/><ellipse cx="100.3" cy="727.9" rx="8.7" ry="3.5" transform="rotate(10 100.3 727.9)" fill="#c0a090"/><ellipse cx="124.7" cy="730.4" rx="8.7" ry="4.2" transform="rotate(-10 124.7 730.4)" fill="#c0a090"/><ellipse cx="136.9" cy="719.9" rx="6.3" ry="4.2" transform="rotate(-30 136.9 719.9)" fill="#c0a090"/><ellipse cx="147.4" cy="712.2" rx="5.6" ry="7.0" transform="rotate(-40 147.4 712.2)" fill="#c0a090"/><ellipse cx="156.1" cy="656.4" rx="6.3" ry="4.2" transform="rotate(-30 156.1 656.4)" fill="#c0a090"/><ellipse cx="170.1" cy="677.3" rx="4.9" ry="7.7" transform="rotate(20 170.1 677.3)" fill="#c0a090"/><ellipse cx="179.9" cy="694.1" rx="5.6" ry="8.7" transform="rotate(10 179.9 694.1)" fill="#c0a090"/><ellipse cx="166.6" cy="700.0" rx="6.3" ry="4.2" transform="rotate(0 166.6 700.0)" fill="#c0a090"/><ellipse cx="152.6" cy="688.5" rx="4.9" ry="4.9" transform="rotate(0 152.6 688.5)" fill="#c0a090"/><ellipse cx="159.6" cy="722.7" rx="4.9" ry="3.5" transform="rotate(-20 159.6 722.7)" fill="#c0a090"/><ellipse cx="114.2" cy="744.3" rx="10.5" ry="2.8" transform="rotate(0 114.2 744.3)" fill="#c0a090"/><ellipse cx="89.8" cy="737.4" rx="7.0" ry="2.8" transform="rotate(10 89.8 737.4)" fill="#c0a090"/><ellipse cx="81.1" cy="670.3" rx="4.9" ry="10.5" transform="rotate(-10 81.1 670.3)" fill="#c0a090"/><ellipse cx="145.7" cy="645.9" rx="7.0" ry="3.5" transform="rotate(-20 145.7 645.9)" fill="#c0a090"/><ellipse cx="166.6" cy="663.4" rx="5.2" ry="3.5" transform="rotate(-30 166.6 663.4)" fill="#c0a090"/></g><g filter="url(#tx2)"><path d="M66.0 660.0C68.3 654.0 74.7 649.7 78.0 648.0C81.3 646.3 85.0 646.3 86.0 650.0C87.0 653.7 85.0 663.3 84.0 670.0C83.0 676.7 82.0 685.0 80.0 690.0C78.0 695.0 74.7 701.0 72.0 700.0C69.3 699.0 65.0 690.7 64.0 684.0C63.0 677.3 63.7 666.0 66.0 660.0Z" fill="#c4a298" /></g><g filter="url(#tx)"><path d="M74.0 654.0C77.7 651.0 84.0 647.7 90.0 646.0C96.0 644.3 103.8 643.8 110.0 644.0C116.2 644.2 122.5 644.8 127.0 647.0C131.5 649.2 134.8 652.5 137.0 657.0C139.2 661.5 139.8 668.3 140.0 674.0C140.2 679.7 139.2 686.0 138.0 691.0C136.8 696.0 135.5 700.5 133.0 704.0C130.5 707.5 127.3 710.3 123.0 712.0C118.7 713.7 112.3 714.0 107.0 714.0C101.7 714.0 95.3 713.7 91.0 712.0C86.7 710.3 83.3 707.5 81.0 704.0C78.7 700.5 79.2 695.5 77.0 691.0C74.8 686.5 69.5 681.5 68.0 677.0C66.5 672.5 67.0 667.8 68.0 664.0C69.0 660.2 70.3 657.0 74.0 654.0Z" fill="#cda0a5" /></g><path stroke="#ffffff" stroke-width="1.0" stroke-linecap="round" fill="none" d="M116 702q-3 0 -5 3M110 665q0 3 1 5M111 681q-4 1 -7 2M115 677q0 2 -1 4M97 660q0 4 -1 7M91 676q-4 3 -6 8M110 668q2 4 4 8M78 676q2 4 0 7M115 667q-3 1 -6 2M113 678q2 2 4 4M101 691q2 1 5 2M106 673q2 2 3 4M130 689q-2 3 -5 5M92 685q-5 1 -7 6"/><path stroke="#ffffff" stroke-width="1.5" stroke-linecap="round" fill="none" d="M99 688q2 2 5 3M108 674q-3 3 -6 7M84 661q3 3 5 5M119 677q-1 3 0 7M94 692q-4 2 -9 1M89 663q-3 0 -7 1M86 679q3 1 5 3M100 660q-3 2 -6 0"/><path stroke="#ffffff" stroke-width="0.5" stroke-linecap="round" fill="none" d="M119 701q5 1 9 4M117 666q1 1 3 3"/>
<line x1="114.5" y1="611.6" x2="114.5" y2="769.4" stroke="#8e8e8e" stroke-width="0.9"/>
<line x1="21.6" y1="689.5" x2="211.3" y2="689.5" stroke="#8e8e8e" stroke-width="0.9"/>
<rect x="21.6" y="611.6" width="189.7" height="157.8" fill="none" stroke="#ababab" stroke-width="0.8"/>
<text class="t" transform="translate(23.2 777.2) scale(1 1.18)" text-anchor="middle">−20</text>
<line x1="23.2" y1="769.4" x2="23.2" y2="770.9" stroke="#555" stroke-width="0.5"/>
<text class="t" transform="translate(46.1 777.2) scale(1 1.18)" text-anchor="middle">−15</text>
<line x1="46.1" y1="769.4" x2="46.1" y2="770.9" stroke="#555" stroke-width="0.5"/>
<text class="t" transform="translate(69.0 777.2) scale(1 1.18)" text-anchor="middle">−10</text>
<line x1="69.0" y1="769.4" x2="69.0" y2="770.9" stroke="#555" stroke-width="0.5"/>
<text class="t" transform="translate(91.9 777.2) scale(1 1.18)" text-anchor="middle">−5</text>
<line x1="91.9" y1="769.4" x2="91.9" y2="770.9" stroke="#555" stroke-width="0.5"/>
<text class="t" transform="translate(114.8 777.2) scale(1 1.18)" text-anchor="middle">0</text>
<line x1="114.8" y1="769.4" x2="114.8" y2="770.9" stroke="#555" stroke-width="0.5"/>
<text class="t" transform="translate(137.7 777.2) scale(1 1.18)" text-anchor="middle">5</text>
<line x1="137.7" y1="769.4" x2="137.7" y2="770.9" stroke="#555" stroke-width="0.5"/>
<text class="t" transform="translate(160.6 777.2) scale(1 1.18)" text-anchor="middle">10</text>
<line x1="160.6" y1="769.4" x2="160.6" y2="770.9" stroke="#555" stroke-width="0.5"/>
<text class="t" transform="translate(183.5 777.2) scale(1 1.18)" text-anchor="middle">15</text>
<line x1="183.5" y1="769.4" x2="183.5" y2="770.9" stroke="#555" stroke-width="0.5"/>
<text class="t" transform="translate(206.4 777.2) scale(1 1.18)" text-anchor="middle">20</text>
<line x1="206.4" y1="769.4" x2="206.4" y2="770.9" stroke="#555" stroke-width="0.5"/>
<text class="t" transform="translate(19.4 767.2) scale(1 1.18)" text-anchor="end">−20</text>
<line x1="20.1" y1="764.3" x2="21.6" y2="764.3" stroke="#555" stroke-width="0.5"/>
<text class="t" transform="translate(19.4 748.5) scale(1 1.18)" text-anchor="end">−15</text>
<line x1="20.1" y1="745.6" x2="21.6" y2="745.6" stroke="#555" stroke-width="0.5"/>
<text class="t" transform="translate(19.4 729.8) scale(1 1.18)" text-anchor="end">−10</text>
<line x1="20.1" y1="726.9" x2="21.6" y2="726.9" stroke="#555" stroke-width="0.5"/>
<text class="t" transform="translate(19.4 711.1) scale(1 1.18)" text-anchor="end">−5</text>
<line x1="20.1" y1="708.2" x2="21.6" y2="708.2" stroke="#555" stroke-width="0.5"/>
<text class="t" transform="translate(19.4 692.4) scale(1 1.18)" text-anchor="end">0</text>
<line x1="20.1" y1="689.5" x2="21.6" y2="689.5" stroke="#555" stroke-width="0.5"/>
<text class="t" transform="translate(19.4 673.7) scale(1 1.18)" text-anchor="end">5</text>
<line x1="20.1" y1="670.8" x2="21.6" y2="670.8" stroke="#555" stroke-width="0.5"/>
<text class="t" transform="translate(19.4 655.0) scale(1 1.18)" text-anchor="end">10</text>
<line x1="20.1" y1="652.1" x2="21.6" y2="652.1" stroke="#555" stroke-width="0.5"/>
<text class="t" transform="translate(19.4 636.3) scale(1 1.18)" text-anchor="end">15</text>
<line x1="20.1" y1="633.4" x2="21.6" y2="633.4" stroke="#555" stroke-width="0.5"/>
<text class="t" transform="translate(19.4 617.6) scale(1 1.18)" text-anchor="end">20</text>
<line x1="20.1" y1="614.7" x2="21.6" y2="614.7" stroke="#555" stroke-width="0.5"/>
<rect x="223.3" y="761.51" width="8.5" height="8.19" fill="#67a3cc"/>
<rect x="223.3" y="753.62" width="8.5" height="8.19" fill="#c8d9ef"/>
<rect x="223.3" y="745.73" width="8.5" height="8.19" fill="#ffa85b"/>
<rect x="223.3" y="737.84" width="8.5" height="8.19" fill="#ffd1a3"/>
<rect x="223.3" y="729.95" width="8.5" height="8.19" fill="#70be70"/>
<rect x="223.3" y="722.06" width="8.5" height="8.19" fill="#b9e9af"/>
<rect x="223.3" y="714.17" width="8.5" height="8.19" fill="#e36c6d"/>
<rect x="223.3" y="706.28" width="8.5" height="8.19" fill="#ffb9b8"/>
<rect x="223.3" y="698.39" width="8.5" height="8.19" fill="#b698d2"/>
<rect x="223.3" y="690.50" width="8.5" height="8.19" fill="#d8c9e2"/>
<rect x="223.3" y="682.61" width="8.5" height="8.19" fill="#b18c85"/>
<rect x="223.3" y="674.72" width="8.5" height="8.19" fill="#d7bcb6"/>
<rect x="223.3" y="666.83" width="8.5" height="8.19" fill="#eca3d6"/>
<rect x="223.3" y="658.94" width="8.5" height="8.19" fill="#facde0"/>
<rect x="223.3" y="651.05" width="8.5" height="8.19" fill="#a8a8a8"/>
<rect x="223.3" y="643.16" width="8.5" height="8.19" fill="#d9d9d9"/>
<rect x="223.3" y="635.27" width="8.5" height="8.19" fill="#d1d269"/>
<rect x="223.3" y="627.38" width="8.5" height="8.19" fill="#e7e7b1"/>
<rect x="223.3" y="619.49" width="8.5" height="8.19" fill="#61d3de"/>
<rect x="223.3" y="611.60" width="8.5" height="8.19" fill="#bde6ed"/>
<rect x="223.3" y="611.6" width="8.5" height="157.8" fill="none" stroke="#c8c8c8" stroke-width="0.5"/>
<line x1="231.8" y1="769.4" x2="233.3" y2="769.4" stroke="#555" stroke-width="0.5"/>
<text class="t" transform="translate(234.1 772.3) scale(1 1.18)">0</text>
<line x1="231.8" y1="751.9" x2="233.3" y2="751.9" stroke="#555" stroke-width="0.5"/>
<text class="t" transform="translate(234.1 754.8) scale(1 1.18)">2</text>
<line x1="231.8" y1="734.3" x2="233.3" y2="734.3" stroke="#555" stroke-width="0.5"/>
<text class="t" transform="translate(234.1 737.2) scale(1 1.18)">4</text>
<line x1="231.8" y1="716.8" x2="233.3" y2="716.8" stroke="#555" stroke-width="0.5"/>
<text class="t" transform="translate(234.1 719.7) scale(1 1.18)">6</text>
<line x1="231.8" y1="699.3" x2="233.3" y2="699.3" stroke="#555" stroke-width="0.5"/>
<text class="t" transform="translate(234.1 702.2) scale(1 1.18)">8</text>
<line x1="231.8" y1="681.7" x2="233.3" y2="681.7" stroke="#555" stroke-width="0.5"/>
<text class="t" transform="translate(234.1 684.6) scale(1 1.18)">10</text>
<line x1="231.8" y1="664.2" x2="233.3" y2="664.2" stroke="#555" stroke-width="0.5"/>
<text class="t" transform="translate(234.1 667.1) scale(1 1.18)">12</text>
<line x1="231.8" y1="646.7" x2="233.3" y2="646.7" stroke="#555" stroke-width="0.5"/>
<text class="t" transform="translate(234.1 649.6) scale(1 1.18)">14</text>
<line x1="231.8" y1="629.1" x2="233.3" y2="629.1" stroke="#555" stroke-width="0.5"/>
<text class="t" transform="translate(234.1 632.0) scale(1 1.18)">16</text>
<line x1="231.8" y1="611.6" x2="233.3" y2="611.6" stroke="#555" stroke-width="0.5"/>
<text class="t" transform="translate(234.1 614.5) scale(1 1.18)">18</text>
<text class="cl" transform="translate(252.4,690.5) rotate(-90)" text-anchor="middle">Course ID</text>
<text class="cap" transform="translate(2.2 801.2) scale(1.046 1)">(<tspan font-weight="bold">g</tspan>) XueTangX-CRM</text>
<line x1="323.5" y1="611.4" x2="323.5" y2="769.4" stroke="#f0f0f0" stroke-width="0.7"/>
<line x1="349.5" y1="611.4" x2="349.5" y2="769.4" stroke="#f0f0f0" stroke-width="0.7"/>
<line x1="375.5" y1="611.4" x2="375.5" y2="769.4" stroke="#f0f0f0" stroke-width="0.7"/>
<line x1="401.5" y1="611.4" x2="401.5" y2="769.4" stroke="#f0f0f0" stroke-width="0.7"/>
<line x1="427.5" y1="611.4" x2="427.5" y2="769.4" stroke="#f0f0f0" stroke-width="0.7"/>
<line x1="453.5" y1="611.4" x2="453.5" y2="769.4" stroke="#f0f0f0" stroke-width="0.7"/>
<line x1="479.5" y1="611.4" x2="479.5" y2="769.4" stroke="#f0f0f0" stroke-width="0.7"/>
<line x1="306.3" y1="751.7" x2="496.3" y2="751.7" stroke="#f0f0f0" stroke-width="0.7"/>
<line x1="306.3" y1="730.8" x2="496.3" y2="730.8" stroke="#f0f0f0" stroke-width="0.7"/>
<line x1="306.3" y1="709.9" x2="496.3" y2="709.9" stroke="#f0f0f0" stroke-width="0.7"/>
<line x1="306.3" y1="689.0" x2="496.3" y2="689.0" stroke="#f0f0f0" stroke-width="0.7"/>
<line x1="306.3" y1="668.1" x2="496.3" y2="668.1" stroke="#f0f0f0" stroke-width="0.7"/>
<line x1="306.3" y1="647.2" x2="496.3" y2="647.2" stroke="#f0f0f0" stroke-width="0.7"/>
<line x1="306.3" y1="626.3" x2="496.3" y2="626.3" stroke="#f0f0f0" stroke-width="0.7"/>
<path stroke="#c0a890" stroke-width="2.5" stroke-linecap="round" fill="none" d="M413 748q-1 2 -1 4M358 686q2 5 -4 6M339 692q-5 -2 -2 -8M438 668q5 -1 10 -1M476 699q-6 5 1 7M435 654q2 -4 1 -8"/><path stroke="#d8c090" stroke-width="1.5" stroke-linecap="round" fill="none" d="M344 701q-2 -3 -1 -6M411 730q3 4 3 8M388 654q-3 -2 -4 -6M370 701q-2 2 -2 5M409 658q2 -7 8 -3M413 718q2 6 -1 10M364 669q-4 1 -8 3M430 639q5 -1 9 3M372 640q-4 -2 -3 -6M350 660q3 -2 5 -5"/><path stroke="#d8c0a8" stroke-width="1.0" stroke-linecap="round" fill="none" d="M334 722q3 -6 -4 -4M352 721q-5 2 -9 -1M413 735q0 3 1 5M442 726q-5 1 -9 2M380 632q-5 -1 -5 -6M452 705q-3 -1 -3 3M408 731q-3 0 -6 0M455 662q0 -9 8 -4M324 681q0 -2 -1 -4M413 722q2 2 2 4M479 688q1 5 4 9M414 655q4 0 9 3M460 700q4 2 7 5"/><path stroke="#c0c0a8" stroke-width="2.0" stroke-linecap="round" fill="none" d="M370 654q-3 -5 3 -7M459 674q2 2 4 3M411 724q-1 2 0 4M369 700q-1 2 -3 2"/><path stroke="#c0a890" stroke-width="2.0" stroke-linecap="round" fill="none" d="M456 672q0 -2 2 -4M334 686q-3 2 -5 0M385 653q2 -4 -2 -6M429 712q2 4 2 7M375 711q-4 2 -6 6M448 660q0 3 1 5M406 719q-2 0 -4 -1M453 707q3 1 6 3M431 713q-4 2 -9 1M408 724q-2 2 0 3M437 637q1 3 3 5M477 688q4 0 9 -1M389 717q-3 1 -4 4M434 666q1 3 0 6M360 678q-2 -1 -5 -1M441 678q-2 1 0 4M452 696q-4 4 -4 9M338 730q-5 -3 -2 -7M379 744q-2 1 -3 3M329 679q0 -5 -3 -8M383 660q-1 -2 0 -5M364 700q-2 -3 -6 -2M470 691q3 3 6 5M329 663q-2 -1 -3 -3M357 654q-4 -5 0 -9M335 702q-4 0 -6 2M349 668q4 -1 5 -4M330 701q0 -3 -1 -7M361 696q1 -1 2 -3M431 668q3 0 5 -2M394 648q3 1 7 1M362 731q1 4 -1 7"/><path stroke="#d8a8c0" stroke-width="2.5" stroke-linecap="round" fill="none" d="M427 660q6 -2 7 4M465 686q0 -8 7 -5"/><path stroke="#d8c0a8" stroke-width="1.5" stroke-linecap="round" fill="none" d="M416 717q-4 1 -4 5M359 675q5 -1 7 -6M362 692q-1 -3 -3 -5M380 659q-2 -3 -5 -4M453 642q0 7 6 8M387 651q-2 -4 3 -4M372 630q2 0 4 0M458 640q1 -1 2 -3M463 660q1 -4 2 -7M430 731q-2 -1 -4 1M418 740q-3 4 -8 7M401 716q-1 3 -5 3M341 664q0 -3 3 -2M423 741q3 0 3 3M338 691q-3 0 -7 2M420 646q-4 -4 1 -6M374 738q-4 0 -5 -5M384 627q1 -2 3 -5M376 628q3 1 5 1"/><path stroke="#c0c090" stroke-width="2.0" stroke-linecap="round" fill="none" d="M404 715q-3 1 -5 3M466 673q-5 4 0 7M322 663q3 -2 3 -6M426 648q2 2 5 4M366 729q0 2 0 3M368 667q-1 -6 -6 -8M422 633q1 -2 3 -3M405 727q3 2 5 5M321 675q-3 1 -6 -1M417 654q0 -2 -1 -3M372 651q-3 -1 -4 -3M438 682q-4 5 2 7"/><path stroke="#c0c078" stroke-width="1.5" stroke-linecap="round" fill="none" d="M368 706q-5 -2 -7 3M431 651q1 1 3 2M426 666q-4 -2 -3 -7M429 656q2 3 4 7M434 697q1 2 2 3M413 713q0 2 0 3M452 646q5 2 4 8M443 732q-2 0 -3 1"/><path stroke="#d8c0c0" stroke-width="1.5" stroke-linecap="round" fill="none" d="M379 717q-3 -2 -6 -1M376 643q-1 0 -3 1M366 706q-3 1 -5 -2M392 716q-3 2 -6 4M464 664q-7 4 1 8M341 724q-3 4 -7 6M362 678q-3 0 -7 -1M438 663q0 4 0 7M451 688q4 -1 7 -3M465 721q-7 1 -5 8M346 667q-1 -7 5 -8M439 688q5 1 8 4M357 734q-2 -3 -5 -5M475 685q-1 3 -1 6M361 748q-5 -3 -3 -8M368 701q0 5 -5 7"/><path stroke="#d8a890" stroke-width="1.5" stroke-linecap="round" fill="none" d="M431 705q2 1 4 0M329 674q-3 0 -5 1"/><path stroke="#f0c0c0" stroke-width="1.5" stroke-linecap="round" fill="none" d="M433 696q2 1 2 4M394 725q1 4 0 8"/><path stroke="#d8c0c0" stroke-width="2.5" stroke-linecap="round" fill="none" d="M423 649q2 5 2 9M429 629q2 4 5 7M352 719q-8 5 -9 -3M448 701q-1 3 -2 6M396 747q-4 1 -7 5M368 723q-4 5 -9 0"/><path stroke="#c0a890" stroke-width="1.0" stroke-linecap="round" fill="none" d="M456 679q1 -2 2 -3M418 728q2 1 2 3M392 641q3 -2 6 -4M446 671q4 4 8 1M355 633q-4 0 -5 -3M336 684q1 -4 -1 -7M341 654q-3 -1 -6 -2M464 674q5 -1 3 -6M410 643q-1 -3 1 -6M401 629q-3 -1 -2 -3M371 732q-1 4 -3 9M445 724q-3 2 -7 3"/><path stroke="#c0a890" stroke-width="1.5" stroke-linecap="round" fill="none" d="M362 695q-2 3 -5 2M379 746q-2 -2 -2 -4M435 643q1 -6 7 -6M449 682q1 4 1 7M407 628q-3 -3 -1 -7M447 722q-3 1 -1 4M423 639q2 -4 0 -8M434 669q3 4 7 4M424 724q-3 2 -1 5M339 700q-1 -4 0 -8M386 710q-1 3 -4 7M430 654q-1 3 2 5M382 633q2 -5 1 -9M457 671q4 2 6 -1M365 648q-2 -1 -3 -3M481 683q4 -4 9 -3M408 642q4 -3 7 -2M437 640q0 -2 0 -4M428 726q-5 2 -6 5M438 657q5 -1 10 -2M401 724q-1 2 -2 4M416 625q4 -6 -3 -7M406 729q1 1 3 2M454 684q5 -1 9 3M417 746q0 3 0 7M438 712q0 2 -1 3M419 732q-2 -6 -9 -5M340 649q-2 -1 -4 -1M443 662q3 2 3 6M351 740q-2 -3 -5 -5M368 711q-3 -2 -5 -5"/><path stroke="#d8a8a8" stroke-width="1.5" stroke-linecap="round" fill="none" d="M467 720q4 0 7 4M435 735q2 0 3 2M388 715q-3 -2 -5 0M334 653q-1 -2 -4 -3M332 666q2 -2 5 -2M394 715q-6 -1 -5 5M438 675q-3 3 -3 8M356 700q-6 1 -8 6M433 721q5 2 9 0M434 678q4 -2 5 -6M380 641q3 -1 6 0M459 712q5 2 10 2M436 658q3 -2 6 0M461 703q-5 0 -6 5"/><path stroke="#c0c090" stroke-width="2.5" stroke-linecap="round" fill="none" d="M380 665q-6 1 -4 -6M380 720q1 4 2 7M422 647q1 2 2 3M335 702q1 -2 -1 -3"/><path stroke="#d8a8a8" stroke-width="2.0" stroke-linecap="round" fill="none" d="M321 669q-3 -1 -4 -4M378 622q4 2 9 0M443 710q3 1 5 1M417 734q3 2 6 1M427 658q2 8 6 2M391 728q2 0 2 3M362 679q-3 -1 -7 1M445 661q0 -5 -3 -8"/><path stroke="#c0a878" stroke-width="1.5" stroke-linecap="round" fill="none" d="M323 678q-1 -3 1 -5M353 730q-3 4 -7 0M381 720q0 6 4 9M367 720q-7 -4 -10 3M330 698q-3 -3 -6 -3M344 696q1 -4 -1 -7"/><path stroke="#a89078" stroke-width="1.5" stroke-linecap="round" fill="none" d="M392 722q-6 4 1 8M432 647q3 3 6 7M416 740q-2 4 -6 3M399 637q3 -1 5 -3M482 688q0 3 2 6M328 685q2 -3 -1 -5M321 682q-2 1 -4 2M428 661q0 -3 2 -4M365 678q-5 -1 -6 -6M404 623q3 2 4 -1M351 663q-2 0 -4 0M432 640q2 -1 2 -3M433 720q3 4 7 1"/><path stroke="#d8a8c0" stroke-width="1.5" stroke-linecap="round" fill="none" d="M419 633q-2 -1 -2 -4M385 630q1 -2 4 -1M343 659q-4 4 -10 0M462 723q2 1 3 2M435 698q-1 2 -3 4M355 708q5 -2 3 -6M381 722q-1 -2 -3 -3M462 708q-1 3 -2 7M440 667q1 2 1 4M431 740q-1 3 -2 6"/><path stroke="#d8a8c0" stroke-width="2.0" stroke-linecap="round" fill="none" d="M447 707q4 3 7 6M385 710q1 5 -2 9M428 655q3 2 5 3M381 652q-2 -4 -4 -7M437 709q2 1 2 3M462 705q-2 1 -4 2M392 736q-4 -1 -5 -4M331 725q5 -4 3 -9M446 683q0 5 0 10M361 718q-5 -1 -8 4M387 638q1 -1 3 -1"/><path stroke="#d8c090" stroke-width="1.0" stroke-linecap="round" fill="none" d="M357 664q3 -2 2 -5M373 724q-4 -2 -8 -4M365 732q3 2 0 4M371 646q5 0 8 -2M396 638q-6 -1 -6 -8M358 679q0 -5 2 -9M358 663q-3 -3 1 -6M423 645q2 -3 5 -6"/><path stroke="#c0c090" stroke-width="1.5" stroke-linecap="round" fill="none" d="M429 718q-2 2 -5 2M428 671q6 0 6 -5M360 689q-4 -2 -7 0M356 680q-1 -4 0 -9M410 733q-7 1 -7 7M448 730q4 3 2 7M420 711q0 4 -4 4M396 719q-3 -2 -7 -2M332 687q2 0 2 -2M438 648q3 0 4 3M370 744q-5 -1 -7 -6M410 645q-1 -5 -1 -9"/><path stroke="#a89078" stroke-width="2.0" stroke-linecap="round" fill="none" d="M400 654q-2 -2 0 -4M354 702q-1 -1 -2 -2M380 711q5 3 2 8M468 715q-4 4 -1 9M331 656q5 -4 1 -8M363 736q0 2 -2 3"/><path stroke="#d8c0a8" stroke-width="2.0" stroke-linecap="round" fill="none" d="M464 651q2 -3 3 -7M431 667q-1 -5 4 -6M425 645q3 -3 7 -6M390 642q2 1 4 1M441 684q3 0 4 -1M463 724q-3 -1 -4 2M350 655q-1 -7 -7 -5M415 742q-5 -3 -9 1M374 643q5 0 10 -2M407 738q1 5 -3 9M433 746q-3 0 -6 -2M478 664q2 0 2 3M420 713q1 2 1 3M406 739q-5 3 -3 8M409 719q3 2 5 4M414 641q4 -1 4 -5"/><path stroke="#c0c078" stroke-width="2.5" stroke-linecap="round" fill="none" d="M457 730q2 2 3 5M429 657q1 3 3 2"/><path stroke="#c09090" stroke-width="2.0" stroke-linecap="round" fill="none" d="M412 629q4 0 6 3"/><path stroke="#d8a8c0" stroke-width="1.0" stroke-linecap="round" fill="none" d="M354 723q3 -5 -2 -8M325 662q2 0 3 -1M453 715q3 -1 3 2M389 631q3 1 4 -3M422 712q0 3 -3 2M352 693q-4 5 -5 -2"/><path stroke="#d8c0c0" stroke-width="1.0" stroke-linecap="round" fill="none" d="M366 742q2 3 2 8M437 662q0 -2 1 -3M360 674q6 0 6 -6M437 704q-2 2 -4 5M376 628q2 -4 0 -8"/><path stroke="#c0c090" stroke-width="1.0" stroke-linecap="round" fill="none" d="M366 730q-4 0 -7 -3M342 686q-1 -6 3 -9M434 648q7 3 7 -5M330 667q2 -3 5 -5M460 644q1 -1 1 -3"/><path stroke="#a89090" stroke-width="2.0" stroke-linecap="round" fill="none" d="M377 636q-4 0 -4 -3M416 728q3 2 1 5M452 677q4 -2 9 -3M430 669q3 -2 6 -4"/><path stroke="#c0a878" stroke-width="2.0" stroke-linecap="round" fill="none" d="M374 734q-1 1 -3 2M324 697q0 -2 2 -3M445 694q0 1 1 3M378 631q4 -6 9 -2M459 670q3 2 3 6M397 653q0 -5 4 -7M413 714q1 6 -4 9"/><path stroke="#c0c0c0" stroke-width="2.0" stroke-linecap="round" fill="none" d="M443 647q0 -3 0 -6"/><path stroke="#d8c0c0" stroke-width="2.0" stroke-linecap="round" fill="none" d="M404 625q1 -4 -3 -6M385 739q0 3 -2 3M412 747q-5 -2 -9 -4M443 660q0 2 0 5M380 647q2 -3 -1 -6M451 736q2 0 3 -1M326 662q-4 -4 -1 -10M448 662q3 1 4 4M376 714q-4 0 -5 4M365 647q3 -2 2 -5M329 648q2 -4 7 -4M458 691q-1 2 -3 3"/><path stroke="#d8c090" stroke-width="2.0" stroke-linecap="round" fill="none" d="M329 679q1 -4 5 -6M354 686q-5 -1 -6 -6M467 677q3 -1 2 -4M424 713q3 2 1 5M425 738q3 4 -1 6M399 727q-4 0 -6 3M358 667q1 -3 4 -3M334 704q-1 -7 5 -8M417 653q0 -3 3 -3M382 641q3 0 5 1M382 745q0 3 -1 5M371 643q0 -4 -3 -5M336 658q2 -3 2 -7M345 715q-1 -1 -2 -2"/><path stroke="#c0a8a8" stroke-width="1.0" stroke-linecap="round" fill="none" d="M421 728q3 3 6 3M365 715q-4 -1 -6 2M423 639q4 -5 0 -9M431 668q0 2 1 5"/><path stroke="#c0a860" stroke-width="1.0" stroke-linecap="round" fill="none" d="M393 733q-7 -2 -6 5M382 717q-6 -1 -7 5"/><path stroke="#d8a878" stroke-width="1.5" stroke-linecap="round" fill="none" d="M454 660q0 -2 2 -3"/><path stroke="#c0c078" stroke-width="1.0" stroke-linecap="round" fill="none" d="M392 656q-3 2 -7 -1M355 731q-1 -4 -5 -4M437 710q-1 2 -1 5M445 651q4 -1 7 -1M356 662q1 -1 1 -3"/><path stroke="#c0a8a8" stroke-width="2.0" stroke-linecap="round" fill="none" d="M439 705q-3 5 -9 3M388 714q-5 -3 -7 3M466 682q0 2 -2 4M446 663q0 2 -2 3M418 744q-2 -4 -4 0M480 680q4 3 1 7"/><path stroke="#c0c0a8" stroke-width="1.5" stroke-linecap="round" fill="none" d="M474 678q6 3 9 -3M407 732q-4 4 0 9M473 658q0 6 6 7"/><path stroke="#c0a878" stroke-width="1.0" stroke-linecap="round" fill="none" d="M342 643q-4 0 -7 -4M347 706q-2 0 -4 1M355 638q2 -4 6 -2M361 724q0 -2 -3 -3M354 732q-2 -5 -7 -5M341 712q-2 -2 -3 -4M403 727q1 4 5 5"/><path stroke="#c0c078" stroke-width="2.0" stroke-linecap="round" fill="none" d="M331 680q6 0 6 -6M439 731q-3 1 -2 5M374 735q-4 3 -1 6M393 722q-4 -2 -7 1M422 712q-3 2 -6 2M452 645q2 -1 4 -1M452 691q-3 5 1 9M371 720q-4 -1 -6 -5M464 681q0 2 -1 5M456 649q2 -3 2 -6M328 714q-2 -1 -3 1M369 665q-5 -2 -10 -1"/><path stroke="#d8a890" stroke-width="1.0" stroke-linecap="round" fill="none" d="M441 711q-4 1 -8 3M483 688q3 -1 5 1"/><path stroke="#d8c0a8" stroke-width="2.5" stroke-linecap="round" fill="none" d="M369 714q-3 0 -6 1M449 659q-2 2 -4 3M325 668q-4 -2 -8 -1M357 703q-5 3 -9 0"/><path stroke="#d8a8a8" stroke-width="1.0" stroke-linecap="round" fill="none" d="M382 626q2 -8 -7 -7M367 744q-1 2 -3 4M368 679q-4 1 -8 1M422 723q-5 -2 -8 3M375 637q-3 -4 -5 -8M465 682q2 2 1 5M452 716q4 0 5 3"/><path stroke="#c0c0a8" stroke-width="1.0" stroke-linecap="round" fill="none" d="M335 666q-1 -4 -5 -3M383 658q3 0 4 -2M450 723q-3 4 -8 2M338 650q-3 0 -6 -1M325 705q2 -3 5 -6"/><path stroke="#a89090" stroke-width="2.5" stroke-linecap="round" fill="none" d="M328 673q-2 2 -5 1"/><path stroke="#a89090" stroke-width="1.5" stroke-linecap="round" fill="none" d="M423 652q3 1 5 -2M354 701q2 -2 1 -5M352 721q-2 -2 -3 -5M380 734q-3 2 -3 5M363 632q2 0 3 -1M380 629q0 -5 -1 -9"/><path stroke="#c0c0d8" stroke-width="1.5" stroke-linecap="round" fill="none" d="M477 682q-2 4 -2 8"/><path stroke="#a89078" stroke-width="1.0" stroke-linecap="round" fill="none" d="M468 694q0 -5 5 -5M463 672q5 -3 8 -6"/><path stroke="#c0a8a8" stroke-width="1.5" stroke-linecap="round" fill="none" d="M435 708q-2 1 -3 4M382 713q-3 1 -2 5M422 748q-6 4 -9 -2M363 681q2 -3 2 -6M431 723q-5 -2 -8 2M322 699q-3 4 -7 0M422 656q2 0 2 2"/><path stroke="#a89090" stroke-width="1.0" stroke-linecap="round" fill="none" d="M467 724q4 -2 8 -4"/><path stroke="#c0c0a8" stroke-width="2.5" stroke-linecap="round" fill="none" d="M399 730q-2 5 3 7"/><path stroke="#c0c0c0" stroke-width="1.5" stroke-linecap="round" fill="none" d="M407 716q-4 -3 -9 0M361 714q-3 2 -5 4"/><path stroke="#a89078" stroke-width="2.5" stroke-linecap="round" fill="none" d="M372 704q-2 3 -5 3M422 657q5 1 5 6M415 643q3 5 9 5M373 711q1 -5 -4 -5"/><path stroke="#c0a8c0" stroke-width="1.5" stroke-linecap="round" fill="none" d="M358 720q-4 1 -7 -3M339 668q-2 1 -4 -1"/><path stroke="#a8a8c0" stroke-width="1.5" stroke-linecap="round" fill="none" d="M384 728q2 -5 -3 -7"/><path stroke="#c0a8c0" stroke-width="2.0" stroke-linecap="round" fill="none" d="M381 713q-1 -5 -6 -6M392 717q-4 1 -6 -2M337 664q-2 3 -5 4M432 727q2 3 5 5"/><path stroke="#d8a890" stroke-width="2.0" stroke-linecap="round" fill="none" d="M339 721q-4 3 -8 6"/><path stroke="#d8a8a8" stroke-width="2.5" stroke-linecap="round" fill="none" d="M422 644q-3 -4 0 -8"/><path stroke="#a8a8c0" stroke-width="2.0" stroke-linecap="round" fill="none" d="M333 675q1 -2 0 -5"/><path stroke="#c0a878" stroke-width="2.5" stroke-linecap="round" fill="none" d="M338 695q-4 0 -7 2"/><path stroke="#c09090" stroke-width="1.0" stroke-linecap="round" fill="none" d="M369 633q-3 -2 -3 -5"/><path stroke="#d8c090" stroke-width="2.5" stroke-linecap="round" fill="none" d="M442 683q2 -4 5 -2"/><path stroke="#f0c0c0" stroke-width="2.0" stroke-linecap="round" fill="none" d="M447 664q3 3 6 5"/><path stroke="#c0a8c0" stroke-width="2.5" stroke-linecap="round" fill="none" d="M338 644q5 -2 2 -6"/><path stroke="#d8a890" stroke-width="2.5" stroke-linecap="round" fill="none" d="M427 652q3 3 5 7"/><path stroke="#c09090" stroke-width="1.5" stroke-linecap="round" fill="none" d="M374 747q-6 -2 -7 -7"/><g filter="url(#tx4)"><path d="M392.0 648.0C394.3 645.3 404.0 641.7 410.0 640.0C416.0 638.3 422.2 637.2 428.0 638.0C433.8 638.8 440.0 642.0 445.0 645.0C450.0 648.0 454.5 651.8 458.0 656.0C461.5 660.2 464.3 664.7 466.0 670.0C467.7 675.3 469.0 682.7 468.0 688.0C467.0 693.3 463.8 698.3 460.0 702.0C456.2 705.7 450.8 708.0 445.0 710.0C439.2 712.0 432.5 713.2 425.0 714.0C417.5 714.8 404.2 718.2 400.0 715.0C395.8 711.8 399.7 702.2 400.0 695.0C400.3 687.8 402.7 678.5 402.0 672.0C401.3 665.5 397.7 660.0 396.0 656.0C394.3 652.0 389.7 650.7 392.0 648.0Z" fill="#c29c92" /></g><g filter="url(#tx3)"><ellipse cx="341" cy="684" rx="5.0" ry="1.6" transform="rotate(283 341 684)" fill="#c8a0a0"/><ellipse cx="364" cy="634" rx="2.5" ry="1.5" transform="rotate(314 364 634)" fill="#c69c98"/><ellipse cx="412" cy="738" rx="5.2" ry="1.3" transform="rotate(170 412 738)" fill="#b49478"/><ellipse cx="475" cy="684" rx="4.0" ry="1.6" transform="rotate(377 475 684)" fill="#c6a890"/><ellipse cx="366" cy="649" rx="5.6" ry="1.0" transform="rotate(372 366 649)" fill="#b4a472"/><ellipse cx="369" cy="720" rx="6.4" ry="1.9" transform="rotate(187 369 720)" fill="#b89c7c"/><ellipse cx="444" cy="740" rx="5.5" ry="2.4" transform="rotate(164 444 740)" fill="#c6a890"/><ellipse cx="354" cy="695" rx="3.0" ry="2.0" transform="rotate(240 354 695)" fill="#bea47c"/><ellipse cx="337" cy="729" rx="2.6" ry="1.9" transform="rotate(273 337 729)" fill="#b4a472"/><ellipse cx="371" cy="706" rx="4.1" ry="2.5" transform="rotate(280 371 706)" fill="#c6a890"/><ellipse cx="360" cy="719" rx="3.9" ry="1.7" transform="rotate(221 360 719)" fill="#c6a890"/><ellipse cx="451" cy="713" rx="5.5" ry="2.2" transform="rotate(116 451 713)" fill="#c8a0a0"/><ellipse cx="381" cy="647" rx="3.8" ry="1.9" transform="rotate(350 381 647)" fill="#b4a472"/><ellipse cx="347" cy="684" rx="3.3" ry="2.4" transform="rotate(235 347 684)" fill="#b4a472"/><ellipse cx="452" cy="668" rx="6.0" ry="2.2" transform="rotate(470 452 668)" fill="#c0a488"/><ellipse cx="356" cy="682" rx="2.8" ry="2.3" transform="rotate(333 356 682)" fill="#bea47c"/><ellipse cx="470" cy="705" rx="4.8" ry="1.3" transform="rotate(57 470 705)" fill="#c6a890"/><ellipse cx="456" cy="685" rx="4.1" ry="2.3" transform="rotate(467 456 685)" fill="#c6a890"/><ellipse cx="447" cy="685" rx="4.0" ry="1.6" transform="rotate(419 447 685)" fill="#bea47c"/><ellipse cx="342" cy="688" rx="2.8" ry="1.2" transform="rotate(265 342 688)" fill="#c6a890"/><ellipse cx="462" cy="683" rx="5.5" ry="1.2" transform="rotate(492 462 683)" fill="#b4a472"/><ellipse cx="405" cy="740" rx="4.6" ry="1.5" transform="rotate(160 405 740)" fill="#b49478"/><ellipse cx="362" cy="688" rx="3.6" ry="2.4" transform="rotate(196 362 688)" fill="#c6a890"/><ellipse cx="447" cy="735" rx="5.9" ry="1.7" transform="rotate(172 447 735)" fill="#c8a0a0"/><ellipse cx="399" cy="727" rx="5.0" ry="1.6" transform="rotate(148 399 727)" fill="#bea47c"/><ellipse cx="439" cy="741" rx="4.1" ry="1.2" transform="rotate(192 439 741)" fill="#c6a890"/><ellipse cx="338" cy="697" rx="4.8" ry="1.8" transform="rotate(300 338 697)" fill="#c69c98"/><ellipse cx="420" cy="661" rx="4.0" ry="1.4" transform="rotate(418 420 661)" fill="#bea47c"/><ellipse cx="372" cy="728" rx="6.5" ry="2.1" transform="rotate(261 372 728)" fill="#bea47c"/><ellipse cx="436" cy="701" rx="4.8" ry="1.6" transform="rotate(139 436 701)" fill="#b89c7c"/><ellipse cx="370" cy="651" rx="3.2" ry="1.4" transform="rotate(322 370 651)" fill="#c0a488"/><ellipse cx="429" cy="650" rx="2.7" ry="2.4" transform="rotate(418 429 650)" fill="#b49478"/><ellipse cx="459" cy="703" rx="4.5" ry="1.9" transform="rotate(164 459 703)" fill="#c0a488"/><ellipse cx="454" cy="637" rx="3.1" ry="1.6" transform="rotate(386 454 637)" fill="#b4a472"/><ellipse cx="341" cy="717" rx="3.7" ry="2.4" transform="rotate(249 341 717)" fill="#b4a472"/><ellipse cx="447" cy="642" rx="6.2" ry="2.0" transform="rotate(407 447 642)" fill="#bea47c"/><ellipse cx="403" cy="750" rx="5.6" ry="1.1" transform="rotate(188 403 750)" fill="#bea47c"/><ellipse cx="440" cy="631" rx="4.3" ry="1.7" transform="rotate(418 440 631)" fill="#bea47c"/><ellipse cx="371" cy="646" rx="6.6" ry="1.3" transform="rotate(386 371 646)" fill="#c0a488"/><ellipse cx="458" cy="689" rx="5.9" ry="2.1" transform="rotate(85 458 689)" fill="#c0a488"/><ellipse cx="473" cy="685" rx="4.0" ry="1.9" transform="rotate(495 473 685)" fill="#b4a472"/><ellipse cx="428" cy="648" rx="2.9" ry="1.9" transform="rotate(433 428 648)" fill="#bea47c"/><ellipse cx="383" cy="715" rx="4.0" ry="1.4" transform="rotate(256 383 715)" fill="#c0a488"/><ellipse cx="350" cy="727" rx="6.2" ry="2.1" transform="rotate(223 350 727)" fill="#c8a0a0"/><ellipse cx="374" cy="632" rx="5.0" ry="1.9" transform="rotate(379 374 632)" fill="#b49478"/><ellipse cx="453" cy="700" rx="6.6" ry="1.8" transform="rotate(115 453 700)" fill="#c6a890"/><ellipse cx="350" cy="671" rx="6.8" ry="1.6" transform="rotate(325 350 671)" fill="#c6a890"/><ellipse cx="399" cy="654" rx="5.6" ry="1.0" transform="rotate(316 399 654)" fill="#c6a890"/><ellipse cx="451" cy="656" rx="5.3" ry="1.4" transform="rotate(378 451 656)" fill="#b49478"/><ellipse cx="433" cy="700" rx="6.9" ry="2.3" transform="rotate(98 433 700)" fill="#b4a472"/><ellipse cx="444" cy="689" rx="3.2" ry="1.6" transform="rotate(33 444 689)" fill="#c6a890"/><ellipse cx="339" cy="691" rx="3.2" ry="2.1" transform="rotate(207 339 691)" fill="#b49478"/><ellipse cx="340" cy="719" rx="2.8" ry="1.2" transform="rotate(198 340 719)" fill="#c69c98"/><ellipse cx="327" cy="658" rx="3.8" ry="2.4" transform="rotate(307 327 658)" fill="#bea47c"/><ellipse cx="397" cy="730" rx="3.6" ry="1.2" transform="rotate(186 397 730)" fill="#bea47c"/><ellipse cx="456" cy="689" rx="2.7" ry="1.9" transform="rotate(126 456 689)" fill="#b4a472"/><ellipse cx="368" cy="741" rx="6.5" ry="2.4" transform="rotate(202 368 741)" fill="#bea47c"/><ellipse cx="389" cy="648" rx="5.2" ry="1.2" transform="rotate(378 389 648)" fill="#c0a488"/><ellipse cx="340" cy="658" rx="5.7" ry="2.4" transform="rotate(272 340 658)" fill="#b4a472"/><ellipse cx="434" cy="670" rx="6.2" ry="1.6" transform="rotate(444 434 670)" fill="#bea47c"/><ellipse cx="457" cy="682" rx="6.0" ry="2.4" transform="rotate(502 457 682)" fill="#c0a488"/><ellipse cx="452" cy="674" rx="3.3" ry="1.2" transform="rotate(492 452 674)" fill="#c8a0a0"/><ellipse cx="401" cy="717" rx="6.0" ry="1.2" transform="rotate(196 401 717)" fill="#c0a488"/><ellipse cx="470" cy="659" rx="3.1" ry="1.2" transform="rotate(388 470 659)" fill="#c6a890"/><ellipse cx="343" cy="645" rx="4.1" ry="2.4" transform="rotate(266 343 645)" fill="#b49478"/><ellipse cx="431" cy="703" rx="3.9" ry="2.5" transform="rotate(90 431 703)" fill="#bea47c"/><ellipse cx="385" cy="644" rx="5.4" ry="2.5" transform="rotate(335 385 644)" fill="#c6a890"/><ellipse cx="439" cy="685" rx="6.1" ry="1.1" transform="rotate(403 439 685)" fill="#c69c98"/><ellipse cx="414" cy="658" rx="6.0" ry="1.3" transform="rotate(354 414 658)" fill="#b49478"/><ellipse cx="392" cy="724" rx="4.1" ry="1.9" transform="rotate(197 392 724)" fill="#b89c7c"/><ellipse cx="363" cy="697" rx="6.6" ry="2.2" transform="rotate(263 363 697)" fill="#b49478"/><ellipse cx="434" cy="629" rx="6.2" ry="1.9" transform="rotate(417 434 629)" fill="#b4a472"/><ellipse cx="340" cy="665" rx="5.7" ry="1.1" transform="rotate(257 340 665)" fill="#c69c98"/><ellipse cx="468" cy="712" rx="5.6" ry="2.2" transform="rotate(179 468 712)" fill="#bea47c"/><ellipse cx="452" cy="726" rx="2.6" ry="1.0" transform="rotate(69 452 726)" fill="#c8a0a0"/><ellipse cx="400" cy="644" rx="4.3" ry="1.8" transform="rotate(356 400 644)" fill="#c0a488"/><ellipse cx="443" cy="658" rx="5.6" ry="1.7" transform="rotate(440 443 658)" fill="#bea47c"/><ellipse cx="419" cy="716" rx="5.7" ry="2.2" transform="rotate(200 419 716)" fill="#c69c98"/><ellipse cx="444" cy="673" rx="3.1" ry="1.7" transform="rotate(364 444 673)" fill="#b49478"/><ellipse cx="445" cy="651" rx="4.1" ry="2.2" transform="rotate(481 445 651)" fill="#b49478"/><ellipse cx="380" cy="745" rx="6.2" ry="1.1" transform="rotate(167 380 745)" fill="#c0a488"/><ellipse cx="446" cy="658" rx="6.2" ry="1.2" transform="rotate(392 446 658)" fill="#b89c7c"/><ellipse cx="438" cy="718" rx="5.9" ry="1.8" transform="rotate(177 438 718)" fill="#c6a890"/><ellipse cx="402" cy="655" rx="3.1" ry="1.7" transform="rotate(362 402 655)" fill="#bea47c"/><ellipse cx="413" cy="633" rx="3.1" ry="1.4" transform="rotate(406 413 633)" fill="#b49478"/><ellipse cx="464" cy="719" rx="7.0" ry="1.7" transform="rotate(135 464 719)" fill="#b49478"/><ellipse cx="353" cy="727" rx="7.0" ry="1.5" transform="rotate(192 353 727)" fill="#b4a472"/><ellipse cx="443" cy="713" rx="5.4" ry="1.6" transform="rotate(149 443 713)" fill="#c6a890"/><ellipse cx="424" cy="659" rx="5.2" ry="2.6" transform="rotate(363 424 659)" fill="#b89c7c"/><ellipse cx="456" cy="718" rx="6.1" ry="2.0" transform="rotate(176 456 718)" fill="#c8a0a0"/><ellipse cx="380" cy="645" rx="5.3" ry="1.7" transform="rotate(335 380 645)" fill="#b89c7c"/><ellipse cx="415" cy="645" rx="5.9" ry="2.0" transform="rotate(449 415 645)" fill="#b49478"/><ellipse cx="352" cy="733" rx="3.7" ry="1.6" transform="rotate(194 352 733)" fill="#bea47c"/><ellipse cx="456" cy="682" rx="4.4" ry="1.3" transform="rotate(532 456 682)" fill="#b89c7c"/><ellipse cx="463" cy="684" rx="2.9" ry="1.4" transform="rotate(441 463 684)" fill="#c0a488"/><ellipse cx="404" cy="736" rx="6.5" ry="2.0" transform="rotate(155 404 736)" fill="#bea47c"/><ellipse cx="339" cy="703" rx="4.8" ry="1.6" transform="rotate(191 339 703)" fill="#bea47c"/><ellipse cx="319" cy="701" rx="3.1" ry="2.5" transform="rotate(283 319 701)" fill="#c6a890"/><ellipse cx="472" cy="704" rx="4.7" ry="1.2" transform="rotate(120 472 704)" fill="#bea47c"/><ellipse cx="369" cy="708" rx="5.0" ry="2.5" transform="rotate(170 369 708)" fill="#c6a890"/><ellipse cx="331" cy="683" rx="3.8" ry="1.6" transform="rotate(289 331 683)" fill="#c8a0a0"/><ellipse cx="428" cy="633" rx="4.7" ry="2.5" transform="rotate(385 428 633)" fill="#b89c7c"/><ellipse cx="437" cy="678" rx="6.0" ry="1.2" transform="rotate(407 437 678)" fill="#bea47c"/><ellipse cx="426" cy="642" rx="2.9" ry="1.5" transform="rotate(433 426 642)" fill="#c6a890"/><ellipse cx="335" cy="697" rx="2.5" ry="1.1" transform="rotate(251 335 697)" fill="#c69c98"/><ellipse cx="414" cy="718" rx="6.2" ry="2.5" transform="rotate(179 414 718)" fill="#c69c98"/><ellipse cx="465" cy="674" rx="6.9" ry="2.3" transform="rotate(430 465 674)" fill="#c8a0a0"/><ellipse cx="395" cy="721" rx="5.8" ry="1.5" transform="rotate(199 395 721)" fill="#b4a472"/><ellipse cx="340" cy="694" rx="6.6" ry="1.7" transform="rotate(196 340 694)" fill="#c6a890"/><ellipse cx="353" cy="695" rx="2.7" ry="2.2" transform="rotate(259 353 695)" fill="#bea47c"/><ellipse cx="394" cy="739" rx="4.7" ry="1.6" transform="rotate(191 394 739)" fill="#c6a890"/><ellipse cx="443" cy="724" rx="6.4" ry="1.4" transform="rotate(171 443 724)" fill="#bea47c"/><ellipse cx="407" cy="728" rx="3.6" ry="1.6" transform="rotate(180 407 728)" fill="#b89c7c"/><ellipse cx="397" cy="739" rx="5.5" ry="2.4" transform="rotate(163 397 739)" fill="#b89c7c"/><ellipse cx="352" cy="724" rx="4.1" ry="2.4" transform="rotate(182 352 724)" fill="#c0a488"/><ellipse cx="363" cy="709" rx="3.9" ry="1.5" transform="rotate(240 363 709)" fill="#c0a488"/><ellipse cx="442" cy="712" rx="3.5" ry="1.6" transform="rotate(166 442 712)" fill="#c69c98"/><ellipse cx="459" cy="653" rx="3.0" ry="1.1" transform="rotate(376 459 653)" fill="#b49478"/><ellipse cx="350" cy="718" rx="2.9" ry="1.5" transform="rotate(241 350 718)" fill="#b49478"/><ellipse cx="385" cy="647" rx="3.8" ry="1.9" transform="rotate(361 385 647)" fill="#b49478"/><ellipse cx="468" cy="716" rx="2.6" ry="1.6" transform="rotate(165 468 716)" fill="#b89c7c"/><ellipse cx="358" cy="682" rx="2.7" ry="1.9" transform="rotate(226 358 682)" fill="#c0a488"/><ellipse cx="429" cy="662" rx="3.9" ry="1.0" transform="rotate(394 429 662)" fill="#b89c7c"/><ellipse cx="393" cy="640" rx="3.4" ry="1.5" transform="rotate(377 393 640)" fill="#c0a488"/><ellipse cx="414" cy="650" rx="3.4" ry="1.1" transform="rotate(378 414 650)" fill="#bea47c"/><ellipse cx="360" cy="699" rx="6.4" ry="1.7" transform="rotate(250 360 699)" fill="#b49478"/><ellipse cx="368" cy="737" rx="5.3" ry="1.9" transform="rotate(191 368 737)" fill="#b4a472"/><ellipse cx="441" cy="736" rx="5.7" ry="2.4" transform="rotate(79 441 736)" fill="#b4a472"/><ellipse cx="370" cy="653" rx="4.7" ry="1.9" transform="rotate(284 370 653)" fill="#b49478"/><ellipse cx="319" cy="702" rx="5.7" ry="1.6" transform="rotate(255 319 702)" fill="#c0a488"/></g><g filter="url(#tx2)"><path d="M345.0 652.0C346.3 649.2 354.2 643.3 360.0 640.0C365.8 636.7 372.5 634.0 380.0 632.0C387.5 630.0 396.7 628.3 405.0 628.0C413.3 627.7 422.5 628.3 430.0 630.0C437.5 631.7 447.3 635.3 450.0 638.0C452.7 640.7 451.0 645.7 446.0 646.0C441.0 646.3 428.5 640.5 420.0 640.0C411.5 639.5 403.3 641.8 395.0 643.0C386.7 644.2 377.2 644.7 370.0 647.0C362.8 649.3 356.2 656.2 352.0 657.0C347.8 657.8 343.7 654.8 345.0 652.0Z" fill="#c4a298" /><path d="M325.0 684.0C326.7 681.3 333.8 676.3 336.0 678.0C338.2 679.7 339.7 691.3 338.0 694.0C336.3 696.7 328.2 695.7 326.0 694.0C323.8 692.3 323.3 686.7 325.0 684.0Z" fill="#c4a298" /></g><g filter="url(#tx)"><path d="M338.0 668.0C340.2 662.7 344.0 659.0 348.0 656.0C352.0 653.0 357.0 651.7 362.0 650.0C367.0 648.3 373.0 646.8 378.0 646.0C383.0 645.2 387.5 644.7 392.0 645.0C396.5 645.3 401.7 645.5 405.0 648.0C408.3 650.5 410.5 654.7 412.0 660.0C413.5 665.3 414.3 673.3 414.0 680.0C413.7 686.7 412.3 694.7 410.0 700.0C407.7 705.3 404.2 709.3 400.0 712.0C395.8 714.7 390.8 715.3 385.0 716.0C379.2 716.7 370.8 716.7 365.0 716.0C359.2 715.3 354.2 714.2 350.0 712.0C345.8 709.8 342.5 707.0 340.0 703.0C337.5 699.0 335.3 693.8 335.0 688.0C334.7 682.2 335.8 673.3 338.0 668.0Z" fill="#c89ba0" /><path d="M380.0 724.0C382.5 721.2 390.3 719.8 396.0 719.0C401.7 718.2 409.3 718.2 414.0 719.0C418.7 719.8 422.2 721.5 424.0 724.0C425.8 726.5 426.2 731.2 425.0 734.0C423.8 736.8 420.8 739.3 417.0 741.0C413.2 742.7 406.8 743.8 402.0 744.0C397.2 744.2 391.5 743.3 388.0 742.0C384.5 740.7 382.3 739.0 381.0 736.0C379.7 733.0 377.5 726.8 380.0 724.0Z" fill="#c2928f" /></g><path stroke="#ffffff" stroke-width="1.0" stroke-linecap="round" fill="none" d="M356 700q3 2 6 2M382 680q-4 3 -6 8M392 682q3 1 6 1M356 689q4 2 6 7M374 668q-3 1 -5 2M403 687q-2 0 -4 0M379 677q-4 3 -9 1M405 693q-2 1 -4 2M375 694q-1 4 -3 6M360 666q2 5 1 10"/><path stroke="#ffffff" stroke-width="1.5" stroke-linecap="round" fill="none" d="M386 690q-2 2 -4 3"/><path stroke="#ffffff" stroke-width="0.5" stroke-linecap="round" fill="none" d="M358 680q4 1 8 0M404 683q2 3 4 7M403 669q-1 3 -2 5"/>
<line x1="306.3" y1="689.5" x2="496.3" y2="689.5" stroke="#8e8e8e" stroke-width="0.9"/>
<rect x="306.3" y="611.4" width="190.0" height="158.0" fill="none" stroke="#ababab" stroke-width="0.8"/>
<text class="t" transform="translate(323.5 777.2) scale(1 1.18)" text-anchor="middle">−15</text>
<line x1="323.5" y1="769.4" x2="323.5" y2="770.9" stroke="#555" stroke-width="0.5"/>
<text class="t" transform="translate(349.5 777.2) scale(1 1.18)" text-anchor="middle">−10</text>
<line x1="349.5" y1="769.4" x2="349.5" y2="770.9" stroke="#555" stroke-width="0.5"/>
<text class="t" transform="translate(375.5 777.2) scale(1 1.18)" text-anchor="middle">−5</text>
<line x1="375.5" y1="769.4" x2="375.5" y2="770.9" stroke="#555" stroke-width="0.5"/>
<text class="t" transform="translate(401.5 777.2) scale(1 1.18)" text-anchor="middle">0</text>
<line x1="401.5" y1="769.4" x2="401.5" y2="770.9" stroke="#555" stroke-width="0.5"/>
<text class="t" transform="translate(427.5 777.2) scale(1 1.18)" text-anchor="middle">5</text>
<line x1="427.5" y1="769.4" x2="427.5" y2="770.9" stroke="#555" stroke-width="0.5"/>
<text class="t" transform="translate(453.5 777.2) scale(1 1.18)" text-anchor="middle">10</text>
<line x1="453.5" y1="769.4" x2="453.5" y2="770.9" stroke="#555" stroke-width="0.5"/>
<text class="t" transform="translate(479.5 777.2) scale(1 1.18)" text-anchor="middle">15</text>
<line x1="479.5" y1="769.4" x2="479.5" y2="770.9" stroke="#555" stroke-width="0.5"/>
<text class="t" transform="translate(304.1 754.6) scale(1 1.18)" text-anchor="end">−15</text>
<line x1="304.8" y1="751.7" x2="306.3" y2="751.7" stroke="#555" stroke-width="0.5"/>
<text class="t" transform="translate(304.1 733.7) scale(1 1.18)" text-anchor="end">−10</text>
<line x1="304.8" y1="730.8" x2="306.3" y2="730.8" stroke="#555" stroke-width="0.5"/>
<text class="t" transform="translate(304.1 712.8) scale(1 1.18)" text-anchor="end">−5</text>
<line x1="304.8" y1="709.9" x2="306.3" y2="709.9" stroke="#555" stroke-width="0.5"/>
<text class="t" transform="translate(304.1 691.9) scale(1 1.18)" text-anchor="end">0</text>
<line x1="304.8" y1="689.0" x2="306.3" y2="689.0" stroke="#555" stroke-width="0.5"/>
<text class="t" transform="translate(304.1 671.0) scale(1 1.18)" text-anchor="end">5</text>
<line x1="304.8" y1="668.1" x2="306.3" y2="668.1" stroke="#555" stroke-width="0.5"/>
<text class="t" transform="translate(304.1 650.1) scale(1 1.18)" text-anchor="end">10</text>
<line x1="304.8" y1="647.2" x2="306.3" y2="647.2" stroke="#555" stroke-width="0.5"/>
<text class="t" transform="translate(304.1 629.2) scale(1 1.18)" text-anchor="end">15</text>
<line x1="304.8" y1="626.3" x2="306.3" y2="626.3" stroke="#555" stroke-width="0.5"/>
<rect x="508.3" y="761.50" width="8.6" height="8.20" fill="#67a3cc"/>
<rect x="508.3" y="753.60" width="8.6" height="8.20" fill="#c8d9ef"/>
<rect x="508.3" y="745.70" width="8.6" height="8.20" fill="#ffa85b"/>
<rect x="508.3" y="737.80" width="8.6" height="8.20" fill="#ffd1a3"/>
<rect x="508.3" y="729.90" width="8.6" height="8.20" fill="#70be70"/>
<rect x="508.3" y="722.00" width="8.6" height="8.20" fill="#b9e9af"/>
<rect x="508.3" y="714.10" width="8.6" height="8.20" fill="#e36c6d"/>
<rect x="508.3" y="706.20" width="8.6" height="8.20" fill="#ffb9b8"/>
<rect x="508.3" y="698.30" width="8.6" height="8.20" fill="#b698d2"/>
<rect x="508.3" y="690.40" width="8.6" height="8.20" fill="#d8c9e2"/>
<rect x="508.3" y="682.50" width="8.6" height="8.20" fill="#b18c85"/>
<rect x="508.3" y="674.60" width="8.6" height="8.20" fill="#d7bcb6"/>
<rect x="508.3" y="666.70" width="8.6" height="8.20" fill="#eca3d6"/>
<rect x="508.3" y="658.80" width="8.6" height="8.20" fill="#facde0"/>
<rect x="508.3" y="650.90" width="8.6" height="8.20" fill="#a8a8a8"/>
<rect x="508.3" y="643.00" width="8.6" height="8.20" fill="#d9d9d9"/>
<rect x="508.3" y="635.10" width="8.6" height="8.20" fill="#d1d269"/>
<rect x="508.3" y="627.20" width="8.6" height="8.20" fill="#e7e7b1"/>
<rect x="508.3" y="619.30" width="8.6" height="8.20" fill="#61d3de"/>
<rect x="508.3" y="611.40" width="8.6" height="8.20" fill="#bde6ed"/>
<rect x="508.3" y="611.4" width="8.6" height="158.0" fill="none" stroke="#c8c8c8" stroke-width="0.5"/>
<line x1="516.9" y1="769.4" x2="518.4" y2="769.4" stroke="#555" stroke-width="0.5"/>
<text class="t" transform="translate(519.2 772.3) scale(1 1.18)">0</text>
<line x1="516.9" y1="751.8" x2="518.4" y2="751.8" stroke="#555" stroke-width="0.5"/>
<text class="t" transform="translate(519.2 754.7) scale(1 1.18)">2</text>
<line x1="516.9" y1="734.3" x2="518.4" y2="734.3" stroke="#555" stroke-width="0.5"/>
<text class="t" transform="translate(519.2 737.2) scale(1 1.18)">4</text>
<line x1="516.9" y1="716.7" x2="518.4" y2="716.7" stroke="#555" stroke-width="0.5"/>
<text class="t" transform="translate(519.2 719.6) scale(1 1.18)">6</text>
<line x1="516.9" y1="699.2" x2="518.4" y2="699.2" stroke="#555" stroke-width="0.5"/>
<text class="t" transform="translate(519.2 702.1) scale(1 1.18)">8</text>
<line x1="516.9" y1="681.6" x2="518.4" y2="681.6" stroke="#555" stroke-width="0.5"/>
<text class="t" transform="translate(519.2 684.5) scale(1 1.18)">10</text>
<line x1="516.9" y1="664.1" x2="518.4" y2="664.1" stroke="#555" stroke-width="0.5"/>
<text class="t" transform="translate(519.2 667.0) scale(1 1.18)">12</text>
<line x1="516.9" y1="646.5" x2="518.4" y2="646.5" stroke="#555" stroke-width="0.5"/>
<text class="t" transform="translate(519.2 649.4) scale(1 1.18)">14</text>
<line x1="516.9" y1="629.0" x2="518.4" y2="629.0" stroke="#555" stroke-width="0.5"/>
<text class="t" transform="translate(519.2 631.9) scale(1 1.18)">16</text>
<line x1="516.9" y1="611.4" x2="518.4" y2="611.4" stroke="#555" stroke-width="0.5"/>
<text class="t" transform="translate(519.2 614.3) scale(1 1.18)">18</text>
<text class="cl" transform="translate(537.5,690.4) rotate(-90)" text-anchor="middle">Course ID</text>
<text class="cap" transform="translate(287.0 801.2) scale(1.046 1)">(<tspan font-weight="bold">h</tspan>) XueTangX-CSEG</text>
</svg></body></html>
